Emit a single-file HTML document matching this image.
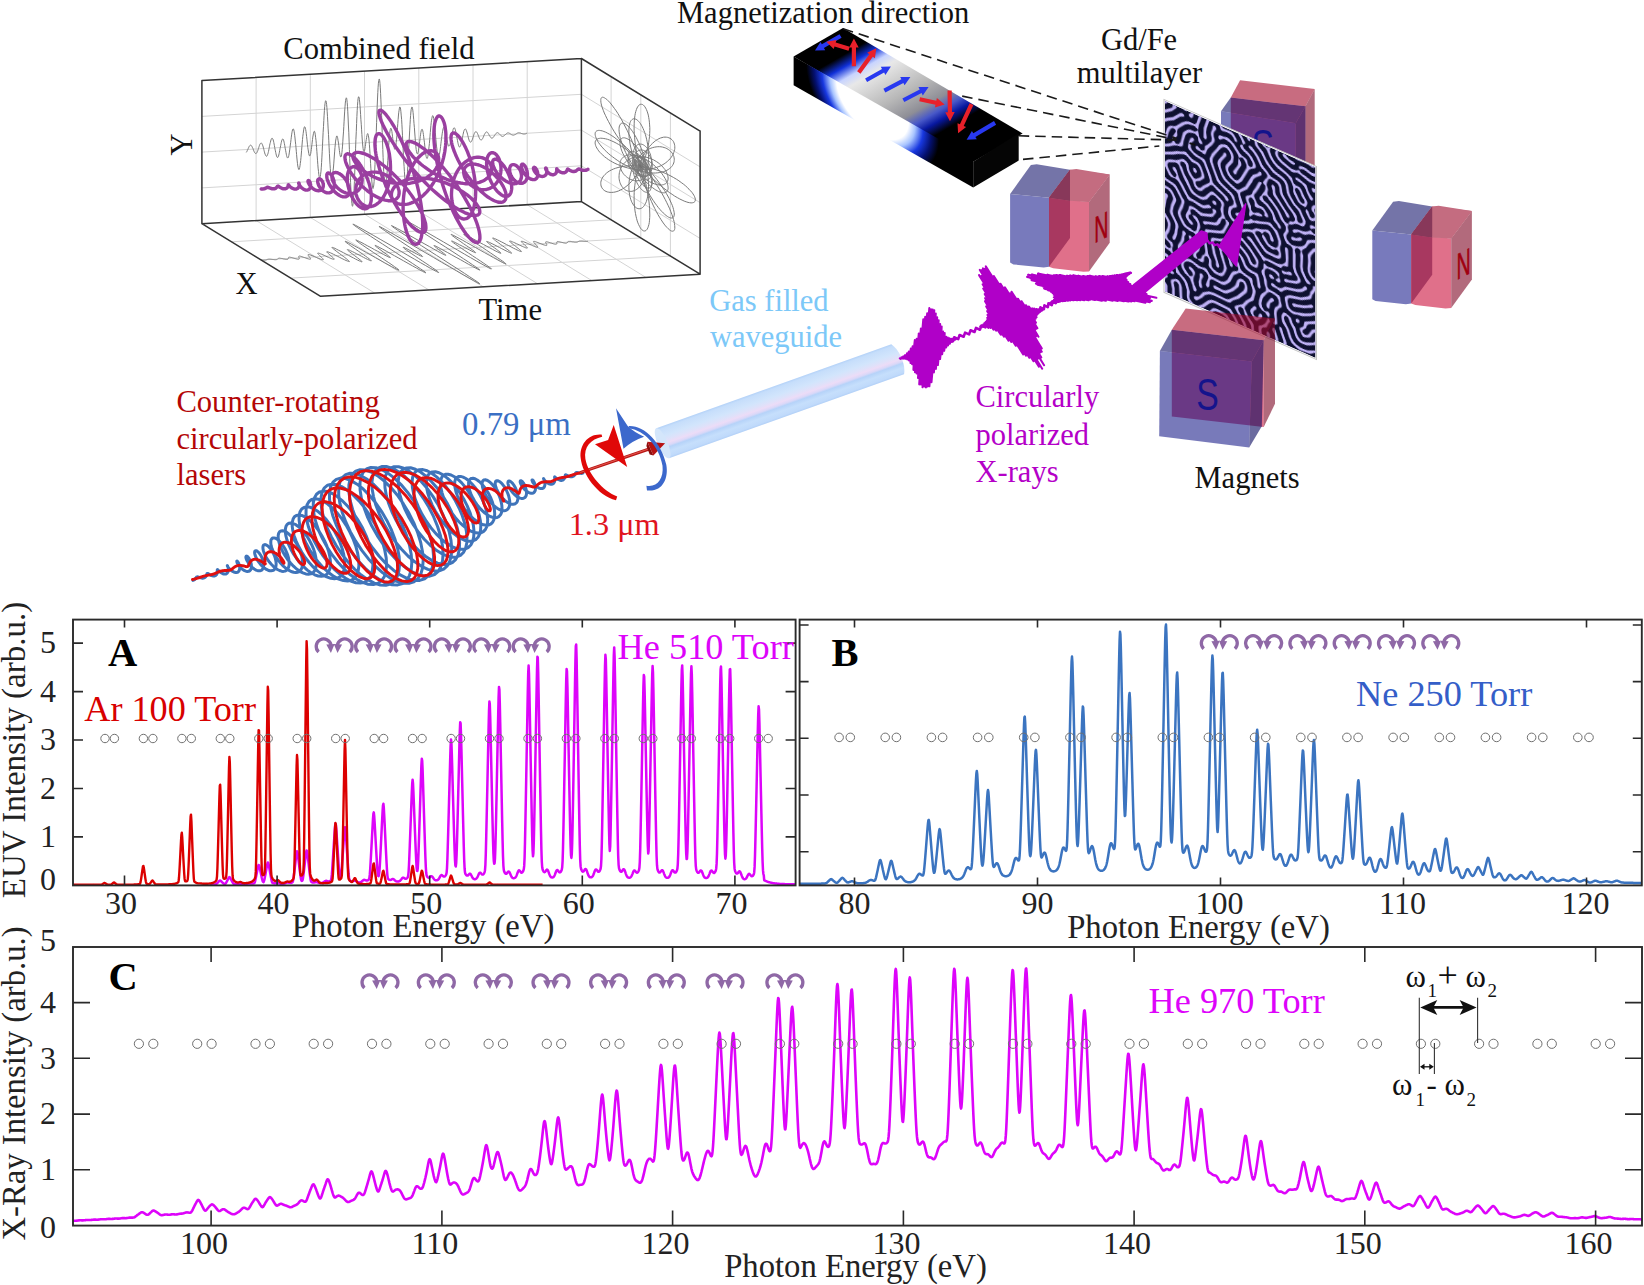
<!DOCTYPE html>
<html><head><meta charset="utf-8"><title>Figure</title>
<style>html,body{margin:0;padding:0;background:#fff;font-family:"Liberation Serif",serif}svg{display:block}</style>
</head><body>
<svg width="1644" height="1285" viewBox="0 0 1644 1285">
<defs><g id="ag"><path d="M-15.61 5.49A7.5 7.5 0 1 1 -3.11 -1.30M15.61 5.49A7.5 7.5 0 1 0 3.11 -1.30" fill="none" stroke="#8f68a6" stroke-width="3.3"/><path d="M-7.90 -2.0L0.40 -2.4L-3.30 6.6ZM7.90 -2.0L-0.40 -2.4L3.30 6.6Z" fill="#8f68a6"/></g>
<linearGradient id="slabTop" x1="0" y1="0" x2="1" y2="0">
 <stop offset="0" stop-color="#000"/><stop offset="0.13" stop-color="#000"/>
 <stop offset="0.19" stop-color="#1030d8"/><stop offset="0.25" stop-color="#c8d4ff"/>
 <stop offset="0.30" stop-color="#e8e8e8"/><stop offset="0.48" stop-color="#b8b8b8"/>
 <stop offset="0.60" stop-color="#8e8e96"/><stop offset="0.66" stop-color="#4858c8"/>
 <stop offset="0.71" stop-color="#0818a0"/><stop offset="0.77" stop-color="#000"/><stop offset="1" stop-color="#000"/>
</linearGradient>
<radialGradient id="slabFront" cx="0.44" cy="0" r="1" gradientTransform="translate(0.44 0) scale(0.37 2.1) translate(-0.44 0)">
 <stop offset="0" stop-color="#fff"/><stop offset="0.54" stop-color="#fff"/>
 <stop offset="0.64" stop-color="#a8c4ff"/><stop offset="0.76" stop-color="#1838e0"/>
 <stop offset="0.88" stop-color="#041070"/><stop offset="1" stop-color="#000"/>
</radialGradient>
<linearGradient id="wg" x1="0" y1="0" x2="0" y2="1">
 <stop offset="0" stop-color="#b4d2f8"/><stop offset="0.07" stop-color="#c6defb"/>
 <stop offset="0.30" stop-color="#d2e5fc"/><stop offset="0.42" stop-color="#dde2fa"/>
 <stop offset="0.53" stop-color="#ecdcf7"/><stop offset="0.61" stop-color="#dad8f8"/>
 <stop offset="0.67" stop-color="#b6d3f9"/><stop offset="0.80" stop-color="#c6dffc"/>
 <stop offset="0.94" stop-color="#c0dafb"/><stop offset="1" stop-color="#b2d0f7"/>
</linearGradient>
<filter id="soft" x="-5%" y="-5%" width="110%" height="110%"><feGaussianBlur stdDeviation="0.55"/></filter>
<filter id="soft2" x="-5%" y="-5%" width="110%" height="110%"><feGaussianBlur stdDeviation="0.8"/></filter>
</defs>
<rect width="1644" height="1285" fill="#fff"/>
<path d="M256.1 220.5L256.1 77.4M256.1 220.5L374.8 293.1M310.3 217.4L310.3 74.3M310.3 217.4L429.0 290.0M364.5 214.2L364.5 71.1M364.5 214.2L483.2 286.8M418.8 211.1L418.8 68.0M418.8 211.1L537.5 283.7M473.0 207.9L473.0 64.8M473.0 207.9L591.7 280.5M527.2 204.8L527.2 61.7M527.2 204.8L645.9 277.4M201.9 187.9L581.4 165.8M581.4 165.8L700.1 238.4M231.6 241.8L611.1 219.8M611.1 219.8L611.1 76.7M201.9 152.1L581.4 130.1M581.4 130.1L700.1 202.6M261.2 260.0L640.8 237.9M640.8 237.9L640.8 94.8M201.9 116.4L581.4 94.3M581.4 94.3L700.1 166.9M290.9 278.1L670.4 256.1M670.4 256.1L670.4 113.0" stroke="#d4d4d4" stroke-width="1" fill="none"/>
<path d="M246.3 152.4L246.6 152.0L246.9 151.4L247.2 150.7L247.6 150.1L247.9 149.3L248.2 148.6L248.5 147.9L248.8 147.2L249.1 146.6L249.4 146.1L249.7 145.7L250.1 145.4L250.4 145.2L250.7 145.2L251.0 145.3L251.3 145.5L251.6 145.9L251.9 146.4L252.2 147.0L252.5 147.7L252.9 148.4L253.2 149.2L253.5 150.0L253.8 150.8L254.1 151.5L254.4 152.1L254.7 152.7L255.0 153.1L255.4 153.4L255.7 153.6L256.0 153.6L256.3 153.4L256.6 153.1L256.9 152.6L257.2 151.9L257.5 151.2L257.9 150.3L258.2 149.4L258.5 148.4L258.8 147.4L259.1 146.5L259.4 145.6L259.7 144.8L260.0 144.1L260.4 143.5L260.7 143.2L261.0 143.0L261.3 143.0L261.6 143.2L261.9 143.6L262.2 144.2L262.5 145.0L262.9 145.9L263.2 147.0L263.5 148.2L263.8 149.4L264.1 150.6L264.4 151.8L264.7 152.9L265.0 154.0L265.4 154.8L265.7 155.5L266.0 156.0L266.3 156.3L266.6 156.3L266.9 156.1L267.2 155.6L267.5 154.8L267.9 153.9L268.2 152.7L268.5 151.4L268.8 149.9L269.1 148.4L269.4 146.8L269.7 145.2L270.0 143.7L270.4 142.3L270.7 141.0L271.0 139.9L271.3 139.1L271.6 138.5L271.9 138.2L272.2 138.2L272.5 138.5L272.9 139.1L273.2 140.0L273.5 141.1L273.8 142.5L274.1 144.0L274.4 145.6L274.7 147.3L275.0 149.1L275.4 150.8L275.7 152.4L276.0 153.8L276.3 155.1L276.6 156.1L276.9 156.9L277.2 157.3L277.5 157.5L277.9 157.3L278.2 156.8L278.5 156.0L278.8 155.0L279.1 153.7L279.4 152.2L279.7 150.6L280.0 148.8L280.4 147.1L280.7 145.4L281.0 143.8L281.3 142.4L281.6 141.1L281.9 140.1L282.2 139.4L282.5 139.1L282.9 139.0L283.2 139.3L283.5 140.0L283.8 140.9L284.1 142.2L284.4 143.7L284.7 145.3L285.0 147.1L285.3 148.9L285.7 150.8L286.0 152.6L286.3 154.2L286.6 155.6L286.9 156.7L287.2 157.5L287.5 157.9L287.8 158.0L288.2 157.6L288.5 156.8L288.8 155.6L289.1 154.0L289.4 152.1L289.7 149.9L290.0 147.5L290.3 145.0L290.7 142.3L291.0 139.7L291.3 137.2L291.6 134.9L291.9 132.9L292.2 131.2L292.5 130.0L292.8 129.2L293.2 128.9L293.5 129.1L293.8 129.9L294.1 131.2L294.4 133.1L294.7 135.3L295.0 138.0L295.3 141.1L295.7 144.4L296.0 147.8L296.3 151.3L296.6 154.7L296.9 158.0L297.2 161.0L297.5 163.7L297.8 166.0L298.2 167.8L298.5 169.0L298.8 169.5L299.1 169.5L299.4 168.9L299.7 167.6L300.0 165.8L300.3 163.4L300.7 160.6L301.0 157.4L301.3 154.0L301.6 150.3L301.9 146.7L302.2 143.0L302.5 139.5L302.8 136.3L303.2 133.5L303.5 131.0L303.8 129.1L304.1 127.7L304.4 126.9L304.7 126.7L305.0 127.1L305.3 128.1L305.7 129.6L306.0 131.5L306.3 133.8L306.6 136.4L306.9 139.1L307.2 142.0L307.5 144.8L307.8 147.5L308.2 149.9L308.5 152.0L308.8 153.7L309.1 155.0L309.4 155.8L309.7 156.0L310.0 155.6L310.3 154.8L310.7 153.5L311.0 151.7L311.3 149.6L311.6 147.2L311.9 144.7L312.2 142.1L312.5 139.5L312.8 137.1L313.2 135.0L313.5 133.3L313.8 132.1L314.1 131.4L314.4 131.2L314.7 131.8L315.0 133.0L315.3 134.8L315.6 137.3L316.0 140.3L316.3 143.7L316.6 147.6L316.9 151.7L317.2 155.9L317.5 160.2L317.8 164.3L318.1 168.1L318.5 171.4L318.8 174.2L319.1 176.3L319.4 177.7L319.7 178.2L320.0 177.8L320.3 176.5L320.6 174.3L321.0 171.1L321.3 167.2L321.6 162.5L321.9 157.2L322.2 151.4L322.5 145.2L322.8 138.9L323.1 132.6L323.5 126.4L323.8 120.6L324.1 115.2L324.4 110.6L324.7 106.7L325.0 103.7L325.3 101.7L325.6 100.8L326.0 100.9L326.3 102.2L326.6 104.4L326.9 107.6L327.2 111.8L327.5 116.7L327.8 122.2L328.1 128.1L328.5 134.4L328.8 140.8L329.1 147.2L329.4 153.3L329.7 159.0L330.0 164.2L330.3 168.7L330.6 172.4L331.0 175.3L331.3 177.2L331.6 178.2L331.9 178.3L332.2 177.5L332.5 175.8L332.8 173.5L333.1 170.5L333.5 167.0L333.8 163.1L334.1 159.1L334.4 155.0L334.7 151.1L335.0 147.3L335.3 144.0L335.6 141.1L336.0 138.8L336.3 137.2L336.6 136.2L336.9 135.9L337.2 136.3L337.5 137.3L337.8 138.8L338.1 140.8L338.5 143.1L338.8 145.6L339.1 148.1L339.4 150.6L339.7 152.8L340.0 154.7L340.3 156.1L340.6 156.9L341.0 157.0L341.3 156.3L341.6 154.9L341.9 152.7L342.2 149.7L342.5 146.1L342.8 141.8L343.1 137.0L343.5 131.9L343.8 126.6L344.1 121.2L344.4 116.0L344.7 111.1L345.0 106.8L345.3 103.1L345.6 100.3L346.0 98.5L346.3 97.8L346.6 98.2L346.9 99.8L347.2 102.6L347.5 106.7L347.8 111.8L348.1 118.0L348.4 125.0L348.8 132.8L349.1 141.1L349.4 149.7L349.7 158.4L350.0 167.0L350.3 175.2L350.6 182.8L350.9 189.6L351.3 195.5L351.6 200.2L351.9 203.6L352.2 205.7L352.5 206.3L352.8 205.5L353.1 203.2L353.4 199.6L353.8 194.7L354.1 188.7L354.4 181.7L354.7 174.0L355.0 165.7L355.3 157.0L355.6 148.2L355.9 139.6L356.3 131.3L356.6 123.5L356.9 116.5L357.2 110.4L357.5 105.3L357.8 101.4L358.1 98.6L358.4 97.0L358.8 96.7L359.1 97.4L359.4 99.3L359.7 102.1L360.0 105.7L360.3 109.9L360.6 114.6L360.9 119.7L361.3 124.8L361.6 129.8L361.9 134.6L362.2 139.0L362.5 142.9L362.8 146.1L363.1 148.6L363.4 150.4L363.8 151.4L364.1 151.6L364.4 151.2L364.7 150.1L365.0 148.5L365.3 146.5L365.6 144.2L365.9 141.8L366.3 139.5L366.6 137.4L366.9 135.6L367.2 134.4L367.5 133.7L367.8 133.6L368.1 134.3L368.4 135.8L368.8 138.1L369.1 141.1L369.4 144.7L369.7 148.9L370.0 153.6L370.3 158.6L370.6 163.7L370.9 168.8L371.3 173.6L371.6 178.0L371.9 181.9L372.2 185.0L372.5 187.2L372.8 188.4L373.1 188.5L373.4 187.3L373.8 185.0L374.1 181.5L374.4 176.8L374.7 171.0L375.0 164.3L375.3 156.8L375.6 148.7L375.9 140.2L376.3 131.4L376.6 122.7L376.9 114.2L377.2 106.2L377.5 99.0L377.8 92.6L378.1 87.3L378.4 83.2L378.8 80.4L379.1 79.1L379.4 79.2L379.7 80.7L380.0 83.6L380.3 87.9L380.6 93.3L380.9 99.8L381.2 107.2L381.6 115.2L381.9 123.7L382.2 132.3L382.5 141.0L382.8 149.4L383.1 157.4L383.4 164.8L383.7 171.3L384.1 176.8L384.4 181.2L384.7 184.5L385.0 186.6L385.3 187.4L385.6 187.1L385.9 185.7L386.2 183.2L386.6 179.8L386.9 175.7L387.2 171.0L387.5 165.9L387.8 160.6L388.1 155.2L388.4 150.0L388.7 145.1L389.1 140.6L389.4 136.7L389.7 133.5L390.0 131.0L390.3 129.3L390.6 128.4L390.9 128.2L391.2 128.7L391.6 129.9L391.9 131.6L392.2 133.8L392.5 136.2L392.8 138.7L393.1 141.2L393.4 143.6L393.7 145.7L394.1 147.4L394.4 148.6L394.7 149.2L395.0 149.2L395.3 148.5L395.6 147.0L395.9 145.0L396.2 142.3L396.6 139.1L396.9 135.5L397.2 131.6L397.5 127.6L397.8 123.5L398.1 119.6L398.4 116.0L398.7 112.8L399.1 110.2L399.4 108.2L399.7 107.1L400.0 106.9L400.3 107.5L400.6 109.1L400.9 111.7L401.2 115.1L401.6 119.3L401.9 124.2L402.2 129.8L402.5 135.8L402.8 142.1L403.1 148.5L403.4 154.8L403.7 160.9L404.1 166.6L404.4 171.7L404.7 176.2L405.0 179.7L405.3 182.3L405.6 184.0L405.9 184.5L406.2 183.9L406.6 182.3L406.9 179.7L407.2 176.2L407.5 171.8L407.8 166.7L408.1 161.0L408.4 154.9L408.7 148.6L409.1 142.3L409.4 136.0L409.7 130.1L410.0 124.6L410.3 119.6L410.6 115.4L410.9 112.0L411.2 109.4L411.6 107.8L411.9 107.0L412.2 107.2L412.5 108.3L412.8 110.1L413.1 112.7L413.4 115.9L413.7 119.5L414.0 123.5L414.4 127.7L414.7 132.0L415.0 136.1L415.3 140.1L415.6 143.7L415.9 146.9L416.2 149.6L416.5 151.6L416.9 153.1L417.2 153.8L417.5 154.0L417.8 153.5L418.1 152.4L418.4 150.9L418.7 148.9L419.0 146.6L419.4 144.1L419.7 141.5L420.0 138.9L420.3 136.4L420.6 134.2L420.9 132.3L421.2 130.8L421.5 129.8L421.9 129.3L422.2 129.3L422.5 129.9L422.8 130.9L423.1 132.5L423.4 134.5L423.7 136.8L424.0 139.4L424.4 142.2L424.7 145.0L425.0 147.9L425.3 150.5L425.6 152.9L425.9 155.0L426.2 156.6L426.5 157.8L426.9 158.4L427.2 158.4L427.5 157.8L427.8 156.7L428.1 154.9L428.4 152.7L428.7 150.0L429.0 146.9L429.4 143.5L429.7 139.9L430.0 136.2L430.3 132.5L430.6 129.0L430.9 125.7L431.2 122.8L431.5 120.2L431.9 118.2L432.2 116.7L432.5 115.8L432.8 115.6L433.1 116.0L433.4 116.9L433.7 118.5L434.0 120.6L434.4 123.1L434.7 126.1L435.0 129.3L435.3 132.7L435.6 136.1L435.9 139.6L436.2 143.0L436.5 146.1L436.9 148.9L437.2 151.4L437.5 153.4L437.8 154.9L438.1 155.9L438.4 156.3L438.7 156.2L439.0 155.6L439.4 154.5L439.7 153.0L440.0 151.0L440.3 148.8L440.6 146.4L440.9 143.8L441.2 141.2L441.5 138.6L441.9 136.1L442.2 133.8L442.5 131.8L442.8 130.1L443.1 128.8L443.4 127.8L443.7 127.3L444.0 127.2L444.4 127.5L444.7 128.2L445.0 129.2L445.3 130.5L445.6 132.0L445.9 133.8L446.2 135.6L446.5 137.4L446.8 139.3L447.2 141.0L447.5 142.5L447.8 143.8L448.1 144.9L448.4 145.7L448.7 146.1L449.0 146.2L449.3 145.9L449.7 145.4L450.0 144.5L450.3 143.3L450.6 142.0L450.9 140.4L451.2 138.7L451.5 137.0L451.8 135.3L452.2 133.6L452.5 132.1L452.8 130.7L453.1 129.5L453.4 128.6L453.7 128.0L454.0 127.8L454.3 127.8L454.7 128.1L455.0 128.8L455.3 129.7L455.6 130.9L455.9 132.3L456.2 133.8L456.5 135.5L456.8 137.2L457.2 139.0L457.5 140.6L457.8 142.2L458.1 143.6L458.4 144.8L458.7 145.8L459.0 146.5L459.3 146.9L459.7 147.0L460.0 146.8L460.3 146.3L460.6 145.6L460.9 144.6L461.2 143.4L461.5 142.1L461.8 140.6L462.2 139.0L462.5 137.4L462.8 135.8L463.1 134.3L463.4 133.0L463.7 131.7L464.0 130.7L464.3 129.9L464.7 129.3L465.0 129.0L465.3 128.9L465.6 129.1L465.9 129.5L466.2 130.1L466.5 130.9L466.8 131.9L467.2 133.0L467.5 134.2L467.8 135.4L468.1 136.6L468.4 137.8L468.7 138.9L469.0 139.9L469.3 140.7L469.7 141.4L470.0 141.9L470.3 142.2L470.6 142.2L470.9 142.1L471.2 141.8L471.5 141.3L471.8 140.7L472.2 139.9L472.5 139.1L472.8 138.1L473.1 137.2L473.4 136.2L473.7 135.2L474.0 134.3L474.3 133.5L474.7 132.9L475.0 132.3L475.3 131.9L475.6 131.7L475.9 131.6L476.2 131.7L476.5 131.9L476.8 132.3L477.2 132.9L477.5 133.5L477.8 134.2L478.1 134.9L478.4 135.7L478.7 136.5L479.0 137.3L479.3 138.0L479.6 138.6L480.0 139.2L480.3 139.6L480.6 139.9L480.9 140.0L481.2 140.0L481.5 139.9L481.8 139.7L482.1 139.3L482.5 138.8L482.8 138.2L483.1 137.6L483.4 136.9L483.7 136.1L484.0 135.4L484.3 134.7L484.6 134.0L485.0 133.5L485.3 132.9L485.6 132.5L485.9 132.2L486.2 132.0L486.5 131.9L486.8 132.0L487.1 132.1L487.5 132.4L487.8 132.7L488.1 133.2L488.4 133.7L488.7 134.2L489.0 134.8L489.3 135.3L489.6 135.9L490.0 136.4L490.3 136.9L490.6 137.3L490.9 137.7L491.2 137.9L491.5 138.1L491.8 138.2L492.1 138.2L492.5 138.0L492.8 137.8L493.1 137.5L493.4 137.2L493.7 136.8L494.0 136.3L494.3 135.8L494.6 135.3L495.0 134.9L495.3 134.4L495.6 134.0L495.9 133.6L496.2 133.3L496.5 133.0L496.8 132.8L497.1 132.7L497.5 132.7L497.8 132.7L498.1 132.9L498.4 133.0L498.7 133.3L499.0 133.6L499.3 133.9L499.6 134.2L500.0 134.6L500.3 134.9L500.6 135.3L500.9 135.6L501.2 135.8L501.5 136.1L501.8 136.2L502.1 136.4L502.5 136.4L502.8 136.4L503.1 136.3L503.4 136.2L503.7 136.0L504.0 135.8L504.3 135.6L504.6 135.3L505.0 135.0L505.3 134.7L505.6 134.3L505.9 134.0L506.2 133.8L506.5 133.5L506.8 133.3L507.1 133.1L507.5 133.0L507.8 132.9L508.1 132.9L508.4 132.9L508.7 133.0L509.0 133.1L509.3 133.2L509.6 133.4L510.0 133.6L510.3 133.8L510.6 134.0L510.9 134.2L511.2 134.4L511.5 134.6L511.8 134.8L512.1 134.9L512.4 135.0L512.8 135.1L513.1 135.2L513.4 135.2L513.7 135.1L514.0 135.1L514.3 134.9L514.6 134.8L514.9 134.6L515.3 134.5L515.6 134.3L515.9 134.1L516.2 133.9L516.5 133.7L516.8 133.5L517.1 133.3L517.4 133.1L517.8 133.0L518.1 132.9L518.4 132.8L518.7 132.8L519.0 132.8L519.3 132.8L519.6 132.9L519.9 132.9L520.3 133.0L520.6 133.1L520.9 133.2L521.2 133.4L521.5 133.5L521.8 133.6L522.1 133.7L522.4 133.8L522.8 133.9L523.1 134.0L523.4 134.0L523.7 134.1L524.0 134.1L524.3 134.1L524.6 134.0L524.9 133.9L525.3 133.9L525.6 133.8L525.9 133.7L526.2 133.5L526.5 133.4L526.8 133.3L527.1 133.2" stroke="#7a7a7a" stroke-width="1" fill="none"/>
<path d="M261.2 260.0L261.6 260.0L262.0 260.0L262.4 260.1L262.8 260.1L263.2 260.1L263.6 260.1L264.0 260.1L264.4 260.1L264.7 260.1L265.0 260.1L265.3 260.1L265.6 260.0L265.9 260.0L266.1 259.9L266.3 259.8L266.6 259.8L266.8 259.7L267.0 259.6L267.2 259.5L267.5 259.4L267.7 259.3L267.9 259.3L268.2 259.2L268.5 259.2L268.8 259.1L269.1 259.1L269.4 259.1L269.8 259.1L270.2 259.1L270.6 259.2L271.1 259.2L271.5 259.3L272.0 259.3L272.4 259.4L272.9 259.5L273.4 259.5L273.8 259.6L274.3 259.6L274.7 259.7L275.1 259.7L275.5 259.7L275.8 259.7L276.1 259.7L276.4 259.6L276.6 259.6L276.9 259.5L277.0 259.4L277.2 259.3L277.4 259.1L277.5 259.0L277.7 258.9L277.8 258.8L278.0 258.6L278.2 258.5L278.4 258.4L278.6 258.3L278.8 258.3L279.1 258.2L279.5 258.2L279.8 258.2L280.3 258.3L280.7 258.3L281.2 258.4L281.7 258.5L282.2 258.6L282.8 258.7L283.3 258.9L283.9 259.0L284.5 259.1L285.0 259.2L285.5 259.3L286.0 259.4L286.4 259.4L286.8 259.4L287.1 259.4L287.4 259.4L287.7 259.3L287.8 259.2L288.0 259.1L288.1 258.9L288.2 258.7L288.2 258.6L288.3 258.4L288.3 258.2L288.3 258.0L288.4 257.8L288.5 257.6L288.6 257.5L288.7 257.3L289.0 257.3L289.2 257.2L289.6 257.2L290.0 257.2L290.4 257.3L291.0 257.4L291.5 257.5L292.2 257.7L292.8 257.9L293.5 258.1L294.2 258.3L294.9 258.5L295.6 258.7L296.2 258.8L296.8 259.0L297.4 259.1L297.8 259.2L298.3 259.2L298.6 259.2L298.9 259.2L299.1 259.1L299.2 258.9L299.3 258.7L299.3 258.5L299.2 258.3L299.1 258.0L299.0 257.7L298.9 257.4L298.8 257.1L298.7 256.9L298.7 256.6L298.7 256.4L298.8 256.3L299.0 256.2L299.3 256.1L299.7 256.1L300.1 256.2L300.7 256.3L301.3 256.5L302.0 256.7L302.8 257.0L303.6 257.3L304.5 257.6L305.4 257.9L306.2 258.2L307.0 258.5L307.8 258.7L308.5 258.9L309.1 259.1L309.7 259.2L310.1 259.2L310.4 259.2L310.6 259.1L310.6 258.9L310.6 258.7L310.4 258.4L310.2 258.0L309.9 257.6L309.6 257.2L309.3 256.8L308.9 256.3L308.6 255.9L308.3 255.5L308.1 255.2L308.0 254.9L308.0 254.7L308.2 254.6L308.5 254.5L308.9 254.6L309.5 254.7L310.2 254.9L311.0 255.2L312.0 255.6L313.0 256.0L314.2 256.5L315.3 257.0L316.5 257.5L317.7 258.0L318.8 258.4L319.9 258.9L320.8 259.2L321.6 259.5L322.3 259.7L322.8 259.8L323.1 259.8L323.3 259.7L323.3 259.4L323.1 259.1L322.8 258.7L322.4 258.2L321.8 257.6L321.2 257.1L320.5 256.4L319.9 255.8L319.3 255.2L318.7 254.6L318.2 254.1L317.9 253.7L317.7 253.4L317.7 253.2L317.9 253.1L318.3 253.1L318.9 253.2L319.7 253.5L320.6 253.9L321.7 254.3L322.9 254.8L324.2 255.4L325.6 256.0L327.0 256.7L328.4 257.3L329.7 257.9L330.8 258.4L331.9 258.8L332.8 259.1L333.5 259.3L334.0 259.4L334.2 259.3L334.3 259.1L334.1 258.8L333.7 258.4L333.2 257.8L332.5 257.2L331.7 256.5L330.8 255.7L329.9 254.9L329.1 254.2L328.3 253.5L327.6 252.9L327.1 252.4L326.8 252.0L326.8 251.7L327.0 251.6L327.4 251.7L328.1 251.9L329.1 252.3L330.4 252.8L331.9 253.5L333.5 254.3L335.3 255.2L337.2 256.1L339.2 257.1L341.1 258.1L342.9 259.0L344.6 259.8L346.1 260.5L347.4 261.0L348.4 261.4L349.1 261.6L349.4 261.6L349.4 261.4L349.1 261.0L348.4 260.4L347.5 259.6L346.2 258.6L344.8 257.5L343.2 256.3L341.4 255.0L339.7 253.7L337.9 252.4L336.3 251.2L334.9 250.1L333.7 249.1L332.7 248.4L332.2 247.8L331.9 247.4L332.1 247.3L332.7 247.5L333.7 247.8L335.0 248.4L336.7 249.3L338.7 250.3L340.9 251.4L343.4 252.7L345.9 254.0L348.5 255.3L351.0 256.7L353.4 257.9L355.6 259.1L357.6 260.1L359.3 260.9L360.6 261.4L361.5 261.8L362.0 261.9L362.2 261.8L361.9 261.4L361.2 260.8L360.3 260.0L359.0 259.0L357.6 257.9L356.0 256.7L354.4 255.5L352.7 254.2L351.2 253.1L349.8 252.0L348.7 251.1L347.9 250.4L347.4 249.9L347.3 249.6L347.6 249.6L348.3 249.8L349.4 250.2L350.8 250.9L352.6 251.7L354.6 252.7L356.8 253.9L359.1 255.0L361.4 256.2L363.6 257.4L365.7 258.5L367.6 259.4L369.2 260.1L370.3 260.6L371.1 260.9L371.4 260.8L371.1 260.5L370.4 259.8L369.3 258.9L367.7 257.7L365.7 256.3L363.4 254.6L360.9 252.9L358.3 251.1L355.6 249.2L353.0 247.4L350.6 245.7L348.6 244.2L346.9 243.0L345.7 242.0L345.0 241.4L345.0 241.2L345.6 241.4L346.9 241.9L348.9 242.9L351.4 244.2L354.5 245.9L358.2 247.9L362.2 250.2L366.5 252.6L371.0 255.1L375.5 257.7L380.0 260.2L384.2 262.6L388.1 264.7L391.6 266.6L394.5 268.2L396.7 269.3L398.3 270.0L399.0 270.3L399.1 270.1L398.3 269.4L396.8 268.3L394.7 266.8L392.0 264.9L388.8 262.7L385.1 260.3L381.3 257.7L377.3 255.0L373.3 252.4L369.5 249.8L366.0 247.5L362.8 245.3L360.2 243.5L358.1 242.0L356.7 240.9L355.9 240.2L355.8 239.9L356.5 240.1L357.7 240.7L359.6 241.6L362.0 242.8L364.7 244.3L367.8 246.0L371.1 247.7L374.4 249.6L377.7 251.3L380.8 253.0L383.5 254.5L386.0 255.7L387.9 256.7L389.3 257.4L390.2 257.7L390.5 257.6L390.3 257.3L389.5 256.6L388.3 255.7L386.8 254.5L385.0 253.2L383.0 251.8L381.0 250.3L379.2 249.0L377.5 247.7L376.2 246.7L375.3 245.9L374.9 245.5L375.2 245.4L376.1 245.8L377.7 246.5L379.9 247.7L382.8 249.2L386.2 251.1L390.1 253.3L394.4 255.7L398.9 258.2L403.5 260.8L408.1 263.4L412.4 265.8L416.4 268.0L419.8 269.9L422.6 271.4L424.6 272.4L425.7 272.8L425.9 272.7L425.1 272.0L423.3 270.7L420.5 268.8L416.8 266.3L412.3 263.3L407.1 259.9L401.3 256.2L395.2 252.2L388.8 248.1L382.5 244.0L376.3 240.0L370.5 236.2L365.3 232.8L360.8 229.9L357.3 227.5L354.7 225.7L353.2 224.5L352.8 224.1L353.7 224.4L355.7 225.4L358.8 227.1L362.9 229.4L368.0 232.3L373.8 235.6L380.2 239.3L387.0 243.2L394.0 247.3L401.1 251.4L407.9 255.4L414.5 259.2L420.4 262.6L425.7 265.6L430.2 268.2L433.8 270.1L436.4 271.5L438.1 272.3L438.7 272.5L438.4 272.1L437.3 271.1L435.3 269.7L432.7 267.9L429.6 265.8L426.1 263.4L422.4 261.0L418.7 258.5L415.2 256.1L411.9 253.9L409.0 251.9L406.6 250.2L404.8 248.9L403.6 247.9L403.1 247.4L403.3 247.3L404.0 247.5L405.4 248.1L407.2 249.0L409.3 250.1L411.6 251.3L414.1 252.6L416.4 253.8L418.6 254.9L420.4 255.8L421.7 256.4L422.5 256.6L422.6 256.5L422.1 255.9L420.8 254.9L418.8 253.5L416.1 251.6L412.9 249.4L409.1 246.9L405.0 244.2L400.7 241.3L396.3 238.5L392.1 235.7L388.2 233.1L384.8 230.7L382.0 228.8L380.1 227.4L379.1 226.6L379.1 226.4L380.2 226.8L382.5 228.0L385.9 229.9L390.3 232.4L395.8 235.5L402.2 239.2L409.3 243.3L417.0 247.8L425.1 252.5L433.3 257.3L441.4 262.1L449.3 266.7L456.6 270.9L463.2 274.8L468.9 278.0L473.5 280.6L476.9 282.5L479.1 283.6L479.8 283.8L479.2 283.2L477.3 281.8L474.1 279.7L469.7 276.8L464.4 273.3L458.1 269.2L451.2 264.8L443.9 260.1L436.4 255.3L428.9 250.5L421.6 245.8L414.7 241.4L408.5 237.3L403.0 233.8L398.5 230.8L395.1 228.5L392.8 226.9L391.6 225.9L391.5 225.6L392.5 226.0L394.5 227.1L397.4 228.6L401.1 230.6L405.4 233.0L410.0 235.7L415.0 238.5L420.0 241.3L424.9 244.1L429.6 246.7L433.8 249.1L437.5 251.2L440.6 252.8L443.0 254.1L444.7 254.9L445.7 255.3L445.9 255.2L445.6 254.8L444.7 254.1L443.4 253.0L441.9 251.9L440.1 250.6L438.3 249.3L436.7 248.0L435.3 247.0L434.4 246.2L433.9 245.7L434.0 245.5L434.7 245.7L436.1 246.3L438.1 247.4L440.8 248.8L444.0 250.6L447.7 252.6L451.8 254.9L456.1 257.3L460.5 259.7L464.7 262.1L468.7 264.4L472.4 266.3L475.4 268.0L477.7 269.2L479.3 269.9L479.9 270.1L479.6 269.7L478.2 268.6L475.9 267.0L472.6 264.8L468.5 262.0L463.6 258.8L458.1 255.2L452.1 251.3L445.8 247.2L439.3 243.1L433.0 239.0L427.0 235.1L421.4 231.5L416.5 228.3L412.4 225.5L409.3 223.4L407.2 221.9L406.3 221.1L406.5 221.0L407.9 221.7L410.5 223.0L414.1 225.0L418.6 227.6L424.0 230.7L430.1 234.2L436.7 238.0L443.6 242.0L450.6 246.1L457.6 250.1L464.3 254.0L470.5 257.6L476.1 260.8L481.0 263.6L485.1 265.8L488.2 267.5L490.3 268.6L491.4 269.0L491.5 268.9L490.8 268.2L489.1 267.0L486.8 265.3L483.8 263.3L480.3 260.9L476.5 258.4L472.6 255.8L468.6 253.1L464.8 250.6L461.3 248.2L458.2 246.1L455.6 244.3L453.6 242.9L452.3 241.8L451.6 241.2L451.6 241.0L452.2 241.1L453.4 241.6L455.1 242.5L457.2 243.5L459.6 244.8L462.2 246.1L464.9 247.5L467.4 248.9L469.8 250.1L471.9 251.2L473.6 252.0L474.8 252.5L475.5 252.7L475.7 252.6L475.2 252.1L474.3 251.3L472.8 250.2L470.9 248.8L468.7 247.2L466.2 245.5L463.5 243.7L460.9 241.8L458.3 240.0L456.0 238.4L454.0 236.9L452.4 235.8L451.4 234.9L451.0 234.5L451.3 234.4L452.2 234.8L453.9 235.6L456.2 236.8L459.2 238.4L462.7 240.3L466.6 242.5L470.9 244.9L475.5 247.5L480.1 250.1L484.7 252.7L489.2 255.2L493.3 257.5L497.0 259.5L500.2 261.3L502.8 262.6L504.6 263.5L505.8 264.0L506.1 264.0L505.7 263.6L504.6 262.6L502.8 261.3L500.3 259.6L497.4 257.6L494.0 255.3L490.3 252.8L486.4 250.2L482.6 247.6L478.8 245.1L475.2 242.7L472.0 240.5L469.1 238.6L466.9 236.9L465.2 235.7L464.1 234.8L463.7 234.4L464.0 234.3L464.9 234.6L466.4 235.3L468.4 236.4L470.9 237.7L473.7 239.2L476.9 240.9L480.1 242.7L483.5 244.5L486.7 246.2L489.8 247.9L492.7 249.4L495.2 250.8L497.3 251.8L498.9 252.6L500.1 253.1L500.8 253.3L501.0 253.2L500.8 252.9L500.1 252.2L499.1 251.4L497.8 250.4L496.3 249.2L494.6 248.0L493.0 246.8L491.3 245.6L489.9 244.4L488.6 243.4L487.6 242.6L486.9 242.0L486.6 241.6L486.7 241.4L487.2 241.5L488.1 241.9L489.4 242.4L491.0 243.2L492.9 244.1L494.9 245.1L497.2 246.3L499.5 247.5L501.8 248.7L504.0 249.8L506.0 250.8L507.8 251.7L509.3 252.4L510.5 252.9L511.2 253.2L511.6 253.2L511.6 252.9L511.2 252.5L510.4 251.8L509.3 250.9L507.9 249.8L506.2 248.6L504.4 247.2L502.5 245.8L500.6 244.5L498.8 243.1L497.1 241.8L495.5 240.7L494.3 239.7L493.4 238.9L492.8 238.4L492.6 238.0L492.9 238.0L493.5 238.1L494.5 238.5L495.8 239.1L497.5 239.9L499.5 240.9L501.7 242.0L504.0 243.2L506.4 244.5L508.8 245.7L511.1 246.9L513.3 248.1L515.4 249.1L517.2 250.0L518.7 250.7L519.9 251.2L520.8 251.5L521.3 251.6L521.5 251.5L521.3 251.2L520.9 250.7L520.2 250.1L519.3 249.3L518.2 248.4L516.9 247.4L515.7 246.4L514.4 245.4L513.2 244.5L512.1 243.6L511.1 242.8L510.4 242.1L509.9 241.6L509.6 241.2L509.6 241.0L509.9 241.0L510.5 241.1L511.3 241.3L512.3 241.8L513.5 242.3L514.9 242.9L516.3 243.6L517.9 244.3L519.4 245.0L520.9 245.7L522.3 246.4L523.6 246.9L524.8 247.4L525.7 247.8L526.5 248.0L527.0 248.1L527.3 248.1L527.4 247.9L527.3 247.7L527.0 247.3L526.6 246.8L526.0 246.2L525.3 245.6L524.6 244.9L523.9 244.2L523.2 243.6L522.5 243.0L522.0 242.4L521.6 242.0L521.4 241.6L521.3 241.4L521.5 241.2L521.8 241.2L522.3 241.3L523.1 241.6L523.9 241.9L525.0 242.3L526.1 242.8L527.4 243.3L528.7 243.9L530.0 244.5L531.3 245.0L532.5 245.6L533.7 246.1L534.7 246.5L535.7 246.9L536.4 247.1L537.0 247.3L537.5 247.3L537.7 247.2L537.8 247.1L537.7 246.8L537.5 246.5L537.2 246.0L536.8 245.6L536.3 245.0L535.8 244.5L535.2 244.0L534.7 243.4L534.3 242.9L533.9 242.5L533.6 242.1L533.5 241.8L533.5 241.6L533.6 241.4L533.9 241.4L534.3 241.4L534.9 241.5L535.5 241.7L536.3 242.0L537.2 242.3L538.1 242.7L539.1 243.1L540.1 243.5L541.1 243.9L542.1 244.2L543.0 244.6L543.9 244.9L544.6 245.1L545.3 245.3L545.8 245.4L546.3 245.5L546.6 245.4L546.8 245.3L546.9 245.2L546.9 245.0L546.8 244.7L546.7 244.4L546.5 244.1L546.3 243.7L546.1 243.4L545.9 243.0L545.7 242.7L545.6 242.4L545.6 242.2L545.6 242.0L545.7 241.9L546.0 241.8L546.3 241.8L546.7 241.8L547.2 241.9L547.8 242.0L548.4 242.2L549.1 242.4L549.8 242.6L550.6 242.9L551.4 243.1L552.1 243.4L552.9 243.6L553.5 243.8L554.2 244.0L554.8 244.1L555.3 244.2L555.7 244.2L556.1 244.2L556.3 244.2L556.5 244.1L556.7 244.0L556.8 243.8L556.8 243.6L556.8 243.4L556.8 243.1L556.7 242.9L556.7 242.6L556.7 242.4L556.7 242.2L556.7 242.0L556.8 241.9L557.0 241.7L557.2 241.6L557.5 241.6L557.8 241.6L558.2 241.6L558.7 241.7L559.2 241.7L559.7 241.9L560.3 242.0L560.9 242.2L561.5 242.3L562.1 242.5L562.8 242.6L563.3 242.8L563.9 242.9L564.4 243.0L564.9 243.1L565.4 243.2L565.8 243.2L566.1 243.2L566.4 243.1L566.7 243.1L566.9 243.0L567.0 242.9L567.2 242.7L567.3 242.6L567.4 242.4L567.5 242.3L567.6 242.1L567.7 241.9L567.8 241.8L568.0 241.7L568.2 241.6L568.4 241.5L568.6 241.4L568.9 241.4L569.3 241.4L569.6 241.4L570.0 241.4L570.5 241.4L570.9 241.5L571.4 241.6L571.9 241.7L572.4 241.8L572.9 241.9L573.4 241.9L573.9 242.0L574.4 242.1L574.8 242.2L575.3 242.2L575.7 242.2L576.0 242.2L576.4 242.2L576.7 242.2L576.9 242.1L577.2 242.1L577.4 242.0L577.6 241.9L577.8 241.8L578.0 241.7L578.2 241.6L578.4 241.5L578.6 241.4L578.8 241.3L579.0 241.2L579.2 241.1L579.5 241.1L579.8 241.0L580.1 241.0L580.4 241.0L580.8 241.0L581.2 241.0L581.6 241.0L582.0 241.1L582.4 241.1L582.9 241.1L583.3 241.2L583.7 241.2L584.2 241.3L584.6 241.3L585.0 241.4L585.4 241.4L585.8 241.4L586.1 241.4L586.5 241.4L586.8 241.4L587.1 241.3L587.4 241.3L587.7 241.3L588.0 241.2" stroke="#7a7a7a" stroke-width="1" fill="none"/>
<path d="M640.7 166.8L640.7 166.9L640.8 166.9L640.8 166.9L640.8 166.9L640.9 166.9L640.9 167.0L640.9 167.0L641.0 167.0L641.0 167.0L641.0 167.0L641.1 166.9L641.1 166.9L641.1 166.9L641.1 166.9L641.2 166.9L641.2 166.9L641.2 166.8L641.2 166.8L641.2 166.8L641.2 166.7L641.2 166.7L641.3 166.6L641.3 166.6L641.2 166.5L641.2 166.5L641.2 166.4L641.2 166.4L641.2 166.3L641.2 166.3L641.2 166.2L641.2 166.2L641.1 166.1L641.1 166.1L641.1 166.0L641.0 166.0L641.0 165.9L641.0 165.9L640.9 165.8L640.9 165.8L640.8 165.7L640.8 165.7L640.8 165.7L640.7 165.6L640.7 165.6L640.6 165.6L640.6 165.6L640.5 165.6L640.5 165.6L640.5 165.6L640.4 165.6L640.4 165.6L640.3 165.6L640.3 165.6L640.3 165.6L640.2 165.6L640.2 165.7L640.2 165.7L640.2 165.7L640.1 165.8L640.1 165.8L640.1 165.9L640.1 165.9L640.1 166.0L640.1 166.0L640.1 166.1L640.1 166.2L640.1 166.2L640.1 166.3L640.2 166.4L640.2 166.4L640.2 166.5L640.2 166.6L640.3 166.6L640.3 166.7L640.3 166.8L640.4 166.8L640.4 166.9L640.5 167.0L640.5 167.0L640.6 167.1L640.6 167.1L640.7 167.2L640.7 167.2L640.8 167.3L640.8 167.3L640.9 167.3L641.0 167.4L641.0 167.4L641.1 167.4L641.1 167.4L641.2 167.4L641.2 167.4L641.3 167.4L641.3 167.3L641.4 167.3L641.4 167.3L641.4 167.3L641.5 167.2L641.5 167.2L641.5 167.1L641.5 167.1L641.6 167.0L641.6 166.9L641.6 166.8L641.6 166.8L641.6 166.7L641.6 166.6L641.6 166.5L641.5 166.4L641.5 166.3L641.5 166.3L641.5 166.2L641.4 166.1L641.4 166.0L641.3 165.9L641.3 165.8L641.2 165.7L641.2 165.6L641.1 165.6L641.0 165.5L641.0 165.4L640.9 165.3L640.8 165.3L640.8 165.2L640.7 165.2L640.6 165.1L640.6 165.1L640.5 165.1L640.4 165.0L640.3 165.0L640.3 165.0L640.2 165.0L640.1 165.0L640.1 165.0L640.0 165.0L640.0 165.1L639.9 165.1L639.9 165.2L639.8 165.2L639.8 165.3L639.8 165.3L639.7 165.4L639.7 165.5L639.7 165.6L639.7 165.7L639.7 165.8L639.7 165.9L639.7 166.0L639.7 166.1L639.7 166.2L639.8 166.3L639.8 166.4L639.8 166.5L639.9 166.7L639.9 166.8L640.0 166.9L640.1 167.0L640.1 167.1L640.2 167.2L640.3 167.3L640.4 167.4L640.5 167.5L640.5 167.6L640.6 167.7L640.7 167.8L640.8 167.8L640.9 167.9L641.0 167.9L641.1 168.0L641.2 168.0L641.3 168.0L641.4 168.0L641.4 168.0L641.5 168.0L641.6 168.0L641.7 168.0L641.8 168.0L641.8 167.9L641.9 167.9L641.9 167.8L642.0 167.7L642.0 167.6L642.1 167.6L642.1 167.5L642.1 167.3L642.1 167.2L642.1 167.1L642.1 167.0L642.1 166.9L642.1 166.7L642.1 166.6L642.0 166.4L642.0 166.3L641.9 166.2L641.9 166.0L641.8 165.9L641.7 165.7L641.7 165.6L641.6 165.4L641.5 165.3L641.4 165.2L641.3 165.1L641.2 164.9L641.1 164.8L641.0 164.7L640.8 164.6L640.7 164.6L640.6 164.5L640.5 164.4L640.4 164.4L640.2 164.3L640.1 164.3L640.0 164.3L639.9 164.3L639.8 164.3L639.7 164.3L639.6 164.3L639.5 164.4L639.4 164.4L639.3 164.5L639.3 164.6L639.2 164.7L639.2 164.8L639.1 164.9L639.1 165.0L639.0 165.1L639.0 165.3L639.0 165.4L639.0 165.6L639.0 165.8L639.0 165.9L639.1 166.1L639.1 166.3L639.2 166.4L639.2 166.6L639.3 166.8L639.4 167.0L639.5 167.2L639.6 167.3L639.7 167.5L639.8 167.7L639.9 167.8L640.0 168.0L640.2 168.1L640.3 168.2L640.4 168.4L640.6 168.5L640.7 168.6L640.9 168.7L641.0 168.7L641.1 168.8L641.3 168.9L641.4 168.9L641.6 168.9L641.7 168.9L641.8 168.9L642.0 168.9L642.1 168.8L642.2 168.8L642.3 168.7L642.4 168.6L642.5 168.5L642.6 168.4L642.7 168.2L642.7 168.1L642.8 167.9L642.8 167.8L642.8 167.6L642.8 167.4L642.8 167.2L642.8 167.0L642.8 166.8L642.8 166.6L642.7 166.4L642.7 166.1L642.6 165.9L642.5 165.7L642.4 165.5L642.3 165.2L642.2 165.0L642.1 164.8L641.9 164.6L641.8 164.4L641.6 164.2L641.5 164.0L641.3 163.9L641.2 163.7L641.0 163.6L640.8 163.5L640.6 163.4L640.5 163.3L640.3 163.2L640.1 163.1L639.9 163.1L639.8 163.1L639.6 163.1L639.4 163.1L639.3 163.1L639.2 163.2L639.0 163.2L638.9 163.3L638.8 163.5L638.7 163.6L638.6 163.7L638.5 163.9L638.4 164.1L638.4 164.3L638.3 164.5L638.3 164.7L638.3 165.0L638.3 165.2L638.3 165.5L638.3 165.7L638.4 166.0L638.5 166.3L638.5 166.6L638.6 166.9L638.7 167.2L638.8 167.4L639.0 167.7L639.1 168.0L639.3 168.3L639.4 168.5L639.6 168.8L639.8 169.0L640.0 169.3L640.2 169.5L640.4 169.7L640.6 169.9L640.8 170.0L641.0 170.2L641.3 170.3L641.5 170.4L641.7 170.5L641.9 170.5L642.1 170.6L642.3 170.6L642.5 170.6L642.7 170.6L642.8 170.5L643.0 170.4L643.2 170.3L643.3 170.2L643.4 170.0L643.5 169.8L643.6 169.6L643.7 169.4L643.8 169.2L643.8 168.9L643.8 168.7L643.8 168.4L643.8 168.1L643.8 167.8L643.7 167.4L643.7 167.1L643.6 166.8L643.5 166.4L643.4 166.1L643.2 165.7L643.1 165.4L642.9 165.0L642.7 164.7L642.5 164.3L642.3 164.0L642.1 163.7L641.8 163.4L641.6 163.1L641.3 162.8L641.1 162.6L640.8 162.3L640.5 162.1L640.3 161.9L640.0 161.7L639.7 161.6L639.5 161.5L639.2 161.4L638.9 161.3L638.7 161.3L638.4 161.3L638.2 161.3L638.0 161.3L637.8 161.4L637.6 161.5L637.4 161.7L637.2 161.8L637.1 162.0L637.0 162.2L636.9 162.5L636.8 162.7L636.7 163.0L636.7 163.3L636.7 163.7L636.7 164.0L636.7 164.4L636.8 164.7L636.8 165.1L636.9 165.5L637.1 165.9L637.2 166.3L637.4 166.7L637.6 167.1L637.8 167.5L638.0 167.9L638.2 168.3L638.5 168.7L638.8 169.1L639.1 169.4L639.4 169.7L639.7 170.1L640.0 170.4L640.3 170.6L640.7 170.9L641.0 171.1L641.4 171.3L641.7 171.5L642.0 171.6L642.4 171.7L642.7 171.8L643.0 171.8L643.4 171.8L643.7 171.8L643.9 171.8L644.2 171.7L644.5 171.5L644.7 171.4L644.9 171.2L645.1 171.0L645.3 170.7L645.4 170.5L645.6 170.1L645.7 169.8L645.7 169.5L645.8 169.1L645.8 168.7L645.8 168.3L645.8 167.9L645.7 167.4L645.6 167.0L645.5 166.5L645.3 166.1L645.2 165.6L645.0 165.2L644.7 164.7L644.5 164.3L644.2 163.8L643.9 163.4L643.6 163.0L643.3 162.6L643.0 162.3L642.6 161.9L642.2 161.6L641.9 161.3L641.5 161.0L641.1 160.8L640.7 160.6L640.3 160.5L639.9 160.3L639.5 160.2L639.1 160.2L638.7 160.2L638.4 160.2L638.0 160.3L637.7 160.4L637.4 160.5L637.1 160.7L636.8 160.9L636.5 161.2L636.3 161.5L636.0 161.8L635.9 162.2L635.7 162.6L635.6 163.0L635.5 163.5L635.4 163.9L635.4 164.4L635.4 165.0L635.4 165.5L635.4 166.0L635.5 166.6L635.6 167.1L635.8 167.7L636.0 168.3L636.2 168.8L636.4 169.4L636.7 169.9L636.9 170.4L637.2 170.9L637.6 171.4L637.9 171.9L638.3 172.3L638.7 172.7L639.1 173.1L639.5 173.4L639.9 173.7L640.3 174.0L640.7 174.2L641.1 174.4L641.6 174.5L642.0 174.6L642.4 174.6L642.8 174.6L643.2 174.6L643.6 174.4L643.9 174.3L644.3 174.1L644.6 173.8L644.9 173.5L645.1 173.1L645.4 172.7L645.6 172.3L645.8 171.8L645.9 171.3L646.0 170.7L646.1 170.1L646.2 169.5L646.2 168.9L646.1 168.2L646.1 167.5L646.0 166.8L645.9 166.1L645.7 165.3L645.5 164.6L645.3 163.9L645.0 163.1L644.7 162.4L644.4 161.7L644.0 161.0L643.7 160.3L643.3 159.7L642.8 159.0L642.4 158.5L642.0 157.9L641.5 157.4L641.0 156.9L640.5 156.5L640.1 156.1L639.6 155.8L639.1 155.5L638.6 155.3L638.1 155.1L637.7 155.0L637.2 155.0L636.8 155.0L636.4 155.0L636.0 155.2L635.6 155.4L635.3 155.6L635.0 156.0L634.7 156.3L634.5 156.8L634.3 157.2L634.2 157.8L634.0 158.4L634.0 159.0L633.9 159.7L633.9 160.4L634.0 161.2L634.1 162.0L634.2 162.8L634.4 163.6L634.6 164.5L634.9 165.3L635.2 166.2L635.5 167.1L635.9 168.0L636.3 168.9L636.8 169.8L637.3 170.7L637.8 171.5L638.3 172.3L638.9 173.1L639.5 173.9L640.1 174.6L640.7 175.3L641.4 176.0L642.0 176.6L642.6 177.1L643.3 177.6L643.9 178.0L644.6 178.4L645.2 178.7L645.8 178.9L646.4 179.1L646.9 179.2L647.5 179.3L648.0 179.2L648.5 179.1L648.9 179.0L649.3 178.8L649.7 178.5L650.0 178.1L650.3 177.7L650.5 177.2L650.7 176.7L650.8 176.1L650.9 175.4L650.9 174.7L650.8 174.0L650.8 173.2L650.6 172.4L650.4 171.6L650.1 170.7L649.8 169.8L649.5 168.9L649.0 168.0L648.6 167.1L648.1 166.1L647.5 165.2L646.9 164.3L646.3 163.5L645.6 162.6L644.9 161.8L644.1 160.9L643.4 160.2L642.6 159.5L641.8 158.8L641.0 158.1L640.1 157.6L639.3 157.0L638.5 156.6L637.6 156.2L636.8 155.8L636.0 155.6L635.2 155.3L634.4 155.2L633.7 155.1L633.0 155.2L632.3 155.2L631.7 155.4L631.1 155.6L630.5 155.9L630.0 156.2L629.5 156.6L629.1 157.1L628.8 157.6L628.5 158.2L628.3 158.8L628.1 159.5L628.0 160.2L628.0 161.0L628.0 161.8L628.1 162.6L628.2 163.5L628.5 164.3L628.7 165.2L629.1 166.1L629.5 166.9L629.9 167.8L630.5 168.7L631.0 169.5L631.6 170.3L632.3 171.1L633.0 171.8L633.8 172.6L634.5 173.2L635.3 173.8L636.2 174.4L637.0 174.9L637.9 175.4L638.8 175.7L639.7 176.0L640.6 176.3L641.5 176.5L642.4 176.5L643.2 176.6L644.1 176.5L644.9 176.4L645.8 176.1L646.5 175.9L647.3 175.5L648.0 175.0L648.7 174.5L649.3 173.9L649.8 173.3L650.4 172.6L650.8 171.8L651.2 171.0L651.6 170.1L651.9 169.2L652.1 168.2L652.2 167.2L652.3 166.2L652.3 165.2L652.3 164.1L652.2 163.1L652.0 162.0L651.8 160.9L651.5 159.9L651.2 158.9L650.8 157.9L650.3 156.9L649.8 156.0L649.2 155.1L648.6 154.3L648.0 153.5L647.3 152.8L646.6 152.1L645.9 151.6L645.1 151.1L644.4 150.7L643.6 150.4L642.8 150.1L642.0 150.0L641.2 150.0L640.4 150.0L639.7 150.2L638.9 150.4L638.2 150.8L637.5 151.3L636.8 151.8L636.2 152.5L635.6 153.2L635.1 154.1L634.6 155.0L634.1 156.0L633.7 157.1L633.4 158.3L633.1 159.5L632.9 160.8L632.8 162.2L632.7 163.6L632.6 165.0L632.7 166.5L632.8 168.0L633.0 169.6L633.2 171.1L633.5 172.7L633.8 174.2L634.2 175.8L634.7 177.3L635.2 178.8L635.8 180.2L636.4 181.6L637.0 182.9L637.7 184.2L638.4 185.4L639.2 186.6L639.9 187.6L640.7 188.6L641.5 189.4L642.3 190.2L643.1 190.8L643.9 191.4L644.7 191.8L645.4 192.1L646.2 192.3L646.9 192.3L647.6 192.3L648.2 192.1L648.8 191.8L649.4 191.3L649.9 190.7L650.3 190.0L650.7 189.2L651.0 188.3L651.3 187.2L651.5 186.1L651.6 184.8L651.6 183.4L651.6 182.0L651.5 180.4L651.3 178.8L651.0 177.1L650.6 175.4L650.2 173.6L649.7 171.7L649.1 169.9L648.5 168.0L647.7 166.0L646.9 164.1L646.1 162.2L645.2 160.3L644.2 158.4L643.2 156.5L642.1 154.7L641.0 153.0L639.9 151.3L638.8 149.6L637.6 148.1L636.4 146.6L635.2 145.2L634.0 144.0L632.8 142.8L631.6 141.7L630.5 140.8L629.3 140.0L628.2 139.3L627.2 138.7L626.2 138.3L625.2 138.0L624.4 137.8L623.5 137.8L622.8 137.9L622.1 138.1L621.5 138.5L621.0 139.0L620.6 139.6L620.3 140.3L620.1 141.2L620.0 142.2L620.0 143.3L620.1 144.4L620.3 145.7L620.6 147.1L621.0 148.5L621.5 150.1L622.1 151.6L622.8 153.3L623.7 154.9L624.6 156.6L625.6 158.4L626.7 160.1L627.9 161.9L629.2 163.6L630.5 165.3L631.9 167.0L633.4 168.7L634.9 170.4L636.4 171.9L638.1 173.5L639.7 174.9L641.4 176.3L643.0 177.6L644.7 178.8L646.4 179.9L648.1 180.9L649.7 181.8L651.4 182.6L653.0 183.3L654.5 183.9L656.0 184.3L657.5 184.7L658.9 184.9L660.2 185.0L661.4 185.0L662.5 184.8L663.6 184.6L664.5 184.2L665.4 183.8L666.1 183.2L666.7 182.5L667.3 181.8L667.7 181.0L667.9 180.0L668.1 179.1L668.1 178.0L668.0 176.9L667.8 175.8L667.5 174.6L667.0 173.4L666.4 172.1L665.8 170.9L665.0 169.6L664.0 168.4L663.0 167.2L661.9 166.0L660.7 164.8L659.4 163.7L658.1 162.7L656.6 161.7L655.1 160.8L653.6 159.9L652.0 159.2L650.3 158.5L648.6 157.9L646.9 157.4L645.2 157.0L643.5 156.8L641.7 156.6L640.0 156.6L638.3 156.6L636.7 156.8L635.0 157.1L633.4 157.5L631.9 158.0L630.4 158.7L629.0 159.4L627.7 160.2L626.4 161.1L625.2 162.2L624.2 163.3L623.2 164.4L622.3 165.7L621.5 167.0L620.8 168.3L620.2 169.7L619.8 171.2L619.4 172.6L619.2 174.1L619.1 175.6L619.0 177.1L619.1 178.5L619.3 179.9L619.6 181.3L620.0 182.7L620.5 183.9L621.1 185.1L621.8 186.3L622.5 187.3L623.4 188.2L624.3 189.1L625.2 189.8L626.3 190.4L627.3 190.8L628.4 191.2L629.6 191.3L630.8 191.4L631.9 191.3L633.1 191.0L634.3 190.6L635.5 190.0L636.7 189.3L637.9 188.4L639.0 187.3L640.1 186.1L641.2 184.8L642.2 183.3L643.1 181.7L644.0 179.9L644.8 178.0L645.6 176.0L646.2 173.9L646.8 171.7L647.3 169.4L647.7 167.0L648.1 164.6L648.3 162.1L648.5 159.6L648.6 157.0L648.5 154.4L648.4 151.8L648.2 149.2L647.9 146.6L647.6 144.1L647.1 141.6L646.6 139.2L646.0 136.9L645.4 134.6L644.7 132.5L643.9 130.5L643.1 128.6L642.3 126.8L641.4 125.2L640.5 123.7L639.6 122.5L638.6 121.4L637.7 120.4L636.8 119.7L635.9 119.2L635.0 118.9L634.2 118.8L633.3 118.8L632.6 119.2L631.9 119.7L631.2 120.4L630.6 121.3L630.1 122.5L629.7 123.8L629.3 125.4L629.1 127.1L628.9 129.1L628.9 131.2L628.9 133.5L629.0 135.9L629.3 138.5L629.6 141.2L630.1 144.1L630.7 147.1L631.4 150.1L632.1 153.3L633.0 156.5L634.0 159.8L635.1 163.1L636.3 166.5L637.5 169.8L638.9 173.2L640.3 176.5L641.7 179.8L643.3 183.1L644.9 186.3L646.5 189.3L648.2 192.3L649.9 195.2L651.6 198.0L653.3 200.6L655.0 203.1L656.7 205.4L658.4 207.6L660.0 209.5L661.6 211.3L663.2 212.9L664.7 214.3L666.1 215.5L667.4 216.4L668.6 217.2L669.8 217.7L670.8 218.0L671.7 218.0L672.5 217.9L673.1 217.5L673.6 217.0L674.0 216.2L674.2 215.2L674.3 214.0L674.2 212.7L673.9 211.1L673.5 209.4L673.0 207.5L672.3 205.4L671.4 203.3L670.3 201.0L669.2 198.5L667.8 196.0L666.3 193.4L664.7 190.7L662.9 188.0L661.0 185.2L659.0 182.4L656.9 179.6L654.7 176.8L652.4 173.9L650.0 171.2L647.5 168.4L644.9 165.7L642.3 163.1L639.7 160.6L637.0 158.1L634.4 155.8L631.7 153.6L629.0 151.5L626.4 149.5L623.7 147.7L621.2 146.0L618.7 144.5L616.2 143.1L613.9 141.9L611.6 140.9L609.5 140.0L607.5 139.3L605.6 138.8L603.8 138.5L602.2 138.3L600.7 138.2L599.4 138.4L598.2 138.6L597.3 139.1L596.5 139.6L595.9 140.3L595.4 141.1L595.2 142.1L595.1 143.1L595.3 144.2L595.6 145.4L596.1 146.7L596.8 148.0L597.7 149.4L598.7 150.9L599.9 152.3L601.3 153.8L602.9 155.2L604.5 156.7L606.4 158.1L608.3 159.5L610.4 160.8L612.6 162.1L614.9 163.3L617.3 164.4L619.8 165.4L622.4 166.4L625.0 167.2L627.6 167.9L630.3 168.5L633.0 169.0L635.7 169.4L638.4 169.6L641.0 169.7L643.7 169.7L646.3 169.6L648.8 169.3L651.3 168.8L653.7 168.3L656.0 167.6L658.2 166.8L660.3 166.0L662.2 165.0L664.1 163.9L665.8 162.7L667.4 161.4L668.8 160.1L670.1 158.7L671.3 157.2L672.2 155.8L673.1 154.3L673.7 152.7L674.2 151.2L674.6 149.7L674.8 148.3L674.8 146.8L674.7 145.4L674.4 144.1L674.0 142.9L673.5 141.7L672.8 140.7L672.0 139.8L671.1 139.0L670.0 138.3L668.9 137.8L667.7 137.4L666.4 137.2L665.0 137.1L663.5 137.2L662.0 137.6L660.5 138.0L658.9 138.7L657.3 139.6L655.7 140.6L654.1 141.9L652.5 143.3L650.9 144.9L649.3 146.7L647.8 148.7L646.3 150.8L644.9 153.1L643.6 155.5L642.3 158.1L641.1 160.8L639.9 163.7L638.9 166.6L638.0 169.7L637.1 172.8L636.4 176.0L635.7 179.2L635.2 182.5L634.8 185.8L634.4 189.1L634.2 192.4L634.1 195.7L634.1 198.9L634.2 202.0L634.4 205.1L634.7 208.1L635.0 210.9L635.5 213.6L636.0 216.2L636.6 218.6L637.2 220.9L637.9 222.9L638.7 224.7L639.5 226.4L640.3 227.8L641.1 228.9L642.0 229.8L642.8 230.5L643.6 230.9L644.4 231.0L645.2 230.9L646.0 230.5L646.7 229.8L647.3 228.9L647.9 227.7L648.4 226.2L648.9 224.5L649.3 222.5L649.5 220.2L649.7 217.7L649.8 215.0L649.7 212.0L649.6 208.9L649.4 205.5L649.0 202.0L648.5 198.3L647.9 194.4L647.2 190.4L646.4 186.3L645.5 182.1L644.4 177.8L643.3 173.4L642.0 169.0L640.7 164.6L639.2 160.2L637.7 155.8L636.1 151.4L634.5 147.1L632.7 142.8L631.0 138.7L629.1 134.6L627.3 130.7L625.4 127.0L623.5 123.4L621.7 119.9L619.8 116.7L618.0 113.7L616.2 110.9L614.4 108.4L612.7 106.1L611.1 104.0L609.6 102.2L608.1 100.7L606.8 99.4L605.5 98.5L604.4 97.8L603.5 97.4L602.6 97.2L601.9 97.4L601.4 97.8L601.0 98.5L600.8 99.5L600.8 100.7L600.9 102.2L601.2 103.9L601.7 105.9L602.4 108.0L603.3 110.4L604.3 113.0L605.6 115.7L607.0 118.7L608.6 121.7L610.3 124.9L612.2 128.2L614.3 131.7L616.5 135.2L618.9 138.7L621.3 142.3L624.0 145.9L626.7 149.6L629.5 153.2L632.4 156.8L635.4 160.4L638.4 163.9L641.5 167.3L644.7 170.6L647.8 173.8L651.0 176.9L654.1 179.9L657.3 182.7L660.3 185.4L663.4 187.9L666.4 190.2L669.2 192.4L672.1 194.3L674.7 196.1L677.3 197.6L679.8 199.0L682.1 200.1L684.2 201.1L686.2 201.8L688.0 202.4L689.6 202.7L691.1 202.9L692.3 202.8L693.3 202.6L694.2 202.2L694.8 201.6L695.2 200.9L695.3 200.0L695.3 199.0L695.0 197.9L694.6 196.7L693.9 195.3L693.0 193.9L691.9 192.3L690.5 190.8L689.0 189.2L687.3 187.5L685.5 185.8L683.4 184.1L681.2 182.5L678.9 180.8L676.4 179.2L673.7 177.6L671.0 176.1L668.2 174.7L665.2 173.3L662.2 172.0L659.2 170.8L656.1 169.8L652.9 168.8L649.8 168.0L646.6 167.3L643.5 166.7L640.4 166.2L637.3 165.9L634.3 165.7L631.3 165.7L628.4 165.8L625.6 166.0L623.0 166.4L620.4 166.9L618.0 167.5L615.7 168.2L613.5 169.0L611.5 169.9L609.6 170.9L607.9 172.0L606.4 173.2L605.1 174.4L603.9 175.7L602.9 177.0L602.1 178.3L601.5 179.6L601.1 181.0L600.8 182.3L600.8 183.6L600.9 184.8L601.1 186.0L601.6 187.2L602.2 188.2L602.9 189.2L603.8 190.0L604.8 190.8L606.0 191.4L607.3 191.9L608.7 192.2L610.1 192.4L611.7 192.4L613.4 192.3L615.1 192.0L616.9 191.5L618.7 190.9L620.5 190.0L622.4 189.0L624.3 187.8L626.1 186.5L628.0 184.9L629.8 183.2L631.6 181.3L633.4 179.3L635.1 177.1L636.7 174.7L638.3 172.3L639.8 169.7L641.2 167.0L642.5 164.1L643.7 161.2L644.8 158.3L645.8 155.2L646.7 152.1L647.5 149.0L648.2 145.9L648.7 142.7L649.1 139.6L649.5 136.6L649.7 133.5L649.8 130.6L649.8 127.7L649.6 124.9L649.4 122.2L649.1 119.7L648.7 117.3L648.3 115.1L647.7 113.0L647.1 111.2L646.4 109.5L645.7 108.1L644.9 106.8L644.1 105.8L643.3 105.0L642.5 104.5L641.6 104.3L640.8 104.2L640.0 104.5L639.2 105.0L638.4 105.7L637.7 106.8L637.0 108.0L636.4 109.6L635.8 111.4L635.3 113.4L634.9 115.7L634.6 118.1L634.3 120.9L634.2 123.8L634.1 126.9L634.1 130.2L634.3 133.6L634.6 137.2L634.9 141.0L635.4 144.9L636.0 148.8L636.6 152.9L637.4 157.0L638.3 161.2L639.3 165.4L640.4 169.6L641.5 173.8L642.8 178.0L644.1 182.2L645.4 186.3L646.9 190.2L648.4 194.1L649.9 197.9L651.5 201.6L653.1 205.1L654.7 208.4L656.3 211.5L657.9 214.5L659.5 217.2L661.1 219.7L662.6 222.0L664.1 224.1L665.5 225.9L666.9 227.4L668.2 228.7L669.3 229.7L670.4 230.5L671.4 231.0L672.3 231.2L673.1 231.2L673.7 230.9L674.2 230.3L674.6 229.4L674.8 228.4L674.8 227.0L674.7 225.5L674.5 223.7L674.1 221.7L673.5 219.5L672.8 217.1L671.9 214.5L670.8 211.7L669.7 208.8L668.3 205.8L666.8 202.7L665.2 199.5L663.4 196.1L661.5 192.7L659.5 189.3L657.3 185.8L655.1 182.4L652.8 178.9L650.3 175.4L647.9 172.0L645.3 168.6L642.7 165.3L640.0 162.1L637.4 159.0L634.7 156.0L632.0 153.1L629.3 150.3L626.6 147.7L624.0 145.3L621.4 143.0L618.9 140.9L616.4 139.0L614.1 137.2L611.8 135.7L609.6 134.3L607.6 133.2L605.7 132.2L603.9 131.5L602.3 130.9L600.8 130.6L599.4 130.4L598.3 130.4L597.3 130.7L596.5 131.0L595.9 131.6L595.4 132.3L595.2 133.2L595.1 134.2L595.3 135.4L595.6 136.6L596.1 138.0L596.8 139.5L597.6 141.1L598.6 142.7L599.9 144.4L601.2 146.1L602.8 147.9L604.4 149.7L606.3 151.5L608.2 153.3L610.3 155.1L612.5 156.8L614.8 158.5L617.2 160.2L619.6 161.8L622.1 163.3L624.7 164.7L627.4 166.1L630.0 167.3L632.7 168.4L635.4 169.4L638.0 170.3L640.7 171.1L643.3 171.7L645.9 172.3L648.4 172.6L650.9 172.9L653.2 173.0L655.5 173.0L657.7 172.8L659.8 172.5L661.8 172.1L663.6 171.6L665.3 171.0L666.9 170.3L668.3 169.5L669.6 168.5L670.8 167.6L671.7 166.5L672.6 165.4L673.2 164.2L673.7 163.0L674.1 161.7L674.2 160.5L674.3 159.2L674.1 157.9L673.9 156.7L673.4 155.5L672.9 154.3L672.2 153.2L671.4 152.1L670.4 151.1L669.3 150.2L668.2 149.4L666.9 148.6L665.6 148.0L664.1 147.5L662.6 147.1L661.0 146.8L659.4 146.7L657.8 146.7L656.1 146.9L654.4 147.2L652.7 147.6L650.9 148.2L649.2 148.9L647.5 149.8L645.9 150.8L644.3 151.9L642.7 153.2L641.2 154.6L639.7 156.2L638.3 157.8L637.0 159.6L635.8 161.4L634.7 163.4L633.6 165.4L632.7 167.5L631.8 169.7L631.1 171.9L630.5 174.2L629.9 176.5L629.5 178.8L629.2 181.1L629.0 183.3L628.9 185.6L628.9 187.8L629.0 190.0L629.2 192.1L629.5 194.1L629.8 196.0L630.3 197.9L630.8 199.6L631.4 201.2L632.1 202.7L632.9 204.0L633.6 205.2L634.5 206.2L635.3 207.1L636.2 207.8L637.1 208.3L638.1 208.6L639.0 208.8L639.9 208.7L640.8 208.5L641.7 208.1L642.6 207.5L643.4 206.7L644.2 205.7L644.9 204.5L645.6 203.2L646.3 201.7L646.8 200.0L647.3 198.2L647.7 196.2L648.0 194.0L648.3 191.8L648.5 189.4L648.5 186.9L648.5 184.3L648.4 181.6L648.2 178.8L648.0 176.0L647.6 173.1L647.1 170.2L646.6 167.3L646.0 164.4L645.3 161.4L644.5 158.5L643.7 155.7L642.8 152.8L641.8 150.1L640.8 147.4L639.7 144.8L638.6 142.3L637.4 139.9L636.3 137.7L635.1 135.5L633.9 133.6L632.7 131.7L631.5 130.1L630.3 128.5L629.1 127.2L628.0 126.1L626.9 125.1L625.9 124.3L624.9 123.7L623.9 123.4L623.0 123.1L622.2 123.1L621.5 123.3L620.9 123.7L620.3 124.2L619.9 125.0L619.5 125.9L619.2 127.0L619.1 128.2L619.0 129.6L619.1 131.2L619.3 132.9L619.6 134.7L619.9 136.6L620.4 138.7L621.1 140.8L621.8 143.0L622.6 145.3L623.5 147.7L624.6 150.1L625.7 152.5L626.9 155.0L628.2 157.4L629.5 159.9L631.0 162.3L632.5 164.8L634.0 167.1L635.6 169.5L637.3 171.7L639.0 173.9L640.7 176.0L642.4 178.0L644.1 180.0L645.9 181.8L647.6 183.5L649.3 185.0L650.9 186.4L652.6 187.7L654.2 188.9L655.7 189.9L657.2 190.7L658.6 191.5L659.9 192.0L661.2 192.4L662.4 192.7L663.4 192.8L664.4 192.8L665.3 192.6L666.0 192.3L666.7 191.8L667.2 191.2L667.6 190.5L667.9 189.7L668.1 188.8L668.1 187.8L668.0 186.7L667.8 185.4L667.5 184.2L667.1 182.8L666.5 181.4L665.9 180.0L665.1 178.5L664.2 177.0L663.2 175.5L662.1 173.9L660.9 172.4L659.7 170.9L658.3 169.4L656.9 167.9L655.5 166.5L653.9 165.2L652.4 163.9L650.8 162.6L649.1 161.4L647.5 160.4L645.8 159.3L644.1 158.4L642.4 157.6L640.7 156.9L639.1 156.3L637.4 155.8L635.9 155.4L634.3 155.1L632.8 154.9L631.4 154.8L630.0 154.8L628.7 155.0L627.4 155.2L626.3 155.5L625.2 156.0L624.2 156.5L623.3 157.1L622.6 157.8L621.9 158.6L621.3 159.4L620.8 160.3L620.4 161.3L620.2 162.3L620.0 163.4L620.0 164.4L620.0 165.5L620.2 166.7L620.4 167.8L620.8 168.9L621.2 170.0L621.7 171.1L622.4 172.2L623.1 173.3L623.8 174.3L624.7 175.2L625.6 176.1L626.6 176.9L627.6 177.7L628.7 178.4L629.8 179.0L630.9 179.5L632.1 180.0L633.2 180.3L634.4 180.6L635.6 180.7L636.8 180.8L638.0 180.7L639.2 180.5L640.3 180.3L641.5 179.9L642.5 179.5L643.6 178.9L644.6 178.3L645.5 177.5L646.4 176.7L647.2 175.8L648.0 174.8L648.7 173.7L649.3 172.6L649.9 171.4L650.4 170.2L650.8 168.9L651.1 167.6L651.3 166.2L651.5 164.8L651.6 163.4L651.6 162.0L651.6 160.6L651.4 159.2L651.2 157.9L650.9 156.5L650.6 155.2L650.2 153.9L649.7 152.7L649.2 151.5L648.6 150.4L648.0 149.4L647.3 148.4L646.6 147.6L645.9 146.8L645.2 146.1L644.4 145.5L643.6 145.0L642.8 144.6L642.0 144.3L641.2 144.1L640.4 144.1L639.6 144.1L638.9 144.3L638.1 144.5L637.4 144.9L636.8 145.4L636.1 146.0L635.6 146.7L635.0 147.5L634.5 148.4L634.1 149.4L633.7 150.4L633.4 151.6L633.1 152.8L632.9 154.1L632.7 155.5L632.7 156.9L632.6 158.3L632.7 159.8L632.8 161.3L633.0 162.9L633.2 164.5L633.5 166.0L633.9 167.6L634.3 169.2L634.8 170.7L635.3 172.3L635.8 173.8L636.4 175.2L637.1 176.6L637.8 178.0L638.5 179.3L639.2 180.5L640.0 181.6L640.7 182.7L641.5 183.7L642.3 184.6L643.1 185.4L643.9 186.1L644.7 186.7L645.4 187.2L646.2 187.6L646.9 187.9L647.6 188.0L648.2 188.1L648.9 188.1L649.5 187.9L650.0 187.7L650.5 187.3L650.9 186.9L651.3 186.4L651.6 185.7L651.9 185.0L652.1 184.2L652.2 183.3L652.3 182.3L652.3 181.3L652.3 180.2L652.2 179.1L652.0 177.9L651.8 176.6L651.5 175.3L651.1 174.0L650.7 172.7L650.2 171.4L649.6 170.0L649.1 168.7L648.4 167.3L647.7 166.0L647.0 164.7L646.2 163.5L645.5 162.2L644.6 161.0L643.8 159.9L642.9 158.8L642.0 157.8L641.1 156.8L640.2 155.9L639.4 155.1L638.5 154.3L637.6 153.6L636.7 153.0L635.9 152.5L635.0 152.1L634.2 151.7L633.5 151.5L632.7 151.3L632.1 151.3L631.4 151.3L630.8 151.4L630.3 151.5L629.8 151.8L629.3 152.1L629.0 152.5L628.6 153.0L628.4 153.6L628.2 154.2L628.1 154.9L628.0 155.6L628.0 156.4L628.0 157.2L628.2 158.0L628.4 158.9L628.6 159.9L628.9 160.8L629.3 161.8L629.7 162.7L630.2 163.7L630.7 164.7L631.3 165.6L631.9 166.6L632.5 167.5L633.2 168.4L634.0 169.2L634.7 170.1L635.5 170.9L636.3 171.6L637.1 172.3L637.9 173.0L638.8 173.5L639.6 174.1L640.4 174.6L641.3 175.0L642.1 175.3L642.9 175.6L643.7 175.8L644.4 175.9L645.1 176.0L645.8 176.0L646.5 176.0L647.1 175.8L647.7 175.6L648.3 175.4L648.8 175.1L649.2 174.7L649.6 174.3L649.9 173.8L650.2 173.3L650.5 172.7L650.7 172.1L650.8 171.5L650.9 170.8L650.9 170.1L650.9 169.4L650.8 168.7L650.6 167.9L650.4 167.2L650.2 166.4L649.9 165.6L649.6 164.9L649.2 164.2L648.8 163.4L648.3 162.7L647.8 162.1L647.3 161.4L646.7 160.8L646.2 160.3L645.6 159.7L645.0 159.2L644.3 158.8L643.7 158.4L643.0 158.1L642.4 157.8L641.8 157.6L641.1 157.4L640.5 157.3L639.9 157.3L639.3 157.3L638.7 157.4L638.1 157.5L637.6 157.7L637.1 157.9L636.6 158.2L636.2 158.5L635.8 158.9L635.4 159.4L635.1 159.9L634.8 160.4L634.5 160.9L634.3 161.5L634.2 162.2L634.0 162.8L634.0 163.5L633.9 164.2L633.9 164.9L634.0 165.7L634.1 166.4L634.2 167.1L634.4 167.9L634.6 168.6L634.8 169.3L635.1 170.0L635.4 170.7L635.8 171.3L636.2 172.0L636.5 172.5L637.0 173.1L637.4 173.6L637.8 174.1L638.3 174.6L638.8 174.9L639.3 175.3L639.7 175.6L640.2 175.8L640.7 176.0L641.2 176.2L641.7 176.3L642.1 176.3L642.6 176.3L643.0 176.2L643.4 176.0L643.8 175.9L644.2 175.6L644.5 175.3L644.8 175.0L645.1 174.6L645.3 174.2L645.6 173.7L645.8 173.2L645.9 172.7L646.0 172.1L646.1 171.5L646.2 170.9L646.2 170.2L646.1 169.5L646.1 168.8L646.0 168.2L645.9 167.4L645.7 166.7L645.5 166.0L645.3 165.3L645.0 164.7L644.8 164.0L644.5 163.3L644.1 162.7L643.8 162.1L643.4 161.5L643.0 160.9L642.7 160.4L642.2 159.9L641.8 159.4L641.4 159.0L641.0 158.7L640.6 158.3L640.1 158.0L639.7 157.8L639.3 157.6L638.9 157.5L638.5 157.4L638.1 157.4L637.8 157.4L637.4 157.4L637.1 157.5L636.8 157.7L636.6 157.9L636.3 158.1L636.1 158.4L635.9 158.7L635.7 159.1L635.6 159.5L635.5 159.9L635.4 160.3L635.4 160.8L635.3 161.3L635.4 161.9L635.4 162.4L635.5 163.0L635.6 163.6L635.8 164.2L635.9 164.7L636.1 165.3L636.4 165.9L636.6 166.5L636.9 167.1L637.2 167.7L637.5 168.2L637.8 168.8L638.2 169.3L638.5 169.8L638.9 170.2L639.3 170.7L639.7 171.1L640.0 171.5L640.4 171.8L640.8 172.1L641.2 172.4L641.6 172.6L642.0 172.8L642.4 173.0L642.7 173.1L643.1 173.2L643.4 173.2L643.7 173.2L644.0 173.2L644.3 173.1L644.6 173.0L644.8 172.8L645.0 172.6L645.2 172.4L645.4 172.1L645.5 171.8L645.6 171.5L645.7 171.2L645.8 170.8L645.8 170.4L645.8 170.0L645.8 169.6L645.7 169.2L645.6 168.7L645.5 168.3L645.4 167.8L645.2 167.4L645.1 166.9L644.8 166.4L644.6 166.0L644.4 165.5L644.1 165.1L643.8 164.7L643.5 164.3L643.2 163.9L642.9 163.5L642.6 163.2L642.3 162.9L641.9 162.6L641.6 162.3L641.2 162.1L640.9 161.8L640.6 161.7L640.2 161.5L639.9 161.4L639.6 161.3L639.3 161.3L639.0 161.2L638.7 161.2L638.4 161.3L638.1 161.3L637.9 161.4L637.7 161.6L637.5 161.7L637.3 161.9L637.1 162.1L637.0 162.4L636.9 162.6L636.8 162.9L636.7 163.2L636.7 163.5L636.7 163.8L636.7 164.2L636.7 164.5L636.7 164.9L636.8 165.2L636.9 165.6L637.0 166.0L637.1 166.3L637.3 166.7L637.5 167.1L637.6 167.4L637.8 167.8L638.1 168.1L638.3 168.4L638.5 168.7L638.8 169.0L639.0 169.3L639.3 169.5L639.6 169.7L639.8 169.9L640.1 170.1L640.4 170.3L640.6 170.4L640.9 170.5L641.2 170.6L641.4 170.6L641.7 170.7L641.9 170.7L642.2 170.6L642.4 170.6L642.6 170.5L642.8 170.4L643.0 170.3L643.1 170.1L643.3 170.0L643.4 169.8L643.5 169.6L643.6 169.3L643.7 169.1L643.8 168.8L643.8 168.6L643.8 168.3L643.8 168.0L643.8 167.7L643.8 167.4L643.7 167.1L643.7 166.8L643.6 166.4L643.5 166.1L643.4 165.8L643.2 165.5L643.1 165.2L642.9 164.9L642.8 164.7L642.6 164.4L642.4 164.1L642.2 163.9L642.0 163.7L641.8 163.5L641.6 163.3L641.4 163.1L641.2 163.0L641.0 162.8L640.7 162.7L640.5 162.6L640.3 162.6L640.1 162.5L639.9 162.5L639.7 162.5L639.6 162.5L639.4 162.6L639.2 162.7L639.1 162.7L638.9 162.9L638.8 163.0L638.7 163.1L638.6 163.3L638.5 163.5L638.4 163.7L638.4 163.9L638.3 164.1L638.3 164.3L638.3 164.6L638.3 164.8L638.3 165.1L638.3 165.3L638.4 165.6L638.4 165.9L638.5 166.1L638.6 166.4L638.7 166.7L638.8 166.9L638.9 167.2L639.1 167.4L639.2 167.7L639.4 167.9L639.5 168.1L639.7 168.3L639.8 168.5L640.0 168.7L640.2 168.9L640.4 169.0L640.5 169.1L640.7 169.2L640.9 169.3L641.0 169.4L641.2 169.5L641.4 169.5L641.5 169.6L641.7 169.6L641.8 169.5L642.0 169.5L642.1 169.5L642.2 169.4L642.3 169.3L642.4 169.2L642.5 169.1L642.6 169.0L642.7 168.8L642.7 168.7L642.8 168.5L642.8 168.3L642.8 168.2L642.8 168.0L642.8 167.8L642.8 167.6L642.8 167.3L642.7 167.1L642.7 166.9L642.6 166.7L642.6 166.5L642.5 166.3L642.4 166.1L642.3 165.8L642.2 165.6L642.0 165.4L641.9 165.3L641.8 165.1L641.7 164.9L641.5 164.7L641.4 164.6L641.2 164.5L641.1 164.3L640.9 164.2L640.8 164.1L640.7 164.0L640.5 164.0L640.4 163.9L640.2 163.9L640.1 163.9L640.0 163.8L639.9 163.8L639.7 163.9L639.6 163.9L639.5 163.9L639.4 164.0L639.3 164.1L639.3 164.2L639.2 164.3L639.1 164.4L639.1 164.5L639.1 164.6L639.0 164.7L639.0 164.9L639.0 165.0L639.0 165.2L639.0 165.4L639.0 165.5L639.1 165.7L639.1 165.9L639.2 166.0L639.2 166.2L639.3 166.4L639.4 166.5L639.5 166.7L639.5 166.9L639.6 167.0L639.7 167.2L639.8 167.3L639.9 167.4L640.1 167.6L640.2 167.7L640.3 167.8L640.4 167.9L640.5 168.0L640.6 168.1L640.8 168.1L640.9 168.2L641.0 168.2L641.1 168.3L641.2 168.3L641.3 168.3L641.4 168.3L641.5 168.3L641.6 168.2L641.7 168.2L641.8 168.2L641.8 168.1L641.9 168.0L642.0 168.0L642.0 167.9L642.0 167.8L642.1 167.7L642.1 167.6L642.1 167.5L642.1 167.4L642.1 167.2L642.1 167.1L642.1 167.0L642.1 166.8L642.1 166.7L642.0 166.6L642.0 166.4L641.9 166.3L641.9 166.2L641.8 166.0L641.7 165.9L641.7 165.8L641.6 165.7L641.5 165.6L641.4 165.5L641.3 165.4L641.2 165.3L641.1 165.2L641.1 165.1L641.0 165.0L640.9 165.0L640.8 164.9L640.7 164.9L640.6 164.9L640.5 164.8L640.4 164.8L640.3 164.8L640.3 164.8L640.2 164.8L640.1 164.8L640.0 164.9L640.0 164.9L639.9 165.0L639.9 165.0L639.8 165.1L639.8 165.1L639.8 165.2L639.7 165.3L639.7 165.4L639.7 165.5L639.7 165.6L639.7 165.7L639.7 165.8L639.7 165.9L639.7 166.0L639.7 166.1L639.8 166.2L639.8 166.3L639.8 166.4L639.9 166.5L639.9 166.6L640.0 166.7L640.0 166.8L640.1 166.9L640.2 167.0L640.2 167.1L640.3 167.1L640.4 167.2L640.4 167.3L640.5 167.3L640.6 167.4L640.7 167.4L640.7 167.5L640.8 167.5L640.9 167.5L640.9 167.6L641.0 167.6L641.1 167.6L641.1 167.6L641.2 167.6L641.2 167.6L641.3 167.5L641.3 167.5L641.4 167.5L641.4 167.4L641.5 167.4L641.5 167.3L641.5 167.3L641.5 167.2L641.6 167.1L641.6 167.1L641.6 167.0L641.6 166.9L641.6 166.8L641.6 166.7L641.5 166.7L641.5 166.6L641.5 166.5L641.5 166.4L641.5 166.3L641.4 166.2L641.4 166.2L641.3 166.1L641.3 166.0L641.2 165.9L641.2 165.9L641.1 165.8L641.1 165.7L641.0 165.7L641.0 165.6L640.9 165.6L640.9 165.5L640.8 165.5L640.8 165.5L640.7 165.4L640.7 165.4L640.6 165.4L640.5 165.4L640.5 165.4L640.4 165.4L640.4 165.4L640.4 165.4L640.3 165.4L640.3 165.4L640.2 165.5L640.2 165.5L640.2 165.5L640.2 165.6L640.1 165.6L640.1 165.7L640.1 165.7L640.1 165.8L640.1 165.8L640.1 165.9L640.1 166.0L640.1 166.0L640.1 166.1L640.1 166.2L640.2 166.2L640.2 166.3L640.2 166.3L640.2 166.4L640.3 166.5L640.3 166.5L640.3 166.6L640.4 166.7L640.4 166.7L640.4 166.8L640.5 166.8L640.5 166.9L640.6 166.9L640.6 166.9L640.6 167.0L640.7 167.0L640.7 167.0L640.8 167.0L640.8 167.1L640.9 167.1L640.9 167.1L640.9 167.1L641.0 167.1L641.0 167.1L641.1 167.1L641.1 167.1L641.1 167.1L641.1 167.0L641.2 167.0L641.2 167.0L641.2 166.9L641.2 166.9L641.2 166.9L641.2 166.8L641.2 166.8L641.3 166.7L641.3 166.7L641.2 166.7L641.2 166.6L641.2 166.6L641.2 166.5L641.2 166.5L641.2 166.4L641.2 166.4L641.2 166.3L641.1 166.3L641.1 166.2L641.1 166.2" stroke="#7a7a7a" stroke-width="1" fill="none"/>
<path d="M201.9 223.7L201.9 80.6M201.9 80.6L581.4 58.5M581.4 58.5L581.4 201.6M581.4 201.6L201.9 223.7M201.9 223.7L320.6 296.3M320.6 296.3L700.1 274.2M700.1 274.2L581.4 201.6M700.1 274.2L700.1 131.1M700.1 131.1L581.4 58.5" stroke="#333" stroke-width="1.5" fill="none" stroke-linecap="round"/>
<path d="M261.2 188.9L261.4 189.0L261.5 189.0L261.7 189.0L261.9 189.0L262.0 189.0L262.2 189.0L262.4 189.0L262.5 189.0L262.7 189.0L262.8 189.0L263.0 189.0L263.2 188.9L263.3 188.9L263.5 188.9L263.6 188.9L263.8 188.8L263.9 188.8L264.1 188.8L264.2 188.7L264.4 188.7L264.5 188.6L264.6 188.6L264.8 188.5L264.9 188.5L265.0 188.4L265.1 188.3L265.3 188.3L265.4 188.2L265.5 188.2L265.6 188.1L265.7 188.0L265.8 188.0L265.9 187.9L266.0 187.9L266.1 187.8L266.2 187.7L266.3 187.7L266.4 187.6L266.5 187.6L266.6 187.5L266.7 187.5L266.7 187.5L266.8 187.4L266.9 187.4L267.0 187.4L267.1 187.3L267.2 187.3L267.3 187.3L267.4 187.3L267.5 187.3L267.5 187.3L267.6 187.3L267.7 187.3L267.8 187.3L267.9 187.3L268.0 187.3L268.1 187.4L268.2 187.4L268.4 187.4L268.5 187.5L268.6 187.5L268.7 187.5L268.8 187.6L269.0 187.6L269.1 187.7L269.2 187.8L269.4 187.8L269.5 187.9L269.7 187.9L269.8 188.0L270.0 188.1L270.1 188.1L270.3 188.2L270.5 188.2L270.6 188.3L270.8 188.4L271.0 188.4L271.2 188.5L271.3 188.5L271.5 188.6L271.7 188.6L271.9 188.7L272.1 188.7L272.3 188.7L272.4 188.8L272.6 188.8L272.8 188.8L273.0 188.8L273.2 188.8L273.4 188.8L273.6 188.8L273.7 188.8L273.9 188.8L274.1 188.7L274.3 188.7L274.4 188.7L274.6 188.6L274.8 188.6L274.9 188.5L275.1 188.5L275.2 188.4L275.4 188.3L275.5 188.2L275.7 188.2L275.8 188.1L275.9 188.0L276.0 187.9L276.2 187.8L276.3 187.7L276.4 187.6L276.5 187.5L276.6 187.4L276.7 187.3L276.8 187.2L276.8 187.1L276.9 187.0L277.0 186.9L277.1 186.8L277.2 186.8L277.2 186.7L277.3 186.6L277.3 186.5L277.4 186.4L277.5 186.4L277.5 186.3L277.6 186.3L277.6 186.2L277.7 186.2L277.8 186.1L277.8 186.1L277.9 186.1L277.9 186.1L278.0 186.1L278.1 186.1L278.2 186.1L278.2 186.1L278.3 186.2L278.4 186.2L278.5 186.3L278.6 186.3L278.7 186.4L278.8 186.4L278.9 186.5L279.0 186.6L279.1 186.7L279.3 186.8L279.4 186.9L279.5 187.0L279.7 187.1L279.8 187.2L280.0 187.3L280.2 187.4L280.3 187.5L280.5 187.6L280.7 187.7L280.9 187.8L281.1 187.9L281.3 188.0L281.5 188.1L281.7 188.2L281.9 188.3L282.1 188.4L282.3 188.5L282.5 188.5L282.8 188.6L283.0 188.7L283.2 188.7L283.4 188.8L283.7 188.8L283.9 188.8L284.1 188.8L284.3 188.8L284.5 188.8L284.8 188.8L285.0 188.8L285.2 188.8L285.4 188.7L285.6 188.7L285.8 188.6L285.9 188.5L286.1 188.4L286.3 188.4L286.5 188.3L286.6 188.2L286.8 188.0L286.9 187.9L287.0 187.8L287.2 187.7L287.3 187.5L287.4 187.4L287.5 187.2L287.6 187.1L287.7 186.9L287.8 186.8L287.8 186.6L287.9 186.5L288.0 186.3L288.0 186.2L288.1 186.0L288.1 185.9L288.1 185.8L288.2 185.6L288.2 185.5L288.2 185.4L288.2 185.3L288.2 185.2L288.3 185.1L288.3 185.0L288.3 184.9L288.3 184.9L288.3 184.8L288.3 184.8L288.3 184.8L288.4 184.7L288.4 184.7L288.4 184.8L288.4 184.8L288.5 184.8L288.5 184.9L288.6 184.9L288.6 185.0L288.7 185.1L288.8 185.2L288.9 185.3L289.0 185.4L289.1 185.5L289.2 185.7L289.3 185.8L289.4 185.9L289.6 186.1L289.7 186.3L289.9 186.4L290.0 186.6L290.2 186.8L290.4 186.9L290.6 187.1L290.8 187.3L291.0 187.4L291.3 187.6L291.5 187.8L291.8 187.9L292.0 188.1L292.3 188.2L292.5 188.4L292.8 188.5L293.1 188.6L293.3 188.7L293.6 188.8L293.9 188.9L294.2 188.9L294.4 189.0L294.7 189.0L295.0 189.1L295.2 189.1L295.5 189.1L295.8 189.0L296.0 189.0L296.3 189.0L296.5 188.9L296.8 188.8L297.0 188.7L297.2 188.6L297.4 188.5L297.6 188.3L297.8 188.2L298.0 188.0L298.2 187.8L298.3 187.7L298.5 187.5L298.6 187.3L298.7 187.0L298.8 186.8L298.9 186.6L299.0 186.4L299.1 186.1L299.1 185.9L299.2 185.7L299.2 185.5L299.2 185.2L299.3 185.0L299.3 184.8L299.3 184.6L299.2 184.4L299.2 184.2L299.2 184.0L299.2 183.8L299.1 183.6L299.1 183.5L299.1 183.4L299.0 183.2L299.0 183.1L298.9 183.1L298.9 183.0L298.8 183.0L298.8 182.9L298.8 182.9L298.7 182.9L298.7 183.0L298.7 183.0L298.7 183.1L298.7 183.2L298.7 183.3L298.7 183.4L298.8 183.5L298.8 183.7L298.9 183.9L299.0 184.1L299.1 184.3L299.2 184.5L299.3 184.7L299.4 185.0L299.6 185.2L299.7 185.5L299.9 185.7L300.1 186.0L300.3 186.3L300.5 186.6L300.8 186.8L301.0 187.1L301.3 187.4L301.5 187.7L301.8 187.9L302.1 188.2L302.4 188.4L302.8 188.7L303.1 188.9L303.4 189.1L303.7 189.3L304.1 189.5L304.4 189.6L304.8 189.8L305.1 189.9L305.5 190.0L305.8 190.0L306.1 190.1L306.5 190.1L306.8 190.1L307.1 190.1L307.4 190.1L307.7 190.0L308.0 189.9L308.3 189.8L308.6 189.7L308.8 189.5L309.1 189.3L309.3 189.1L309.5 188.9L309.7 188.6L309.9 188.4L310.0 188.1L310.2 187.8L310.3 187.5L310.4 187.2L310.5 186.8L310.5 186.5L310.6 186.1L310.6 185.8L310.6 185.4L310.6 185.1L310.6 184.7L310.6 184.4L310.5 184.0L310.4 183.7L310.3 183.3L310.3 183.0L310.1 182.7L310.0 182.4L309.9 182.1L309.8 181.8L309.6 181.6L309.5 181.4L309.4 181.2L309.2 181.0L309.1 180.8L308.9 180.7L308.8 180.6L308.7 180.6L308.5 180.5L308.4 180.5L308.3 180.5L308.2 180.6L308.2 180.6L308.1 180.7L308.0 180.9L308.0 181.0L308.0 181.2L308.0 181.4L308.0 181.6L308.1 181.9L308.2 182.2L308.2 182.5L308.4 182.8L308.5 183.1L308.7 183.5L308.8 183.8L309.1 184.2L309.3 184.6L309.5 185.0L309.8 185.4L310.1 185.8L310.4 186.2L310.8 186.6L311.1 187.0L311.5 187.3L311.9 187.7L312.3 188.1L312.7 188.4L313.2 188.7L313.6 189.1L314.1 189.3L314.5 189.6L315.0 189.9L315.5 190.1L315.9 190.3L316.4 190.4L316.9 190.5L317.3 190.6L317.8 190.7L318.3 190.7L318.7 190.7L319.1 190.7L319.6 190.6L320.0 190.5L320.3 190.4L320.7 190.3L321.1 190.1L321.4 189.8L321.7 189.6L322.0 189.3L322.2 189.0L322.5 188.6L322.7 188.3L322.8 187.9L323.0 187.5L323.1 187.1L323.2 186.7L323.3 186.2L323.3 185.8L323.3 185.3L323.3 184.8L323.3 184.4L323.2 183.9L323.1 183.5L323.0 183.0L322.8 182.6L322.7 182.1L322.5 181.7L322.3 181.3L322.1 180.9L321.9 180.6L321.6 180.3L321.4 180.0L321.1 179.7L320.9 179.5L320.6 179.3L320.3 179.1L320.1 179.0L319.8 178.9L319.6 178.8L319.3 178.8L319.1 178.8L318.9 178.9L318.6 179.0L318.5 179.1L318.3 179.3L318.1 179.5L318.0 179.8L317.9 180.0L317.8 180.4L317.7 180.7L317.7 181.1L317.7 181.5L317.7 182.0L317.8 182.4L317.9 182.9L318.0 183.4L318.2 184.0L318.4 184.5L318.6 185.0L318.8 185.6L319.1 186.1L319.4 186.7L319.7 187.2L320.1 187.8L320.5 188.3L320.9 188.8L321.3 189.3L321.8 189.8L322.3 190.3L322.8 190.7L323.3 191.1L323.8 191.5L324.4 191.8L324.9 192.1L325.5 192.3L326.0 192.6L326.6 192.7L327.1 192.8L327.7 192.9L328.2 192.9L328.7 192.9L329.2 192.8L329.8 192.7L330.2 192.6L330.7 192.3L331.2 192.1L331.6 191.7L332.0 191.4L332.3 191.0L332.7 190.5L333.0 190.0L333.3 189.5L333.5 188.9L333.7 188.3L333.9 187.7L334.1 187.0L334.2 186.4L334.2 185.7L334.3 184.9L334.3 184.2L334.2 183.5L334.2 182.7L334.1 182.0L333.9 181.2L333.8 180.5L333.6 179.8L333.4 179.1L333.1 178.4L332.8 177.7L332.6 177.1L332.3 176.5L331.9 176.0L331.6 175.4L331.3 174.9L330.9 174.5L330.6 174.1L330.2 173.8L329.8 173.5L329.5 173.3L329.2 173.1L328.8 173.0L328.5 172.9L328.2 172.9L327.9 173.0L327.7 173.1L327.5 173.3L327.3 173.6L327.1 173.9L326.9 174.3L326.8 174.7L326.8 175.2L326.8 175.7L326.8 176.3L326.8 176.9L326.9 177.6L327.0 178.3L327.2 179.0L327.5 179.8L327.7 180.6L328.0 181.5L328.4 182.3L328.8 183.2L329.2 184.1L329.7 184.9L330.2 185.8L330.8 186.7L331.4 187.6L332.0 188.4L332.6 189.3L333.3 190.1L334.0 190.9L334.7 191.7L335.4 192.4L336.2 193.1L337.0 193.7L337.7 194.3L338.5 194.8L339.3 195.3L340.0 195.7L340.8 196.1L341.6 196.4L342.3 196.6L343.0 196.8L343.7 196.9L344.4 196.9L345.0 196.9L345.6 196.8L346.2 196.6L346.7 196.4L347.2 196.1L347.7 195.7L348.1 195.3L348.4 194.8L348.8 194.2L349.0 193.6L349.2 193.0L349.4 192.3L349.4 191.5L349.5 190.7L349.5 189.9L349.4 189.1L349.3 188.2L349.1 187.3L348.8 186.4L348.6 185.5L348.2 184.6L347.8 183.6L347.4 182.7L346.9 181.8L346.4 180.9L345.9 180.0L345.3 179.2L344.7 178.4L344.1 177.6L343.4 176.9L342.7 176.2L342.0 175.5L341.3 175.0L340.6 174.4L339.9 174.0L339.2 173.5L338.5 173.2L337.9 172.9L337.2 172.7L336.6 172.6L335.9 172.5L335.4 172.5L334.8 172.6L334.3 172.7L333.8 172.9L333.4 173.2L333.0 173.5L332.7 173.9L332.4 174.4L332.2 174.9L332.1 175.5L332.0 176.1L331.9 176.8L332.0 177.5L332.1 178.2L332.2 179.0L332.4 179.8L332.7 180.7L333.1 181.5L333.5 182.4L334.0 183.2L334.5 184.1L335.1 185.0L335.7 185.8L336.4 186.7L337.2 187.5L338.0 188.2L338.8 189.0L339.7 189.7L340.6 190.3L341.5 191.0L342.5 191.5L343.5 192.0L344.5 192.4L345.5 192.8L346.5 193.1L347.5 193.4L348.6 193.5L349.6 193.6L350.6 193.6L351.6 193.5L352.6 193.4L353.5 193.2L354.4 192.9L355.3 192.5L356.1 192.0L356.9 191.5L357.7 190.9L358.4 190.3L359.0 189.6L359.6 188.8L360.1 187.9L360.6 187.1L361.0 186.1L361.4 185.2L361.7 184.2L361.9 183.1L362.0 182.1L362.1 181.0L362.2 180.0L362.1 178.9L362.0 177.8L361.9 176.8L361.6 175.7L361.4 174.7L361.0 173.7L360.7 172.8L360.2 171.9L359.8 171.1L359.3 170.3L358.7 169.6L358.2 168.9L357.6 168.4L356.9 167.9L356.3 167.4L355.6 167.1L355.0 166.9L354.3 166.7L353.7 166.7L353.0 166.8L352.4 166.9L351.8 167.2L351.2 167.5L350.6 168.0L350.1 168.5L349.6 169.2L349.1 169.9L348.7 170.7L348.3 171.7L348.0 172.7L347.7 173.7L347.5 174.9L347.4 176.1L347.3 177.4L347.3 178.8L347.3 180.2L347.4 181.6L347.6 183.1L347.8 184.6L348.1 186.1L348.5 187.7L348.9 189.2L349.4 190.8L349.9 192.3L350.5 193.8L351.2 195.3L351.9 196.7L352.6 198.1L353.4 199.5L354.2 200.7L355.0 201.9L355.9 203.1L356.8 204.1L357.7 205.1L358.6 205.9L359.6 206.7L360.5 207.3L361.4 207.8L362.3 208.3L363.2 208.5L364.1 208.7L365.0 208.8L365.8 208.7L366.6 208.5L367.3 208.1L368.0 207.7L368.6 207.1L369.2 206.4L369.7 205.6L370.1 204.6L370.5 203.6L370.8 202.4L371.1 201.1L371.2 199.8L371.3 198.3L371.3 196.8L371.3 195.1L371.1 193.4L370.9 191.7L370.6 189.9L370.2 188.0L369.8 186.1L369.3 184.2L368.7 182.3L368.0 180.4L367.3 178.4L366.5 176.5L365.7 174.6L364.8 172.8L363.8 170.9L362.9 169.2L361.9 167.5L360.9 165.8L359.8 164.3L358.8 162.8L357.7 161.4L356.6 160.1L355.6 158.9L354.5 157.9L353.5 156.9L352.5 156.1L351.5 155.4L350.6 154.8L349.7 154.4L348.9 154.0L348.2 153.9L347.5 153.8L346.9 153.9L346.3 154.2L345.9 154.5L345.5 155.0L345.2 155.6L345.0 156.4L344.9 157.2L345.0 158.2L345.1 159.3L345.3 160.4L345.6 161.7L346.1 163.1L346.6 164.5L347.3 166.0L348.0 167.6L348.9 169.2L349.8 170.9L350.9 172.6L352.0 174.3L353.2 176.0L354.6 177.8L356.0 179.5L357.4 181.2L359.0 182.9L360.6 184.6L362.2 186.2L363.9 187.8L365.6 189.3L367.4 190.8L369.2 192.1L371.0 193.4L372.8 194.6L374.7 195.7L376.5 196.7L378.2 197.6L380.0 198.4L381.7 199.1L383.4 199.7L385.1 200.1L386.6 200.4L388.1 200.7L389.6 200.7L390.9 200.7L392.2 200.6L393.4 200.3L394.5 200.0L395.5 199.5L396.3 198.9L397.1 198.2L397.7 197.5L398.3 196.6L398.7 195.7L398.9 194.7L399.1 193.7L399.1 192.6L399.1 191.4L398.9 190.2L398.5 189.0L398.1 187.7L397.5 186.5L396.9 185.2L396.1 184.0L395.2 182.8L394.2 181.6L393.2 180.4L392.0 179.3L390.8 178.3L389.5 177.3L388.1 176.3L386.7 175.5L385.2 174.7L383.7 174.0L382.1 173.4L380.5 172.9L378.9 172.6L377.3 172.3L375.7 172.1L374.2 172.1L372.6 172.1L371.0 172.3L369.5 172.6L368.1 173.0L366.7 173.5L365.3 174.1L364.1 174.8L362.8 175.6L361.7 176.6L360.7 177.6L359.7 178.7L358.9 179.8L358.1 181.1L357.5 182.4L356.9 183.7L356.5 185.1L356.1 186.5L355.9 188.0L355.8 189.5L355.8 190.9L355.9 192.4L356.1 193.8L356.4 195.2L356.9 196.6L357.4 197.9L358.0 199.2L358.7 200.4L359.6 201.5L360.4 202.6L361.4 203.5L362.4 204.3L363.5 205.0L364.7 205.6L365.9 206.1L367.1 206.4L368.4 206.5L369.7 206.6L371.0 206.5L372.4 206.2L373.7 205.8L375.0 205.2L376.3 204.4L377.6 203.5L378.9 202.5L380.1 201.3L381.3 199.9L382.4 198.4L383.5 196.8L384.5 195.0L385.5 193.2L386.3 191.1L387.1 189.0L387.9 186.8L388.5 184.5L389.1 182.1L389.5 179.7L389.9 177.2L390.2 174.6L390.4 172.0L390.5 169.4L390.5 166.8L390.4 164.2L390.3 161.6L390.0 159.1L389.7 156.6L389.4 154.2L388.9 151.8L388.4 149.6L387.8 147.4L387.2 145.4L386.5 143.5L385.8 141.7L385.0 140.1L384.3 138.7L383.5 137.4L382.7 136.3L381.9 135.3L381.1 134.6L380.3 134.1L379.6 133.7L378.9 133.6L378.2 133.7L377.5 134.0L377.0 134.5L376.4 135.2L376.0 136.2L375.6 137.3L375.3 138.7L375.1 140.2L375.0 141.9L374.9 143.9L375.0 146.0L375.2 148.2L375.4 150.7L375.8 153.3L376.3 156.0L376.9 158.8L377.6 161.8L378.4 164.9L379.3 168.0L380.3 171.2L381.5 174.5L382.7 177.8L384.0 181.2L385.4 184.5L386.8 187.9L388.4 191.2L390.0 194.5L391.6 197.7L393.4 200.9L395.1 204.0L396.9 207.0L398.8 209.9L400.6 212.6L402.4 215.2L404.3 217.7L406.1 220.0L407.9 222.2L409.7 224.1L411.4 225.9L413.1 227.5L414.7 228.8L416.3 230.0L417.7 231.0L419.1 231.7L420.3 232.2L421.5 232.5L422.5 232.6L423.4 232.4L424.2 232.0L424.9 231.5L425.3 230.7L425.7 229.7L425.9 228.5L425.9 227.1L425.8 225.6L425.6 223.8L425.1 221.9L424.5 219.9L423.8 217.7L422.9 215.4L421.8 212.9L420.6 210.4L419.3 207.8L417.8 205.1L416.1 202.4L414.4 199.6L412.5 196.8L410.5 193.9L408.4 191.1L406.2 188.3L403.9 185.5L401.6 182.7L399.2 180.0L396.7 177.4L394.2 174.9L391.7 172.4L389.1 170.1L386.6 167.9L384.0 165.8L381.5 163.8L379.0 161.9L376.6 160.3L374.2 158.7L371.9 157.4L369.7 156.2L367.6 155.1L365.6 154.2L363.7 153.5L361.9 153.0L360.2 152.6L358.7 152.4L357.4 152.4L356.2 152.5L355.2 152.8L354.4 153.2L353.7 153.8L353.2 154.4L352.9 155.2L352.8 156.2L352.9 157.2L353.2 158.3L353.6 159.5L354.3 160.8L355.1 162.1L356.1 163.5L357.3 164.9L358.6 166.4L360.1 167.8L361.8 169.3L363.6 170.7L365.6 172.1L367.7 173.5L369.9 174.8L372.2 176.1L374.7 177.3L377.2 178.4L379.8 179.4L382.5 180.3L385.2 181.2L388.0 181.9L390.8 182.5L393.6 183.0L396.4 183.3L399.3 183.6L402.1 183.7L404.8 183.6L407.6 183.5L410.2 183.2L412.8 182.7L415.3 182.2L417.8 181.5L420.1 180.7L422.3 179.8L424.4 178.8L426.4 177.7L428.3 176.5L430.0 175.2L431.6 173.9L433.0 172.5L434.2 171.0L435.4 169.6L436.3 168.0L437.1 166.5L437.8 165.0L438.2 163.5L438.6 162.0L438.7 160.6L438.7 159.2L438.6 157.9L438.3 156.6L437.9 155.5L437.4 154.4L436.7 153.5L435.9 152.7L435.0 152.0L434.0 151.4L432.9 151.1L431.7 150.8L430.5 150.8L429.1 150.9L427.8 151.2L426.3 151.7L424.9 152.3L423.4 153.2L422.0 154.2L420.5 155.5L419.0 156.9L417.5 158.5L416.1 160.3L414.7 162.2L413.4 164.4L412.1 166.6L410.9 169.1L409.7 171.7L408.6 174.4L407.6 177.2L406.7 180.1L405.9 183.2L405.2 186.3L404.6 189.5L404.1 192.7L403.7 196.0L403.4 199.3L403.2 202.6L403.1 205.9L403.1 209.1L403.2 212.3L403.5 215.5L403.8 218.5L404.2 221.5L404.7 224.3L405.3 227.1L405.9 229.6L406.6 232.0L407.4 234.2L408.2 236.3L409.1 238.1L410.0 239.7L411.0 241.1L411.9 242.3L412.9 243.2L413.9 243.8L414.8 244.2L415.8 244.4L416.7 244.2L417.6 243.8L418.4 243.1L419.2 242.2L419.9 241.0L420.6 239.5L421.2 237.7L421.6 235.7L422.0 233.5L422.4 231.0L422.6 228.2L422.7 225.3L422.7 222.1L422.5 218.7L422.3 215.2L422.0 211.5L421.5 207.6L420.9 203.6L420.2 199.5L419.4 195.3L418.5 190.9L417.5 186.6L416.4 182.2L415.1 177.7L413.8 173.3L412.4 168.9L411.0 164.5L409.5 160.2L407.9 155.9L406.2 151.8L404.5 147.7L402.8 143.8L401.1 140.0L399.3 136.4L397.6 133.0L395.9 129.8L394.2 126.7L392.5 124.0L390.9 121.4L389.3 119.1L387.8 117.0L386.4 115.2L385.1 113.7L383.9 112.4L382.8 111.4L381.8 110.7L380.9 110.3L380.2 110.2L379.7 110.3L379.3 110.7L379.0 111.4L378.9 112.4L379.0 113.6L379.3 115.1L379.8 116.8L380.4 118.7L381.2 120.9L382.2 123.3L383.4 125.9L384.8 128.6L386.3 131.5L388.0 134.6L389.9 137.8L391.9 141.1L394.1 144.5L396.5 148.0L399.0 151.5L401.6 155.1L404.3 158.7L407.2 162.4L410.1 166.0L413.2 169.6L416.3 173.1L419.4 176.6L422.7 180.0L425.9 183.3L429.2 186.6L432.5 189.7L435.8 192.6L439.0 195.4L442.3 198.1L445.4 200.6L448.5 202.9L451.6 205.0L454.5 207.0L457.3 208.7L460.0 210.3L462.6 211.6L465.0 212.8L467.3 213.7L469.4 214.5L471.4 215.0L473.1 215.3L474.7 215.5L476.1 215.4L477.2 215.2L478.2 214.8L478.9 214.2L479.4 213.5L479.7 212.6L479.8 211.6L479.7 210.4L479.4 209.2L478.8 207.8L478.0 206.4L477.0 204.9L475.9 203.3L474.5 201.6L472.9 200.0L471.2 198.3L469.3 196.6L467.2 194.9L465.0 193.3L462.6 191.6L460.1 190.1L457.5 188.5L454.8 187.1L452.0 185.7L449.1 184.4L446.2 183.2L443.2 182.2L440.2 181.2L437.2 180.3L434.2 179.6L431.2 179.0L428.2 178.6L425.2 178.3L422.3 178.1L419.5 178.0L416.7 178.1L414.1 178.3L411.5 178.7L409.1 179.2L406.8 179.7L404.6 180.5L402.6 181.3L400.7 182.2L399.0 183.2L397.4 184.3L396.1 185.4L394.8 186.6L393.8 187.9L393.0 189.2L392.3 190.5L391.8 191.8L391.5 193.2L391.4 194.5L391.4 195.8L391.7 197.0L392.1 198.2L392.6 199.3L393.4 200.4L394.2 201.3L395.3 202.2L396.4 202.9L397.7 203.5L399.1 204.0L400.6 204.3L402.2 204.5L404.0 204.5L405.7 204.4L407.6 204.1L409.5 203.6L411.4 202.9L413.4 202.1L415.4 201.1L417.4 199.9L419.4 198.5L421.4 196.9L423.4 195.2L425.3 193.3L427.2 191.3L429.0 189.1L430.8 186.7L432.5 184.3L434.1 181.7L435.6 178.9L437.1 176.1L438.4 173.2L439.7 170.2L440.8 167.2L441.8 164.1L442.7 160.9L443.5 157.8L444.2 154.7L444.8 151.5L445.2 148.4L445.6 145.4L445.8 142.4L445.9 139.5L445.9 136.8L445.9 134.1L445.7 131.5L445.4 129.2L445.1 126.9L444.7 124.9L444.2 123.0L443.6 121.3L443.0 119.9L442.4 118.6L441.7 117.6L441.0 116.8L440.3 116.3L439.6 116.0L438.9 116.0L438.2 116.2L437.5 116.7L436.9 117.5L436.3 118.5L435.8 119.8L435.3 121.3L434.8 123.1L434.5 125.1L434.2 127.3L434.0 129.8L433.9 132.5L433.8 135.4L433.9 138.5L434.1 141.8L434.4 145.3L434.8 148.9L435.3 152.6L435.9 156.5L436.6 160.4L437.4 164.5L438.3 168.6L439.3 172.8L440.4 177.0L441.6 181.2L442.9 185.4L444.3 189.6L445.7 193.7L447.2 197.8L448.8 201.8L450.4 205.7L452.1 209.4L453.8 213.1L455.5 216.6L457.3 219.9L459.0 223.0L460.7 226.0L462.5 228.7L464.2 231.2L465.8 233.5L467.4 235.5L469.0 237.3L470.5 238.9L471.9 240.1L473.2 241.2L474.4 241.9L475.6 242.4L476.6 242.6L477.5 242.6L478.2 242.2L478.8 241.7L479.3 240.8L479.7 239.7L479.9 238.4L479.9 236.8L479.8 235.0L479.5 233.0L479.1 230.8L478.5 228.4L477.7 225.8L476.8 223.0L475.7 220.1L474.5 217.1L473.2 214.0L471.7 210.7L470.0 207.4L468.2 204.0L466.3 200.6L464.3 197.1L462.2 193.6L460.0 190.1L457.7 186.6L455.4 183.2L452.9 179.8L450.5 176.5L447.9 173.3L445.4 170.2L442.8 167.1L440.3 164.3L437.7 161.5L435.2 158.9L432.7 156.4L430.2 154.1L427.8 152.0L425.5 150.1L423.3 148.3L421.1 146.8L419.1 145.4L417.2 144.3L415.4 143.3L413.8 142.6L412.3 142.0L410.9 141.6L409.7 141.5L408.7 141.5L407.8 141.7L407.2 142.1L406.7 142.6L406.4 143.3L406.2 144.2L406.3 145.2L406.6 146.3L407.0 147.6L407.6 149.0L408.4 150.5L409.4 152.0L410.6 153.6L411.9 155.3L413.4 157.1L415.1 158.8L416.9 160.6L418.9 162.4L421.0 164.2L423.2 166.0L425.5 167.7L427.9 169.4L430.4 171.1L433.0 172.7L435.7 174.2L438.4 175.6L441.1 176.9L443.9 178.1L446.7 179.3L449.6 180.3L452.4 181.2L455.1 181.9L457.9 182.5L460.6 183.0L463.2 183.4L465.8 183.7L468.3 183.8L470.8 183.7L473.1 183.6L475.3 183.3L477.4 182.9L479.4 182.4L481.2 181.7L482.9 181.0L484.5 180.2L485.9 179.2L487.2 178.2L488.3 177.2L489.2 176.0L490.0 174.9L490.6 173.6L491.1 172.4L491.4 171.1L491.6 169.8L491.6 168.6L491.4 167.3L491.2 166.1L490.7 164.9L490.2 163.8L489.5 162.7L488.6 161.7L487.7 160.8L486.7 159.9L485.5 159.2L484.3 158.6L483.0 158.0L481.6 157.6L480.2 157.4L478.7 157.2L477.2 157.2L475.6 157.4L474.0 157.7L472.5 158.1L470.9 158.7L469.3 159.4L467.7 160.3L466.2 161.3L464.7 162.4L463.3 163.7L461.9 165.1L460.6 166.6L459.3 168.3L458.1 170.0L457.0 171.9L456.0 173.8L455.1 175.8L454.3 177.9L453.6 180.1L453.0 182.3L452.5 184.5L452.1 186.8L451.8 189.1L451.6 191.4L451.5 193.7L451.5 195.9L451.7 198.1L451.9 200.3L452.2 202.4L452.7 204.4L453.2 206.3L453.8 208.2L454.4 209.9L455.2 211.5L456.0 213.0L456.8 214.3L457.7 215.5L458.7 216.5L459.7 217.3L460.7 218.0L461.8 218.5L462.8 218.8L463.9 219.0L464.9 218.9L466.0 218.7L467.0 218.3L468.0 217.7L469.0 216.9L469.9 215.9L470.7 214.7L471.6 213.3L472.3 211.8L473.0 210.1L473.6 208.3L474.2 206.3L474.6 204.1L475.0 201.9L475.3 199.5L475.5 196.9L475.6 194.3L475.7 191.6L475.6 188.9L475.5 186.0L475.2 183.2L474.9 180.2L474.5 177.3L474.0 174.4L473.4 171.4L472.8 168.5L472.1 165.6L471.3 162.8L470.5 160.1L469.6 157.4L468.6 154.8L467.7 152.3L466.6 149.9L465.6 147.6L464.5 145.5L463.5 143.5L462.4 141.6L461.3 140.0L460.3 138.5L459.3 137.1L458.3 136.0L457.3 135.0L456.4 134.2L455.5 133.6L454.7 133.2L453.9 133.0L453.3 133.0L452.7 133.2L452.2 133.5L451.7 134.1L451.4 134.8L451.2 135.7L451.0 136.8L451.0 138.0L451.1 139.4L451.3 140.9L451.6 142.6L452.0 144.4L452.5 146.4L453.2 148.4L453.9 150.5L454.8 152.7L455.7 155.0L456.8 157.4L457.9 159.8L459.2 162.2L460.5 164.6L461.9 167.1L463.4 169.6L465.0 172.0L466.6 174.4L468.3 176.8L470.1 179.1L471.8 181.4L473.7 183.6L475.5 185.7L477.3 187.7L479.2 189.6L481.1 191.4L482.9 193.0L484.7 194.6L486.5 196.0L488.3 197.3L490.0 198.4L491.7 199.4L493.3 200.3L494.9 201.0L496.3 201.5L497.7 202.0L499.0 202.2L500.2 202.3L501.3 202.3L502.3 202.1L503.2 201.8L504.0 201.3L504.6 200.7L505.2 200.0L505.6 199.2L505.9 198.2L506.1 197.2L506.1 196.1L506.1 194.9L505.9 193.6L505.6 192.2L505.1 190.8L504.6 189.4L503.9 187.9L503.2 186.4L502.3 184.8L501.4 183.3L500.3 181.8L499.2 180.2L498.0 178.7L496.7 177.3L495.4 175.9L494.0 174.5L492.5 173.2L491.1 171.9L489.6 170.7L488.0 169.6L486.5 168.6L484.9 167.7L483.4 166.9L481.8 166.2L480.3 165.5L478.8 165.0L477.3 164.6L475.9 164.3L474.5 164.1L473.2 164.0L472.0 164.0L470.8 164.2L469.7 164.4L468.7 164.7L467.7 165.1L466.9 165.7L466.1 166.3L465.5 167.0L464.9 167.7L464.5 168.6L464.1 169.5L463.9 170.4L463.7 171.4L463.7 172.5L463.8 173.5L464.0 174.6L464.3 175.7L464.6 176.9L465.1 178.0L465.7 179.1L466.4 180.2L467.1 181.3L467.9 182.3L468.8 183.3L469.8 184.2L470.9 185.1L472.0 185.9L473.1 186.7L474.3 187.4L475.5 188.0L476.8 188.5L478.1 188.9L479.4 189.3L480.7 189.5L482.1 189.6L483.4 189.7L484.7 189.6L486.0 189.5L487.3 189.2L488.5 188.8L489.8 188.4L490.9 187.8L492.1 187.2L493.1 186.4L494.2 185.6L495.1 184.7L496.0 183.7L496.8 182.6L497.6 181.5L498.3 180.3L498.9 179.0L499.4 177.7L499.9 176.4L500.3 175.0L500.6 173.6L500.8 172.2L500.9 170.8L501.0 169.4L501.0 168.0L500.9 166.6L500.8 165.3L500.5 163.9L500.3 162.7L499.9 161.4L499.5 160.2L499.1 159.1L498.6 158.1L498.1 157.1L497.5 156.2L496.9 155.4L496.3 154.7L495.7 154.1L495.0 153.6L494.3 153.2L493.7 152.9L493.0 152.8L492.3 152.7L491.7 152.7L491.1 152.9L490.5 153.1L489.9 153.5L489.4 154.0L488.8 154.6L488.4 155.3L488.0 156.0L487.6 156.9L487.3 157.9L487.0 159.0L486.8 160.1L486.7 161.3L486.6 162.6L486.6 164.0L486.7 165.4L486.8 166.8L487.0 168.3L487.2 169.8L487.5 171.4L487.9 172.9L488.3 174.5L488.8 176.1L489.3 177.6L489.9 179.2L490.6 180.7L491.3 182.2L492.0 183.6L492.8 185.0L493.6 186.4L494.4 187.6L495.3 188.9L496.2 190.0L497.1 191.1L498.0 192.0L498.9 192.9L499.9 193.7L500.8 194.4L501.7 195.0L502.6 195.5L503.4 195.9L504.3 196.2L505.1 196.3L505.9 196.4L506.7 196.4L507.4 196.2L508.1 196.0L508.7 195.6L509.2 195.1L509.8 194.6L510.2 194.0L510.6 193.2L511.0 192.4L511.2 191.5L511.4 190.5L511.6 189.5L511.7 188.4L511.7 187.2L511.6 186.0L511.5 184.8L511.3 183.5L511.1 182.2L510.8 180.9L510.5 179.5L510.1 178.2L509.6 176.8L509.1 175.5L508.5 174.1L507.9 172.8L507.3 171.5L506.7 170.3L506.0 169.1L505.2 167.9L504.5 166.8L503.8 165.8L503.0 164.8L502.2 163.9L501.5 163.1L500.7 162.3L499.9 161.6L499.2 161.0L498.5 160.5L497.8 160.1L497.1 159.7L496.5 159.5L495.9 159.3L495.3 159.2L494.8 159.2L494.4 159.3L493.9 159.5L493.6 159.7L493.3 160.1L493.0 160.5L492.8 160.9L492.7 161.5L492.6 162.1L492.6 162.7L492.7 163.5L492.8 164.2L493.0 165.1L493.3 165.9L493.6 166.8L494.0 167.7L494.4 168.6L494.9 169.6L495.5 170.5L496.1 171.5L496.7 172.5L497.4 173.4L498.2 174.3L499.0 175.3L499.8 176.1L500.6 177.0L501.5 177.8L502.4 178.6L503.4 179.4L504.3 180.0L505.3 180.7L506.2 181.3L507.2 181.8L508.2 182.3L509.1 182.7L510.1 183.0L511.0 183.3L511.9 183.5L512.8 183.6L513.7 183.7L514.5 183.7L515.3 183.6L516.0 183.5L516.8 183.3L517.4 183.0L518.1 182.7L518.6 182.3L519.2 181.9L519.6 181.4L520.1 180.9L520.4 180.3L520.7 179.7L521.0 179.0L521.2 178.4L521.4 177.7L521.4 176.9L521.5 176.2L521.5 175.4L521.4 174.7L521.3 173.9L521.1 173.1L520.9 172.4L520.7 171.6L520.4 170.9L520.1 170.2L519.7 169.5L519.3 168.9L518.9 168.3L518.5 167.7L518.0 167.2L517.5 166.7L517.0 166.2L516.5 165.8L516.0 165.5L515.5 165.2L515.0 165.0L514.5 164.8L514.0 164.7L513.5 164.6L513.0 164.6L512.6 164.7L512.1 164.8L511.7 165.0L511.4 165.2L511.0 165.5L510.7 165.8L510.4 166.2L510.2 166.7L510.0 167.1L509.8 167.7L509.7 168.2L509.6 168.8L509.6 169.4L509.6 170.1L509.7 170.8L509.7 171.5L509.9 172.2L510.1 172.9L510.3 173.6L510.6 174.3L510.9 175.1L511.2 175.8L511.6 176.5L512.0 177.2L512.4 177.8L512.9 178.5L513.4 179.1L513.9 179.7L514.5 180.2L515.0 180.8L515.6 181.2L516.2 181.7L516.8 182.1L517.4 182.4L518.1 182.7L518.7 182.9L519.3 183.1L519.9 183.2L520.5 183.3L521.1 183.3L521.7 183.3L522.2 183.2L522.8 183.1L523.3 182.9L523.8 182.6L524.2 182.3L524.7 182.0L525.1 181.6L525.5 181.2L525.8 180.7L526.2 180.2L526.4 179.6L526.7 179.0L526.9 178.4L527.1 177.8L527.2 177.1L527.3 176.5L527.4 175.8L527.4 175.1L527.4 174.3L527.4 173.6L527.3 172.9L527.2 172.2L527.1 171.5L527.0 170.8L526.8 170.2L526.6 169.5L526.4 168.9L526.2 168.3L525.9 167.7L525.7 167.2L525.4 166.7L525.1 166.2L524.8 165.8L524.5 165.4L524.2 165.1L523.9 164.8L523.6 164.6L523.4 164.4L523.1 164.2L522.8 164.1L522.6 164.1L522.4 164.1L522.2 164.1L522.0 164.2L521.8 164.4L521.6 164.6L521.5 164.8L521.4 165.1L521.4 165.4L521.3 165.7L521.3 166.1L521.4 166.5L521.4 167.0L521.5 167.5L521.6 168.0L521.8 168.5L522.0 169.0L522.2 169.6L522.4 170.2L522.7 170.7L523.0 171.3L523.3 171.9L523.7 172.5L524.0 173.1L524.4 173.6L524.9 174.2L525.3 174.7L525.8 175.3L526.3 175.8L526.7 176.3L527.2 176.7L527.8 177.2L528.3 177.6L528.8 177.9L529.3 178.3L529.8 178.6L530.4 178.8L530.9 179.1L531.4 179.3L531.9 179.4L532.4 179.5L532.9 179.6L533.4 179.6L533.8 179.6L534.2 179.6L534.7 179.5L535.0 179.3L535.4 179.2L535.8 179.0L536.1 178.7L536.4 178.5L536.6 178.2L536.9 177.9L537.1 177.5L537.3 177.1L537.4 176.7L537.6 176.3L537.7 175.9L537.7 175.5L537.8 175.0L537.8 174.6L537.8 174.1L537.8 173.6L537.7 173.1L537.6 172.7L537.6 172.2L537.4 171.8L537.3 171.3L537.2 170.9L537.0 170.5L536.8 170.1L536.6 169.7L536.4 169.4L536.2 169.0L536.0 168.7L535.8 168.5L535.6 168.2L535.4 168.0L535.2 167.8L535.0 167.6L534.8 167.5L534.6 167.4L534.4 167.4L534.2 167.3L534.1 167.3L533.9 167.4L533.8 167.4L533.7 167.5L533.6 167.6L533.6 167.8L533.5 168.0L533.5 168.2L533.5 168.4L533.5 168.6L533.5 168.9L533.6 169.2L533.7 169.5L533.8 169.8L533.9 170.1L534.1 170.5L534.2 170.8L534.4 171.2L534.7 171.6L534.9 171.9L535.2 172.3L535.4 172.6L535.7 173.0L536.1 173.3L536.4 173.7L536.7 174.0L537.1 174.3L537.5 174.6L537.8 174.9L538.2 175.1L538.6 175.4L539.0 175.6L539.4 175.8L539.8 176.0L540.2 176.1L540.6 176.2L541.0 176.3L541.4 176.4L541.8 176.4L542.2 176.5L542.6 176.4L542.9 176.4L543.3 176.4L543.6 176.3L544.0 176.2L544.3 176.0L544.6 175.9L544.8 175.7L545.1 175.5L545.3 175.3L545.6 175.1L545.8 174.8L546.0 174.5L546.1 174.3L546.3 174.0L546.4 173.7L546.6 173.4L546.6 173.0L546.7 172.7L546.8 172.4L546.8 172.1L546.9 171.8L546.9 171.4L546.9 171.1L546.9 170.8L546.8 170.5L546.8 170.2L546.8 170.0L546.7 169.7L546.6 169.5L546.6 169.2L546.5 169.0L546.4 168.8L546.3 168.6L546.3 168.5L546.2 168.4L546.1 168.2L546.0 168.1L545.9 168.1L545.9 168.0L545.8 168.0L545.7 168.0L545.7 168.0L545.6 168.1L545.6 168.1L545.6 168.2L545.6 168.3L545.6 168.4L545.6 168.5L545.6 168.7L545.7 168.9L545.7 169.1L545.8 169.3L545.9 169.5L546.0 169.7L546.1 169.9L546.2 170.2L546.4 170.4L546.6 170.7L546.7 170.9L546.9 171.2L547.1 171.5L547.3 171.7L547.6 172.0L547.8 172.2L548.1 172.5L548.3 172.7L548.6 172.9L548.9 173.2L549.2 173.4L549.4 173.6L549.7 173.8L550.0 173.9L550.3 174.1L550.7 174.2L551.0 174.3L551.3 174.5L551.6 174.5L551.9 174.6L552.2 174.7L552.5 174.7L552.8 174.7L553.0 174.7L553.3 174.7L553.6 174.7L553.8 174.6L554.1 174.5L554.3 174.4L554.6 174.3L554.8 174.2L555.0 174.1L555.2 173.9L555.4 173.8L555.6 173.6L555.7 173.4L555.9 173.2L556.0 173.0L556.1 172.8L556.2 172.6L556.4 172.4L556.4 172.2L556.5 171.9L556.6 171.7L556.6 171.5L556.7 171.3L556.7 171.0L556.8 170.8L556.8 170.6L556.8 170.4L556.8 170.2L556.8 170.0L556.8 169.9L556.8 169.7L556.8 169.5L556.8 169.4L556.7 169.2L556.7 169.1L556.7 169.0L556.7 168.9L556.7 168.9L556.7 168.8L556.7 168.7L556.7 168.7L556.7 168.7L556.7 168.7L556.7 168.7L556.7 168.7L556.7 168.8L556.8 168.8L556.8 168.9L556.9 169.0L557.0 169.0L557.0 169.1L557.1 169.3L557.2 169.4L557.3 169.5L557.4 169.6L557.5 169.8L557.7 169.9L557.8 170.1L558.0 170.2L558.1 170.4L558.3 170.6L558.5 170.7L558.7 170.9L558.9 171.1L559.1 171.2L559.3 171.4L559.5 171.5L559.7 171.7L560.0 171.8L560.2 171.9L560.4 172.1L560.7 172.2L560.9 172.3L561.2 172.4L561.4 172.5L561.7 172.6L561.9 172.6L562.2 172.7L562.4 172.8L562.7 172.8L562.9 172.8L563.1 172.8L563.4 172.8L563.6 172.8L563.8 172.8L564.1 172.8L564.3 172.7L564.5 172.7L564.7 172.6L564.9 172.5L565.1 172.4L565.2 172.4L565.4 172.3L565.6 172.1L565.7 172.0L565.9 171.9L566.0 171.8L566.1 171.7L566.3 171.5L566.4 171.4L566.5 171.2L566.6 171.1L566.7 171.0L566.8 170.8L566.8 170.7L566.9 170.5L567.0 170.4L567.1 170.3L567.1 170.1L567.2 170.0L567.2 169.9L567.3 169.8L567.3 169.7L567.3 169.6L567.4 169.5L567.4 169.4L567.5 169.3L567.5 169.3L567.5 169.2L567.6 169.1L567.6 169.1L567.7 169.1L567.7 169.0L567.7 169.0L567.8 169.0L567.9 169.0L567.9 169.0L568.0 169.1L568.0 169.1L568.1 169.1L568.2 169.2L568.3 169.2L568.4 169.3L568.5 169.4L568.6 169.4L568.7 169.5L568.8 169.6L568.9 169.7L569.1 169.8L569.2 169.9L569.3 170.0L569.5 170.1L569.6 170.2L569.8 170.3L570.0 170.4L570.1 170.5L570.3 170.6L570.5 170.6L570.7 170.7L570.9 170.8L571.0 170.9L571.2 171.0L571.4 171.1L571.6 171.1L571.8 171.2L572.0 171.3L572.2 171.3L572.4 171.4L572.6 171.4L572.8 171.4L573.0 171.5L573.2 171.5L573.4 171.5L573.6 171.5L573.8 171.5L574.0 171.5L574.2 171.5L574.4 171.4L574.6 171.4L574.8 171.4L574.9 171.3L575.1 171.3L575.3 171.2L575.4 171.2L575.6 171.1L575.7 171.0L575.9 171.0L576.0 170.9L576.2 170.8L576.3 170.7L576.4 170.6L576.5 170.5L576.7 170.4L576.8 170.4L576.9 170.3L577.0 170.2L577.1 170.1L577.2 170.0L577.3 169.9L577.4 169.8L577.5 169.7L577.5 169.6L577.6 169.6L577.7 169.5L577.8 169.4L577.9 169.4L577.9 169.3L578.0 169.2L578.1 169.2L578.2 169.1L578.2 169.1L578.3 169.1L578.4 169.0L578.5 169.0L578.5 169.0L578.6 169.0L578.7 169.0L578.8 169.0L578.9 169.0L579.0 169.0L579.1 169.0L579.2 169.0L579.3 169.1L579.4 169.1L579.5 169.1L579.6 169.2L579.7 169.2L579.8 169.2L579.9 169.3L580.1 169.3L580.2 169.4L580.3 169.4L580.5 169.5L580.6 169.6L580.7 169.6L580.9 169.7L581.0 169.7L581.2 169.8L581.3 169.8L581.5 169.9L581.7 170.0L581.8 170.0L582.0 170.1L582.2 170.1L582.3 170.1L582.5 170.2L582.7 170.2L582.9 170.3L583.0 170.3L583.2 170.3L583.4 170.3L583.6 170.4L583.7 170.4L583.9 170.4L584.1 170.4L584.2 170.4L584.4 170.4L584.6 170.4L584.8 170.4L584.9 170.3L585.1 170.3L585.2 170.3L585.4 170.3L585.6 170.2L585.7 170.2L585.9 170.2L586.0 170.1L586.1 170.1L586.3 170.0L586.4 170.0L586.6 169.9L586.7 169.9L586.8 169.8L586.9 169.8L587.1 169.7L587.2 169.7L587.3 169.6L587.4 169.5L587.5 169.5L587.6 169.4L587.7 169.4L587.9 169.3L588.0 169.3" stroke="#9a3fa0" stroke-width="3.4" fill="none" stroke-linejoin="round" stroke-linecap="round"/>
<text x="283.3" y="59.2" font-size="30.6" fill="#111" text-anchor="start" font-family='"Liberation Serif", serif' >Combined field</text>
<text x="235.6" y="294.2" font-size="30.6" fill="#111" text-anchor="start" font-family='"Liberation Serif", serif' >X</text>
<text x="478.5" y="319.8" font-size="30.6" fill="#111" text-anchor="start" font-family='"Liberation Serif", serif' >Time</text>
<text transform="translate(191.5 144.5) rotate(-90)" font-size="30.6" fill="#111" text-anchor="middle" font-family='"Liberation Serif", serif'>Y</text>
<g transform="matrix(179.60 105.40 49.40 -28.40 793.60 56.40)"><rect width="1" height="1" fill="url(#slabTop)"/></g>
<g transform="matrix(179.60 102.20 0 28.8 793.60 56.40)"><rect width="1" height="1" fill="url(#slabFront)"/></g>
<polygon points="973.2,161.8 1018.7,133.3 1018.7,160.6 973.2,187.4" fill="#050505" />
<polygon points="839.5,34.2 821.8,44.3 820.5,42.0 815.0,50.6 825.2,50.3 823.9,48.0 841.6,37.8" fill="#2838f0" />
<polygon points="849.7,46.7 835.7,42.4 836.4,39.9 826.4,41.8 833.7,49.0 834.5,46.5 848.5,50.7" fill="#e8202a" />
<polygon points="856.0,66.2 856.0,47.4 858.7,47.4 853.9,38.4 849.2,47.4 851.8,47.4 851.8,66.2" fill="#e8202a" />
<polygon points="860.5,73.7 872.8,56.7 874.9,58.3 876.3,48.2 867.2,52.7 869.4,54.3 857.1,71.3" fill="#e8202a" />
<polygon points="867.1,82.1 884.1,72.6 885.4,75.0 890.9,66.4 880.8,66.7 882.0,69.0 865.1,78.5" fill="#2838f0" />
<polygon points="885.3,92.4 903.4,82.9 904.6,85.3 910.4,76.9 900.2,76.9 901.4,79.2 883.4,88.7" fill="#2838f0" />
<polygon points="904.3,102.1 921.6,93.1 922.8,95.5 928.6,87.1 918.5,87.0 919.7,89.4 902.4,98.4" fill="#2838f0" />
<polygon points="919.2,101.3 935.5,104.8 934.9,107.4 944.7,104.6 936.9,98.1 936.3,100.7 920.1,97.2" fill="#e8202a" />
<polygon points="947.5,90.5 947.8,112.2 945.2,112.2 950.0,121.2 954.7,112.1 952.0,112.1 951.7,90.5" fill="#e8202a" />
<polygon points="969.6,103.3 959.9,124.3 957.5,123.2 958.1,133.3 966.1,127.1 963.7,126.0 973.4,105.0" fill="#e8202a" />
<polygon points="994.0,121.1 973.3,133.3 971.9,131.0 966.6,139.7 976.8,139.2 975.4,136.9 996.1,124.7" fill="#2838f0" />
<text x="677.0" y="22.6" font-size="30.5" fill="#111" text-anchor="start" font-family='"Liberation Serif", serif' >Magnetization direction</text>
<polygon points="1230.8,97.6 1240.1,80.2 1314.7,88.9 1305.5,106.3" fill="rgba(163,10,44,0.6)" />
<polygon points="1230.8,97.6 1305.5,106.3 1305.5,186.3 1230.8,177.6" fill="rgba(203,17,60,0.6)" />
<polygon points="1305.5,106.3 1314.7,88.9 1314.7,168.9 1305.5,186.3" fill="rgba(125,6,36,0.6)" />
<polygon points="1221.0,111.2 1230.8,97.6 1305.5,106.3 1295.7,123.2" fill="rgba(10,10,100,0.58)" />
<polygon points="1221.0,111.2 1295.7,123.2 1295.7,203.2 1221.0,191.2" fill="rgba(10,12,130,0.55)" />
<polygon points="1295.7,123.2 1305.5,106.3 1305.5,186.3 1295.7,203.2" fill="rgba(8,8,95,0.6)" />
<text transform="translate(1251.5 161) scale(0.75 1)" font-size="45" fill="#14148c" font-family='"Liberation Sans", sans-serif'>S</text>
<clipPath id="plc"><rect x="0" y="0" width="150.5" height="190.6"/></clipPath>
<g transform="matrix(1 0.4405 0 1 1165 101)">
<rect x="-1" y="-1.2" width="152.5" height="193" fill="#fff" stroke="#c4c4c4" stroke-width="1"/>
<g clip-path="url(#plc)"><rect x="0" y="0" width="150.5" height="190.6" fill="#0e1030"/>
<path d="M-4.0 -3.5L-4.0 -4.0L-3.4 -4.0ZM-4.0 5.2L-4.0 2.0L2.0 -2.0L2.7 -4.0L5.9 -4.0L6.6 -2.0L6.0 -1.5L3.0 -0.3L1.0 2.1ZM21.0 1.0L19.0 0.6L15.0 -1.0L14.0 -1.9L12.7 -4.0L15.9 -4.0L18.0 -2.7L20.5 -2.0L21.6 -1.0L22.0 0.0ZM27.0 5.1L26.0 5.5L25.0 5.3L24.0 4.3L23.7 3.0L24.3 2.0L26.9 0.0L27.3 -1.0L27.4 -2.0L26.5 -4.0L30.0 -4.0L28.0 3.6ZM-4.0 47.2L-4.0 44.1L1.0 42.2L5.0 40.0L6.4 39.0L7.6 37.0L7.8 32.0L10.8 26.0L10.9 25.0L10.1 24.0L9.0 23.4L8.0 23.4L7.0 24.0L5.3 26.0L3.6 30.0L2.4 35.0L1.9 36.0L0.0 37.5L-4.0 39.3L-4.0 36.5L-2.0 35.6L-0.5 34.0L0.5 32.0L2.0 26.4L3.4 24.0L6.0 22.0L9.0 21.2L11.0 20.0L16.8 14.0L21.0 10.9L24.0 9.9L26.0 9.9L29.0 10.3L30.0 9.9L31.6 8.0L35.0 -4.0L38.1 -4.0L33.8 9.0L33.0 14.7L32.7 14.0L31.0 12.7L29.0 11.9L23.0 13.1L20.0 14.8L13.8 21.0L12.5 23.0L12.0 25.0L12.3 29.0L9.7 34.0L9.2 36.0L9.9 37.0L11.0 37.7L13.0 37.5L14.0 36.6L15.6 34.0L18.0 23.8L19.3 22.0L22.3 19.0L25.0 17.5L30.0 17.6L33.0 15.1L34.2 21.0L37.2 25.0L37.4 26.0L37.0 26.7L36.0 27.2L35.0 27.3L34.0 26.6L33.3 25.0L33.0 22.0L32.4 21.0L30.0 19.6L28.0 19.7L24.0 21.1L22.0 22.8L20.6 25.0L18.6 32.0L18.1 36.0L17.0 37.9L15.0 38.8L12.0 39.3L9.0 40.5L3.5 44.0ZM41.0 20.2L40.0 20.5L39.0 19.9L38.6 19.0L38.7 10.0L42.0 -1.0L43.0 -2.5L44.7 -4.0L52.2 -4.0L54.0 -3.2L55.0 -2.2L56.2 0.0L57.0 0.9L59.0 1.8L65.0 1.4L67.0 1.8L69.0 3.2L71.8 7.0L72.2 9.0L71.0 9.7L70.0 9.4L68.0 6.0L66.0 4.6L62.0 4.1L57.0 4.8L55.7 4.0L54.6 1.0L53.0 -0.4L50.0 -2.2L48.0 -2.4L47.0 -2.1L45.4 -1.0L44.1 1.0L41.7 9.0L41.1 13.0L41.8 18.0L41.7 19.0ZM68.0 -3.7L61.0 -3.2L59.2 -4.0L68.8 -4.0ZM78.0 9.2L76.3 5.0L72.0 -1.0L69.3 -4.0L73.8 -4.0L74.5 -2.0L80.0 6.0L80.3 7.0L80.0 7.6ZM84.0 3.1L82.5 2.0L79.3 -4.0L82.4 -4.0L85.3 1.0L85.0 2.7ZM123.0 127.3L121.0 127.9L120.0 127.8L119.1 127.0L119.1 126.0L120.0 125.0L121.0 124.6L124.0 124.4L131.0 122.2L132.3 121.0L132.6 120.0L132.3 118.0L129.6 115.0L127.9 110.0L127.8 92.0L127.4 91.0L126.0 89.4L122.0 88.9L121.0 88.0L120.0 86.4L118.9 84.0L118.3 82.0L118.7 80.0L120.0 78.0L120.7 76.0L120.9 74.0L120.5 72.0L119.0 70.2L116.0 67.7L112.4 61.0L109.8 58.0L107.0 55.2L104.0 53.0L102.0 50.5L100.0 50.4L98.7 51.0L97.6 52.0L97.6 54.0L99.0 56.0L103.0 57.8L108.2 63.0L111.4 70.0L115.6 74.0L116.0 76.0L115.0 77.3L114.0 77.3L111.8 74.0L109.0 72.0L108.3 71.0L107.4 67.0L106.4 65.0L104.0 62.2L101.0 59.8L94.9 57.0L94.5 56.0L94.9 54.0L96.5 52.0L97.9 49.0L99.2 47.0L100.3 44.0L100.4 41.0L99.8 40.0L98.0 39.0L98.0 38.0L100.0 34.3L101.8 32.0L102.4 30.0L102.2 29.0L101.0 27.4L96.0 23.9L91.4 16.0L88.0 12.2L84.3 10.0L83.6 9.0L83.7 8.0L85.0 7.2L87.0 7.7L92.0 12.4L94.0 15.0L97.3 21.0L99.0 22.7L102.0 25.0L105.0 28.3L107.0 29.2L112.0 30.0L114.0 30.8L115.5 32.0L116.4 34.0L117.5 40.0L118.3 42.0L123.7 49.0L131.1 56.0L131.9 58.0L132.1 61.0L133.0 62.2L134.0 62.8L136.0 62.6L137.7 61.0L137.9 59.0L134.2 52.0L133.0 50.6L128.0 47.0L123.0 40.6L121.8 38.0L120.5 31.0L119.5 29.0L118.0 27.6L116.0 26.5L108.0 23.9L101.1 18.0L96.2 10.0L94.0 7.7L90.6 5.0L90.0 3.7L89.2 -1.0L87.9 -4.0L91.0 -4.0L92.8 3.0L94.0 4.5L98.0 7.7L101.6 14.0L105.0 18.0L109.0 21.2L112.0 22.5L117.0 24.0L119.1 25.0L121.5 27.0L123.0 29.9L124.3 37.0L125.8 40.0L130.0 45.5L135.5 49.0L137.5 53.0L140.6 58.0L140.5 61.0L139.0 64.0L137.0 65.0L133.0 64.8L130.0 65.4L127.0 67.7L124.0 68.8L123.4 68.0L125.0 65.3L126.0 64.8L128.0 64.4L129.6 63.0L130.1 61.0L129.3 59.0L127.3 56.0L123.0 51.9L116.0 43.6L114.9 41.0L114.3 36.0L113.0 33.6L111.0 32.4L107.0 31.4L105.0 31.6L103.3 33.0L101.9 37.0L101.6 39.0L103.1 43.0L102.3 47.0L102.9 49.0L106.2 51.0L112.4 57.0L115.0 60.3L119.0 67.0L121.0 68.5L123.0 68.5L123.8 69.0L123.2 70.0L122.7 72.0L123.7 76.0L121.3 81.0L121.3 83.0L122.3 85.0L125.0 87.3L127.0 87.9L131.0 87.5L134.0 86.5L137.0 85.1L139.2 83.0L140.5 81.0L142.0 77.0L143.0 76.0L149.0 73.2L150.0 73.1L151.4 74.0L151.5 75.0L150.7 76.0L147.0 76.9L145.0 78.2L143.6 80.0L141.0 84.8L137.8 88.0L136.8 90.0L138.2 94.0L137.7 105.0L138.3 109.0L141.5 115.0L145.3 118.0L145.5 119.0L144.0 119.9L142.0 119.8L141.0 118.9L136.0 110.7L135.1 106.0L135.5 99.0L135.2 94.0L135.8 91.0L135.6 90.0L135.0 89.5L133.0 88.6L132.0 88.7L130.5 90.0L129.7 92.0L130.6 96.0L130.5 109.0L131.7 113.0L135.5 119.0L135.7 121.0L134.2 123.0L131.4 125.0ZM140.0 44.5L135.0 43.5L132.9 42.0L128.9 36.0L128.2 34.0L128.3 30.0L126.7 26.0L125.4 24.0L123.0 21.7L121.0 20.6L112.0 17.3L108.0 14.3L105.0 10.6L101.7 4.0L100.0 2.6L98.0 1.7L97.0 0.5L96.0 -4.0L98.7 -4.0L99.8 0.0L101.0 1.3L102.0 1.5L103.3 1.0L104.1 0.0L103.9 -4.0L106.8 -4.0L106.8 -2.0L104.9 2.0L104.9 4.0L106.6 8.0L109.0 11.5L111.0 13.3L113.0 14.6L121.6 18.0L127.0 21.0L128.3 25.0L130.0 26.4L131.0 26.8L134.0 26.8L136.0 27.9L139.3 34.0L142.0 37.7L142.4 39.0L142.0 41.3L141.0 43.5ZM153.0 17.2L151.0 17.6L144.0 17.4L135.0 14.0L133.0 13.5L132.0 13.6L129.0 14.8L127.0 15.0L116.4 11.0L113.0 8.7L111.0 6.3L110.3 5.0L110.0 3.0L111.5 -1.0L111.7 -4.0L114.6 -4.0L114.7 -2.0L113.1 1.0L112.8 3.0L113.3 5.0L114.0 5.9L117.0 8.2L125.0 11.5L127.0 11.9L131.0 11.8L134.0 10.0L136.0 12.0L137.0 12.5L140.0 12.9L144.0 14.4L147.0 14.9L149.0 15.0L151.0 14.7L153.0 13.8L155.0 12.1L155.0 15.5ZM149.0 1.2L147.0 1.7L143.0 0.6L140.0 0.2L132.0 0.8L126.0 -1.3L120.7 -4.0L126.7 -4.0L130.0 -2.5L133.0 -2.0L141.0 -2.4L146.0 -1.5L148.0 -1.8L151.3 -4.0L155.1 -4.0L155.0 -2.9L152.0 -1.4ZM-4.0 14.6L-4.0 11.2L6.5 4.0L7.3 3.0L8.1 0.0L9.0 -0.3L11.0 0.3L11.6 1.0L11.5 2.0L7.0 7.0ZM129.0 7.1L128.0 7.3L126.3 7.0L119.0 4.0L118.0 3.0L117.6 2.0L117.7 1.0L119.0 0.3L120.0 0.6L124.0 3.4L129.0 4.4L129.9 5.0L130.1 6.0ZM39.0 36.1L36.0 35.1L32.0 34.6L31.0 34.0L30.6 33.0L30.7 32.0L32.0 30.8L33.0 30.9L36.0 33.3L37.0 33.3L39.2 32.0L39.8 31.0L39.9 28.0L40.4 27.0L42.5 25.0L46.3 20.0L46.8 17.0L45.9 13.0L46.0 11.0L47.4 7.0L47.8 4.0L49.0 3.0L50.0 3.1L50.9 4.0L51.3 5.0L51.2 6.0L49.3 9.0L48.6 11.0L48.7 14.0L49.8 17.0L49.5 19.0L47.0 23.4L44.2 27.0L42.3 30.0L40.6 35.0L40.0 35.8ZM149.0 10.0L147.0 10.0L139.0 7.5L137.0 7.8L135.0 8.8L134.0 8.5L133.8 7.0L135.0 5.6L138.0 5.0L141.0 5.2L146.0 6.9L148.0 7.1L150.0 6.5L155.0 2.6L155.0 6.0L151.0 9.2ZM-4.0 30.0L-4.0 20.9L1.8 16.0L8.0 12.4L15.0 5.4L17.0 4.6L18.0 4.8L19.0 5.4L19.4 6.0L19.0 7.2L15.1 9.0L9.0 15.2L3.0 18.4L-0.3 21.0L-2.2 24.0ZM57.0 150.3L55.0 150.8L50.0 150.5L48.7 150.0L44.8 147.0L43.9 146.0L43.5 145.0L44.0 141.0L43.8 139.0L43.0 137.5L42.0 137.0L41.0 137.0L39.7 138.0L39.1 140.0L38.9 143.0L38.0 144.6L36.0 145.1L32.7 144.0L33.4 143.0L35.0 142.5L36.0 141.5L37.4 138.0L39.4 136.0L40.2 134.0L40.3 132.0L39.4 126.0L38.0 119.0L40.3 111.0L41.0 110.1L42.0 109.7L44.0 109.3L55.0 105.5L57.0 104.0L58.3 102.0L61.0 96.0L61.0 94.0L60.2 92.0L61.0 91.6L63.0 92.4L64.0 93.6L64.2 95.0L59.2 106.0L58.0 107.1L53.0 109.1L44.0 111.9L42.0 114.0L41.1 117.0L41.0 121.0L42.2 127.0L43.0 133.0L43.7 135.0L46.3 139.0L46.4 143.0L46.8 145.0L48.0 146.5L52.0 148.1L54.0 148.3L56.4 147.0L57.3 146.0L58.3 144.0L58.9 141.0L58.5 138.0L55.2 129.0L54.7 126.0L53.7 123.0L53.8 122.0L55.0 121.0L59.0 120.5L62.0 118.6L64.3 116.0L65.6 113.0L65.4 111.0L64.1 108.0L64.2 107.0L66.0 102.6L67.5 100.0L67.9 97.0L69.0 95.6L70.0 95.3L73.0 95.5L76.0 94.8L82.0 91.7L87.0 90.5L91.2 87.0L95.0 86.3L98.0 85.3L101.0 83.9L103.0 83.6L104.3 84.0L105.5 85.0L108.3 90.0L108.8 92.0L108.0 93.3L107.0 93.4L106.1 93.0L105.3 92.0L104.8 89.0L104.0 87.6L103.0 86.8L101.0 86.4L100.0 86.5L99.0 87.2L97.0 89.9L95.0 89.0L94.0 88.9L92.0 89.5L90.3 91.0L90.2 93.0L93.0 95.5L95.5 99.0L98.0 101.6L100.0 103.5L102.0 104.7L104.0 105.3L111.0 105.6L113.0 104.7L113.9 103.0L113.7 101.0L112.0 99.6L111.0 99.4L108.0 100.9L107.0 101.0L103.0 99.7L100.9 98.0L98.0 94.6L97.1 93.0L97.2 91.0L98.0 90.2L100.0 92.0L103.0 96.6L104.0 97.3L106.0 97.9L110.0 98.2L111.0 97.9L112.7 96.0L113.3 94.0L113.3 90.0L111.3 85.0L110.0 82.7L108.0 80.6L106.0 79.3L104.0 78.5L102.0 78.6L92.1 82.0L89.0 82.5L83.7 86.0L80.0 87.5L75.0 90.1L71.0 90.7L69.0 90.7L67.1 90.0L66.0 89.1L64.0 86.7L63.3 85.0L63.1 83.0L63.5 80.0L63.9 78.0L64.5 77.0L67.1 75.0L68.5 73.0L68.6 70.0L66.2 66.0L65.0 64.7L54.4 59.0L52.0 57.0L45.0 41.0L44.5 38.0L46.8 32.0L51.5 25.0L54.0 20.6L56.0 18.6L60.0 17.1L62.0 17.0L63.7 18.0L67.0 21.5L68.0 23.1L68.7 26.0L68.0 31.2L63.7 38.0L63.2 40.0L63.4 42.0L65.4 45.0L69.0 47.7L71.0 47.9L73.1 47.0L75.2 44.0L81.5 31.0L81.5 28.0L80.5 26.0L79.0 23.8L78.0 22.9L77.0 22.5L74.1 24.0L74.1 25.0L76.0 28.0L76.3 29.0L76.2 31.0L72.5 38.0L71.1 42.0L70.0 42.6L69.0 42.4L68.1 41.0L68.2 40.0L72.4 33.0L73.2 31.0L73.3 27.0L74.0 24.0L72.6 21.0L67.0 14.4L65.0 12.9L61.0 11.9L59.0 11.8L58.0 12.2L55.0 14.4L54.0 14.3L53.2 13.0L53.8 11.0L55.0 9.9L59.0 9.7L62.0 8.9L64.0 9.5L69.0 12.5L75.0 19.5L77.0 20.7L81.1 22.0L82.0 23.0L83.0 27.0L84.0 28.0L85.0 28.4L86.0 28.3L87.0 27.5L87.7 26.0L87.7 24.0L87.4 23.0L84.0 18.5L82.0 17.2L78.0 15.3L76.0 13.7L75.1 12.0L75.2 11.0L77.0 9.5L77.6 10.0L78.5 12.0L79.4 13.0L83.6 15.0L87.1 18.0L90.1 23.0L90.8 25.0L90.8 26.0L90.4 27.0L89.5 28.0L86.0 30.1L84.0 32.0L77.0 46.3L73.7 50.0L72.0 51.0L71.0 51.0L65.0 48.3L62.8 46.0L60.8 42.0L60.4 39.0L61.1 37.0L65.6 30.0L66.2 27.0L65.4 24.0L64.0 21.8L62.0 20.3L60.0 19.9L58.0 20.5L55.6 23.0L50.5 31.0L48.3 35.0L47.6 37.0L47.6 40.0L49.8 46.0L53.5 54.0L55.0 55.9L57.0 57.5L67.0 62.7L69.1 65.0L70.5 70.0L71.9 73.0L71.8 74.0L71.0 75.2L68.0 77.0L66.1 80.0L65.7 82.0L65.9 84.0L66.7 86.0L67.6 87.0L69.0 87.8L71.0 88.2L74.0 87.6L83.0 83.1L84.2 82.0L85.0 80.7L86.0 80.1L88.0 80.6L89.0 80.5L92.1 79.0L95.0 78.4L103.0 75.8L105.0 75.5L106.0 75.8L109.0 78.6L112.0 80.2L113.0 81.8L116.0 89.1L116.2 92.0L115.2 95.0L115.0 97.0L116.1 102.0L116.1 105.0L115.0 107.0L113.0 108.0L109.0 108.2L101.0 107.4L99.0 106.2L95.7 103.0L91.0 97.8L89.0 94.5L88.0 93.6L87.0 93.3L85.0 93.5L82.0 94.4L77.0 97.6L72.0 97.8L69.9 99.0L69.2 100.0L69.1 103.0L66.9 107.0L67.0 109.0L67.6 110.0L69.0 110.9L70.0 110.8L72.0 109.8L73.0 109.8L75.4 111.0L79.8 114.0L83.0 117.1L84.5 119.0L85.9 122.0L87.0 123.6L88.0 124.2L89.0 124.4L90.0 123.9L90.9 123.0L91.3 122.0L91.2 121.0L90.3 119.0L86.5 114.0L84.0 111.5L78.0 106.5L76.0 105.8L73.0 105.3L72.4 104.0L73.2 103.0L75.0 102.4L77.4 103.0L85.0 108.8L92.4 117.0L93.1 118.0L93.6 120.0L93.0 124.2L92.2 126.0L91.0 126.7L89.0 126.8L86.0 126.3L84.5 125.0L82.6 121.0L81.2 119.0L78.0 116.0L76.0 114.4L70.0 111.7L69.0 112.1L67.6 114.0L66.2 118.0L64.5 120.0L62.0 122.0L59.0 122.6L58.0 123.1L56.9 125.0L56.9 126.0L58.2 129.0L59.6 134.0L61.9 140.0L61.2 143.0L59.0 148.0ZM146.0 35.1L144.7 34.0L141.7 29.0L140.5 26.0L139.0 24.0L137.0 22.6L130.9 21.0L130.2 20.0L130.7 19.0L132.0 18.5L134.0 18.8L138.0 20.5L140.0 21.0L141.6 22.0L143.3 27.0L145.4 30.0L147.7 32.0L148.2 33.0L147.0 34.9ZM149.0 26.1L148.0 25.9L146.8 24.0L147.0 22.6L148.0 21.8L149.9 22.0L150.6 23.0L150.4 25.0ZM40.0 106.1L39.0 105.9L38.1 105.0L38.1 104.0L38.7 103.0L50.0 99.4L51.7 98.0L53.6 94.0L55.9 91.0L56.3 90.0L56.5 88.0L55.3 84.0L56.5 79.0L55.9 77.0L55.0 76.0L50.0 73.1L48.0 72.8L45.7 74.0L42.0 79.7L38.0 82.2L35.0 82.5L28.0 81.1L26.3 80.0L25.4 79.0L19.0 69.0L15.0 61.0L13.8 58.0L13.0 57.2L11.0 56.7L10.0 57.0L4.0 59.6L2.8 61.0L2.4 63.0L3.0 65.0L5.3 69.0L7.0 70.8L9.0 71.9L10.0 71.9L10.9 71.0L11.5 69.0L11.2 68.0L8.1 65.0L7.6 64.0L8.0 62.5L9.0 61.9L10.0 62.0L11.0 62.9L11.6 64.0L13.7 70.0L14.8 72.0L18.0 75.9L23.1 84.0L25.0 85.5L37.0 87.6L39.0 87.3L43.0 84.7L44.0 84.5L45.0 84.8L46.2 86.0L45.6 87.0L39.5 90.0L38.0 90.4L35.0 90.3L28.0 88.5L24.0 88.8L22.6 88.0L21.5 86.0L19.0 82.7L15.3 77.0L13.0 74.3L11.0 73.2L10.0 73.0L6.0 73.3L4.0 72.1L-0.0 65.0L-0.7 63.0L-0.2 61.0L1.0 59.0L3.2 57.0L6.0 55.7L11.0 54.3L14.0 52.6L16.0 51.0L18.0 50.1L19.0 50.1L21.5 51.0L23.0 52.5L23.6 54.0L23.9 57.0L24.5 59.0L27.4 63.0L29.0 64.3L30.0 64.5L31.0 64.2L35.1 61.0L36.4 59.0L36.3 56.0L35.1 53.0L33.8 51.0L32.0 49.6L31.0 49.3L28.0 49.3L26.7 49.0L22.0 45.5L20.0 45.0L18.0 45.2L13.0 47.3L8.2 50.0L1.0 52.9L-1.9 55.0L-4.0 57.9L-4.0 53.2L-2.0 51.5L7.0 47.6L12.0 44.7L16.0 43.5L19.1 42.0L21.0 41.8L25.0 44.7L28.0 46.3L33.0 47.1L34.8 48.0L36.3 50.0L39.0 56.3L39.5 59.0L39.0 60.3L35.0 64.6L32.0 65.9L30.8 67.0L30.5 69.0L31.8 71.0L33.0 71.7L35.0 71.5L36.0 70.6L38.0 67.9L44.0 62.5L44.8 61.0L44.7 59.0L42.5 53.0L38.8 45.0L37.9 44.0L36.0 42.8L31.0 42.1L29.0 41.3L24.0 38.1L23.1 37.0L22.9 35.0L24.0 29.8L25.5 26.0L27.0 24.7L28.0 24.6L28.7 25.0L29.2 26.0L28.9 27.0L26.5 30.0L25.8 32.0L25.8 35.0L26.9 37.0L29.0 38.4L32.0 39.5L35.0 40.2L38.0 40.5L39.3 41.0L40.3 42.0L43.0 48.0L46.1 55.0L47.2 59.0L48.0 60.7L49.0 61.6L52.0 63.0L62.0 68.6L63.4 70.0L63.6 71.0L63.0 72.5L62.0 72.8L61.0 72.4L59.2 70.0L58.0 69.1L51.7 66.0L48.0 63.6L47.0 63.5L46.0 63.7L45.0 64.5L43.0 66.9L40.6 69.0L36.5 74.0L34.0 74.8L32.0 74.3L30.1 73.0L29.4 72.0L27.6 67.0L24.0 63.0L23.0 61.3L21.9 59.0L21.3 56.0L20.5 54.0L19.0 53.0L18.0 52.9L17.0 53.0L15.5 54.0L15.1 55.0L15.3 57.0L17.2 59.0L19.2 64.0L23.0 69.6L26.4 76.0L29.0 78.3L32.0 79.4L34.0 79.7L36.0 79.7L38.0 79.2L40.0 77.7L45.2 71.0L46.4 70.0L48.0 69.6L53.4 72.0L58.1 75.0L58.9 76.0L59.1 78.0L58.4 81.0L58.4 85.0L58.6 87.0L60.4 91.0L60.0 91.8L58.0 92.0L56.7 93.0L55.0 97.9L52.8 101.0L51.0 102.0L43.0 104.3ZM154.0 32.3L152.0 32.6L150.8 32.0L150.9 31.0L154.6 27.0L155.0 24.5L155.0 31.5ZM73.0 83.2L72.0 83.5L70.8 83.0L70.4 82.0L70.7 81.0L72.0 79.9L74.7 79.0L75.9 78.0L76.6 77.0L76.9 75.0L76.4 72.0L73.9 65.0L72.9 61.0L72.4 60.0L71.0 58.9L66.0 57.0L59.0 53.0L57.3 51.0L56.0 48.8L52.9 41.0L52.5 39.0L53.0 36.3L54.8 33.0L57.6 29.0L58.8 26.0L60.0 25.2L61.0 25.5L61.4 26.0L61.4 28.0L56.7 35.0L55.5 38.0L55.6 41.0L56.6 44.0L58.5 48.0L61.0 51.1L65.0 53.6L72.0 56.7L74.0 56.3L80.3 50.0L86.0 38.3L88.0 35.1L92.0 32.3L94.5 29.0L95.0 28.8L96.0 29.0L96.6 30.0L96.7 31.0L96.0 32.3L91.0 36.2L88.6 39.0L87.0 42.9L82.3 52.0L75.6 58.0L75.2 59.0L75.3 61.0L79.1 71.0L79.5 78.0L79.2 79.0L78.2 80.0L75.0 81.7ZM138.0 42.0L139.4 41.0L139.7 40.0L139.3 38.0L136.6 35.0L135.5 32.0L134.2 30.0L132.0 28.8L131.0 29.2L129.7 31.0L130.4 33.0L134.5 40.0L136.0 41.5ZM124.0 62.2L123.0 62.7L121.6 62.0L119.2 58.0L112.0 50.1L108.7 47.0L107.8 45.0L107.7 42.0L106.7 39.0L106.5 38.0L107.0 36.7L108.0 36.3L109.4 37.0L110.0 38.5L110.2 43.0L111.1 45.0L121.0 56.4L123.6 59.0L124.2 60.0L124.4 61.0ZM148.0 55.1L146.0 55.4L145.0 55.1L144.0 54.2L140.7 49.0L140.6 48.0L141.0 46.1L142.0 46.2L143.1 47.0L145.0 51.5L146.0 52.2L147.0 52.4L148.2 52.0L149.5 51.0L149.9 49.0L149.2 47.0L146.9 45.0L146.5 43.0L147.0 41.0L148.0 39.4L149.0 38.6L155.0 36.8L155.0 39.6L151.0 40.6L149.6 42.0L149.3 43.0L149.6 45.0L150.0 45.7L151.0 46.3L153.0 46.0L155.0 44.7L155.0 47.6L152.2 50.0L150.0 53.8ZM85.0 78.3L84.2 77.0L84.1 76.0L84.6 72.0L81.0 63.0L80.6 61.0L80.8 60.0L82.0 58.6L85.0 56.8L86.7 55.0L88.1 51.0L90.4 47.0L93.6 40.0L95.0 39.0L97.6 39.0L97.0 39.0L94.0 45.9L91.0 51.5L89.3 54.0L89.0 56.0L92.2 62.0L94.0 63.1L97.0 63.1L99.0 63.8L102.6 68.0L103.3 70.0L102.8 71.0L102.0 71.4L99.4 71.0L99.5 68.0L98.9 67.0L97.0 65.8L95.0 65.4L92.0 66.3L90.2 66.0L89.7 65.0L89.6 62.0L88.7 60.0L87.0 58.7L86.0 58.6L85.0 59.0L83.7 61.0L83.7 63.0L85.9 67.0L86.2 71.0L87.0 71.9L88.0 72.6L89.0 72.7L92.2 71.0L94.0 70.6L96.7 71.0L97.6 72.0L96.5 73.0L95.0 73.6L92.0 74.2L89.0 74.2L88.0 74.7ZM31.0 58.4L30.0 58.6L29.0 57.9L28.4 57.0L28.0 55.0L29.0 53.9L30.0 54.0L31.0 54.7L31.8 56.0L31.9 57.0ZM147.0 63.1L146.0 63.9L145.0 62.8L144.9 61.0L145.7 60.0L147.0 59.6L150.0 59.7L151.0 59.4L153.0 57.9L155.0 54.6L155.0 60.3L154.5 61.0L153.0 61.8L150.0 61.5ZM131.0 74.0L129.0 75.0L128.0 74.6L127.6 74.0L127.7 73.0L129.0 71.6L132.8 70.0L138.0 69.6L141.0 68.6L143.0 67.3L145.0 65.4L146.0 65.3L147.0 66.3L149.0 67.3L153.0 66.0L154.0 65.9L155.0 66.4L155.0 70.7L154.0 69.6L153.0 69.2L148.0 68.7L144.0 69.7L140.0 72.2L138.0 72.5L134.0 72.3L133.0 72.6ZM32.0 143.8L30.0 143.8L29.0 143.4L28.0 142.0L28.4 140.0L31.8 133.0L32.3 131.0L32.3 128.0L30.8 121.0L30.0 119.8L29.0 119.1L25.0 119.0L19.0 117.0L17.2 115.0L13.5 109.0L12.7 106.0L13.0 104.0L16.3 95.0L16.5 93.0L15.8 91.0L10.5 83.0L8.0 81.1L0.0 78.9L-2.0 79.2L-4.0 80.7L-4.0 78.1L-3.1 77.0L-2.8 76.0L-4.0 72.8L-4.0 67.5L-1.9 71.0L-0.6 75.0L0.2 76.0L2.0 77.0L9.0 78.4L11.0 79.4L15.0 84.9L17.0 88.4L19.4 91.0L19.5 93.0L18.0 98.7L15.8 104.0L15.6 106.0L16.6 109.0L20.0 113.9L22.0 115.4L25.0 116.0L28.0 117.3L29.0 117.4L30.0 117.0L31.1 116.0L31.6 115.0L32.5 110.0L32.5 108.0L31.2 106.0L28.7 104.0L27.3 102.0L29.0 101.5L31.0 101.8L32.5 103.0L34.0 105.6L35.0 108.3L35.2 111.0L33.2 117.0L32.9 119.0L34.2 124.0L35.1 131.0L34.1 135.0L31.3 139.0L31.3 141.0L32.0 142.4L32.9 143.0ZM128.0 83.1L127.0 82.7L126.3 82.0L126.2 81.0L127.0 79.8L128.0 79.5L131.0 79.5L135.0 76.8L136.0 76.7L136.7 77.0L137.1 78.0L136.7 79.0L135.7 80.0L134.0 81.0ZM50.0 82.1L48.0 81.5L47.2 80.0L47.5 79.0L49.0 78.0L50.0 78.1L51.0 78.7L51.6 80.0L51.0 81.6ZM152.0 114.1L149.0 114.1L147.0 113.3L144.6 111.0L143.0 108.3L142.5 105.0L143.1 97.0L142.7 91.0L143.6 89.0L148.0 82.4L150.2 81.0L155.0 78.6L155.0 81.4L151.0 83.7L148.8 86.0L146.3 90.0L145.5 93.0L146.0 98.0L145.1 104.0L145.4 107.0L147.0 109.9L149.0 111.2L151.0 111.5L155.0 111.2L155.0 113.2ZM9.0 135.0L8.0 134.9L7.4 133.0L9.4 128.0L10.4 122.0L10.4 119.0L9.2 116.0L5.2 110.0L4.8 108.0L6.0 101.0L8.1 95.0L8.0 93.0L6.5 90.0L5.0 88.4L3.0 87.2L1.0 86.9L-1.0 87.4L-4.0 89.3L-4.0 86.1L-2.0 84.9L0.0 84.3L4.0 84.8L6.5 86.0L8.2 88.0L11.1 93.0L11.2 95.0L8.6 102.0L7.7 107.0L8.4 110.0L13.0 117.4L13.4 120.0L12.7 123.0L12.1 128.0L11.0 131.8L10.1 134.0ZM26.0 112.1L24.3 111.0L22.0 108.6L21.0 107.2L20.7 106.0L20.9 104.0L23.4 98.0L23.9 95.0L24.6 94.0L26.0 93.4L29.0 93.6L31.0 93.9L35.0 95.6L38.0 95.6L44.0 93.4L46.8 92.0L47.8 91.0L48.0 90.0L47.4 87.0L49.0 86.4L50.0 86.4L51.0 86.9L51.4 88.0L51.0 89.5L48.0 94.5L46.0 95.8L36.0 98.9L34.0 98.3L31.0 96.7L29.0 96.0L27.0 96.2L26.0 97.0L25.3 98.0L25.3 99.0L26.0 101.2L25.7 102.0L24.0 103.2L23.4 105.0L24.1 107.0L27.0 108.8L28.0 110.0L28.0 111.0L27.0 112.0ZM152.0 106.8L151.0 106.8L150.0 106.0L149.7 105.0L150.8 100.0L150.8 93.0L152.0 89.7L155.0 86.8L155.0 90.4L154.0 92.0L153.6 94.0L153.8 98.0L153.1 102.0L153.2 105.0L152.9 106.0ZM73.0 199.0L71.2 199.0L71.9 198.0L72.2 196.0L71.3 192.0L69.5 188.0L65.0 182.5L64.0 181.8L62.0 181.2L51.0 180.4L49.0 180.5L47.0 181.1L44.4 183.0L39.2 189.0L34.0 192.5L31.0 195.7L29.0 192.6L24.7 191.0L22.7 189.0L21.8 186.0L21.8 179.0L19.7 173.0L18.0 170.9L15.0 168.5L11.7 167.0L11.0 166.3L10.8 163.0L10.3 162.0L9.0 160.8L7.3 160.0L7.5 159.0L8.8 157.0L9.0 156.0L8.7 154.0L7.2 150.0L6.4 149.0L4.0 147.5L1.0 147.0L-1.0 146.2L-4.0 143.4L-4.0 139.7L1.0 144.1L3.0 145.3L4.0 145.3L5.0 144.8L5.8 144.0L6.1 143.0L5.0 140.6L4.0 139.6L0.0 137.2L-1.0 135.5L-1.0 133.6L2.3 126.0L2.9 123.0L2.8 121.0L1.7 118.0L-1.0 114.3L-2.0 113.5L-4.0 113.0L-4.0 110.7L-2.6 109.0L-2.4 108.0L-2.0 102.8L-1.0 97.0L-1.1 94.0L-0.8 93.0L0.0 92.1L1.0 91.8L2.0 92.1L2.8 93.0L3.0 94.0L1.5 98.0L0.3 106.0L-0.5 109.0L-0.4 111.0L4.3 117.0L5.2 119.0L5.6 121.0L5.0 126.0L4.0 129.4L2.1 133.0L2.1 135.0L3.0 136.6L4.0 137.3L7.0 137.9L7.7 139.0L8.1 141.0L7.3 144.0L7.4 146.0L8.1 148.0L11.0 151.0L11.4 152.0L11.2 158.0L12.6 162.0L15.0 165.4L20.0 169.0L22.3 172.0L24.8 180.0L24.2 185.0L24.8 187.0L26.0 188.3L29.0 190.5L30.0 190.8L32.0 190.7L34.0 189.6L37.0 187.2L43.0 180.6L46.0 178.5L48.0 177.9L51.0 177.7L65.0 178.7L66.0 179.4L71.0 185.6L73.0 188.8L74.0 191.2L74.6 194.0L74.5 196.0L73.8 199.0ZM115.0 116.1L102.0 114.7L100.0 115.6L99.0 116.8L98.0 116.3L96.0 113.4L86.8 104.0L85.7 103.0L82.2 101.0L81.9 100.0L82.6 99.0L84.0 98.6L86.0 99.3L97.0 110.8L99.0 112.3L101.0 112.8L104.0 112.5L112.0 113.0L114.0 112.8L117.0 111.8L119.0 110.0L120.5 108.0L120.8 106.0L120.6 101.0L119.9 95.0L120.0 94.0L120.7 93.0L122.0 92.9L122.8 94.0L123.1 95.0L123.4 103.0L123.0 111.0L122.0 112.0L119.0 112.5L118.0 113.0L116.0 116.0ZM53.0 143.4L52.0 143.3L51.0 142.0L50.9 138.0L48.0 131.7L46.0 121.9L45.8 118.0L47.0 116.1L48.0 115.5L55.0 113.6L59.0 111.2L60.0 111.3L60.6 112.0L60.6 113.0L60.2 114.0L59.0 115.0L50.0 117.6L48.7 119.0L48.4 120.0L50.5 130.0L54.3 141.0L54.0 142.6ZM121.0 120.1L119.0 120.7L118.0 120.5L117.2 120.0L116.8 119.0L117.0 117.7L121.0 117.7L124.0 116.0L125.0 115.8L126.1 116.0L127.0 117.0L126.9 118.0L126.0 119.1L122.0 119.7ZM94.0 146.1L92.8 145.0L91.7 137.0L90.7 135.0L89.0 134.1L86.0 134.0L83.0 133.3L80.3 132.0L79.0 130.3L75.0 122.4L74.0 121.7L73.0 121.5L71.0 122.0L70.1 121.0L70.4 119.0L71.0 118.3L72.0 117.8L73.0 118.0L77.6 122.0L79.0 124.0L80.7 128.0L83.0 130.3L87.0 131.5L92.0 131.7L93.0 132.6L94.0 135.5L95.7 144.0L95.0 145.8ZM-4.0 129.0L-4.0 118.6L-2.6 120.0L-1.9 123.0L-2.5 126.0ZM110.0 175.2L109.0 175.3L108.5 175.0L108.3 174.0L109.3 172.0L109.7 170.0L109.0 164.4L109.1 161.0L110.0 158.1L112.9 155.0L113.4 154.0L113.9 152.0L113.6 149.0L112.0 146.7L110.0 145.7L106.0 145.0L104.0 145.3L102.2 147.0L98.3 153.0L97.4 155.0L96.4 160.0L97.1 163.0L99.0 165.5L100.0 165.9L103.0 165.3L104.0 165.7L104.7 167.0L104.7 168.0L104.0 170.2L103.0 170.8L102.6 170.0L100.0 167.3L98.0 167.0L96.3 166.0L94.4 164.0L93.7 162.0L94.0 158.0L95.6 152.0L97.0 149.7L100.5 146.0L100.9 145.0L100.9 143.0L99.4 139.0L98.5 133.0L96.9 130.0L96.4 128.0L97.0 126.2L98.4 124.0L98.5 120.0L99.0 118.5L102.0 120.2L103.0 120.4L107.0 119.8L111.0 120.5L113.0 121.3L113.9 122.0L114.4 123.0L114.2 126.0L115.5 129.0L115.0 130.8L114.0 131.5L112.0 131.2L110.4 130.0L113.4 127.0L113.8 126.0L111.7 124.0L110.0 123.0L108.0 122.6L103.0 122.3L102.0 122.6L100.3 124.0L99.6 126.0L99.6 129.0L101.8 135.0L102.0 139.0L102.4 141.0L104.0 142.5L109.0 142.9L114.0 144.3L114.9 145.0L115.3 146.0L115.6 149.0L116.8 153.0L116.5 155.0L114.0 157.2L112.3 160.0L111.7 162.0L111.6 164.0L112.3 173.0L111.9 174.0ZM130.0 156.2L128.0 156.4L126.0 156.0L123.8 155.0L122.0 153.7L121.2 152.0L119.9 146.0L119.7 144.0L120.0 143.0L121.8 141.0L125.0 139.0L136.0 136.4L142.0 133.0L143.3 132.0L144.8 130.0L145.3 127.0L147.8 123.0L148.1 120.0L150.0 119.2L155.0 118.3L155.0 121.7L153.0 120.6L152.0 120.9L150.8 122.0L149.2 126.0L147.4 129.0L146.3 133.0L145.0 134.6L136.7 139.0L125.0 142.0L124.0 142.6L123.0 143.8L122.5 146.0L123.3 150.0L124.4 152.0L126.0 153.3L128.0 153.7L131.0 153.4L140.0 150.7L147.0 147.4L150.0 145.1L151.0 145.1L152.0 145.7L152.8 147.0L152.9 148.0L152.0 148.4L149.0 148.7L145.8 151.0L138.0 154.4L136.0 155.0L132.0 155.5ZM15.0 147.7L14.0 147.8L13.0 147.0L12.7 146.0L12.8 139.0L13.5 137.0L15.7 133.0L16.2 131.0L17.3 126.0L17.3 123.0L18.0 121.7L19.0 121.5L20.0 122.0L20.8 123.0L20.9 124.0L19.4 127.0L19.4 130.0L19.0 131.7L15.3 140.0L15.2 142.0L16.1 146.0L15.7 147.0ZM90.0 199.1L87.5 199.0L87.1 198.0L86.7 196.0L86.3 188.0L85.7 186.0L79.7 178.0L78.5 174.0L77.6 173.0L76.0 172.5L75.0 172.7L73.6 174.0L73.2 175.0L73.4 177.0L80.0 186.1L81.1 188.0L81.6 190.0L82.1 199.0L79.1 199.0L79.2 193.0L78.4 189.0L75.4 184.0L69.6 176.0L69.6 175.0L71.0 173.3L77.5 169.0L80.9 164.0L84.9 160.0L86.2 158.0L87.5 153.0L87.5 150.0L85.0 143.0L84.0 141.5L83.0 140.8L80.0 140.1L77.0 138.9L76.0 138.7L74.0 139.2L68.7 144.0L65.3 152.0L63.0 154.8L60.0 157.4L59.0 158.1L57.0 158.5L48.0 157.4L46.0 158.1L44.6 160.0L44.4 165.0L44.0 166.2L43.0 167.4L42.0 167.4L40.9 166.0L41.0 164.9L43.3 158.0L43.4 157.0L42.9 155.0L41.0 153.0L38.0 151.8L33.0 152.6L28.0 150.3L26.0 149.9L23.0 150.2L21.0 151.3L19.4 153.0L19.0 154.0L18.7 155.0L18.8 157.0L19.9 159.0L24.0 163.6L25.0 163.9L27.0 163.3L27.9 162.0L27.9 161.0L27.0 159.0L24.1 157.0L23.7 156.0L24.1 155.0L25.0 154.6L27.0 155.0L29.0 156.4L30.0 158.0L30.0 160.0L28.6 164.0L28.4 167.0L29.5 171.0L31.4 174.0L31.7 175.0L31.0 176.7L30.0 177.3L29.0 177.1L28.3 176.0L27.4 172.0L25.0 166.6L24.0 165.5L20.0 163.4L17.0 159.7L16.1 157.0L16.0 155.0L17.0 151.6L18.6 150.0L22.0 147.8L24.0 147.2L26.0 147.3L34.0 149.7L36.0 149.9L40.0 149.2L41.0 149.4L42.0 150.1L44.9 154.0L47.0 155.0L56.0 155.8L59.0 154.8L61.0 153.1L62.6 151.0L66.0 143.3L67.5 141.0L69.0 139.7L72.0 138.6L73.2 137.0L73.3 135.0L71.6 132.0L70.0 127.6L69.0 126.8L67.0 126.5L65.8 128.0L65.5 130.0L65.8 131.0L67.3 133.0L67.8 135.0L67.0 136.6L66.0 136.7L65.0 136.0L64.6 135.0L64.0 132.0L62.5 128.0L62.7 127.0L63.6 126.0L66.0 125.4L67.0 124.7L70.0 121.7L70.8 122.0L70.2 123.0L70.7 125.0L74.0 130.0L75.6 135.0L78.0 136.7L83.0 138.3L86.0 138.8L87.0 139.6L87.5 141.0L87.7 144.0L90.6 150.0L90.5 152.0L88.6 160.0L88.0 161.1L85.0 163.4L83.6 165.0L80.1 170.0L79.6 172.0L79.9 173.0L83.4 179.0L88.0 183.7L88.6 185.0L89.5 195.0L90.6 199.0ZM22.0 144.0L21.0 143.9L20.1 143.0L19.9 142.0L24.5 130.0L24.7 128.0L23.7 125.0L23.7 124.0L25.0 123.4L26.0 123.6L27.1 125.0L27.4 127.0L27.2 131.0L23.6 139.0L23.0 142.9ZM117.0 139.2L116.0 139.7L115.0 139.8L112.0 138.5L108.0 138.3L107.0 137.9L106.2 137.0L106.0 136.0L106.8 135.0L108.0 134.8L112.0 136.5L115.0 136.5L117.0 135.5L120.0 132.7L131.0 130.2L135.0 128.6L137.2 127.0L139.0 124.4L140.0 123.6L141.0 123.5L142.0 124.5L142.0 126.0L137.9 130.0L136.4 131.0L133.0 132.4L122.0 135.1L119.0 136.9ZM155.0 142.4L151.3 138.0L150.8 136.0L150.9 134.0L152.0 131.0L155.0 125.4L155.0 130.8L153.6 135.0L154.0 137.0L155.0 138.6ZM108.0 130.4L106.0 130.7L104.7 130.0L104.2 129.0L104.2 128.0L105.0 127.0L106.0 126.8L107.0 127.1L109.2 129.0L108.9 130.0ZM132.0 148.0L129.0 148.9L127.4 148.0L127.2 147.0L127.8 146.0L129.0 145.5L132.0 145.3L138.0 143.5L142.0 141.7L146.0 139.2L147.0 139.0L148.2 140.0L148.1 141.0L147.0 142.2L144.0 143.4L139.0 146.0ZM32.0 185.2L31.0 185.6L30.0 185.4L29.0 184.2L29.0 183.0L30.0 182.0L33.0 181.1L34.0 180.3L38.0 174.6L44.0 171.0L49.0 170.3L61.0 171.0L63.0 170.5L64.0 169.9L72.1 163.0L78.5 155.0L79.6 152.0L79.8 150.0L79.1 148.0L78.0 147.1L77.0 146.9L76.0 147.2L75.0 148.0L74.5 149.0L74.0 152.4L73.0 154.3L68.3 160.0L62.0 165.2L59.0 166.2L54.0 165.7L50.0 165.9L48.5 165.0L48.3 164.0L48.9 163.0L50.0 162.5L57.0 163.5L59.0 163.3L61.0 162.6L65.0 159.4L69.1 155.0L70.4 153.0L72.1 148.0L73.0 146.5L74.4 145.0L76.0 144.2L78.0 144.2L79.8 145.0L80.8 146.0L82.0 148.4L82.5 151.0L82.2 154.0L81.4 156.0L74.1 165.0L68.0 169.6L65.1 173.0L63.0 173.6L49.0 173.0L45.0 173.6L43.0 174.5L40.0 176.6L37.0 180.6ZM103.0 162.1L102.0 161.3L101.4 160.0L101.3 159.0L101.9 157.0L105.4 151.0L107.0 149.8L108.0 149.9L109.0 151.0L109.0 152.0L105.2 156.0L104.4 161.0L104.0 161.7ZM142.0 174.1L139.0 175.0L138.0 174.7L137.0 174.1L134.7 169.0L135.0 167.4L137.9 165.0L138.6 164.0L139.3 160.0L139.8 159.0L152.0 153.0L152.9 152.0L154.0 149.7L155.0 149.7L155.0 153.4L150.2 157.0L144.0 159.8L142.6 161.0L141.5 163.0L141.0 165.0L138.2 168.0L137.7 169.0L137.5 170.0L137.9 171.0L140.0 172.1L142.0 171.6L143.5 170.0L147.0 164.0L149.0 162.7L152.0 161.6L155.0 159.1L155.0 162.9L153.0 163.6L149.2 166.0L147.6 168.0L145.5 172.0L144.0 173.2ZM2.0 156.0L-2.0 153.3L-4.0 153.2L-4.0 150.1L-1.0 151.5L2.0 152.1L3.3 153.0L3.8 154.0L3.7 155.0L3.0 155.9ZM36.0 171.3L35.0 171.1L34.1 170.0L33.6 166.0L34.7 161.0L34.6 158.0L35.0 157.0L36.0 156.4L37.0 156.5L37.7 157.0L38.2 158.0L38.2 159.0L36.4 163.0L36.3 166.0L37.1 169.0L37.0 170.2ZM-3.0 162.1L-4.0 162.6L-4.0 158.6L-3.0 158.6L-2.3 159.0L-1.8 160.0L-2.0 161.0ZM146.0 197.1L141.0 196.8L133.0 197.2L127.0 195.1L125.7 194.0L125.3 193.0L125.4 192.0L126.0 191.4L127.0 191.3L130.0 193.4L133.0 194.4L136.0 194.5L145.0 194.1L151.0 191.4L152.5 190.0L153.0 188.0L152.0 186.5L150.0 186.0L149.0 186.3L146.8 188.0L144.7 189.0L135.0 189.7L132.4 189.0L128.0 187.0L126.5 186.0L124.0 181.7L121.6 175.0L120.3 173.0L118.0 170.5L117.0 168.5L116.5 165.0L116.6 163.0L117.9 160.0L119.0 158.9L121.0 158.9L125.0 160.7L126.0 161.6L127.6 166.0L130.1 169.0L130.6 170.0L131.6 174.0L132.5 176.0L134.0 178.1L136.0 179.4L138.0 179.7L141.0 179.3L148.0 176.4L149.0 175.7L150.4 174.0L151.0 172.0L152.0 170.2L155.0 168.0L155.0 171.2L153.1 173.0L152.7 175.0L154.0 177.2L155.0 177.5L155.0 179.3L153.0 178.0L151.0 177.9L149.0 178.5L144.2 181.0L141.2 182.0L137.0 182.3L135.0 181.9L133.0 181.0L131.1 179.0L130.0 176.9L128.4 172.0L125.0 166.8L124.0 164.0L123.0 162.2L122.0 161.6L121.0 161.6L120.0 162.1L118.8 164.0L119.5 167.0L124.0 174.0L126.6 181.0L128.8 184.0L131.0 185.5L135.0 186.8L139.0 187.0L143.0 186.5L148.7 184.0L151.0 183.3L153.0 183.4L154.0 184.0L154.8 186.0L155.0 191.1L154.6 192.0L153.7 193.0ZM7.0 170.0L5.0 169.2L1.7 165.0L1.4 164.0L1.8 162.0L3.0 160.3L4.0 159.5L5.0 159.4L6.6 160.0L6.0 160.3L4.5 163.0L4.6 165.0L6.0 166.4L8.2 167.0L9.3 168.0L8.8 169.0ZM133.0 163.5L132.0 163.5L131.2 163.0L130.6 162.0L131.0 160.3L132.0 159.6L133.0 159.5L134.0 159.8L134.6 161.0L134.0 162.7ZM92.0 179.3L91.0 179.5L89.6 179.0L86.0 174.6L85.3 173.0L85.2 172.0L86.0 170.0L88.9 166.0L90.0 165.5L91.0 165.8L91.5 167.0L91.0 168.5L89.0 170.5L88.3 172.0L88.3 174.0L89.0 175.3L91.0 176.1L92.0 176.0L93.0 175.4L94.0 172.0L95.0 170.8L96.0 170.5L97.0 171.2L97.3 172.0L97.0 174.1ZM5.0 199.0L2.6 199.0L2.1 198.0L0.1 196.0L-0.3 195.0L-0.2 188.0L-0.6 182.0L-1.2 181.0L-4.0 179.8L-4.0 179.0L-4.0 177.5L-2.0 176.9L-1.0 176.0L-0.7 174.0L-1.2 172.0L-2.0 171.3L-4.0 170.9L-4.0 167.6L-3.0 167.5L-1.9 168.0L0.0 171.0L2.0 172.7L2.6 174.0L2.5 175.0L0.6 177.0L0.1 178.0L-0.0 180.0L0.3 181.0L2.0 182.8L2.4 184.0L2.4 193.0L3.6 197.0ZM98.0 199.1L95.8 199.0L95.0 196.2L94.2 192.0L93.6 186.0L93.7 184.0L94.4 183.0L97.0 181.5L99.5 179.0L100.8 177.0L103.0 171.7L104.0 172.1L104.5 173.0L105.0 174.0L104.8 175.0L103.4 177.0L101.8 181.0L101.0 181.9L98.0 183.2L97.0 184.5L96.4 186.0L96.5 188.0L97.4 194.0L98.6 199.0ZM30.0 199.0L25.4 199.0L22.0 198.0L19.0 196.0L16.9 194.0L15.4 192.0L14.7 190.0L13.9 178.0L13.0 176.4L11.0 175.5L9.6 176.0L8.6 178.0L9.7 183.0L9.8 191.0L10.9 194.0L15.0 199.0L11.7 199.0L10.0 197.4L8.0 194.4L7.0 191.0L7.2 185.0L5.8 178.0L6.0 176.5L7.0 175.3L11.0 172.9L13.0 173.0L14.5 174.0L16.0 176.3L16.9 179.0L17.2 188.0L17.6 190.0L18.7 192.0L20.0 193.4L26.0 197.5L28.0 197.4L30.0 196.2L30.3 198.0ZM124.0 199.0L119.6 199.0L119.0 198.0L118.3 194.0L118.5 188.0L114.6 178.0L114.2 176.0L115.0 175.0L116.0 175.2L117.0 176.2L118.5 181.0L121.5 188.0L121.6 190.0L120.7 194.0L121.2 196.0L122.0 197.3L124.3 199.0ZM114.0 199.0L111.6 199.0L110.7 195.0L110.4 189.0L109.8 186.0L107.3 182.0L107.5 180.0L108.0 179.2L109.0 178.8L110.2 180.0L113.2 188.0L113.4 195.0L114.3 199.0ZM68.0 199.0L58.4 199.0L57.3 197.0L56.0 195.8L55.0 195.4L52.0 195.5L51.0 195.2L50.5 194.0L51.1 193.0L52.0 192.6L54.0 192.4L56.9 193.0L58.0 193.6L59.0 194.7L60.2 197.0L62.0 198.4L63.0 198.6L64.0 198.2L65.0 197.0L65.3 196.0L63.1 192.0L61.0 189.5L58.0 188.2L53.0 187.7L51.0 187.8L48.7 189.0L45.2 194.0L41.0 196.7L38.7 199.0L35.4 199.0L36.0 197.8L37.6 196.0L43.1 192.0L48.0 186.1L50.0 185.2L52.0 185.1L60.0 185.8L62.5 187.0L66.5 192.0L67.0 194.0L66.6 196.0ZM106.0 199.1L103.7 199.0L101.6 188.0L102.0 186.0L103.0 185.2L104.0 185.5L104.9 187.0L105.6 194.0L106.6 199.0ZM-3.0 199.0L-4.1 199.0L-4.0 197.1L-2.7 198.0ZM155.0 199.1L152.6 199.0L155.0 197.3ZM49.0 199.0L46.7 199.0L48.0 198.7L49.9 199.0Z" fill="#c0b2f6" fill-rule="evenodd" filter="url(#soft)"/>
</g></g>
<path d="M843.0 28.7L1176.8 138.4M962.2 96.1L1176.8 139.7M1018.7 135.8L1176.8 140.1M1023.0 159.4L1159.3 146.0" stroke="#1a1a1a" stroke-width="1.6" stroke-dasharray="10.5 6" fill="none"/>
<path d="M1189.5 143.2l5.5 1.6" stroke="#111" stroke-width="1.8"/>
<polygon points="1010.1,193.9 1049.0,197.8 1049.0,266.7 1043.7,267.5 1013.4,264.4 1010.1,262.6" fill="#787abc" />
<polygon points="1010.1,193.9 1030.9,165.1 1036.7,164.3 1070.0,169.8 1049.0,197.8" fill="#7474a8" />
<polygon points="1049.0,197.8 1089.0,201.9 1089.0,271.4 1083.4,271.7 1053.1,268.2 1049.0,266.7" fill="#e0708a" />
<polygon points="1049.0,197.8 1070.0,169.8 1076.4,169.0 1109.7,174.4 1089.0,201.9" fill="#c46c80" />
<polygon points="1089.0,201.9 1109.7,174.4 1109.7,242.8 1089.0,271.4" fill="#b26a7c" />
<polygon points="1049.0,197.8 1070.0,169.8 1070.0,200.7" fill="#88385a" />
<polygon points="1049.0,197.8 1070.0,200.7 1070.0,238.1 1049.0,266.7" fill="#a83860" />
<polygon points="1070.0,169.8 1070.0,200.7 1089.0,201.9 1109.7,174.4" fill="#c46c80" />
<polygon points="1049.0,197.8 1070.0,169.8 1070.0,200.7" fill="#88385a" />
<text transform="matrix(0.53 -0.27 0 1 1094.2 243.6)" font-size="37" fill="#a00010" stroke="#a00010" stroke-width="0.5" font-family='"Liberation Sans", sans-serif'>N</text>
<polygon points="1372.3,230.6 1411.2,234.5 1411.2,303.4 1405.9,304.2 1375.6,301.1 1372.3,299.3" fill="#787abc" />
<polygon points="1372.3,230.6 1393.1,201.8 1398.9,201.0 1432.2,206.5 1411.2,234.5" fill="#7474a8" />
<polygon points="1411.2,234.5 1451.2,238.6 1451.2,308.1 1445.6,308.4 1415.3,304.9 1411.2,303.4" fill="#e0708a" />
<polygon points="1411.2,234.5 1432.2,206.5 1438.6,205.7 1471.9,211.1 1451.2,238.6" fill="#c46c80" />
<polygon points="1451.2,238.6 1471.9,211.1 1471.9,279.5 1451.2,308.1" fill="#b26a7c" />
<polygon points="1411.2,234.5 1432.2,206.5 1432.2,237.4" fill="#88385a" />
<polygon points="1411.2,234.5 1432.2,237.4 1432.2,274.8 1411.2,303.4" fill="#a83860" />
<polygon points="1432.2,206.5 1432.2,237.4 1451.2,238.6 1471.9,211.1" fill="#c46c80" />
<polygon points="1411.2,234.5 1432.2,206.5 1432.2,237.4" fill="#88385a" />
<text transform="matrix(0.53 -0.27 0 1 1456.4 280.3)" font-size="37" fill="#a00010" stroke="#a00010" stroke-width="0.5" font-family='"Liberation Sans", sans-serif'>N</text>
<polygon points="1171.8,329.7 1185.7,308.5 1275.0,318.5 1263.7,340.3" fill="rgba(163,10,44,0.6)" />
<polygon points="1171.8,329.7 1263.7,340.3 1263.7,427.0 1171.8,416.4" fill="rgba(203,17,60,0.6)" />
<polygon points="1263.7,340.3 1275.0,318.5 1275.0,403.8 1263.7,427.0" fill="rgba(125,6,36,0.6)" />
<polygon points="1159.9,350.9 1171.8,329.7 1263.7,340.3 1251.8,361.5" fill="rgba(10,10,100,0.58)" />
<polygon points="1159.9,350.9 1251.8,361.5 1249.2,447.5 1159.2,436.2" fill="rgba(10,12,130,0.55)" />
<polygon points="1251.8,361.5 1263.7,340.3 1261.8,426.3 1249.2,447.5" fill="rgba(8,8,95,0.6)" />
<text transform="translate(1196.3 409.5) scale(0.75 1)" font-size="45" fill="#14148c" font-family='"Liberation Sans", sans-serif'>S</text>
<g transform="matrix(235.00 -84.00 12.70 29.90 656.30 428.30)"><path d="M0 0H1C1.022 0.25 1.022 0.75 1 1H0C-0.024 0.75 -0.024 0.25 0 0Z" fill="url(#wg)"/><ellipse cx="0" cy="0.5" rx="0.02" ry="0.5" fill="#d4e6fb"/></g>
<text x="709.2" y="310.9" font-size="30.5" fill="#7cc8f8" text-anchor="start" font-family='"Liberation Serif", serif' >Gas filled</text>
<text x="709.9" y="347.4" font-size="30.5" fill="#7cc8f8" text-anchor="start" font-family='"Liberation Serif", serif' >waveguide</text>
<path d="M899.7 358.3L900.5 358.9L901.5 357.2L902.2 358.6L903.3 356.3L903.9 358.8L905.1 355.1L905.7 358.8L907.0 353.2L907.3 359.5L908.8 351.5L909.0 360.6L910.8 348.6L910.5 362.9L912.6 346.3L912.1 364.2L914.8 340.0L913.4 369.9L916.7 338.7L915.0 372.3L918.8 333.4L916.6 373.6L920.9 328.4L918.0 378.1L923.3 319.2L919.2 384.4L925.2 316.8L920.9 384.6L927.2 313.2L922.5 387.3L929.3 308.1L924.2 386.4L931.0 309.3L925.9 387.4L932.7 309.5L927.7 386.5L934.3 310.2L929.4 386.3L935.8 313.5L931.5 382.2L937.2 317.3L933.9 372.4L938.7 320.2L935.9 368.9L940.2 323.9L937.9 365.1L941.7 326.5L940.1 359.1L943.1 331.6L942.2 354.2L944.7 332.9L944.2 350.8L946.1 336.7L946.2 347.4L947.8 337.6L948.0 345.6L949.4 338.3L949.9 343.8L951.1 338.7L951.7 341.9L952.8 338.9L953.6 340.7L954.6 338.7L955.4 339.6L956.3 338.4" stroke="#b000c8" stroke-width="2.0" fill="none" stroke-linejoin="round" stroke-linecap="round"/>
<path d="M948.7 339.6L952.7 341.4L954.2 337.3L958.2 339.1L959.6 335.0L963.6 336.7L965.1 332.6L969.1 334.4L970.5 330.3L974.5 332.0L976.0 327.9L979.9 329.7L981.4 325.6L985.4 327.3L986.9 323.2" stroke="#b000c8" stroke-width="2.6" fill="none" stroke-linejoin="round" stroke-linecap="round"/>
<path d="M980.3 326.3L981.8 327.2L981.8 325.5L983.6 326.8L983.2 324.5L985.7 326.9L984.4 323.1L988.3 327.9L985.7 322.0L990.4 327.9L986.8 320.5L993.5 329.7L987.2 317.8L996.1 330.6L987.5 315.0L1000.8 334.8L987.1 311.1L1004.0 336.7L986.2 306.4L1008.5 340.7L985.0 301.2L1011.3 341.9L985.1 298.2L1015.7 345.8L984.7 294.1L1023.2 354.5L983.2 288.5L1026.0 355.7L982.6 284.3L1029.3 357.8L979.0 275.1L1033.5 361.2L981.5 275.9L1038.9 366.7L979.8 269.9L1042.2 368.7L981.9 270.0L1037.9 358.6L982.9 268.4L1044.1 365.2L985.1 268.6L1041.3 357.4L985.8 266.4L1040.2 352.4L993.8 276.1L1041.8 351.7L1000.5 283.7L1041.8 348.4L1004.9 287.4L1036.2 336.2L1010.5 293.2L1038.5 336.7L1011.6 291.7L1035.8 329.1L1018.0 298.7L1037.4 328.3L1021.6 301.2L1036.0 322.7L1026.1 305.2L1035.6 318.8L1029.0 306.5L1036.6 317.1L1032.1 308.3L1037.1 314.7L1034.2 308.4L1038.4 313.5L1036.6 309.1L1039.6 312.2L1038.8 309.2L1041.0 311.2L1040.7 309.0L1042.5 310.4L1042.7 308.9" stroke="#b000c8" stroke-width="2.0" fill="none" stroke-linejoin="round" stroke-linecap="round"/>
<path d="M1036.5 309.4L1039.9 311.3L1040.4 307.4L1043.9 309.2L1044.4 305.4L1047.8 307.2L1048.4 303.4L1051.8 305.2L1052.3 301.4L1055.7 303.2L1056.3 299.3L1059.7 301.2L1060.2 297.3L1063.7 299.2L1064.2 295.3" stroke="#b000c8" stroke-width="2.6" fill="none" stroke-linejoin="round" stroke-linecap="round"/>
<path d="M1049.1 303.5L1051.6 303.6L1050.1 302.9L1053.2 303.2L1051.1 302.3L1054.7 302.7L1052.4 301.8L1056.7 302.3L1053.1 301.1L1058.5 301.9L1054.0 300.5L1060.2 301.4L1053.9 299.7L1062.9 301.2L1055.2 299.1L1065.3 300.9L1054.9 298.3L1067.9 300.7L1053.8 297.2L1070.4 300.4L1055.8 296.8L1073.4 300.2L1055.0 295.9L1077.1 300.2L1053.7 294.8L1080.4 300.1L1053.6 293.9L1084.3 300.1L1052.5 292.9L1088.5 300.2L1050.9 291.7L1090.0 299.8L1048.0 290.3L1094.9 300.0L1044.1 288.6L1101.8 300.7L1044.1 287.8L1105.8 300.7L1043.3 286.8L1103.8 299.5L1037.5 284.8L1112.7 300.6L1035.9 283.6L1117.8 300.9L1037.4 283.1L1123.7 301.3L1038.9 282.7L1128.3 301.5L1031.6 280.3L1131.4 301.4L1037.4 280.7L1134.5 301.2L1030.2 278.3L1145.3 302.8L1027.1 276.9L1144.6 301.8L1035.3 277.8L1149.9 302.1L1031.2 276.1L1146.5 300.6L1028.1 274.7L1151.8 300.9L1031.7 274.6L1144.5 298.5L1038.9 275.4L1142.3 297.2L1038.0 274.4L1149.9 298.1L1038.0 273.5L1149.9 297.3L1047.2 274.7L1156.4 297.8L1053.7 275.3L1141.4 293.8L1056.2 275.0L1146.6 294.1L1059.7 275.0L1141.4 292.2L1066.7 275.7L1145.2 292.2L1069.8 275.5L1135.7 289.3L1073.1 275.4L1134.6 288.3L1078.0 275.7L1137.5 288.1L1083.1 276.0L1132.6 286.2L1087.3 276.1L1130.7 285.0L1089.6 275.7L1130.3 284.1L1095.4 276.2L1127.1 282.6L1099.0 276.1L1128.2 282.0L1102.4 276.1L1126.4 280.8L1107.2 276.3L1126.7 280.1L1109.9 276.1L1124.9 278.9L1111.9 275.7L1125.7 278.2L1114.3 275.4L1125.5 277.4L1116.9 275.1L1125.9 276.7L1119.6 274.9L1126.6 276.0L1121.3 274.5L1127.4 275.4L1123.2 274.1L1128.2 274.7L1124.9 273.6L1129.1 274.1L1126.6 273.2L1130.0 273.5L1128.5 272.8L1131.1 272.9L1130.1 272.3" stroke="#b000c8" stroke-width="2.1" fill="none" stroke-linejoin="round" stroke-linecap="round"/>
<polygon points="1126.0,293.3 1134.3,284.5 1201.3,231.3 1206.6,233.2 1207.3,240.6 1140.1,296.0 1129.2,296.0" fill="#b000c8" stroke="#b000c8" stroke-width="2" stroke-linejoin="round"/>
<path d="M1202.8 238.7L1204.6 241.5L1207.7 240.6L1209.5 243.3L1212.6 242.4L1214.4 245.2L1217.6 244.3L1219.3 247.0L1222.5 246.1" stroke="#b000c8" stroke-width="2.4" fill="none" stroke-linejoin="round" stroke-linecap="round"/>
<polygon points="1245.7,203.8 1236.4,266.0 1219.3,245.9" fill="#b000c8" stroke="#b000c8" stroke-width="1.5" stroke-linejoin="round"/>
<text x="975.5" y="406.8" font-size="30.5" fill="#b400c8" text-anchor="start" font-family='"Liberation Serif", serif' >Circularly</text>
<text x="975.5" y="444.5" font-size="30.5" fill="#b400c8" text-anchor="start" font-family='"Liberation Serif", serif' >polarized</text>
<text x="975.5" y="481.5" font-size="30.5" fill="#b400c8" text-anchor="start" font-family='"Liberation Serif", serif' >X-rays</text>
<path d="M192.9 580.4L193.3 580.3L193.6 580.2L194.0 580.0L194.3 579.8L194.6 579.6L194.8 579.4L195.1 579.1L195.3 578.9L195.5 578.6L195.7 578.3L195.9 578.1L196.1 577.8L196.2 577.6L196.4 577.4L196.5 577.2L196.7 577.1L196.9 577.0L197.1 576.9L197.2 576.8L197.5 576.8L197.7 576.9L198.0 576.9L198.3 577.0L198.6 577.1L198.9 577.2L199.3 577.4L199.7 577.5L200.1 577.7L200.5 577.8L201.0 577.9L201.5 578.0L201.9 578.1L202.4 578.2L202.8 578.2L203.3 578.1L203.7 578.0L204.1 577.9L204.5 577.7L204.9 577.5L205.2 577.3L205.5 577.0L205.8 576.7L206.0 576.3L206.2 576.0L206.3 575.6L206.5 575.3L206.6 574.9L206.7 574.6L206.8 574.3L206.9 574.0L207.0 573.8L207.0 573.6L207.1 573.5L207.3 573.4L207.4 573.4L207.6 573.4L207.8 573.5L208.1 573.6L208.4 573.8L208.7 574.0L209.1 574.2L209.5 574.5L209.9 574.7L210.4 575.0L210.9 575.3L211.4 575.5L212.0 575.7L212.5 575.8L213.1 575.9L213.6 576.0L214.2 575.9L214.7 575.9L215.1 575.7L215.6 575.5L215.9 575.2L216.3 574.9L216.6 574.5L216.8 574.0L217.0 573.6L217.2 573.1L217.3 572.6L217.3 572.1L217.4 571.6L217.4 571.1L217.3 570.7L217.3 570.4L217.3 570.1L217.3 569.8L217.3 569.7L217.4 569.6L217.4 569.6L217.6 569.7L217.7 569.9L218.0 570.1L218.3 570.4L218.6 570.8L219.0 571.2L219.5 571.6L220.0 572.0L220.6 572.4L221.2 572.8L221.9 573.2L222.5 573.5L223.2 573.8L223.9 574.0L224.5 574.0L225.2 574.1L225.8 574.0L226.3 573.8L226.8 573.5L227.2 573.1L227.6 572.6L227.9 572.1L228.1 571.5L228.2 570.8L228.3 570.2L228.3 569.5L228.3 568.8L228.2 568.1L228.1 567.5L227.9 566.9L227.7 566.5L227.6 566.1L227.4 565.8L227.3 565.6L227.3 565.5L227.3 565.6L227.3 565.8L227.4 566.1L227.7 566.4L228.0 566.9L228.3 567.5L228.8 568.1L229.4 568.7L230.0 569.3L230.7 570.0L231.5 570.6L232.3 571.2L233.1 571.6L233.9 572.0L234.7 572.3L235.6 572.5L236.3 572.5L237.0 572.4L237.7 572.2L238.3 571.8L238.8 571.3L239.1 570.6L239.4 569.9L239.6 569.1L239.7 568.2L239.7 567.2L239.5 566.3L239.4 565.4L239.1 564.5L238.8 563.6L238.5 562.9L238.1 562.2L237.8 561.7L237.4 561.3L237.2 561.1L237.0 561.1L236.8 561.2L236.8 561.5L236.9 561.9L237.0 562.5L237.4 563.2L237.8 564.0L238.3 564.9L239.0 565.8L239.8 566.8L240.6 567.7L241.6 568.6L242.6 569.4L243.6 570.1L244.7 570.7L245.7 571.1L246.7 571.4L247.7 571.4L248.6 571.3L249.4 571.0L250.1 570.5L250.6 569.8L251.0 568.9L251.3 567.9L251.4 566.8L251.4 565.6L251.3 564.3L251.0 563.0L250.6 561.8L250.1 560.5L249.6 559.4L249.0 558.4L248.4 557.6L247.8 556.9L247.3 556.4L246.8 556.2L246.4 556.1L246.1 556.4L245.9 556.8L245.9 557.4L246.1 558.3L246.4 559.3L246.9 560.4L247.6 561.6L248.4 563.0L249.3 564.3L250.4 565.6L251.6 566.8L252.9 568.0L254.2 569.0L255.5 569.8L256.8 570.4L258.1 570.7L259.3 570.8L260.4 570.7L261.4 570.3L262.2 569.6L262.8 568.7L263.3 567.5L263.5 566.2L263.6 564.7L263.4 563.0L263.1 561.3L262.6 559.6L262.0 557.9L261.3 556.3L260.4 554.8L259.5 553.5L258.6 552.4L257.7 551.6L256.9 551.0L256.1 550.7L255.5 550.7L255.0 551.0L254.7 551.6L254.6 552.5L254.7 553.7L255.1 555.1L255.7 556.6L256.4 558.3L257.4 560.1L258.6 561.9L260.0 563.7L261.5 565.4L263.1 566.9L264.8 568.3L266.4 569.4L268.1 570.2L269.7 570.7L271.2 570.8L272.5 570.6L273.7 570.1L274.7 569.2L275.4 568.0L275.9 566.4L276.1 564.7L276.1 562.7L275.8 560.6L275.3 558.4L274.6 556.1L273.6 553.9L272.5 551.8L271.3 549.9L270.0 548.2L268.8 546.8L267.5 545.7L266.3 544.9L265.2 544.6L264.3 544.7L263.6 545.1L263.1 546.0L262.9 547.2L263.0 548.8L263.4 550.6L264.0 552.7L265.0 555.0L266.2 557.3L267.7 559.7L269.4 562.1L271.3 564.3L273.3 566.3L275.3 568.0L277.4 569.5L279.5 570.5L281.5 571.2L283.4 571.4L285.0 571.1L286.4 570.4L287.6 569.3L288.4 567.7L289.0 565.7L289.2 563.5L289.0 560.9L288.6 558.2L287.8 555.3L286.7 552.5L285.4 549.6L283.9 547.0L282.3 544.5L280.5 542.3L278.8 540.6L277.1 539.2L275.5 538.3L274.0 537.9L272.7 538.0L271.8 538.7L271.1 539.8L270.8 541.5L270.8 543.5L271.2 545.9L272.0 548.6L273.2 551.5L274.7 554.6L276.5 557.6L278.6 560.6L280.9 563.5L283.4 566.1L286.0 568.3L288.6 570.1L291.1 571.5L293.6 572.3L295.8 572.6L297.8 572.2L299.5 571.3L300.9 569.8L301.9 567.8L302.5 565.4L302.6 562.5L302.3 559.3L301.6 555.8L300.6 552.3L299.1 548.6L297.4 545.1L295.4 541.8L293.3 538.7L291.0 536.1L288.7 533.9L286.5 532.2L284.4 531.1L282.5 530.7L280.9 530.9L279.6 531.8L278.7 533.2L278.2 535.3L278.2 537.9L278.7 541.0L279.6 544.4L281.0 548.1L282.9 551.9L285.1 555.7L287.6 559.5L290.5 563.0L293.5 566.2L296.6 569.0L299.8 571.3L302.9 572.9L305.8 573.9L308.5 574.2L310.9 573.8L313.0 572.7L314.6 570.8L315.7 568.4L316.3 565.3L316.4 561.7L315.9 557.8L315.0 553.5L313.6 549.1L311.7 544.7L309.5 540.4L307.0 536.3L304.3 532.6L301.4 529.4L298.6 526.7L295.8 524.7L293.1 523.5L290.8 523.0L288.7 523.3L287.1 524.4L286.0 526.3L285.4 528.9L285.3 532.1L285.9 535.9L287.0 540.1L288.7 544.6L290.8 549.2L293.5 553.9L296.6 558.5L299.9 562.8L303.6 566.7L307.3 570.1L311.1 572.8L314.7 574.8L318.2 576.0L321.4 576.3L324.3 575.8L326.7 574.4L328.5 572.1L329.8 569.1L330.4 565.4L330.4 561.1L329.8 556.3L328.6 551.2L326.8 545.9L324.5 540.6L321.7 535.5L318.6 530.6L315.3 526.2L311.8 522.3L308.3 519.2L304.9 516.9L301.7 515.4L298.9 514.9L296.4 515.4L294.4 516.8L293.1 519.1L292.3 522.2L292.2 526.1L292.8 530.6L294.1 535.7L296.1 541.1L298.7 546.6L301.8 552.2L305.4 557.7L309.4 562.8L313.6 567.4L318.0 571.4L322.4 574.6L326.7 576.9L330.8 578.3L334.5 578.7L337.8 578.0L340.5 576.3L342.6 573.6L344.0 570.0L344.7 565.6L344.6 560.5L343.8 554.9L342.3 548.9L340.1 542.7L337.3 536.5L334.0 530.4L330.3 524.8L326.3 519.6L322.2 515.2L318.1 511.6L314.0 508.9L310.3 507.3L306.9 506.8L304.0 507.4L301.7 509.0L300.0 511.8L299.1 515.5L299.1 520.1L299.8 525.4L301.3 531.3L303.5 537.6L306.5 544.1L310.1 550.6L314.3 556.9L318.9 562.8L323.7 568.2L328.8 572.7L333.8 576.4L338.7 579.1L343.4 580.6L347.6 581.0L351.3 580.2L354.4 578.2L356.7 575.0L358.2 570.9L358.9 565.8L358.7 559.9L357.7 553.4L355.9 546.5L353.3 539.4L350.0 532.3L346.2 525.4L341.9 518.9L337.3 513.1L332.5 508.1L327.7 504.0L323.1 501.1L318.8 499.3L314.9 498.7L311.6 499.5L309.0 501.5L307.1 504.7L306.1 509.0L306.0 514.2L306.8 520.3L308.5 527.1L311.1 534.2L314.5 541.6L318.6 549.0L323.3 556.1L328.4 562.8L333.9 568.8L339.6 573.9L345.2 578.0L350.7 581.0L355.9 582.7L360.6 583.0L364.7 582.1L368.1 579.8L370.6 576.2L372.2 571.5L372.9 565.7L372.7 559.1L371.4 551.8L369.3 544.0L366.3 536.1L362.6 528.1L358.2 520.4L353.4 513.3L348.2 506.8L342.8 501.2L337.5 496.8L332.3 493.5L327.4 491.6L323.1 491.1L319.4 492.0L316.5 494.3L314.4 497.9L313.3 502.8L313.2 508.7L314.2 515.5L316.1 523.0L318.9 531.0L322.7 539.1L327.2 547.3L332.4 555.2L338.1 562.5L344.1 569.1L350.4 574.8L356.6 579.2L362.6 582.4L368.2 584.2L373.4 584.6L377.8 583.4L381.4 580.8L384.2 576.9L385.9 571.6L386.6 565.2L386.2 557.9L384.7 549.9L382.3 541.4L379.0 532.7L374.9 524.1L370.0 515.7L364.7 507.9L359.0 500.9L353.1 494.9L347.2 490.1L341.6 486.6L336.3 484.6L331.6 484.2L327.6 485.2L324.4 487.8L322.2 491.8L321.1 497.1L321.0 503.6L322.0 511.0L324.1 519.2L327.2 527.8L331.3 536.7L336.2 545.5L341.8 554.0L348.0 561.9L354.5 569.0L361.2 575.0L367.8 579.7L374.3 583.1L380.3 585.0L385.8 585.3L390.5 584.0L394.3 581.1L397.1 576.8L398.9 571.1L399.6 564.2L399.1 556.4L397.5 547.8L394.8 538.7L391.2 529.4L386.7 520.2L381.5 511.3L375.8 503.0L369.7 495.6L363.4 489.2L357.1 484.2L351.1 480.6L345.5 478.6L340.5 478.1L336.3 479.4L333.0 482.2L330.7 486.5L329.5 492.2L329.5 499.1L330.6 507.0L332.8 515.7L336.2 524.8L340.5 534.2L345.7 543.5L351.6 552.4L358.1 560.7L365.0 568.1L372.0 574.4L379.0 579.3L385.7 582.8L392.0 584.7L397.7 584.9L402.6 583.5L406.5 580.4L409.4 575.8L411.2 569.8L411.8 562.6L411.2 554.3L409.5 545.3L406.7 535.8L402.8 526.1L398.1 516.5L392.6 507.2L386.6 498.7L380.2 491.0L373.7 484.5L367.2 479.3L360.9 475.7L355.2 473.6L350.0 473.3L345.7 474.6L342.3 477.6L339.9 482.2L338.7 488.1L338.7 495.3L339.9 503.5L342.3 512.5L345.8 522.0L350.3 531.7L355.7 541.2L361.8 550.4L368.5 558.9L375.6 566.5L382.8 572.8L389.9 577.9L396.8 581.3L403.2 583.2L409.0 583.3L413.9 581.8L417.9 578.6L420.9 573.8L422.6 567.6L423.2 560.2L422.5 551.7L420.7 542.5L417.7 532.8L413.8 522.9L408.9 513.1L403.3 503.7L397.2 495.0L390.7 487.3L384.0 480.8L377.4 475.6L371.1 472.0L365.3 470.0L360.1 469.7L355.7 471.2L352.3 474.3L350.0 478.9L348.9 485.0L348.9 492.3L350.2 500.7L352.7 509.7L356.2 519.3L360.8 529.0L366.3 538.7L372.5 547.8L379.2 556.3L386.3 563.9L393.5 570.2L400.7 575.2L407.5 578.6L414.0 580.4L419.7 580.4L424.6 578.8L428.5 575.5L431.4 570.7L433.1 564.4L433.6 556.9L432.9 548.5L431.0 539.2L428.0 529.6L424.0 519.7L419.2 510.0L413.6 500.7L407.5 492.2L401.0 484.5L394.4 478.1L387.9 473.1L381.6 469.5L375.9 467.7L370.8 467.5L366.5 469.0L363.3 472.1L361.0 476.8L360.0 482.9L360.1 490.1L361.4 498.4L363.9 507.3L367.4 516.8L372.0 526.3L377.4 535.8L383.5 544.8L390.1 553.0L397.1 560.4L404.2 566.5L411.2 571.3L417.9 574.6L424.2 576.2L429.7 576.2L434.5 574.5L438.3 571.3L441.0 566.5L442.6 560.3L443.1 553.0L442.3 544.7L440.5 535.7L437.5 526.3L433.6 516.7L428.9 507.3L423.4 498.3L417.5 490.0L411.2 482.7L404.8 476.5L398.6 471.7L392.6 468.4L387.0 466.6L382.2 466.5L378.1 468.1L375.0 471.2L372.9 475.7L372.0 481.6L372.1 488.7L373.5 496.6L375.9 505.3L379.4 514.3L383.8 523.5L389.0 532.5L394.9 541.1L401.3 549.0L408.0 556.0L414.8 561.8L421.5 566.3L427.9 569.4L433.9 570.9L439.2 570.8L443.7 569.1L447.3 565.9L449.8 561.2L451.3 555.3L451.7 548.3L451.0 540.4L449.2 531.8L446.3 522.8L442.6 513.8L438.1 504.8L432.9 496.4L427.3 488.6L421.4 481.7L415.3 475.9L409.4 471.4L403.8 468.3L398.6 466.8L394.1 466.7L390.3 468.2L387.5 471.2L385.6 475.6L384.7 481.2L385.0 487.8L386.3 495.4L388.7 503.5L392.0 512.0L396.2 520.6L401.1 529.0L406.7 537.0L412.7 544.4L419.0 550.8L425.4 556.2L431.6 560.3L437.6 563.1L443.2 564.4L448.1 564.3L452.3 562.6L455.6 559.6L457.9 555.2L459.3 549.6L459.6 543.0L458.9 535.6L457.2 527.7L454.5 519.3L451.1 510.9L446.9 502.7L442.1 494.9L436.9 487.7L431.4 481.4L425.9 476.1L420.5 472.0L415.4 469.2L410.6 467.8L406.5 467.9L403.1 469.3L400.5 472.1L398.9 476.2L398.2 481.4L398.5 487.5L399.8 494.4L402.0 501.9L405.1 509.7L409.0 517.5L413.6 525.2L418.7 532.5L424.3 539.2L430.0 545.0L435.9 549.9L441.6 553.6L447.1 556.0L452.1 557.2L456.6 556.9L460.4 555.4L463.4 552.5L465.5 548.5L466.7 543.4L467.0 537.4L466.3 530.6L464.7 523.4L462.3 515.8L459.2 508.2L455.4 500.8L451.1 493.7L446.4 487.3L441.5 481.6L436.6 476.9L431.7 473.3L427.1 470.8L422.9 469.6L419.3 469.7L416.3 471.1L414.1 473.6L412.6 477.3L412.1 482.0L412.4 487.5L413.6 493.7L415.7 500.4L418.6 507.4L422.1 514.4L426.3 521.2L430.9 527.7L435.9 533.6L441.1 538.8L446.3 543.0L451.4 546.3L456.3 548.4L460.8 549.3L464.8 549.1L468.1 547.6L470.8 545.0L472.7 541.4L473.7 536.8L474.0 531.4L473.4 525.4L472.0 519.0L469.9 512.3L467.1 505.6L463.7 499.0L460.0 492.8L455.9 487.2L451.6 482.2L447.3 478.1L443.0 474.9L439.1 472.8L435.4 471.8L432.3 471.9L429.7 473.2L427.8 475.5L426.7 478.7L426.3 482.9L426.6 487.7L427.8 493.2L429.7 499.0L432.2 505.1L435.4 511.2L439.1 517.1L443.2 522.7L447.5 527.8L452.1 532.3L456.7 535.9L461.1 538.7L465.4 540.5L469.3 541.2L472.8 540.9L475.7 539.6L478.0 537.3L479.7 534.1L480.6 530.1L480.8 525.4L480.3 520.2L479.1 514.6L477.3 508.8L474.9 503.0L472.0 497.4L468.8 492.1L465.3 487.2L461.7 482.9L458.0 479.4L454.4 476.8L451.1 475.0L448.0 474.2L445.4 474.3L443.3 475.4L441.7 477.4L440.8 480.2L440.5 483.7L440.9 487.9L442.0 492.6L443.6 497.6L445.9 502.7L448.6 507.9L451.8 513.0L455.4 517.7L459.2 522.0L463.1 525.7L467.0 528.8L470.8 531.1L474.5 532.5L477.8 533.1L480.8 532.8L483.3 531.6L485.3 529.6L486.7 526.9L487.5 523.5L487.7 519.5L487.2 515.0L486.3 510.3L484.7 505.4L482.8 500.5L480.4 495.8L477.7 491.3L474.8 487.2L471.8 483.7L468.8 480.7L465.8 478.5L463.1 477.1L460.6 476.4L458.5 476.5L456.7 477.5L455.5 479.1L454.8 481.5L454.7 484.5L455.1 488.0L456.0 491.9L457.5 496.0L459.4 500.3L461.8 504.6L464.5 508.8L467.5 512.7L470.7 516.2L474.0 519.3L477.3 521.8L480.6 523.6L483.6 524.8L486.4 525.2L488.9 524.9L491.0 523.9L492.6 522.2L493.8 519.9L494.5 517.0L494.7 513.7L494.4 510.0L493.6 506.1L492.4 502.1L490.8 498.0L488.9 494.1L486.7 490.4L484.4 487.1L482.0 484.2L479.6 481.8L477.2 480.0L475.0 478.8L473.0 478.3L471.4 478.4L470.0 479.2L469.1 480.6L468.6 482.5L468.6 485.0L469.0 487.8L469.8 491.0L471.1 494.4L472.8 497.8L474.7 501.3L477.0 504.7L479.5 507.8L482.2 510.6L484.9 513.1L487.6 515.1L490.3 516.5L492.8 517.4L495.1 517.7L497.2 517.4L498.9 516.6L500.3 515.1L501.3 513.2L501.9 510.9L502.0 508.2L501.8 505.2L501.2 502.0L500.3 498.8L499.1 495.5L497.6 492.4L495.9 489.4L494.1 486.8L492.2 484.4L490.3 482.5L488.5 481.1L486.8 480.2L485.3 479.8L484.1 479.9L483.1 480.5L482.4 481.6L482.1 483.2L482.2 485.1L482.6 487.4L483.3 489.9L484.4 492.5L485.8 495.3L487.4 498.0L489.3 500.6L491.3 503.1L493.5 505.3L495.7 507.2L498.0 508.7L500.1 509.9L502.2 510.5L504.0 510.7L505.7 510.5L507.1 509.7L508.2 508.6L509.1 507.1L509.6 505.2L509.8 503.0L509.7 500.7L509.2 498.2L508.6 495.6L507.6 493.0L506.5 490.5L505.3 488.2L503.9 486.1L502.5 484.3L501.1 482.8L499.8 481.7L498.5 481.0L497.4 480.7L496.5 480.7L495.8 481.2L495.4 482.1L495.2 483.3L495.3 484.8L495.7 486.5L496.4 488.5L497.3 490.5L498.4 492.6L499.8 494.7L501.3 496.8L503.0 498.6L504.7 500.3L506.5 501.8L508.3 502.9L510.0 503.7L511.7 504.2L513.2 504.3L514.5 504.1L515.6 503.5L516.6 502.6L517.3 501.4L517.7 499.9L517.9 498.2L517.9 496.4L517.6 494.4L517.2 492.4L516.5 490.5L515.7 488.5L514.8 486.8L513.9 485.1L512.9 483.8L511.9 482.6L510.9 481.8L510.0 481.2L509.3 481.0L508.7 481.0L508.2 481.4L508.0 482.0L507.9 482.9L508.1 484.1L508.5 485.4L509.0 486.8L509.8 488.4L510.8 490.0L511.9 491.5L513.1 493.0L514.4 494.4L515.8 495.7L517.2 496.7L518.6 497.5L520.0 498.1L521.3 498.4L522.5 498.5L523.6 498.3L524.5 497.8L525.3 497.1L525.9 496.2L526.3 495.0L526.5 493.7L526.5 492.3L526.4 490.9L526.1 489.4L525.7 487.9L525.2 486.4L524.6 485.1L523.9 483.8L523.3 482.8L522.6 481.9L522.0 481.3L521.4 480.9L520.9 480.7L520.5 480.7L520.3 481.0L520.2 481.4L520.2 482.1L520.4 482.9L520.8 483.9L521.3 484.9L522.0 486.1L522.7 487.2L523.6 488.3L524.6 489.4L525.7 490.4L526.8 491.3L527.9 492.1L529.0 492.6L530.1 493.0L531.1 493.2L532.1 493.3L533.0 493.1L533.7 492.7L534.3 492.1L534.8 491.4L535.2 490.6L535.4 489.6L535.5 488.5L535.5 487.4L535.4 486.3L535.2 485.2L534.9 484.1L534.5 483.1L534.1 482.2L533.7 481.5L533.3 480.8L532.9 480.3L532.6 480.0L532.3 479.9L532.1 479.9L532.0 480.0L532.0 480.4L532.2 480.8L532.4 481.4L532.7 482.1L533.2 482.8L533.8 483.6L534.4 484.4L535.1 485.2L535.9 486.0L536.8 486.7L537.7 487.3L538.6 487.8L539.4 488.2L540.3 488.4L541.1 488.5L541.9 488.5L542.6 488.4L543.2 488.1L543.7 487.6L544.2 487.1L544.5 486.5L544.7 485.7L544.9 485.0L545.0 484.1L545.0 483.3L544.9 482.5L544.7 481.7L544.6 481.0L544.4 480.3L544.2 479.8L544.0 479.3L543.8 478.9L543.6 478.7L543.5 478.6L543.5 478.5L543.5 478.6L543.6 478.9L543.8 479.2L544.0 479.6L544.4 480.0L544.8 480.5L545.3 481.0L545.8 481.6L546.4 482.1L547.1 482.6L547.8 483.1L548.5 483.5L549.2 483.8L549.9 484.1L550.6 484.2L551.2 484.3L551.8 484.2L552.4 484.1L552.9 483.8L553.4 483.5L553.8 483.1L554.1 482.6L554.4 482.1L554.6 481.5L554.7 481.0L554.8 480.4L554.8 479.8L554.8 479.2L554.8 478.7L554.7 478.2L554.7 477.8L554.6 477.4L554.6 477.1L554.6 477.0L554.6 476.8L554.6 476.8L554.8 476.9L554.9 477.0L555.1 477.2L555.4 477.4L555.7 477.7L556.1 478.0L556.5 478.4L557.0 478.7L557.5 479.1L558.0 479.4L558.6 479.7L559.2 479.9L559.8 480.1L560.3 480.3L560.9 480.4L561.4 480.4L562.0 480.3L562.4 480.2L562.9 480.0L563.3 479.7L563.6 479.4L564.0 479.1L564.2 478.7L564.4 478.3L564.6 477.8L564.8 477.4L564.9 477.0L565.0 476.6L565.1 476.2L565.1 475.8L565.2 475.5L565.2 475.3L565.3 475.1L565.4 474.9L565.5 474.8L565.6 474.8L565.8 474.8L566.0 474.9L566.3 475.0L566.5 475.1L566.9 475.3L567.2 475.5L567.6 475.7L568.0 475.9L568.4 476.1L568.9 476.3L569.4 476.4L569.9 476.6L570.3 476.7L570.8 476.7L571.3 476.8L571.8 476.7L572.2 476.7L572.6 476.5L573.0 476.4L573.4 476.2L573.7 476.0L574.0 475.7L574.3 475.4L574.5 475.1L574.7 474.8L574.9 474.5L575.1 474.2L575.3 473.9L575.4 473.6L575.6 473.3L575.7 473.1L575.8 472.9L576.0 472.8L576.1 472.6L576.3 472.5L576.5 472.5L576.7 472.5L577.0 472.5L577.2 472.5L577.5 472.6L577.8 472.7L578.1 472.8L578.5 472.9L578.9 473.0L579.3 473.1L579.7 473.2L580.1 473.3L580.5 473.3L580.9 473.4L581.3 473.4L581.7 473.4L582.1 473.3L582.5 473.2L582.9 473.1" stroke="#3f74ba" stroke-width="3.0" fill="none" stroke-linejoin="round" stroke-linecap="round"/>
<path d="M192.5 579.5L192.9 579.4L193.4 579.3L193.9 579.2L194.4 579.1L194.8 579.0L195.3 578.8L195.7 578.7L196.2 578.6L196.7 578.4L197.1 578.3L197.6 578.2L198.0 578.0L198.5 577.9L198.9 577.7L199.4 577.6L199.9 577.4L200.3 577.3L200.8 577.1L201.2 576.9L201.7 576.8L202.2 576.6L202.7 576.5L203.1 576.3L203.6 576.2L204.1 576.1L204.6 575.9L205.1 575.8L205.6 575.7L206.1 575.6L206.6 575.5L207.1 575.4L207.6 575.3L208.1 575.2L208.6 575.1L209.1 575.0L209.6 574.9L210.0 574.9L210.5 574.8L211.0 574.7L211.5 574.6L211.9 574.5L212.4 574.4L212.8 574.2L213.2 574.1L213.7 574.0L214.1 573.8L214.5 573.7L215.0 573.5L215.4 573.3L215.8 573.1L216.2 572.9L216.7 572.7L217.1 572.5L217.6 572.3L218.0 572.1L218.5 571.9L219.0 571.7L219.4 571.5L219.9 571.4L220.4 571.2L221.0 571.1L221.5 570.9L222.0 570.8L222.5 570.7L223.1 570.6L223.6 570.6L224.2 570.5L224.7 570.5L225.3 570.5L225.8 570.5L226.3 570.5L226.8 570.5L227.3 570.4L227.8 570.4L228.3 570.4L228.7 570.3L229.2 570.3L229.6 570.2L230.0 570.1L230.4 570.0L230.8 569.8L231.1 569.6L231.5 569.4L231.8 569.1L232.2 568.9L232.5 568.6L232.9 568.3L233.3 568.0L233.7 567.7L234.1 567.4L234.5 567.0L235.0 566.7L235.5 566.5L236.0 566.2L236.5 566.0L237.0 565.8L237.6 565.6L238.2 565.5L238.9 565.4L239.5 565.4L240.1 565.4L240.8 565.4L241.4 565.5L242.1 565.6L242.7 565.7L243.3 565.9L243.9 566.0L244.5 566.2L245.0 566.3L245.5 566.5L246.0 566.6L246.4 566.6L246.8 566.7L247.1 566.6L247.4 566.5L247.7 566.4L247.9 566.2L248.1 565.9L248.4 565.6L248.6 565.2L248.8 564.7L249.0 564.3L249.2 563.7L249.5 563.2L249.8 562.6L250.1 562.1L250.5 561.5L250.9 561.0L251.4 560.6L252.0 560.2L252.6 559.8L253.3 559.5L254.0 559.4L254.8 559.3L255.6 559.3L256.4 559.3L257.3 559.5L258.1 559.8L259.0 560.1L259.8 560.5L260.6 560.9L261.4 561.4L262.1 561.9L262.8 562.4L263.4 562.8L263.9 563.3L264.3 563.6L264.7 563.9L264.9 564.1L265.1 564.1L265.2 564.1L265.3 563.9L265.3 563.6L265.2 563.1L265.1 562.5L265.0 561.8L265.0 561.1L264.9 560.2L264.9 559.2L264.9 558.2L265.0 557.2L265.2 556.2L265.6 555.3L266.0 554.4L266.5 553.6L267.2 552.9L267.9 552.4L268.8 552.0L269.8 551.7L270.9 551.7L272.1 551.8L273.3 552.2L274.5 552.7L275.8 553.3L277.0 554.1L278.2 555.1L279.4 556.1L280.4 557.1L281.4 558.2L282.2 559.3L282.9 560.3L283.4 561.2L283.8 562.0L284.0 562.6L284.0 563.0L283.9 563.3L283.7 563.2L283.3 563.0L282.9 562.4L282.3 561.7L281.7 560.7L281.1 559.5L280.6 558.1L280.0 556.5L279.6 554.8L279.3 553.1L279.1 551.3L279.1 549.6L279.3 547.9L279.7 546.4L280.3 545.0L281.2 543.9L282.2 543.0L283.5 542.4L284.9 542.2L286.5 542.3L288.3 542.7L290.1 543.4L292.0 544.5L293.9 545.8L295.7 547.4L297.5 549.2L299.2 551.1L300.7 553.1L302.0 555.1L303.0 557.1L303.9 559.0L304.4 560.7L304.7 562.2L304.6 563.3L304.3 564.1L303.7 564.6L302.9 564.6L301.9 564.1L300.7 563.3L299.4 562.0L298.1 560.3L296.7 558.2L295.4 555.9L294.2 553.3L293.1 550.5L292.3 547.6L291.7 544.6L291.4 541.8L291.5 539.1L291.9 536.6L292.7 534.5L293.8 532.7L295.3 531.5L297.1 530.7L299.2 530.4L301.6 530.7L304.2 531.5L306.9 532.9L309.7 534.8L312.5 537.1L315.3 539.8L317.8 542.8L320.2 546.1L322.3 549.5L324.1 552.8L325.5 556.1L326.5 559.2L327.0 562.0L327.0 564.3L326.7 566.2L325.8 567.5L324.6 568.1L323.0 568.1L321.1 567.4L318.9 566.0L316.6 564.0L314.2 561.3L311.7 558.1L309.4 554.5L307.3 550.4L305.5 546.1L303.9 541.7L302.8 537.3L302.2 533.0L302.1 528.9L302.6 525.3L303.6 522.2L305.1 519.6L307.2 517.8L309.8 516.8L312.8 516.6L316.2 517.2L319.9 518.6L323.8 520.8L327.7 523.8L331.7 527.4L335.5 531.6L339.1 536.2L342.3 541.1L345.1 546.2L347.5 551.2L349.2 556.0L350.3 560.5L350.8 564.6L350.6 568.0L349.7 570.6L348.2 572.4L346.1 573.3L343.5 573.2L340.5 572.2L337.2 570.1L333.6 567.2L330.0 563.3L326.4 558.7L322.9 553.5L319.8 547.8L317.0 541.7L314.8 535.5L313.1 529.4L312.1 523.4L311.9 517.9L312.5 513.0L313.8 508.8L315.8 505.5L318.6 503.2L322.1 501.9L326.2 501.8L330.7 502.8L335.6 505.0L340.7 508.2L345.9 512.4L351.1 517.5L356.1 523.3L360.7 529.6L364.8 536.3L368.3 543.1L371.2 549.8L373.2 556.3L374.5 562.3L374.8 567.5L374.3 572.0L372.9 575.4L370.6 577.6L367.7 578.7L364.0 578.5L359.9 576.9L355.4 574.1L350.6 570.2L345.7 565.1L340.9 559.1L336.4 552.3L332.3 544.9L328.7 537.1L325.8 529.2L323.6 521.5L322.4 514.0L322.1 507.1L322.8 501.0L324.5 495.9L327.1 492.0L330.6 489.3L334.9 487.9L339.9 488.0L345.5 489.5L351.5 492.4L357.8 496.6L364.1 501.9L370.3 508.3L376.3 515.6L381.8 523.4L386.6 531.6L390.7 539.9L393.9 548.1L396.2 555.9L397.4 563.1L397.6 569.3L396.7 574.5L394.8 578.5L391.9 581.0L388.2 582.1L383.7 581.7L378.7 579.7L373.1 576.2L367.4 571.4L361.6 565.3L355.9 558.1L350.6 550.0L345.8 541.4L341.6 532.3L338.3 523.2L335.9 514.2L334.5 505.7L334.2 497.9L335.1 491.1L337.1 485.4L340.1 481.1L344.2 478.2L349.2 476.9L354.9 477.2L361.2 479.2L368.0 482.6L375.0 487.5L382.0 493.7L388.9 501.0L395.4 509.2L401.4 518.0L406.6 527.2L411.0 536.4L414.3 545.4L416.6 553.9L417.8 561.7L417.8 568.4L416.6 573.9L414.4 578.0L411.1 580.6L406.9 581.6L401.9 580.9L396.3 578.5L390.3 574.6L384.1 569.3L377.9 562.6L371.9 554.8L366.2 546.2L361.1 536.9L356.8 527.3L353.4 517.7L351.0 508.3L349.7 499.5L349.5 491.5L350.6 484.5L352.8 478.8L356.1 474.5L360.4 471.7L365.6 470.6L371.6 471.1L378.1 473.3L385.1 477.1L392.2 482.3L399.4 488.7L406.3 496.3L412.8 504.7L418.8 513.6L424.0 522.9L428.2 532.2L431.5 541.2L433.6 549.6L434.6 557.2L434.5 563.7L433.2 569.0L430.8 572.9L427.4 575.2L423.2 576.0L418.2 575.1L412.7 572.6L406.9 568.6L400.8 563.2L394.8 556.5L389.0 548.9L383.6 540.4L378.8 531.4L374.8 522.2L371.7 513.0L369.5 504.1L368.4 495.8L368.5 488.2L369.6 481.8L371.9 476.5L375.1 472.6L379.3 470.2L384.4 469.4L390.1 470.1L396.3 472.3L402.8 476.0L409.5 480.9L416.1 487.1L422.5 494.1L428.5 501.9L433.9 510.2L438.6 518.7L442.4 527.1L445.3 535.2L447.1 542.8L448.0 549.6L447.7 555.3L446.5 559.9L444.3 563.2L441.2 565.1L437.4 565.6L432.9 564.6L428.0 562.1L422.8 558.4L417.5 553.4L412.3 547.5L407.3 540.6L402.7 533.1L398.7 525.2L395.3 517.1L392.7 509.1L391.1 501.4L390.3 494.2L390.5 487.8L391.7 482.4L393.8 478.0L396.8 474.8L400.5 472.9L405.0 472.3L410.0 473.1L415.3 475.1L421.0 478.4L426.7 482.7L432.3 487.9L437.7 493.9L442.7 500.5L447.2 507.4L451.1 514.4L454.3 521.4L456.6 528.0L458.1 534.1L458.8 539.6L458.6 544.2L457.5 547.8L455.7 550.3L453.2 551.7L450.1 551.8L446.5 550.9L442.6 548.7L438.5 545.6L434.4 541.4L430.3 536.5L426.4 530.9L422.9 524.9L419.8 518.5L417.4 512.1L415.5 505.8L414.4 499.7L414.0 494.1L414.4 489.2L415.5 485.0L417.3 481.6L419.8 479.3L422.9 477.9L426.5 477.6L430.5 478.2L434.8 479.9L439.3 482.5L443.7 485.8L448.1 489.9L452.3 494.5L456.2 499.5L459.7 504.7L462.7 510.0L465.1 515.2L466.9 520.1L468.0 524.6L468.6 528.6L468.4 531.9L467.7 534.4L466.4 536.1L464.6 537.0L462.4 537.0L459.9 536.1L457.1 534.4L454.2 532.0L451.3 528.8L448.5 525.1L445.8 521.0L443.5 516.6L441.4 511.9L439.8 507.3L438.7 502.7L438.1 498.4L438.0 494.4L438.5 490.9L439.5 487.9L441.0 485.6L443.0 484.0L445.4 483.1L448.1 482.9L451.0 483.4L454.2 484.6L457.4 486.5L460.7 488.8L463.9 491.7L466.9 494.8L469.7 498.3L472.2 501.8L474.3 505.4L476.1 508.9L477.4 512.2L478.3 515.2L478.7 517.8L478.7 519.9L478.4 521.5L477.6 522.6L476.5 523.0L475.1 522.9L473.6 522.2L471.9 521.0L470.1 519.2L468.4 517.0L466.7 514.5L465.1 511.7L463.7 508.7L462.6 505.6L461.7 502.5L461.2 499.5L461.0 496.7L461.2 494.1L461.7 491.8L462.6 489.9L463.7 488.5L465.2 487.4L466.9 486.9L468.9 486.8L470.9 487.1L473.1 487.9L475.4 489.0L477.6 490.5L479.8 492.3L481.8 494.3L483.7 496.4L485.4 498.6L486.9 500.8L488.1 502.9L489.1 504.8L489.8 506.6L490.2 508.1L490.4 509.3L490.3 510.2L490.0 510.8L489.5 510.9L488.8 510.8L488.0 510.3L487.2 509.4L486.3 508.3L485.4 506.9L484.6 505.3L483.9 503.5L483.3 501.7L482.8 499.8L482.5 497.9L482.4 496.1L482.5 494.4L482.8 492.8L483.4 491.4L484.1 490.3L485.0 489.4L486.1 488.8L487.3 488.5L488.6 488.4L490.0 488.6L491.5 489.0L493.0 489.6L494.5 490.4L495.9 491.4L497.3 492.5L498.5 493.7L499.7 494.8L500.7 496.0L501.6 497.1L502.3 498.2L502.9 499.1L503.3 499.9L503.6 500.5L503.7 500.9L503.8 501.1L503.7 501.1L503.5 500.9L503.3 500.6L503.0 500.0L502.8 499.3L502.5 498.5L502.3 497.6L502.1 496.5L502.0 495.5L502.0 494.4L502.0 493.3L502.2 492.3L502.5 491.3L502.9 490.4L503.4 489.6L504.1 489.0L504.8 488.5L505.6 488.1L506.4 487.9L507.4 487.8L508.3 487.9L509.3 488.0L510.3 488.3L511.3 488.7L512.3 489.1L513.2 489.7L514.1 490.2L514.9 490.7L515.7 491.3L516.4 491.8L516.9 492.2L517.5 492.6L517.9 493.0L518.3 493.2L518.6 493.3L518.8 493.4L519.0 493.3L519.1 493.1L519.3 492.9L519.4 492.5L519.5 492.1L519.6 491.6L519.7 491.1L519.9 490.5L520.0 489.9L520.3 489.3L520.6 488.7L520.9 488.1L521.3 487.6L521.7 487.1L522.2 486.7L522.8 486.3L523.4 486.0L524.0 485.8L524.7 485.6L525.4 485.5L526.1 485.5L526.8 485.5L527.5 485.6L528.2 485.7L529.0 485.8L529.6 486.0L530.3 486.2L530.9 486.4L531.5 486.5L532.1 486.7L532.6 486.9L533.1 487.0L533.5 487.0L534.0 487.1L534.3 487.1L534.7 487.0L535.0 486.9L535.4 486.7L535.7 486.5L536.0 486.3L536.3 486.0L536.6 485.7L536.9 485.4L537.2 485.1L537.6 484.8L538.0 484.4L538.4 484.1L538.8 483.8L539.2 483.5L539.7 483.2L540.2 482.9L540.7 482.7L541.2 482.5L541.7 482.3L542.3 482.2L542.9 482.0L543.4 482.0L544.0 481.9L544.6 481.9L545.2 481.8L545.8 481.8L546.3 481.8L546.9 481.8L547.4 481.8L547.9 481.8L548.4 481.8L548.9 481.8L549.4 481.8L549.9 481.7L550.3 481.7L550.7 481.6L551.2 481.5L551.6 481.4L552.0 481.2L552.4 481.1L552.8 480.9L553.2 480.7L553.6 480.5L554.0 480.3L554.4 480.1L554.9 479.9L555.3 479.7L555.7 479.4L556.2 479.2L556.6 479.0L557.1 478.8L557.6 478.7L558.1 478.5L558.6 478.3L559.1 478.2L559.6 478.1L560.1 477.9L560.6 477.8L561.1 477.7L561.6 477.6L562.1 477.5L562.6 477.5L563.2 477.4L563.7 477.3L564.2 477.2L564.6 477.1L565.1 477.1L565.6 477.0L566.1 476.9L566.5 476.8L567.0 476.7L567.5 476.6L567.9 476.4L568.4 476.3L568.8 476.2L569.3 476.0L569.7 475.9L570.2 475.7L570.6 475.6L571.0 475.4L571.5 475.3L572.0 475.1L572.4 474.9L572.9 474.8L573.3 474.6L573.8 474.5L574.3 474.3L574.7 474.2L575.2 474.0L575.7 473.9L576.2 473.8L576.7 473.6L577.2 473.5L577.6 473.4L578.1 473.3L578.6 473.1L579.1 473.0L579.6 472.9L580.1 472.8L580.6 472.7L581.0 472.6L581.5 472.5L582.0 472.4L582.5 472.2" stroke="#e01010" stroke-width="2.9" fill="none" stroke-linejoin="round" stroke-linecap="round"/>
<text x="176.4" y="411.8" font-size="30.6" fill="#b40606" text-anchor="start" font-family='"Liberation Serif", serif' >Counter-rotating</text>
<text x="176.4" y="449.0" font-size="30.6" fill="#b40606" text-anchor="start" font-family='"Liberation Serif", serif' >circularly-polarized</text>
<text x="176.4" y="485.3" font-size="30.6" fill="#b40606" text-anchor="start" font-family='"Liberation Serif", serif' >lasers</text>
<path d="M 580.1 472.7 L 649.2 449.0" stroke="#b81414" stroke-width="3.0" stroke-linecap="butt"/>
<path d="M 580.2 472.4 L 649.1 448.7" stroke="#e2564c" stroke-width="1.1"/>
<path d="M 647.3 441.8 L 653.4 455.4 L 665.1 443.2 Z" fill="#b81212"/>
<path d="M 647.3 441.8 L 653.4 455.4 L 649.7 454.4 L 646.4 446.0 Z" fill="#8e0c0c"/>
<path d="M 601.6 434.6 C 588.0 433.4 579.1 445.1 580.7 458.2 C 582.4 474.1 597.4 495.5 616.0 500.2 L 617.2 496.5 C 603.0 491.3 588.0 474.1 585.4 459.1 C 583.5 447.0 590.8 439.0 602.2 436.7 Z" fill="#e00808"/>
<path d="M 595.0 444.2 L 608.1 440.0 L 613.7 425.0 L 627.2 467.1 Z" fill="#e00808"/>
<path d="M 628.6 426.0 C 644.1 425.0 661.3 442.3 666.3 464.7 C 668.8 478.7 662.3 492.3 647.0 490.4 L 646.4 485.7 C 657.1 487.6 663.9 478.7 662.5 465.7 C 659.0 446.0 644.1 430.3 629.6 428.5 Z" fill="#3c68cc"/>
<path d="M 616.0 408.2 L 623.5 448.8 Q 631.9 440.9 644.1 436.7 Q 633.8 432.0 627.7 426.0 Z" fill="#3c68cc"/>
<text x="462.1" y="435.4" font-size="32.8" fill="#3a6fc4" text-anchor="start" font-family='"Liberation Serif", serif' >0.79 μm</text>
<text x="568.7" y="535.3" font-size="32.3" fill="#e0141e" text-anchor="start" font-family='"Liberation Serif", serif' >1.3 μm</text>
<text x="1139.0" y="50.0" font-size="30.5" fill="#111" text-anchor="middle" font-family='"Liberation Serif", serif' >Gd/Fe</text>
<text x="1139.5" y="82.5" font-size="30.5" fill="#111" text-anchor="middle" font-family='"Liberation Serif", serif' >multilayer</text>
<text x="1194.5" y="487.5" font-size="30.5" fill="#111" text-anchor="start" font-family='"Liberation Serif", serif' >Magnets</text>
<path d="M210.2 884.4L210.6 884.4L211.0 884.4L211.4 884.4L211.8 884.4L212.2 884.4L212.6 884.4L213.0 884.4L213.4 884.4L213.8 884.4L214.2 884.4L214.6 884.4L215.0 884.4L215.4 884.3L215.8 884.2L216.2 884.0L216.6 883.7L217.0 883.3L217.4 882.9L217.8 882.5L218.2 882.1L218.6 881.6L219.0 881.2L219.4 880.8L219.8 880.6L220.2 880.5L220.6 880.8L221.0 881.1L221.4 881.5L221.8 881.9L222.2 882.3L222.6 882.7L223.0 883.1L223.4 883.4L223.8 883.7L224.2 883.9L224.6 884.0L225.0 883.9L225.4 883.7L225.8 883.3L226.2 882.6L226.6 881.9L227.0 881.2L227.4 880.4L227.8 879.7L228.2 878.9L228.6 878.1L229.0 877.5L229.4 877.1L229.8 877.3L230.2 877.8L230.6 878.6L231.0 879.3L231.4 880.1L231.8 880.9L232.2 881.6L232.6 882.3L233.0 883.0L233.4 883.6L233.8 883.9L234.2 884.1L234.6 884.1L235.0 884.1L235.4 884.2L235.8 884.2L236.2 884.2L236.6 884.2L237.0 884.2L237.4 884.1L237.8 884.1L238.2 884.1L238.6 884.1L239.0 884.0L239.4 884.0L239.8 884.1L240.2 884.1L240.6 884.1L241.0 884.1L241.4 884.2L241.8 884.2L242.2 884.2L242.6 884.2L243.0 884.2L243.4 884.2L243.8 884.2L244.2 884.2L244.6 884.2L245.0 884.2L245.4 884.2L245.8 884.1L246.2 884.1L246.6 884.0L247.0 883.9L247.4 883.8L247.8 883.7L248.2 883.6L248.6 883.5L249.0 883.4L249.4 883.4L249.8 883.4L250.2 883.5L250.6 883.5L251.0 883.6L251.4 883.6L251.8 883.6L252.2 883.6L252.6 883.6L253.0 883.5L253.4 883.5L253.8 883.4L254.2 883.2L254.6 882.7L255.0 881.6L255.4 879.9L255.8 878.1L256.2 876.1L256.6 874.1L257.0 872.1L257.4 870.1L257.8 868.1L258.2 866.2L258.6 865.0L259.0 865.1L259.4 866.2L259.8 868.0L260.2 870.0L260.6 871.9L261.0 873.9L261.4 875.8L261.8 877.7L262.2 879.4L262.6 880.9L263.0 881.8L263.4 882.1L263.8 881.6L264.2 880.4L264.6 878.7L265.0 876.6L265.4 874.5L265.8 872.3L266.2 870.1L266.6 867.9L267.0 865.7L267.4 863.7L267.8 862.5L268.2 862.8L268.6 864.3L269.0 866.4L269.4 868.6L269.8 870.9L270.2 873.2L270.6 875.4L271.0 877.6L271.4 879.6L271.8 881.4L272.2 882.5L272.6 882.9L273.0 883.1L273.4 883.2L273.8 883.3L274.2 883.3L274.6 883.4L275.0 883.4L275.4 883.3L275.8 883.3L276.2 883.2L276.6 883.1L277.0 883.1L277.4 883.1L277.8 883.1L278.2 883.1L278.6 883.2L279.0 883.3L279.4 883.4L279.8 883.5L280.2 883.6L280.6 883.7L281.0 883.7L281.4 883.7L281.8 883.8L282.2 883.8L282.6 883.8L283.0 883.7L283.4 883.7L283.8 883.7L284.2 883.6L284.6 883.5L285.0 883.3L285.4 883.2L285.8 883.0L286.2 882.8L286.6 882.7L287.0 882.6L287.4 882.5L287.8 882.5L288.2 882.6L288.6 882.6L289.0 882.7L289.4 882.8L289.8 882.8L290.2 882.9L290.6 882.8L291.0 882.8L291.4 882.7L291.8 882.6L292.2 882.4L292.6 882.0L293.0 881.0L293.4 878.9L293.8 876.0L294.2 872.8L294.6 869.5L295.0 866.1L295.4 862.7L295.8 859.2L296.2 855.9L296.6 852.9L297.0 851.3L297.4 852.0L297.8 854.3L298.2 857.5L298.6 860.8L299.0 864.1L299.4 867.4L299.8 870.6L300.2 873.8L300.6 876.7L301.0 879.1L301.4 880.4L301.8 880.9L302.2 880.8L302.6 879.9L303.0 877.9L303.4 875.0L303.8 871.9L304.2 868.6L304.6 865.2L305.0 861.8L305.4 858.3L305.8 854.9L306.2 852.0L306.6 850.4L307.0 851.0L307.4 853.4L307.8 856.7L308.2 860.2L308.6 863.7L309.0 867.2L309.4 870.6L309.8 874.0L310.2 877.1L310.6 879.7L311.0 881.3L311.4 882.0L311.8 882.2L312.2 882.4L312.6 882.4L313.0 882.5L313.4 882.5L313.8 882.5L314.2 882.5L314.6 882.4L315.0 882.3L315.4 882.2L315.8 882.1L316.2 882.1L316.6 882.1L317.0 882.2L317.4 882.3L317.8 882.5L318.2 882.6L318.6 882.8L319.0 882.9L319.4 883.0L319.8 883.1L320.2 883.1L320.6 883.1L321.0 883.1L321.4 883.1L321.8 883.0L322.2 882.9L322.6 882.8L323.0 882.6L323.4 882.4L323.8 882.1L324.2 881.8L324.6 881.5L325.0 881.2L325.4 881.0L325.8 880.9L326.2 880.8L326.6 880.9L327.0 881.0L327.4 881.2L327.8 881.3L328.2 881.4L328.6 881.5L329.0 881.4L329.4 881.3L329.8 881.2L330.2 881.0L330.6 880.7L331.0 880.0L331.4 878.3L331.8 874.7L332.2 869.5L332.6 863.7L333.0 857.6L333.4 851.4L333.8 845.1L334.2 838.8L334.6 832.6L335.0 827.0L335.4 823.7L335.8 824.2L336.2 828.2L336.6 833.9L337.0 840.0L337.4 846.2L337.8 852.3L338.2 858.2L338.6 864.1L339.0 869.6L339.4 874.1L339.8 876.9L340.2 877.9L340.6 877.7L341.0 875.9L341.4 872.2L341.8 867.3L342.2 861.9L342.6 856.5L343.0 850.9L343.4 845.2L343.8 839.5L344.2 833.9L344.6 829.2L345.0 827.2L345.4 829.3L345.8 834.0L346.2 839.7L346.6 845.5L347.0 851.4L347.4 857.1L347.8 862.8L348.2 868.3L348.6 873.5L349.0 877.4L349.4 879.6L349.8 880.4L350.2 880.8L350.6 881.0L351.0 881.1L351.4 881.2L351.8 881.3L352.2 881.2L352.6 881.2L353.0 881.0L353.4 880.9L353.8 880.7L354.2 880.6L354.6 880.6L355.0 880.6L355.4 880.8L355.8 881.0L356.2 881.3L356.6 881.6L357.0 881.8L357.4 882.0L357.8 882.2L358.2 882.3L358.6 882.4L359.0 882.4L359.4 882.4L359.8 882.4L360.2 882.3L360.6 882.2L361.0 882.0L361.4 881.7L361.8 881.4L362.2 881.1L362.6 880.7L363.0 880.4L363.4 880.1L363.8 879.9L364.2 879.8L364.6 879.9L365.0 880.0L365.4 880.2L365.8 880.4L366.2 880.5L366.6 880.6L367.0 880.6L367.4 880.5L367.8 880.3L368.2 880.1L368.6 879.8L369.0 879.2L369.4 877.8L369.8 874.4L370.2 869.0L370.6 862.3L371.0 855.3L371.4 848.1L371.8 840.7L372.2 833.3L372.6 825.9L373.0 818.9L373.4 813.7L373.8 812.4L374.2 815.8L374.6 822.0L375.0 829.1L375.4 836.3L375.8 843.5L376.2 850.5L376.6 857.4L377.0 864.1L377.4 870.0L377.8 874.1L378.2 875.9L378.6 876.1L379.0 874.9L379.4 871.6L379.8 865.8L380.2 858.6L380.6 850.9L381.0 843.0L381.4 835.0L381.8 826.8L382.2 818.7L382.6 811.0L383.0 805.2L383.4 803.7L383.8 807.5L384.2 814.7L384.6 822.8L385.0 831.2L385.4 839.4L385.8 847.6L386.2 855.6L386.6 863.4L387.0 870.4L387.4 875.6L387.8 878.1L388.2 878.9L388.6 879.3L389.0 879.6L389.4 879.8L389.8 879.9L390.2 880.0L390.6 879.9L391.0 879.8L391.4 879.6L391.8 879.3L392.2 879.1L392.6 879.0L393.0 879.0L393.4 879.1L393.8 879.3L394.2 879.7L394.6 880.1L395.0 880.5L395.4 880.8L395.8 881.1L396.2 881.3L396.6 881.5L397.0 881.5L397.4 881.6L397.8 881.6L398.2 881.6L398.6 881.5L399.0 881.4L399.4 881.2L399.8 881.0L400.2 880.6L400.6 880.2L401.0 879.7L401.4 879.2L401.8 878.6L402.2 878.2L402.6 877.8L403.0 877.7L403.4 877.7L403.8 877.9L404.2 878.1L404.6 878.4L405.0 878.6L405.4 878.8L405.8 878.8L406.2 878.7L406.6 878.5L407.0 878.2L407.4 877.7L407.8 877.1L408.2 875.7L408.6 871.8L409.0 864.7L409.4 855.3L409.8 845.2L410.2 834.8L410.6 824.3L411.0 813.6L411.4 802.9L411.8 792.5L412.2 783.7L412.6 779.7L413.0 783.1L413.4 791.5L413.8 801.5L414.2 811.8L414.6 822.2L415.0 832.3L415.4 842.2L415.8 851.9L416.2 860.8L416.6 867.5L417.0 870.8L417.4 871.0L417.8 867.9L418.2 860.6L418.6 850.3L419.0 838.6L419.4 826.4L419.8 814.0L420.2 801.3L420.6 788.6L421.0 776.1L421.4 765.0L421.8 758.8L422.2 760.8L422.6 769.8L423.0 781.8L423.4 794.7L423.8 807.7L424.2 820.6L424.6 833.2L425.0 845.6L425.4 857.2L425.8 866.9L426.2 872.8L426.6 875.4L427.0 876.4L427.4 876.9L427.8 877.3L428.2 877.5L428.6 877.7L429.0 877.7L429.4 877.5L429.8 877.3L430.2 876.9L430.6 876.6L431.0 876.3L431.4 876.2L431.8 876.3L432.2 876.5L432.6 877.0L433.0 877.6L433.4 878.2L433.8 878.8L434.2 879.3L434.6 879.7L435.0 880.0L435.4 880.2L435.8 880.3L436.2 880.3L436.6 880.3L437.0 880.2L437.4 880.1L437.8 879.9L438.2 879.6L438.6 879.2L439.0 878.6L439.4 877.9L439.8 877.2L440.2 876.4L440.6 875.8L441.0 875.3L441.4 875.1L441.8 875.1L442.2 875.3L442.6 875.7L443.0 876.0L443.4 876.4L443.8 876.6L444.2 876.6L444.6 876.5L445.0 876.2L445.4 875.8L445.8 875.3L446.2 874.5L446.6 872.8L447.0 868.1L447.4 858.6L447.8 845.8L448.2 831.9L448.6 817.5L449.0 802.9L449.4 788.1L449.8 773.2L450.2 758.6L450.6 746.0L451.0 739.5L451.4 742.8L451.8 753.6L452.2 767.3L452.6 781.7L453.0 796.1L453.4 810.3L453.8 824.2L454.2 837.7L454.6 850.3L455.0 860.2L455.4 865.6L455.8 866.5L456.2 863.2L456.6 854.6L457.0 841.7L457.4 826.7L457.8 811.1L458.2 795.0L458.6 778.7L459.0 762.2L459.4 745.9L459.8 731.3L460.2 722.2L460.6 723.2L461.0 733.7L461.4 749.0L461.8 765.7L462.2 782.5L462.6 799.2L463.0 815.7L463.4 831.7L463.8 847.0L464.2 860.0L464.6 868.5L465.0 872.4L465.4 873.8L465.8 874.5L466.2 875.0L466.6 875.4L467.0 875.6L467.4 875.6L467.8 875.5L468.2 875.2L468.6 874.7L469.0 874.3L469.4 873.9L469.8 873.7L470.2 873.8L470.6 874.1L471.0 874.7L471.4 875.5L471.8 876.3L472.2 877.1L472.6 877.7L473.0 878.3L473.4 878.7L473.8 878.9L474.2 879.1L474.6 879.2L475.0 879.2L475.4 879.1L475.8 878.9L476.2 878.7L476.6 878.3L477.0 877.8L477.4 877.1L477.8 876.3L478.2 875.4L478.6 874.5L479.0 873.6L479.4 873.0L479.8 872.7L480.2 872.7L480.6 872.9L481.0 873.3L481.4 873.8L481.8 874.2L482.2 874.5L482.6 874.6L483.0 874.5L483.4 874.2L483.8 873.7L484.2 873.1L484.6 872.1L485.0 870.2L485.4 864.8L485.8 853.6L486.2 837.9L486.6 820.4L487.0 802.2L487.4 783.7L487.8 764.9L488.2 746.0L488.6 727.4L489.0 711.0L489.4 701.5L489.8 704.0L490.2 716.5L490.6 733.6L491.0 751.9L491.4 770.2L491.8 788.4L492.2 806.2L492.6 823.6L493.0 839.9L493.4 853.1L493.8 861.0L494.2 863.8L494.6 863.2L495.0 858.3L495.4 847.2L495.8 831.0L496.2 812.7L496.6 793.6L497.0 774.0L497.4 754.1L497.8 734.1L498.2 714.4L498.6 697.0L499.0 686.9L499.4 689.5L499.8 703.1L500.2 722.0L500.6 742.3L501.0 762.8L501.4 783.0L501.8 802.9L502.2 822.4L502.6 840.8L503.0 856.1L503.4 865.8L503.8 870.0L504.2 871.6L504.6 872.5L505.0 873.1L505.4 873.5L505.8 873.8L506.2 873.8L506.6 873.6L507.0 873.2L507.4 872.6L507.8 872.1L508.2 871.7L508.6 871.5L509.0 871.6L509.4 872.1L509.8 872.8L510.2 873.7L510.6 874.7L511.0 875.7L511.4 876.5L511.8 877.1L512.2 877.6L512.6 877.9L513.0 878.1L513.4 878.2L513.8 878.2L514.2 878.1L514.6 878.0L515.0 877.8L515.4 877.5L515.8 877.0L516.2 876.3L516.6 875.4L517.0 874.4L517.4 873.2L517.8 872.2L518.2 871.2L518.6 870.6L519.0 870.3L519.4 870.4L519.8 870.8L520.2 871.3L520.6 871.9L521.0 872.4L521.4 872.7L521.8 872.7L522.2 872.5L522.6 872.0L523.0 871.4L523.4 870.5L523.8 869.1L524.2 865.9L524.6 857.4L525.0 842.1L525.4 822.4L525.8 801.3L526.2 779.6L526.6 757.5L527.0 735.2L527.4 712.8L527.8 691.2L528.2 673.1L528.6 665.6L529.0 673.5L529.4 691.4L529.8 712.6L530.2 734.3L530.6 755.9L531.0 777.2L531.4 798.1L531.8 818.3L532.2 836.9L532.6 850.6L533.0 856.3L533.4 853.3L533.8 841.9L534.2 824.2L534.6 803.4L535.0 781.6L535.4 759.2L535.8 736.4L536.2 713.3L536.6 690.6L537.0 670.0L537.4 656.8L537.8 657.6L538.2 672.0L538.6 693.4L539.0 716.7L539.4 740.4L539.8 763.9L540.2 787.0L540.6 809.5L541.0 831.1L541.4 849.5L541.8 861.7L542.2 867.3L542.6 869.4L543.0 870.5L543.4 871.2L543.8 871.8L544.2 872.1L544.6 872.2L545.0 872.0L545.4 871.5L545.8 871.0L546.2 870.4L546.6 869.9L547.0 869.6L547.4 869.7L547.8 870.2L548.2 871.0L548.6 872.1L549.0 873.2L549.4 874.3L549.8 875.3L550.2 876.1L550.6 876.7L551.0 877.1L551.4 877.3L551.8 877.5L552.2 877.5L552.6 877.5L553.0 877.3L553.4 877.1L553.8 876.7L554.2 876.1L554.6 875.3L555.0 874.4L555.4 873.3L555.8 872.2L556.2 871.2L556.6 870.5L557.0 870.1L557.4 870.1L557.8 870.4L558.2 870.9L558.6 871.4L559.0 872.0L559.4 872.3L559.8 872.4L560.2 872.3L560.6 872.0L561.0 871.4L561.4 870.7L561.8 869.6L562.2 867.3L562.6 861.1L563.0 848.3L563.4 830.0L563.8 809.4L564.2 788.1L564.6 766.3L565.0 744.2L565.4 721.9L565.8 700.1L566.2 680.6L566.6 669.0L567.0 671.3L567.4 685.6L567.8 705.5L568.2 727.0L568.6 748.6L569.0 769.9L569.4 790.8L569.8 811.1L570.2 830.3L570.6 846.0L571.0 855.3L571.4 857.9L571.8 854.1L572.2 843.0L572.6 824.9L573.0 803.1L573.4 780.0L573.8 756.4L574.2 732.3L574.6 708.0L575.0 683.9L575.4 661.6L575.8 646.1L576.2 644.5L576.6 658.0L577.0 680.0L577.4 704.5L577.8 729.5L578.2 754.2L578.6 778.6L579.0 802.5L579.4 825.4L579.8 845.6L580.2 859.6L580.6 866.2L581.0 868.6L581.4 869.8L581.8 870.6L582.2 871.2L582.6 871.6L583.0 871.7L583.4 871.5L583.8 871.1L584.2 870.5L584.6 869.9L585.0 869.3L585.4 869.0L585.8 869.1L586.2 869.5L586.6 870.3L587.0 871.4L587.4 872.6L587.8 873.8L588.2 874.9L588.6 875.7L589.0 876.4L589.4 876.8L589.8 877.1L590.2 877.3L590.6 877.3L591.0 877.3L591.4 877.3L591.8 877.1L592.2 876.8L592.6 876.3L593.0 875.7L593.4 874.8L593.8 873.8L594.2 872.6L594.6 871.5L595.0 870.5L595.4 869.7L595.8 869.4L596.2 869.4L596.6 869.7L597.0 870.2L597.4 870.8L597.8 871.4L598.2 871.7L598.6 871.8L599.0 871.7L599.4 871.3L599.8 870.7L600.2 869.8L600.6 868.7L601.0 866.1L601.4 859.0L601.8 844.6L602.2 824.7L602.6 802.6L603.0 779.9L603.4 756.7L603.8 733.2L604.2 709.5L604.6 686.3L605.0 666.0L605.4 654.8L605.8 658.8L606.2 675.0L606.6 696.5L607.0 719.3L607.4 742.2L607.8 764.7L608.2 786.8L608.6 808.3L609.0 828.3L609.4 844.0L609.8 851.0L610.2 846.5L610.6 831.8L611.0 811.6L611.4 789.7L611.8 767.2L612.2 744.1L612.6 720.6L613.0 697.1L613.4 674.3L613.8 655.2L614.2 647.4L614.6 656.3L615.0 676.3L615.4 699.9L615.8 724.2L616.2 748.4L616.6 772.2L617.0 795.7L617.4 818.5L617.8 839.8L618.2 856.1L618.6 864.8L619.0 868.1L619.4 869.5L619.8 870.4L620.2 871.1L620.6 871.5L621.0 871.8L621.4 871.7L621.8 871.4L622.2 870.9L622.6 870.2L623.0 869.6L623.4 869.2L623.8 869.2L624.2 869.5L624.6 870.2L625.0 871.2L625.4 872.4L625.8 873.6L626.2 874.7L626.6 875.6L627.0 876.4L627.4 876.9L627.8 877.3L628.2 877.5L628.6 877.6L629.0 877.7L629.4 877.7L629.8 877.6L630.2 877.5L630.6 877.2L631.0 876.8L631.4 876.3L631.8 875.5L632.2 874.6L632.6 873.6L633.0 872.5L633.4 871.6L633.8 870.8L634.2 870.4L634.6 870.4L635.0 870.7L635.4 871.2L635.8 871.7L636.2 872.2L636.6 872.6L637.0 872.7L637.4 872.6L637.8 872.3L638.2 871.7L638.6 871.0L639.0 870.0L639.4 867.8L639.8 862.0L640.2 849.7L640.6 832.1L641.0 812.2L641.4 791.4L641.8 770.3L642.2 748.7L642.6 727.1L643.0 705.8L643.4 686.6L643.8 675.0L644.2 676.6L644.6 690.1L645.0 709.3L645.4 730.1L645.8 751.1L646.2 771.8L646.6 792.1L647.0 811.8L647.4 830.4L647.8 845.6L648.2 853.5L648.6 851.0L649.0 838.3L649.4 819.9L649.8 799.8L650.2 779.0L650.6 757.7L651.0 736.1L651.4 714.4L651.8 693.1L652.2 674.9L652.6 666.1L653.0 672.3L653.4 689.5L653.8 710.9L654.2 733.2L654.6 755.6L655.0 777.7L655.4 799.4L655.8 820.6L656.2 840.4L656.6 856.2L657.0 865.2L657.4 868.9L657.8 870.3L658.2 871.2L658.6 871.9L659.0 872.4L659.4 872.6L659.8 872.6L660.2 872.3L660.6 871.8L661.0 871.3L661.4 870.7L661.8 870.3L662.2 870.2L662.6 870.4L663.0 871.0L663.4 871.9L663.8 872.9L664.2 874.1L664.6 875.1L665.0 876.0L665.4 876.7L665.8 877.2L666.2 877.5L666.6 877.7L667.0 877.8L667.4 877.8L667.8 877.8L668.2 877.7L668.6 877.5L669.0 877.1L669.4 876.6L669.8 875.9L670.2 875.0L670.6 873.9L671.0 872.8L671.4 871.8L671.8 870.9L672.2 870.4L672.6 870.2L673.0 870.4L673.4 870.8L673.8 871.4L674.2 872.0L674.6 872.4L675.0 872.6L675.4 872.6L675.8 872.4L676.2 871.9L676.6 871.2L677.0 870.3L677.4 868.6L677.8 864.3L678.2 854.3L678.6 837.8L679.0 817.5L679.4 796.1L679.8 774.1L680.2 751.8L680.6 729.2L681.0 706.7L681.4 685.6L681.8 669.6L682.2 665.4L682.6 675.6L683.0 694.5L683.4 716.1L683.8 738.2L684.2 760.0L684.6 781.6L685.0 802.6L685.4 822.8L685.8 841.0L686.2 853.7L686.6 859.1L687.0 858.6L687.4 851.8L687.8 837.7L688.2 819.0L688.6 798.7L689.0 777.8L689.4 756.5L689.8 734.8L690.2 713.0L690.6 691.9L691.0 674.0L691.4 666.2L691.8 673.9L692.2 692.1L692.6 713.7L693.0 736.0L693.4 758.3L693.8 780.3L694.2 801.9L694.6 823.0L695.0 842.7L695.4 857.9L695.8 866.2L696.2 869.4L696.6 870.7L697.0 871.6L697.4 872.2L697.8 872.6L698.2 872.8L698.6 872.8L699.0 872.5L699.4 872.0L699.8 871.4L700.2 870.9L700.6 870.5L701.0 870.4L701.4 870.7L701.8 871.3L702.2 872.2L702.6 873.3L703.0 874.4L703.4 875.4L703.8 876.3L704.2 876.9L704.6 877.4L705.0 877.7L705.4 877.9L705.8 878.0L706.2 878.1L706.6 878.0L707.0 877.9L707.4 877.7L707.8 877.3L708.2 876.8L708.6 876.1L709.0 875.1L709.4 874.1L709.8 873.0L710.2 872.0L710.6 871.1L711.0 870.6L711.4 870.5L711.8 870.7L712.2 871.1L712.6 871.7L713.0 872.3L713.4 872.7L713.8 872.9L714.2 872.9L714.6 872.6L715.0 872.1L715.4 871.4L715.8 870.5L716.2 868.7L716.6 863.9L717.0 853.1L717.4 836.1L717.8 815.8L718.2 794.3L718.6 772.3L719.0 749.9L719.4 727.3L719.8 704.9L720.2 684.1L720.6 669.1L721.0 666.5L721.4 677.7L721.8 697.0L722.2 718.6L722.6 740.6L723.0 762.5L723.4 783.9L723.8 804.8L724.2 824.9L724.6 842.5L725.0 854.4L725.4 858.7L725.8 855.7L726.2 845.3L726.6 828.9L727.0 809.3L727.4 788.7L727.8 767.5L728.2 745.9L728.6 724.1L729.0 702.5L729.4 682.7L729.8 669.5L730.2 669.1L730.6 682.0L731.0 702.1L731.4 724.3L731.8 746.7L732.2 769.0L732.6 791.0L733.0 812.5L733.4 833.0L733.8 850.9L734.2 863.0L734.6 868.7L735.0 870.8L735.4 871.8L735.8 872.6L736.2 873.2L736.6 873.5L737.0 873.6L737.4 873.4L737.8 873.1L738.2 872.6L738.6 872.0L739.0 871.6L739.4 871.3L739.8 871.4L740.2 871.9L740.6 872.7L741.0 873.7L741.4 874.8L741.8 875.9L742.2 876.9L742.6 877.7L743.0 878.3L743.4 878.7L743.8 879.0L744.2 879.1L744.6 879.2L745.0 879.2L745.4 879.0L745.8 878.7L746.2 878.3L746.6 877.7L747.0 876.9L747.4 876.1L747.8 875.3L748.2 874.6L748.6 874.0L749.0 873.8L749.4 873.9L749.8 874.2L750.2 874.7L750.6 875.2L751.0 875.7L751.4 876.1L751.8 876.2L752.2 876.2L752.6 876.0L753.0 875.6L753.4 875.0L753.8 874.2L754.2 872.4L754.6 866.9L755.0 855.7L755.4 840.1L755.8 822.8L756.2 804.9L756.6 786.6L757.0 768.0L757.4 749.4L757.8 731.2L758.2 715.1L758.6 706.3L759.0 709.4L759.4 722.4L759.8 739.9L760.2 758.4L760.6 777.1L761.0 795.6L761.4 813.8L761.8 831.5L762.2 848.3L762.6 862.0L763.0 870.4L763.4 874.0L763.8 875.4L764.2 880.2L764.6 880.5L765.0 880.7L765.4 880.9L765.8 881.0L766.2 881.2L766.6 881.4L767.0 881.5L767.4 881.7L767.8 881.8L768.2 882.0L768.6 882.1L769.0 882.2L769.4 882.3L769.8 882.4L770.2 882.5L770.6 882.6L771.0 882.7L771.4 882.8L771.8 882.9L772.2 883.0L772.6 883.0L773.0 883.1L773.4 883.2L773.8 883.2L774.2 883.3L774.6 883.4L775.0 883.4L775.4 883.5L775.8 883.5L776.2 883.6L776.6 883.6L777.0 883.6L777.4 883.7L777.8 883.7L778.2 883.8L778.6 883.8L779.0 883.8L779.4 883.9L779.8 883.9L780.2 883.9L780.6 883.9L781.0 884.0L781.4 884.0L781.8 884.0L782.2 884.0L782.6 884.1L783.0 884.1L783.4 884.1L783.8 884.1L784.2 884.1L784.6 884.1L785.0 884.2L785.4 884.2L785.8 884.2L786.2 884.2L786.6 884.2L787.0 884.2L787.4 884.2L787.8 884.2L788.2 884.3L788.6 884.3L789.0 884.3L789.4 884.3L789.8 884.3L790.2 884.3L790.6 884.3L791.0 884.3L791.4 884.3L791.8 884.3L792.2 884.3L792.6 884.3L793.0 884.3L793.4 884.3L793.8 884.3L794.2 884.3L794.6 884.4L795.0 884.4L795.4 884.4" fill="none" stroke="#dd04fa" stroke-width="2.5" stroke-linejoin="round"/>
<path d="M73.0 884.8L73.4 884.8L73.8 884.8L74.2 884.8L74.6 884.8L75.0 884.8L75.4 884.8L75.8 884.8L76.2 884.8L76.6 884.8L77.0 884.8L77.4 884.8L77.8 884.8L78.2 884.8L78.6 884.8L79.0 884.8L79.4 884.8L79.8 884.8L80.2 884.8L80.6 884.8L81.0 884.8L81.4 884.8L81.8 884.8L82.2 884.8L82.6 884.8L83.0 884.8L83.4 884.8L83.8 884.8L84.2 884.8L84.6 884.8L85.0 884.8L85.4 884.8L85.8 884.8L86.2 884.8L86.6 884.8L87.0 884.8L87.4 884.8L87.8 884.8L88.2 884.8L88.6 884.8L89.0 884.8L89.4 884.8L89.8 884.8L90.2 884.8L90.6 884.8L91.0 884.8L91.4 884.8L91.8 884.8L92.2 884.8L92.6 884.8L93.0 884.8L93.4 884.8L93.8 884.8L94.2 884.7L94.6 884.7L95.0 884.7L95.4 884.7L95.8 884.7L96.2 884.7L96.6 884.7L97.0 884.7L97.4 884.7L97.8 884.7L98.2 884.7L98.6 884.7L99.0 884.7L99.4 884.7L99.8 884.7L100.2 884.7L100.6 884.7L101.0 884.7L101.4 884.6L101.8 884.5L102.2 884.3L102.6 884.0L103.0 883.8L103.4 883.5L103.8 883.3L104.2 883.0L104.6 883.0L105.0 883.1L105.4 883.4L105.8 883.6L106.2 883.9L106.6 884.1L107.0 884.4L107.4 884.5L107.8 884.6L108.2 884.6L108.6 884.6L109.0 884.6L109.4 884.6L109.8 884.6L110.2 884.6L110.6 884.6L111.0 884.5L111.4 884.3L111.8 884.0L112.2 883.7L112.6 883.4L113.0 883.0L113.4 882.7L113.8 882.5L114.2 882.5L114.6 882.8L115.0 883.1L115.4 883.4L115.8 883.8L116.2 884.1L116.6 884.4L117.0 884.5L117.4 884.6L117.8 884.6L118.2 884.6L118.6 884.7L119.0 884.7L119.4 884.7L119.8 884.7L120.2 884.7L120.6 884.7L121.0 884.7L121.4 884.7L121.8 884.7L122.2 884.7L122.6 884.7L123.0 884.7L123.4 884.7L123.8 884.7L124.2 884.7L124.6 884.7L125.0 884.7L125.4 884.7L125.8 884.7L126.2 884.7L126.6 884.7L127.0 884.7L127.4 884.7L127.8 884.7L128.2 884.7L128.6 884.7L129.0 884.7L129.4 884.6L129.8 884.6L130.2 884.6L130.6 884.6L131.0 884.6L131.4 884.6L131.8 884.6L132.2 884.6L132.6 884.6L133.0 884.6L133.4 884.6L133.8 884.6L134.2 884.5L134.6 884.5L135.0 884.5L135.4 884.5L135.8 884.5L136.2 884.5L136.6 884.4L137.0 884.4L137.4 884.4L137.8 884.3L138.2 884.3L138.6 884.2L139.0 884.1L139.4 884.0L139.8 883.9L140.2 883.4L140.6 881.9L141.0 879.6L141.4 877.0L141.8 874.2L142.2 871.4L142.6 868.6L143.0 866.3L143.4 865.9L143.8 867.6L144.2 870.3L144.6 873.2L145.0 876.0L145.4 878.7L145.8 881.2L146.2 883.0L146.6 883.7L147.0 883.9L147.4 884.0L147.8 884.1L148.2 884.1L148.6 884.1L149.0 884.1L149.4 884.0L149.8 883.7L150.2 883.3L150.6 882.7L151.0 882.2L151.4 881.6L151.8 881.0L152.2 880.6L152.6 880.5L153.0 881.0L153.4 881.5L153.8 882.2L154.2 882.7L154.6 883.3L155.0 883.8L155.4 884.2L155.8 884.4L156.2 884.4L156.6 884.4L157.0 884.4L157.4 884.4L157.8 884.5L158.2 884.5L158.6 884.5L159.0 884.5L159.4 884.5L159.8 884.5L160.2 884.5L160.6 884.5L161.0 884.5L161.4 884.5L161.8 884.5L162.2 884.5L162.6 884.5L163.0 884.5L163.4 884.5L163.8 884.5L164.2 884.5L164.6 884.4L165.0 884.4L165.4 884.4L165.8 884.4L166.2 884.4L166.6 884.4L167.0 884.4L167.4 884.4L167.8 884.4L168.2 884.4L168.6 884.3L169.0 884.3L169.4 884.3L169.8 884.3L170.2 884.3L170.6 884.2L171.0 884.2L171.4 884.2L171.8 884.1L172.2 884.1L172.6 884.1L173.0 884.0L173.4 884.0L173.8 883.9L174.2 883.9L174.6 883.8L175.0 883.7L175.4 883.6L175.8 883.5L176.2 883.4L176.6 883.3L177.0 883.1L177.4 882.9L177.8 882.6L178.2 882.3L178.6 881.0L179.0 877.5L179.4 871.5L179.8 864.3L180.2 856.9L180.6 849.1L181.0 841.4L181.4 834.9L181.8 832.7L182.2 836.8L182.6 844.1L183.0 851.7L183.4 859.3L183.8 866.5L184.2 873.4L184.6 878.7L185.0 880.9L185.4 881.3L185.8 881.4L186.2 881.4L186.6 881.3L187.0 881.1L187.4 880.7L187.8 879.0L188.2 873.8L188.6 865.4L189.0 855.7L189.4 845.6L189.8 835.1L190.2 824.8L190.6 816.5L191.0 814.6L191.4 820.9L191.8 831.0L192.2 841.6L192.6 851.9L193.0 861.9L193.4 871.3L193.8 878.3L194.2 881.1L194.6 881.8L195.0 882.1L195.4 882.4L195.8 882.6L196.2 882.8L196.6 883.0L197.0 883.1L197.4 883.2L197.8 883.3L198.2 883.4L198.6 883.4L199.0 883.4L199.4 883.4L199.8 883.4L200.2 883.4L200.6 883.4L201.0 883.5L201.4 883.5L201.8 883.6L202.2 883.6L202.6 883.7L203.0 883.7L203.4 883.8L203.8 883.8L204.2 883.8L204.6 883.8L205.0 883.8L205.4 883.8L205.8 883.8L206.2 883.8L206.6 883.8L207.0 883.8L207.4 883.7L207.8 883.7L208.2 883.7L208.6 883.6L209.0 883.6L209.4 883.6L209.8 883.5L210.2 883.5L210.6 883.4L211.0 883.3L211.4 883.2L211.8 883.2L212.2 883.1L212.6 882.9L213.0 882.8L213.4 882.7L213.8 882.5L214.2 882.3L214.6 882.0L215.0 881.8L215.4 881.4L215.8 881.0L216.2 880.5L216.6 879.7L217.0 876.5L217.4 868.2L217.8 855.6L218.2 841.4L218.6 826.7L219.0 811.6L219.4 796.8L219.8 785.7L220.2 784.7L220.6 794.6L221.0 809.1L221.4 824.1L221.8 838.7L222.2 852.8L222.6 865.6L223.0 874.6L223.4 877.9L223.8 878.6L224.2 878.8L224.6 878.8L225.0 878.7L225.4 878.5L225.8 878.0L226.2 876.9L226.6 871.6L227.0 858.6L227.4 841.5L227.8 823.4L228.2 804.7L228.6 785.6L229.0 767.6L229.4 756.9L229.8 761.8L230.2 777.6L230.6 796.6L231.0 815.6L231.4 834.1L231.8 851.7L232.2 866.8L232.6 875.7L233.0 878.8L233.4 879.7L233.8 880.3L234.2 880.7L234.6 881.1L235.0 881.4L235.4 881.7L235.8 881.9L236.2 882.1L236.6 882.3L237.0 882.4L237.4 882.5L237.8 882.5L238.2 882.5L238.6 882.4L239.0 882.3L239.4 882.2L239.8 882.1L240.2 882.0L240.6 882.0L241.0 882.1L241.4 882.3L241.8 882.5L242.2 882.7L242.6 882.9L243.0 883.0L243.4 883.1L243.8 883.2L244.2 883.2L244.6 883.2L245.0 883.2L245.4 883.1L245.8 883.1L246.2 883.1L246.6 883.0L247.0 883.0L247.4 882.9L247.8 882.9L248.2 882.8L248.6 882.7L249.0 882.7L249.4 882.6L249.8 882.4L250.2 882.3L250.6 882.2L251.0 882.0L251.4 881.9L251.8 881.7L252.2 881.4L252.6 881.2L253.0 880.8L253.4 880.5L253.8 880.0L254.2 879.5L254.6 878.9L255.0 878.1L255.4 876.7L255.8 871.4L256.2 857.4L256.6 837.4L257.0 815.4L257.4 792.5L257.8 769.0L258.2 746.2L258.6 730.1L259.0 730.6L259.4 747.1L259.8 769.7L260.2 792.9L260.6 815.5L261.0 837.2L261.4 856.5L261.8 869.5L262.2 874.1L262.6 875.0L263.0 875.2L263.4 875.1L263.8 874.8L264.2 874.3L264.6 872.8L265.0 865.6L265.4 846.8L265.8 820.9L266.2 792.8L266.6 763.8L267.0 734.0L267.4 705.5L267.8 686.8L268.2 690.7L268.6 713.6L269.0 742.9L269.4 772.7L269.8 801.7L270.2 829.6L270.6 854.0L271.0 869.6L271.4 875.3L271.8 876.9L272.2 877.8L272.6 878.6L273.0 879.2L273.4 879.7L273.8 880.1L274.2 880.5L274.6 880.8L275.0 881.0L275.4 881.0L275.8 880.8L276.2 880.7L276.6 880.5L277.0 880.3L277.4 880.1L277.8 880.0L278.2 880.2L278.6 880.6L279.0 881.0L279.4 881.4L279.8 881.8L280.2 882.2L280.6 882.5L281.0 882.7L281.4 882.8L281.8 882.8L282.2 882.8L282.6 882.9L283.0 882.9L283.4 882.9L283.8 882.8L284.2 882.8L284.6 882.6L285.0 882.5L285.4 882.3L285.8 882.1L286.2 881.9L286.6 881.7L287.0 881.5L287.4 881.5L287.8 881.6L288.2 881.7L288.6 881.8L289.0 881.8L289.4 881.8L289.8 881.8L290.2 881.7L290.6 881.5L291.0 881.3L291.4 881.0L291.8 880.7L292.2 880.3L292.6 879.9L293.0 879.3L293.4 878.6L293.8 877.2L294.2 871.8L294.6 858.5L295.0 841.1L295.4 822.7L295.8 803.7L296.2 784.3L296.6 766.0L297.0 755.0L297.4 759.6L297.8 775.3L298.2 794.2L298.6 813.1L299.0 831.5L299.4 849.0L299.8 863.8L300.2 872.4L300.6 875.2L301.0 875.6L301.4 875.6L301.8 875.4L302.2 875.0L302.6 874.4L303.0 873.4L303.4 871.3L303.8 861.7L304.2 836.9L304.6 804.2L305.0 769.5L305.4 733.6L305.8 697.1L306.2 662.3L306.6 641.1L307.0 649.1L307.4 678.8L307.8 715.0L308.2 751.5L308.6 787.0L309.0 820.9L309.4 850.0L309.8 867.7L310.2 873.9L310.6 875.7L311.0 876.9L311.4 877.7L311.8 878.5L312.2 879.1L312.6 879.6L313.0 880.1L313.4 880.4L313.8 880.6L314.2 880.7L314.6 880.6L315.0 880.4L315.4 880.2L315.8 879.9L316.2 879.7L316.6 879.5L317.0 879.7L317.4 880.1L317.8 880.6L318.2 881.1L318.6 881.6L319.0 882.1L319.4 882.5L319.8 882.8L320.2 882.9L320.6 883.0L321.0 883.1L321.4 883.1L321.8 883.1L322.2 883.2L322.6 883.2L323.0 883.2L323.4 883.2L323.8 883.2L324.2 883.1L324.6 883.1L325.0 883.1L325.4 883.0L325.8 883.0L326.2 883.0L326.6 883.0L327.0 883.0L327.4 883.0L327.8 882.9L328.2 882.9L328.6 882.9L329.0 882.8L329.4 882.7L329.8 882.6L330.2 882.5L330.6 882.3L331.0 882.1L331.4 881.8L331.8 881.5L332.2 880.9L332.6 878.6L333.0 872.8L333.4 864.7L333.8 856.0L334.2 847.0L334.6 837.7L335.0 828.9L335.4 823.0L335.8 824.1L336.2 830.9L336.6 839.8L337.0 848.8L337.4 857.6L337.8 866.0L338.2 873.3L338.6 877.9L339.0 879.4L339.4 879.6L339.8 879.6L340.2 879.4L340.6 879.1L341.0 878.6L341.4 877.9L341.8 875.6L342.2 867.8L342.6 852.2L343.0 832.7L343.4 812.2L343.8 791.1L344.2 769.6L344.6 749.7L345.0 739.9L345.4 749.3L345.8 769.1L346.2 790.5L346.6 811.8L347.0 832.4L347.4 852.0L347.8 867.9L348.2 876.1L348.6 878.7L349.0 879.6L349.4 880.2L349.8 880.7L350.2 881.1L350.6 881.4L351.0 881.7L351.4 881.9L351.8 882.0L352.2 881.9L352.6 881.4L353.0 880.8L353.4 880.2L353.8 879.5L354.2 878.8L354.6 878.2L355.0 878.1L355.4 878.6L355.8 879.4L356.2 880.3L356.6 881.1L357.0 881.9L357.4 882.7L357.8 883.3L358.2 883.6L358.6 883.7L359.0 883.7L359.4 883.8L359.8 883.8L360.2 883.9L360.6 883.9L361.0 883.9L361.4 884.0L361.8 884.0L362.2 884.0L362.6 884.0L363.0 884.0L363.4 884.1L363.8 884.1L364.2 884.1L364.6 884.1L365.0 884.1L365.4 884.1L365.8 884.1L366.2 884.1L366.6 884.0L367.0 884.0L367.4 884.0L367.8 884.0L368.2 883.9L368.6 883.9L369.0 883.8L369.4 883.8L369.8 883.7L370.2 883.5L370.6 883.0L371.0 881.5L371.4 879.0L371.8 876.0L372.2 873.0L372.6 869.8L373.0 866.7L373.4 864.1L373.8 863.4L374.2 865.3L374.6 868.3L375.0 871.4L375.4 874.5L375.8 877.6L376.2 880.4L376.6 882.5L377.0 883.4L377.4 883.6L377.8 883.6L378.2 883.7L378.6 883.7L379.0 883.7L379.4 883.7L379.8 883.7L380.2 883.4L380.6 882.4L381.0 880.8L381.4 879.0L381.8 877.0L382.2 875.0L382.6 872.9L383.0 871.3L383.4 870.8L383.8 871.9L384.2 873.9L384.6 876.0L385.0 878.0L385.4 880.0L385.8 881.9L386.2 883.3L386.6 883.9L387.0 884.0L387.4 884.1L387.8 884.2L388.2 884.2L388.6 884.3L389.0 884.3L389.4 884.3L389.8 884.4L390.2 884.4L390.6 884.4L391.0 884.4L391.4 884.4L391.8 884.4L392.2 884.5L392.6 884.5L393.0 884.5L393.4 884.5L393.8 884.5L394.2 884.5L394.6 884.5L395.0 884.5L395.4 884.5L395.8 884.5L396.2 884.5L396.6 884.5L397.0 884.5L397.4 884.5L397.8 884.5L398.2 884.5L398.6 884.5L399.0 884.5L399.4 884.5L399.8 884.5L400.2 884.5L400.6 884.5L401.0 884.5L401.4 884.5L401.8 884.5L402.2 884.5L402.6 884.5L403.0 884.5L403.4 884.5L403.8 884.5L404.2 884.5L404.6 884.4L405.0 884.4L405.4 884.4L405.8 884.4L406.2 884.3L406.6 884.3L407.0 884.3L407.4 884.2L407.8 884.2L408.2 884.1L408.6 884.0L409.0 883.9L409.4 883.6L409.8 882.6L410.2 880.6L410.6 878.0L411.0 875.4L411.4 872.6L411.8 869.9L412.2 867.3L412.6 866.0L413.0 867.2L413.4 869.7L413.8 872.5L414.2 875.2L414.6 877.8L415.0 880.4L415.4 882.4L415.8 883.4L416.2 883.7L416.6 883.8L417.0 883.9L417.4 883.9L417.8 883.9L418.2 883.9L418.6 883.8L419.0 883.2L419.4 881.9L419.8 880.0L420.2 878.1L420.6 876.0L421.0 874.0L421.4 872.0L421.8 870.7L422.2 871.2L422.6 872.8L423.0 874.9L423.4 877.0L423.8 879.0L424.2 881.0L424.6 882.6L425.0 883.7L425.4 884.1L425.8 884.2L426.2 884.2L426.6 884.3L427.0 884.3L427.4 884.4L427.8 884.4L428.2 884.4L428.6 884.5L429.0 884.5L429.4 884.5L429.8 884.5L430.2 884.5L430.6 884.6L431.0 884.6L431.4 884.6L431.8 884.6L432.2 884.6L432.6 884.6L433.0 884.6L433.4 884.6L433.8 884.6L434.2 884.6L434.6 884.6L435.0 884.6L435.4 884.6L435.8 884.6L436.2 884.6L436.6 884.6L437.0 884.6L437.4 884.6L437.8 884.7L438.2 884.7L438.6 884.7L439.0 884.7L439.4 884.7L439.8 884.6L440.2 884.6L440.6 884.6L441.0 884.6L441.4 884.6L441.8 884.6L442.2 884.6L442.6 884.6L443.0 884.6L443.4 884.6L443.8 884.6L444.2 884.6L444.6 884.6L445.0 884.6L445.4 884.5L445.8 884.5L446.2 884.5L446.6 884.5L447.0 884.4L447.4 884.4L447.8 884.3L448.2 883.9L448.6 882.9L449.0 881.7L449.4 880.4L449.8 879.0L450.2 877.7L450.6 876.4L451.0 875.6L451.4 876.1L451.8 877.2L452.2 878.6L452.6 879.9L453.0 881.2L453.4 882.5L453.8 883.6L454.2 884.1L454.6 884.3L455.0 884.4L455.4 884.4L455.8 884.5L456.2 884.5L456.6 884.5L457.0 884.5L457.4 884.5L457.8 884.3L458.2 884.1L458.6 883.9L459.0 883.6L459.4 883.4L459.8 883.1L460.2 883.0L460.6 883.0L461.0 883.2L461.4 883.4L461.8 883.7L462.2 884.0L462.6 884.2L463.0 884.4L463.4 884.6L463.8 884.6L464.2 884.7L464.6 884.7L465.0 884.7L465.4 884.7L465.8 884.7L466.2 884.7L466.6 884.7L467.0 884.7L467.4 884.7L467.8 884.7L468.2 884.7L468.6 884.7L469.0 884.7L469.4 884.7L469.8 884.7L470.2 884.7L470.6 884.7L471.0 884.7L471.4 884.7L471.8 884.7L472.2 884.7L472.6 884.7L473.0 884.7L473.4 884.7L473.8 884.7L474.2 884.7L474.6 884.7L475.0 884.7L475.4 884.7L475.8 884.7L476.2 884.7L476.6 884.7L477.0 884.7L477.4 884.7L477.8 884.7L478.2 884.7L478.6 884.7L479.0 884.7L479.4 884.7L479.8 884.7L480.2 884.7L480.6 884.7L481.0 884.7L481.4 884.7L481.8 884.7L482.2 884.7L482.6 884.7L483.0 884.7L483.4 884.7L483.8 884.7L484.2 884.7L484.6 884.7L485.0 884.7L485.4 884.7L485.8 884.7L486.2 884.7L486.6 884.6L487.0 884.3L487.4 884.0L487.8 883.7L488.2 883.4L488.6 883.0L489.0 882.7L489.4 882.5L489.8 882.5L490.2 882.8L490.6 883.2L491.0 883.5L491.4 883.8L491.8 884.2L492.2 884.4L492.6 884.6L493.0 884.7L493.4 884.7L493.8 884.7L494.2 884.7L494.6 884.7L495.0 884.7L495.4 884.7L495.8 884.7L496.2 884.7L496.6 884.7L497.0 884.8L497.4 884.8L497.8 884.8L498.2 884.8L498.6 884.8L499.0 884.8L499.4 884.8L499.8 884.8L500.2 884.8L500.6 884.8L501.0 884.8L501.4 884.8L501.8 884.8L502.2 884.8L502.6 884.8L503.0 884.8L503.4 884.8L503.8 884.8L504.2 884.8L504.6 884.8L505.0 884.8L505.4 884.8L505.8 884.8L506.2 884.8L506.6 884.8L507.0 884.8L507.4 884.8L507.8 884.8L508.2 884.8L508.6 884.8L509.0 884.8L509.4 884.8L509.8 884.8L510.2 884.8L510.6 884.8L511.0 884.8L511.4 884.8L511.8 884.8L512.2 884.8L512.6 884.8L513.0 884.8L513.4 884.8L513.8 884.8L514.2 884.8L514.6 884.8L515.0 884.8L515.4 884.8L515.8 884.8L516.2 884.8L516.6 884.8L517.0 884.8L517.4 884.8L517.8 884.8L518.2 884.8L518.6 884.8L519.0 884.8L519.4 884.8L519.8 884.8L520.2 884.8L520.6 884.8L521.0 884.8L521.4 884.8L521.8 884.8L522.2 884.8L522.6 884.8L523.0 884.8L523.4 884.8L523.8 884.8L524.2 884.8L524.6 884.8L525.0 884.8L525.4 884.8L525.8 884.8L526.2 884.8L526.6 884.8L527.0 884.8L527.4 884.8L527.8 884.8L528.2 884.8L528.6 884.8L529.0 884.8L529.4 884.8L529.8 884.8L530.2 884.8L530.6 884.8L531.0 884.8L531.4 884.8L531.8 884.8L532.2 884.8L532.6 884.8L533.0 884.8L533.4 884.8L533.8 884.8L534.2 884.8L534.6 884.8L535.0 884.8L535.4 884.8L535.8 884.8L536.2 884.8L536.6 884.8L537.0 884.8L537.4 884.8L537.8 884.8L538.2 884.8L538.6 884.8L539.0 884.8L539.4 884.8L539.8 884.8L540.2 884.8L540.6 884.8L541.0 884.8L541.4 884.8L541.8 884.8L542.2 884.8L542.6 884.8" fill="none" stroke="#dc0000" stroke-width="2.4" stroke-linejoin="round"/>
<rect x="73.0" y="619.6" width="722.6" height="265.79999999999995" fill="none" stroke="#2a2a2a" stroke-width="1.9"/>
<path d="M124.5 885.4v-10M124.5 619.6v8M277.1 885.4v-10M277.1 619.6v8M429.7 885.4v-10M429.7 619.6v8M582.3 885.4v-10M582.3 619.6v8M734.9 885.4v-10M734.9 619.6v8M73.0 836.9h10M795.6 836.9h-10M73.0 788.5h10M795.6 788.5h-10M73.0 740.0h10M795.6 740.0h-10M73.0 691.6h10M795.6 691.6h-10M73.0 643.1h10M795.6 643.1h-10" stroke="#2a2a2a" stroke-width="1.6" fill="none"/>
<text x="121.0" y="914.0" font-size="32" fill="#222" text-anchor="middle" font-family='"Liberation Serif", serif' >30</text>
<text x="273.6" y="914.0" font-size="32" fill="#222" text-anchor="middle" font-family='"Liberation Serif", serif' >40</text>
<text x="426.2" y="914.0" font-size="32" fill="#222" text-anchor="middle" font-family='"Liberation Serif", serif' >50</text>
<text x="578.8" y="914.0" font-size="32" fill="#222" text-anchor="middle" font-family='"Liberation Serif", serif' >60</text>
<text x="731.4" y="914.0" font-size="32" fill="#222" text-anchor="middle" font-family='"Liberation Serif", serif' >70</text>
<text x="56.0" y="889.7" font-size="32" fill="#222" text-anchor="end" font-family='"Liberation Serif", serif' >0</text>
<text x="56.0" y="847.2" font-size="32" fill="#222" text-anchor="end" font-family='"Liberation Serif", serif' >1</text>
<text x="56.0" y="798.8" font-size="32" fill="#222" text-anchor="end" font-family='"Liberation Serif", serif' >2</text>
<text x="56.0" y="750.3" font-size="32" fill="#222" text-anchor="end" font-family='"Liberation Serif", serif' >3</text>
<text x="56.0" y="701.9" font-size="32" fill="#222" text-anchor="end" font-family='"Liberation Serif", serif' >4</text>
<text x="56.0" y="653.4" font-size="32" fill="#222" text-anchor="end" font-family='"Liberation Serif", serif' >5</text>
<text x="423.0" y="937.0" font-size="32.7" fill="#222" text-anchor="middle" font-family='"Liberation Serif", serif' >Photon Energy (eV)</text>
<text transform="translate(24.9 750) rotate(-90)" font-size="33" fill="#222" text-anchor="middle" font-family='"Liberation Serif", serif'>EUV Intensity (arb.u.)</text>
<g fill="none" stroke="#707070" stroke-width="1"><circle cx="105.0" cy="738.5" r="4.2"/><circle cx="114.4" cy="738.5" r="4.2"/><circle cx="143.4" cy="738.5" r="4.2"/><circle cx="152.9" cy="738.5" r="4.2"/><circle cx="181.9" cy="738.5" r="4.2"/><circle cx="191.3" cy="738.5" r="4.2"/><circle cx="220.3" cy="738.5" r="4.2"/><circle cx="229.8" cy="738.5" r="4.2"/><circle cx="258.8" cy="738.5" r="4.2"/><circle cx="268.2" cy="738.5" r="4.2"/><circle cx="297.2" cy="738.5" r="4.2"/><circle cx="306.7" cy="738.5" r="4.2"/><circle cx="335.7" cy="738.5" r="4.2"/><circle cx="345.2" cy="738.5" r="4.2"/><circle cx="374.2" cy="738.5" r="4.2"/><circle cx="383.6" cy="738.5" r="4.2"/><circle cx="412.6" cy="738.5" r="4.2"/><circle cx="422.1" cy="738.5" r="4.2"/><circle cx="451.1" cy="738.5" r="4.2"/><circle cx="460.5" cy="738.5" r="4.2"/><circle cx="489.5" cy="738.5" r="4.2"/><circle cx="499.0" cy="738.5" r="4.2"/><circle cx="528.0" cy="738.5" r="4.2"/><circle cx="537.4" cy="738.5" r="4.2"/><circle cx="566.4" cy="738.5" r="4.2"/><circle cx="575.9" cy="738.5" r="4.2"/><circle cx="604.9" cy="738.5" r="4.2"/><circle cx="614.3" cy="738.5" r="4.2"/><circle cx="643.3" cy="738.5" r="4.2"/><circle cx="652.8" cy="738.5" r="4.2"/><circle cx="681.8" cy="738.5" r="4.2"/><circle cx="691.3" cy="738.5" r="4.2"/><circle cx="720.3" cy="738.5" r="4.2"/><circle cx="729.7" cy="738.5" r="4.2"/><circle cx="758.7" cy="738.5" r="4.2"/><circle cx="768.2" cy="738.5" r="4.2"/></g>
<use href="#ag" x="334.2" y="646.5"/>
<use href="#ag" x="373.6" y="646.5"/>
<use href="#ag" x="413.0" y="646.5"/>
<use href="#ag" x="452.4" y="646.5"/>
<use href="#ag" x="491.8" y="646.5"/>
<use href="#ag" x="531.2" y="646.5"/>
<text x="108.0" y="665.5" font-size="40.5" fill="#000" text-anchor="start" font-family='"Liberation Serif", serif' font-weight="bold">A</text>
<text x="84.3" y="720.7" font-size="36.2" fill="#d80000" text-anchor="start" font-family='"Liberation Serif", serif' >Ar 100 Torr</text>
<text x="617.6" y="658.7" font-size="36.3" fill="#dd04fa" text-anchor="start" font-family='"Liberation Serif", serif' >He 510 Torr</text>
<path d="M799.6 883.8L800.0 883.8L800.4 883.8L800.8 883.8L801.2 883.8L801.6 883.8L802.0 883.8L802.4 883.8L802.8 883.8L803.2 883.8L803.6 883.8L804.0 883.8L804.4 883.8L804.8 883.8L805.2 883.8L805.6 883.8L806.0 883.8L806.4 883.8L806.8 883.8L807.2 883.8L807.6 883.8L808.0 883.8L808.4 883.8L808.8 883.8L809.2 883.8L809.6 883.8L810.0 883.8L810.4 883.8L810.8 883.8L811.2 883.8L811.6 883.8L812.0 883.8L812.4 883.8L812.8 883.8L813.2 883.8L813.6 883.8L814.0 883.8L814.4 883.8L814.8 883.8L815.2 883.8L815.6 883.8L816.0 883.8L816.4 883.8L816.8 883.8L817.2 883.8L817.6 883.8L818.0 883.8L818.4 883.7L818.8 883.7L819.2 883.7L819.6 883.7L820.0 883.7L820.4 883.7L820.8 883.7L821.2 883.6L821.6 883.6L822.0 883.6L822.4 883.6L822.8 883.6L823.2 883.5L823.6 883.5L824.0 883.5L824.4 883.5L824.8 883.4L825.2 883.4L825.6 883.3L826.0 883.2L826.4 883.0L826.8 882.7L827.2 882.4L827.6 882.0L828.0 881.6L828.4 881.3L828.8 880.9L829.2 880.5L829.6 880.1L830.0 879.7L830.4 879.4L830.8 879.2L831.2 879.1L831.6 879.2L832.0 879.5L832.4 879.9L832.8 880.2L833.2 880.6L833.6 880.9L834.0 881.2L834.4 881.6L834.8 881.9L835.2 882.2L835.6 882.5L836.0 882.7L836.4 882.8L836.8 882.8L837.2 882.7L837.6 882.5L838.0 882.1L838.4 881.7L838.8 881.3L839.2 880.9L839.6 880.4L840.0 880.0L840.4 879.5L840.8 879.0L841.2 878.6L841.6 878.2L842.0 877.9L842.4 877.8L842.8 878.0L843.2 878.3L843.6 878.7L844.0 879.2L844.4 879.6L844.8 880.1L845.2 880.5L845.6 880.9L846.0 881.3L846.4 881.7L846.8 882.1L847.2 882.3L847.6 882.4L848.0 882.4L848.4 882.4L848.8 882.2L849.2 882.1L849.6 882.0L850.0 881.8L850.4 881.6L850.8 881.5L851.2 881.4L851.6 881.3L852.0 881.3L852.4 881.3L852.8 881.4L853.2 881.5L853.6 881.7L854.0 881.9L854.4 882.1L854.8 882.3L855.2 882.5L855.6 882.6L856.0 882.8L856.4 882.9L856.8 883.0L857.2 883.1L857.6 883.2L858.0 883.2L858.4 883.2L858.8 883.3L859.2 883.3L859.6 883.3L860.0 883.3L860.4 883.3L860.8 883.3L861.2 883.3L861.6 883.3L862.0 883.3L862.4 883.3L862.8 883.2L863.2 883.2L863.6 883.1L864.0 883.1L864.4 883.0L864.8 883.0L865.2 882.9L865.6 882.7L866.0 882.6L866.4 882.4L866.8 882.2L867.2 882.0L867.6 881.7L868.0 881.4L868.4 881.1L868.8 880.8L869.2 880.5L869.6 880.3L870.0 880.1L870.4 880.0L870.8 879.9L871.2 879.9L871.6 880.0L872.0 880.1L872.4 880.3L872.8 880.4L873.2 880.6L873.6 880.7L874.0 880.7L874.4 880.7L874.8 880.6L875.2 880.0L875.6 879.0L876.0 877.6L876.4 875.9L876.8 874.1L877.2 872.3L877.6 870.4L878.0 868.5L878.4 866.6L878.8 864.7L879.2 862.8L879.6 861.2L880.0 860.1L880.4 860.0L880.8 860.8L881.2 862.3L881.6 864.0L882.0 865.8L882.4 867.6L882.8 869.5L883.2 871.2L883.6 873.0L884.0 874.7L884.4 876.3L884.8 877.8L885.2 878.8L885.6 879.3L886.0 879.2L886.4 878.5L886.8 877.4L887.2 876.0L887.6 874.4L888.0 872.8L888.4 871.1L888.8 869.4L889.2 867.7L889.6 866.0L890.0 864.2L890.4 862.6L890.8 861.3L891.2 860.8L891.6 861.2L892.0 862.4L892.4 864.0L892.8 865.7L893.2 867.5L893.6 869.2L894.0 870.9L894.4 872.6L894.8 874.2L895.2 875.8L895.6 877.2L896.0 878.3L896.4 878.9L896.8 879.1L897.2 879.0L897.6 878.8L898.0 878.5L898.4 878.1L898.8 877.7L899.2 877.3L899.6 877.0L900.0 876.8L900.4 876.6L900.8 876.6L901.2 876.8L901.6 877.1L902.0 877.5L902.4 878.0L902.8 878.5L903.2 879.0L903.6 879.6L904.0 880.1L904.4 880.5L904.8 880.9L905.2 881.2L905.6 881.4L906.0 881.6L906.4 881.8L906.8 881.9L907.2 882.0L907.6 882.1L908.0 882.2L908.4 882.2L908.8 882.2L909.2 882.2L909.6 882.2L910.0 882.2L910.4 882.2L910.8 882.1L911.2 882.1L911.6 882.0L912.0 881.9L912.4 881.7L912.8 881.6L913.2 881.4L913.6 881.2L914.0 880.9L914.4 880.6L914.8 880.2L915.2 879.8L915.6 879.2L916.0 878.6L916.4 877.9L916.8 877.1L917.2 876.4L917.6 875.7L918.0 875.0L918.4 874.5L918.8 874.1L919.2 873.8L919.6 873.8L920.0 873.9L920.4 874.1L920.8 874.4L921.2 874.7L921.6 875.1L922.0 875.3L922.4 875.5L922.8 875.5L923.2 875.1L923.6 873.7L924.0 871.0L924.4 867.1L924.8 862.6L925.2 857.8L925.6 852.9L926.0 847.8L926.4 842.7L926.8 837.5L927.2 832.4L927.6 827.4L928.0 823.1L928.4 820.2L928.8 819.9L929.2 822.2L929.6 826.2L930.0 831.0L930.4 835.9L930.8 840.9L931.2 845.9L931.6 850.8L932.0 855.6L932.4 860.2L932.8 864.7L933.2 868.6L933.6 871.5L934.0 872.8L934.4 872.6L934.8 871.1L935.2 868.5L935.6 865.1L936.0 861.4L936.4 857.5L936.8 853.5L937.2 849.5L937.6 845.4L938.0 841.3L938.4 837.2L938.8 833.4L939.2 830.4L939.6 829.1L940.0 830.2L940.4 833.2L940.8 837.0L941.2 841.1L941.6 845.3L942.0 849.4L942.4 853.6L942.8 857.6L943.2 861.5L943.6 865.3L944.0 868.7L944.4 871.5L944.8 873.1L945.2 873.7L945.6 873.7L946.0 873.4L946.4 872.9L946.8 872.4L947.2 871.8L947.6 871.3L948.0 870.9L948.4 870.6L948.8 870.5L949.2 870.6L949.6 870.9L950.0 871.5L950.4 872.2L950.8 873.0L951.2 873.8L951.6 874.7L952.0 875.5L952.4 876.3L952.8 876.9L953.2 877.5L953.6 877.9L954.0 878.3L954.4 878.6L954.8 878.8L955.2 879.0L955.6 879.1L956.0 879.2L956.4 879.3L956.8 879.4L957.2 879.4L957.6 879.4L958.0 879.4L958.4 879.3L958.8 879.3L959.2 879.2L959.6 879.1L960.0 879.0L960.4 878.8L960.8 878.6L961.2 878.4L961.6 878.2L962.0 877.8L962.4 877.4L962.8 876.9L963.2 876.3L963.6 875.6L964.0 874.8L964.4 873.9L964.8 872.8L965.2 871.8L965.6 870.7L966.0 869.6L966.4 868.7L966.8 868.0L967.2 867.5L967.6 867.3L968.0 867.2L968.4 867.4L968.8 867.7L969.2 868.1L969.6 868.5L970.0 868.9L970.4 869.2L970.8 869.2L971.2 868.7L971.6 866.9L972.0 862.9L972.4 856.7L972.8 849.0L973.2 840.7L973.6 832.2L974.0 823.4L974.4 814.5L974.8 805.5L975.2 796.4L975.6 787.6L976.0 779.4L976.4 773.1L976.8 770.9L977.2 773.7L977.6 780.2L978.0 788.4L978.4 797.1L978.8 805.9L979.2 814.7L979.6 823.3L980.0 831.8L980.4 840.1L980.8 848.1L981.2 855.4L981.6 861.1L982.0 864.5L982.4 865.6L982.8 864.8L983.2 862.1L983.6 857.5L984.0 851.6L984.4 845.2L984.8 838.6L985.2 831.8L985.6 824.8L986.0 817.8L986.4 810.7L986.8 803.7L987.2 797.2L987.6 792.0L988.0 789.9L988.4 791.9L988.8 797.0L989.2 803.7L989.6 810.8L990.0 818.0L990.4 825.1L990.8 832.2L991.2 839.2L991.6 845.9L992.0 852.4L992.4 858.4L992.8 863.0L993.2 865.8L993.6 866.9L994.0 866.9L994.4 866.4L994.8 865.8L995.2 865.1L995.6 864.4L996.0 863.8L996.4 863.3L996.8 863.2L997.2 863.3L997.6 863.7L998.0 864.4L998.4 865.4L998.8 866.5L999.2 867.7L999.6 869.0L1000.0 870.2L1000.4 871.3L1000.8 872.3L1001.2 873.1L1001.6 873.8L1002.0 874.4L1002.4 874.9L1002.8 875.2L1003.2 875.5L1003.6 875.7L1004.0 875.9L1004.4 876.0L1004.8 876.1L1005.2 876.2L1005.6 876.2L1006.0 876.2L1006.4 876.2L1006.8 876.1L1007.2 876.1L1007.6 875.9L1008.0 875.8L1008.4 875.5L1008.8 875.3L1009.2 875.0L1009.6 874.6L1010.0 874.1L1010.4 873.6L1010.8 872.9L1011.2 872.0L1011.6 871.0L1012.0 869.8L1012.4 868.5L1012.8 867.0L1013.2 865.4L1013.6 863.7L1014.0 862.1L1014.4 860.7L1014.8 859.5L1015.2 858.6L1015.6 858.1L1016.0 857.9L1016.4 858.1L1016.8 858.4L1017.2 859.0L1017.6 859.6L1018.0 860.1L1018.4 860.5L1018.8 860.5L1019.2 859.5L1019.6 855.9L1020.0 848.9L1020.4 838.9L1020.8 827.2L1021.2 814.8L1021.6 802.0L1022.0 788.9L1022.4 775.7L1022.8 762.3L1023.2 749.0L1023.6 736.1L1024.0 724.8L1024.4 717.4L1024.8 716.6L1025.2 722.7L1025.6 733.3L1026.0 745.7L1026.4 758.6L1026.8 771.7L1027.2 784.6L1027.6 797.4L1028.0 809.9L1028.4 822.1L1028.8 833.7L1029.2 844.1L1029.6 851.6L1030.0 855.4L1030.4 856.1L1030.8 854.0L1031.2 849.2L1031.6 842.0L1032.0 833.4L1032.4 824.2L1032.8 814.8L1033.2 805.1L1033.6 795.2L1034.0 785.2L1034.4 775.3L1034.8 765.6L1035.2 756.9L1035.6 750.9L1036.0 749.8L1036.4 754.2L1036.8 762.3L1037.2 771.9L1037.6 782.0L1038.0 792.2L1038.4 802.3L1038.8 812.3L1039.2 822.0L1039.6 831.4L1040.0 840.4L1040.4 848.3L1040.8 854.0L1041.2 856.9L1041.6 857.5L1042.0 857.1L1042.4 856.2L1042.8 855.2L1043.2 854.3L1043.6 853.4L1044.0 852.8L1044.4 852.6L1044.8 852.7L1045.2 853.3L1045.6 854.4L1046.0 855.7L1046.4 857.4L1046.8 859.1L1047.2 860.9L1047.6 862.7L1048.0 864.3L1048.4 865.7L1048.8 866.9L1049.2 868.0L1049.6 868.8L1050.0 869.4L1050.4 869.9L1050.8 870.4L1051.2 870.7L1051.6 870.9L1052.0 871.1L1052.4 871.2L1052.8 871.3L1053.2 871.4L1053.6 871.4L1054.0 871.3L1054.4 871.3L1054.8 871.2L1055.2 871.0L1055.6 870.8L1056.0 870.6L1056.4 870.3L1056.8 869.9L1057.2 869.4L1057.6 868.9L1058.0 868.1L1058.4 867.2L1058.8 866.1L1059.2 864.8L1059.6 863.3L1060.0 861.5L1060.4 859.5L1060.8 857.3L1061.2 855.2L1061.6 853.0L1062.0 851.1L1062.4 849.6L1062.8 848.4L1063.2 847.7L1063.6 847.5L1064.0 847.7L1064.4 848.2L1064.8 848.9L1065.2 849.7L1065.6 850.5L1066.0 850.9L1066.4 850.2L1066.8 847.1L1067.2 839.6L1067.6 827.6L1068.0 812.6L1068.4 796.2L1068.8 779.2L1069.2 761.8L1069.6 744.1L1070.0 726.2L1070.4 708.2L1070.8 690.5L1071.2 674.0L1071.6 661.3L1072.0 656.5L1072.4 662.0L1072.8 675.0L1073.2 691.4L1073.6 708.8L1074.0 726.4L1074.4 744.0L1074.8 761.4L1075.2 778.4L1075.6 795.1L1076.0 811.2L1076.4 825.9L1076.8 837.5L1077.2 844.3L1077.6 846.1L1078.0 843.1L1078.4 835.8L1078.8 825.5L1079.2 813.7L1079.6 801.4L1080.0 788.8L1080.4 775.8L1080.8 762.7L1081.2 749.4L1081.6 736.2L1082.0 723.5L1082.4 712.8L1082.8 706.6L1083.2 707.5L1083.6 715.2L1084.0 726.8L1084.4 740.0L1084.8 753.6L1085.2 767.3L1085.6 780.9L1086.0 794.2L1086.4 807.2L1086.8 819.9L1087.2 831.8L1087.6 842.0L1088.0 849.0L1088.4 852.3L1088.8 853.1L1089.2 852.7L1089.6 851.8L1090.0 850.7L1090.4 849.5L1090.8 848.2L1091.2 847.2L1091.6 846.4L1092.0 846.1L1092.4 846.4L1092.8 847.2L1093.2 848.5L1093.6 850.2L1094.0 852.3L1094.4 854.6L1094.8 856.9L1095.2 859.2L1095.6 861.2L1096.0 863.1L1096.4 864.7L1096.8 866.0L1097.2 867.1L1097.6 868.0L1098.0 868.7L1098.4 869.2L1098.8 869.7L1099.2 870.0L1099.6 870.3L1100.0 870.5L1100.4 870.7L1100.8 870.8L1101.2 870.8L1101.6 870.8L1102.0 870.8L1102.4 870.7L1102.8 870.5L1103.2 870.3L1103.6 870.0L1104.0 869.6L1104.4 869.2L1104.8 868.6L1105.2 868.0L1105.6 867.1L1106.0 866.1L1106.4 864.8L1106.8 863.2L1107.2 861.4L1107.6 859.3L1108.0 857.0L1108.4 854.5L1108.8 852.0L1109.2 849.5L1109.6 847.3L1110.0 845.5L1110.4 844.2L1110.8 843.4L1111.2 843.2L1111.6 843.6L1112.0 844.3L1112.4 845.3L1112.8 846.5L1113.2 847.5L1113.6 848.4L1114.0 848.9L1114.4 848.6L1114.8 846.2L1115.2 839.4L1115.6 827.2L1116.0 811.0L1116.4 792.8L1116.8 773.9L1117.2 754.6L1117.6 734.9L1118.0 714.9L1118.4 694.8L1118.8 674.9L1119.2 655.9L1119.6 640.2L1120.0 631.8L1120.4 634.2L1120.8 646.1L1121.2 663.1L1121.6 682.1L1122.0 701.6L1122.4 721.1L1122.8 740.3L1123.2 759.2L1123.6 777.4L1124.0 794.4L1124.4 808.2L1124.8 815.9L1125.2 815.6L1125.6 808.5L1126.0 797.4L1126.4 784.8L1126.8 771.5L1127.2 757.9L1127.6 744.1L1128.0 730.2L1128.4 716.5L1128.8 704.1L1129.2 695.2L1129.6 693.0L1130.0 698.7L1130.4 710.0L1130.8 723.8L1131.2 738.4L1131.6 753.0L1132.0 767.6L1132.4 781.9L1132.8 796.0L1133.2 809.6L1133.6 822.7L1134.0 834.4L1134.4 843.2L1134.8 848.0L1135.2 849.5L1135.6 849.3L1136.0 848.4L1136.4 847.3L1136.8 846.1L1137.2 845.0L1137.6 844.2L1138.0 843.7L1138.4 843.8L1138.8 844.4L1139.2 845.6L1139.6 847.3L1140.0 849.4L1140.4 851.7L1140.8 854.1L1141.2 856.5L1141.6 858.8L1142.0 860.8L1142.4 862.6L1142.8 864.1L1143.2 865.4L1143.6 866.4L1144.0 867.2L1144.4 867.8L1144.8 868.3L1145.2 868.7L1145.6 869.1L1146.0 869.3L1146.4 869.5L1146.8 869.6L1147.2 869.7L1147.6 869.7L1148.0 869.7L1148.4 869.6L1148.8 869.5L1149.2 869.3L1149.6 869.0L1150.0 868.7L1150.4 868.3L1150.8 867.8L1151.2 867.1L1151.6 866.4L1152.0 865.4L1152.4 864.3L1152.8 862.9L1153.2 861.2L1153.6 859.3L1154.0 857.1L1154.4 854.7L1154.8 852.3L1155.2 849.8L1155.6 847.6L1156.0 845.6L1156.4 844.1L1156.8 843.1L1157.2 842.6L1157.6 842.7L1158.0 843.1L1158.4 843.9L1158.8 844.9L1159.2 845.8L1159.6 846.6L1160.0 846.8L1160.4 845.6L1160.8 840.8L1161.2 830.8L1161.6 815.9L1162.0 798.2L1162.4 779.1L1162.8 759.5L1163.2 739.4L1163.6 719.0L1164.0 698.3L1164.4 677.7L1164.8 657.7L1165.2 639.7L1165.6 627.3L1166.0 624.6L1166.4 633.0L1166.8 649.0L1167.2 668.1L1167.6 688.2L1168.0 708.5L1168.4 728.7L1168.8 748.6L1169.2 768.1L1169.6 787.2L1170.0 805.5L1170.4 822.0L1170.8 834.3L1171.2 841.0L1171.6 842.5L1172.0 839.8L1172.4 832.8L1172.8 821.7L1173.2 808.2L1173.6 793.6L1174.0 778.5L1174.4 763.1L1174.8 747.4L1175.2 731.5L1175.6 715.5L1176.0 699.9L1176.4 685.7L1176.8 675.4L1177.2 672.5L1177.6 678.7L1178.0 691.3L1178.4 706.7L1178.8 723.0L1179.2 739.4L1179.6 755.8L1180.0 772.0L1180.4 787.9L1180.8 803.5L1181.2 818.6L1181.6 832.2L1182.0 842.8L1182.4 849.1L1182.8 851.8L1183.2 852.6L1183.6 852.7L1184.0 852.3L1184.4 851.5L1184.8 850.6L1185.2 849.4L1185.6 848.2L1186.0 847.1L1186.4 846.2L1186.8 845.7L1187.2 845.6L1187.6 846.1L1188.0 847.1L1188.4 848.6L1188.8 850.5L1189.2 852.7L1189.6 854.9L1190.0 857.2L1190.4 859.3L1190.8 861.2L1191.2 862.9L1191.6 864.2L1192.0 865.3L1192.4 866.2L1192.8 866.8L1193.2 867.3L1193.6 867.6L1194.0 867.8L1194.4 867.9L1194.8 867.9L1195.2 867.8L1195.6 867.6L1196.0 867.4L1196.4 867.0L1196.8 866.5L1197.2 865.8L1197.6 865.0L1198.0 863.9L1198.4 862.5L1198.8 860.9L1199.2 859.1L1199.6 857.1L1200.0 854.9L1200.4 852.8L1200.8 850.7L1201.2 849.0L1201.6 847.5L1202.0 846.6L1202.4 846.1L1202.8 846.1L1203.2 846.6L1203.6 847.3L1204.0 848.3L1204.4 849.3L1204.8 850.3L1205.2 851.1L1205.6 851.6L1206.0 851.8L1206.4 851.6L1206.8 850.6L1207.2 847.3L1207.6 840.1L1208.0 828.3L1208.4 813.4L1208.8 797.0L1209.2 780.0L1209.6 762.7L1210.0 745.1L1210.4 727.3L1210.8 709.5L1211.2 691.8L1211.6 675.2L1212.0 661.8L1212.4 655.6L1212.8 659.4L1213.2 671.1L1213.6 686.8L1214.0 703.7L1214.4 721.0L1214.8 738.3L1215.2 755.3L1215.6 772.0L1216.0 788.3L1216.4 804.0L1216.8 818.3L1217.2 828.7L1217.6 832.1L1218.0 827.3L1218.4 816.6L1218.8 803.0L1219.2 788.5L1219.6 773.4L1220.0 758.0L1220.4 742.3L1220.8 726.4L1221.2 710.6L1221.6 695.3L1222.0 681.9L1222.4 673.3L1222.8 672.8L1223.2 680.7L1223.6 694.1L1224.0 709.8L1224.4 726.2L1224.8 742.6L1225.2 759.0L1225.6 775.1L1226.0 791.0L1226.4 806.6L1226.8 821.5L1227.2 834.8L1227.6 844.8L1228.0 850.4L1228.4 852.9L1228.8 854.0L1229.2 854.8L1229.6 855.3L1230.0 855.6L1230.4 855.7L1230.8 855.6L1231.2 855.3L1231.6 854.7L1232.0 854.0L1232.4 853.1L1232.8 852.2L1233.2 851.4L1233.6 850.7L1234.0 850.2L1234.4 850.1L1234.8 850.4L1235.2 851.0L1235.6 852.1L1236.0 853.3L1236.4 854.8L1236.8 856.4L1237.2 857.9L1237.6 859.4L1238.0 860.6L1238.4 861.7L1238.8 862.5L1239.2 863.0L1239.6 863.4L1240.0 863.4L1240.4 863.3L1240.8 862.9L1241.2 862.3L1241.6 861.5L1242.0 860.4L1242.4 859.2L1242.8 857.9L1243.2 856.5L1243.6 855.1L1244.0 853.9L1244.4 852.9L1244.8 852.2L1245.2 851.8L1245.6 851.8L1246.0 852.1L1246.4 852.7L1246.8 853.5L1247.2 854.4L1247.6 855.3L1248.0 856.1L1248.4 856.8L1248.8 857.4L1249.2 857.7L1249.6 857.8L1250.0 857.8L1250.4 857.6L1250.8 857.2L1251.2 856.6L1251.6 855.3L1252.0 852.5L1252.4 847.1L1252.8 838.9L1253.2 829.0L1253.6 818.3L1254.0 807.4L1254.4 796.2L1254.8 784.9L1255.2 773.4L1255.6 761.9L1256.0 750.7L1256.4 740.3L1256.8 732.5L1257.2 729.8L1257.6 733.4L1258.0 741.8L1258.4 752.3L1258.8 763.4L1259.2 774.6L1259.6 785.8L1260.0 796.8L1260.4 807.6L1260.8 818.2L1261.2 828.4L1261.6 837.7L1262.0 844.9L1262.4 849.0L1262.8 849.8L1263.2 847.2L1263.6 841.5L1264.0 833.5L1264.4 824.6L1264.8 815.2L1265.2 805.6L1265.6 795.8L1266.0 785.8L1266.4 775.8L1266.8 765.8L1267.2 756.3L1267.6 748.3L1268.0 743.8L1268.4 744.8L1268.8 750.7L1269.2 759.6L1269.6 769.6L1270.0 780.0L1270.4 790.3L1270.8 800.7L1271.2 810.8L1271.6 820.8L1272.0 830.5L1272.4 839.8L1272.8 847.7L1273.2 853.4L1273.6 856.6L1274.0 858.0L1274.4 858.6L1274.8 859.1L1275.2 859.4L1275.6 859.5L1276.0 859.5L1276.4 859.3L1276.8 859.0L1277.2 858.4L1277.6 857.7L1278.0 856.9L1278.4 856.1L1278.8 855.3L1279.2 854.6L1279.6 854.2L1280.0 854.0L1280.4 854.2L1280.8 854.8L1281.2 855.6L1281.6 856.7L1282.0 858.0L1282.4 859.4L1282.8 860.7L1283.2 862.0L1283.6 863.2L1284.0 864.1L1284.4 864.9L1284.8 865.4L1285.2 865.7L1285.6 865.8L1286.0 865.7L1286.4 865.4L1286.8 864.8L1287.2 864.0L1287.6 863.1L1288.0 861.9L1288.4 860.6L1288.8 859.3L1289.2 858.0L1289.6 856.8L1290.0 855.8L1290.4 855.1L1290.8 854.7L1291.2 854.7L1291.6 854.9L1292.0 855.5L1292.4 856.2L1292.8 857.1L1293.2 857.9L1293.6 858.7L1294.0 859.4L1294.4 860.0L1294.8 860.3L1295.2 860.5L1295.6 860.5L1296.0 860.3L1296.4 860.1L1296.8 859.6L1297.2 858.9L1297.6 857.4L1298.0 853.8L1298.4 847.6L1298.8 839.4L1299.2 830.4L1299.6 821.0L1300.0 811.4L1300.4 801.7L1300.8 791.8L1301.2 781.9L1301.6 772.1L1302.0 762.7L1302.4 754.8L1302.8 750.4L1303.2 751.2L1303.6 756.8L1304.0 765.1L1304.4 774.4L1304.8 784.0L1305.2 793.6L1305.6 803.2L1306.0 812.5L1306.4 821.7L1306.8 830.6L1307.2 838.9L1307.6 845.9L1308.0 850.6L1308.4 852.2L1308.8 850.7L1309.2 845.9L1309.6 838.5L1310.0 829.5L1310.4 819.8L1310.8 809.8L1311.2 799.5L1311.6 789.1L1312.0 778.6L1312.4 768.0L1312.8 757.7L1313.2 748.4L1313.6 741.6L1314.0 739.9L1314.4 744.0L1314.8 752.4L1315.2 762.6L1315.6 773.3L1316.0 784.2L1316.4 795.0L1316.8 805.7L1317.2 816.2L1317.6 826.5L1318.0 836.5L1318.4 845.6L1318.8 852.7L1319.2 857.0L1319.6 859.0L1320.0 859.9L1320.4 860.3L1320.8 860.5L1321.2 860.6L1321.6 860.4L1322.0 860.1L1322.4 859.5L1322.8 858.9L1323.2 858.1L1323.6 857.2L1324.0 856.5L1324.4 855.9L1324.8 855.5L1325.2 855.4L1325.6 855.7L1326.0 856.3L1326.4 857.3L1326.8 858.5L1327.2 859.8L1327.6 861.2L1328.0 862.6L1328.4 863.9L1328.8 865.1L1329.2 866.0L1329.6 866.8L1330.0 867.3L1330.4 867.6L1330.8 867.6L1331.2 867.5L1331.6 867.1L1332.0 866.5L1332.4 865.6L1332.8 864.6L1333.2 863.4L1333.6 862.0L1334.0 860.7L1334.4 859.4L1334.8 858.2L1335.2 857.2L1335.6 856.6L1336.0 856.3L1336.4 856.4L1336.8 856.8L1337.2 857.5L1337.6 858.3L1338.0 859.3L1338.4 860.2L1338.8 861.1L1339.2 861.9L1339.6 862.5L1340.0 862.9L1340.4 863.1L1340.8 863.2L1341.2 863.1L1341.6 862.8L1342.0 862.0L1342.4 860.0L1342.8 856.4L1343.2 851.4L1343.6 845.8L1344.0 839.9L1344.4 833.9L1344.8 827.8L1345.2 821.5L1345.6 815.3L1346.0 809.1L1346.4 803.1L1346.8 797.9L1347.2 794.7L1347.6 794.6L1348.0 797.7L1348.4 802.7L1348.8 808.5L1349.2 814.6L1349.6 820.7L1350.0 826.7L1350.4 832.7L1350.8 838.5L1351.2 844.1L1351.6 849.5L1352.0 854.2L1352.4 857.4L1352.8 858.7L1353.2 857.9L1353.6 854.9L1354.0 850.0L1354.4 843.9L1354.8 837.2L1355.2 830.2L1355.6 823.2L1356.0 815.9L1356.4 808.6L1356.8 801.3L1357.2 794.1L1357.6 787.3L1358.0 782.1L1358.4 780.2L1358.8 782.5L1359.2 788.1L1359.6 795.1L1360.0 802.6L1360.4 810.2L1360.8 817.8L1361.2 825.2L1361.6 832.6L1362.0 839.9L1362.4 846.9L1362.8 853.4L1363.2 858.6L1363.6 861.9L1364.0 863.6L1364.4 864.3L1364.8 864.6L1365.2 864.7L1365.6 864.6L1366.0 864.3L1366.4 863.8L1366.8 863.1L1367.2 862.2L1367.6 861.2L1368.0 860.2L1368.4 859.2L1368.8 858.4L1369.2 857.9L1369.6 857.7L1370.0 857.9L1370.4 858.5L1370.8 859.5L1371.2 860.8L1371.6 862.4L1372.0 864.0L1372.4 865.7L1372.8 867.2L1373.2 868.6L1373.6 869.7L1374.0 870.6L1374.4 871.3L1374.8 871.7L1375.2 871.8L1375.6 871.7L1376.0 871.3L1376.4 870.7L1376.8 869.8L1377.2 868.6L1377.6 867.3L1378.0 865.8L1378.4 864.2L1378.8 862.7L1379.2 861.4L1379.6 860.2L1380.0 859.5L1380.4 859.1L1380.8 859.1L1381.2 859.5L1381.6 860.3L1382.0 861.3L1382.4 862.4L1382.8 863.6L1383.2 864.7L1383.6 865.6L1384.0 866.4L1384.4 867.0L1384.8 867.5L1385.2 867.7L1385.6 867.8L1386.0 867.7L1386.4 867.3L1386.8 866.3L1387.2 864.3L1387.6 861.5L1388.0 858.3L1388.4 854.8L1388.8 851.2L1389.2 847.6L1389.6 843.9L1390.0 840.2L1390.4 836.6L1390.8 833.0L1391.2 829.8L1391.6 827.6L1392.0 827.2L1392.4 828.7L1392.8 831.6L1393.2 835.0L1393.6 838.5L1394.0 842.1L1394.4 845.6L1394.8 849.1L1395.2 852.5L1395.6 855.8L1396.0 859.0L1396.4 861.8L1396.8 863.5L1397.2 863.6L1397.6 861.8L1398.0 858.6L1398.4 854.5L1398.8 850.1L1399.2 845.5L1399.6 840.9L1400.0 836.1L1400.4 831.3L1400.8 826.5L1401.2 821.9L1401.6 817.6L1402.0 814.4L1402.4 813.6L1402.8 815.4L1403.2 819.3L1403.6 823.9L1404.0 828.9L1404.4 833.9L1404.8 838.8L1405.2 843.8L1405.6 848.6L1406.0 853.4L1406.4 858.0L1406.8 862.2L1407.2 865.5L1407.6 867.5L1408.0 868.3L1408.4 868.6L1408.8 868.7L1409.2 868.5L1409.6 868.2L1410.0 867.6L1410.4 866.9L1410.8 866.0L1411.2 865.1L1411.6 864.1L1412.0 863.2L1412.4 862.4L1412.8 861.9L1413.2 861.8L1413.6 862.0L1414.0 862.6L1414.4 863.6L1414.8 864.8L1415.2 866.2L1415.6 867.7L1416.0 869.2L1416.4 870.6L1416.8 871.9L1417.2 872.9L1417.6 873.7L1418.0 874.3L1418.4 874.6L1418.8 874.7L1419.2 874.5L1419.6 874.2L1420.0 873.5L1420.4 872.7L1420.8 871.7L1421.2 870.4L1421.6 869.1L1422.0 867.7L1422.4 866.3L1422.8 865.1L1423.2 864.2L1423.6 863.5L1424.0 863.2L1424.4 863.3L1424.8 863.8L1425.2 864.5L1425.6 865.4L1426.0 866.5L1426.4 867.5L1426.8 868.5L1427.2 869.4L1427.6 870.1L1428.0 870.7L1428.4 871.1L1428.8 871.3L1429.2 871.4L1429.6 871.3L1430.0 870.7L1430.4 869.6L1430.8 868.0L1431.2 866.1L1431.6 864.2L1432.0 862.2L1432.4 860.2L1432.8 858.1L1433.2 856.0L1433.6 854.0L1434.0 852.0L1434.4 850.2L1434.8 849.1L1435.2 849.0L1435.6 850.0L1436.0 851.6L1436.4 853.6L1436.8 855.6L1437.2 857.7L1437.6 859.7L1438.0 861.7L1438.4 863.7L1438.8 865.6L1439.2 867.4L1439.6 869.0L1440.0 870.1L1440.4 870.7L1440.8 870.6L1441.2 869.9L1441.6 868.4L1442.0 866.2L1442.4 863.6L1442.8 860.8L1443.2 857.9L1443.6 855.0L1444.0 852.0L1444.4 849.0L1444.8 846.0L1445.2 843.1L1445.6 840.5L1446.0 838.8L1446.4 838.5L1446.8 839.9L1447.2 842.4L1447.6 845.3L1448.0 848.5L1448.4 851.6L1448.8 854.8L1449.2 857.9L1449.6 861.0L1450.0 864.0L1450.4 866.9L1450.8 869.5L1451.2 871.4L1451.6 872.5L1452.0 872.9L1452.4 873.0L1452.8 872.8L1453.2 872.5L1453.6 872.1L1454.0 871.5L1454.4 870.8L1454.8 870.0L1455.2 869.2L1455.6 868.4L1456.0 867.8L1456.4 867.5L1456.8 867.4L1457.2 867.6L1457.6 868.2L1458.0 869.0L1458.4 870.0L1458.8 871.2L1459.2 872.4L1459.6 873.7L1460.0 874.8L1460.4 875.8L1460.8 876.6L1461.2 877.2L1461.6 877.7L1462.0 877.9L1462.4 878.0L1462.8 877.9L1463.2 877.6L1463.6 877.1L1464.0 876.4L1464.4 875.6L1464.8 874.6L1465.2 873.5L1465.6 872.4L1466.0 871.4L1466.4 870.4L1466.8 869.7L1467.2 869.2L1467.6 869.1L1468.0 869.2L1468.4 869.6L1468.8 870.2L1469.2 871.0L1469.6 871.9L1470.0 872.7L1470.4 873.5L1470.8 874.3L1471.2 874.9L1471.6 875.3L1472.0 875.7L1472.4 875.9L1472.8 875.9L1473.2 875.8L1473.6 875.3L1474.0 874.7L1474.4 874.0L1474.8 873.2L1475.2 872.4L1475.6 871.5L1476.0 870.7L1476.4 869.9L1476.8 869.0L1477.2 868.2L1477.6 867.5L1478.0 867.1L1478.4 867.1L1478.8 867.5L1479.2 868.2L1479.6 869.0L1480.0 869.8L1480.4 870.6L1480.8 871.4L1481.2 872.2L1481.6 873.0L1482.0 873.7L1482.4 874.4L1482.8 874.8L1483.2 874.7L1483.6 873.9L1484.0 872.6L1484.4 871.2L1484.8 869.6L1485.2 868.0L1485.6 866.4L1486.0 864.7L1486.4 863.1L1486.8 861.4L1487.2 859.9L1487.6 858.6L1488.0 857.9L1488.4 858.1L1488.8 859.1L1489.2 860.6L1489.6 862.3L1490.0 864.1L1490.4 865.9L1490.8 867.6L1491.2 869.3L1491.6 871.0L1492.0 872.7L1492.4 874.3L1492.8 875.6L1493.2 876.5L1493.6 877.1L1494.0 877.3L1494.4 877.3L1494.8 877.3L1495.2 877.2L1495.6 877.0L1496.0 876.7L1496.4 876.3L1496.8 875.8L1497.2 875.2L1497.6 874.7L1498.0 874.1L1498.4 873.7L1498.8 873.4L1499.2 873.3L1499.6 873.4L1500.0 873.7L1500.4 874.1L1500.8 874.8L1501.2 875.6L1501.6 876.4L1502.0 877.2L1502.4 878.0L1502.8 878.7L1503.2 879.3L1503.6 879.7L1504.0 880.1L1504.4 880.3L1504.8 880.4L1505.2 880.3L1505.6 880.2L1506.0 879.9L1506.4 879.5L1506.8 879.0L1507.2 878.4L1507.6 877.8L1508.0 877.1L1508.4 876.4L1508.8 875.8L1509.2 875.3L1509.6 875.0L1510.0 874.8L1510.4 874.9L1510.8 875.1L1511.2 875.4L1511.6 875.9L1512.0 876.4L1512.4 876.9L1512.8 877.5L1513.2 877.9L1513.6 878.3L1514.0 878.6L1514.4 878.9L1514.8 879.0L1515.2 879.1L1515.6 879.2L1516.0 879.2L1516.4 879.1L1516.8 878.9L1517.2 878.6L1517.6 878.2L1518.0 877.9L1518.4 877.5L1518.8 877.1L1519.2 876.8L1519.6 876.4L1520.0 876.0L1520.4 875.7L1520.8 875.4L1521.2 875.2L1521.6 875.2L1522.0 875.4L1522.4 875.7L1522.8 876.1L1523.2 876.5L1523.6 876.8L1524.0 877.2L1524.4 877.6L1524.8 877.9L1525.2 878.2L1525.6 878.5L1526.0 878.7L1526.4 878.7L1526.8 878.3L1527.2 877.8L1527.6 877.2L1528.0 876.5L1528.4 875.9L1528.8 875.2L1529.2 874.5L1529.6 873.9L1530.0 873.2L1530.4 872.5L1530.8 872.0L1531.2 871.8L1531.6 871.9L1532.0 872.4L1532.4 873.0L1532.8 873.7L1533.2 874.5L1533.6 875.2L1534.0 876.0L1534.4 876.7L1534.8 877.4L1535.2 878.1L1535.6 878.7L1536.0 879.3L1536.4 879.6L1536.8 879.8L1537.2 879.8L1537.6 879.7L1538.0 879.6L1538.4 879.4L1538.8 879.2L1539.2 878.9L1539.6 878.6L1540.0 878.2L1540.4 877.9L1540.8 877.6L1541.2 877.3L1541.6 877.2L1542.0 877.2L1542.4 877.4L1542.8 877.7L1543.2 878.0L1543.6 878.5L1544.0 879.0L1544.4 879.5L1544.8 880.0L1545.2 880.5L1545.6 880.9L1546.0 881.2L1546.4 881.4L1546.8 881.6L1547.2 881.6L1547.6 881.6L1548.0 881.5L1548.4 881.4L1548.8 881.1L1549.2 880.8L1549.6 880.5L1550.0 880.0L1550.4 879.6L1550.8 879.2L1551.2 878.8L1551.6 878.4L1552.0 878.2L1552.4 878.0L1552.8 878.0L1553.2 878.1L1553.6 878.3L1554.0 878.6L1554.4 879.0L1554.8 879.3L1555.2 879.7L1555.6 880.0L1556.0 880.3L1556.4 880.5L1556.8 880.6L1557.2 880.8L1557.6 880.8L1558.0 880.9L1558.4 880.9L1558.8 880.8L1559.2 880.7L1559.6 880.6L1560.0 880.5L1560.4 880.4L1560.8 880.2L1561.2 880.1L1561.6 880.0L1562.0 879.9L1562.4 879.8L1562.8 879.7L1563.2 879.6L1563.6 879.7L1564.0 879.8L1564.4 879.9L1564.8 880.0L1565.2 880.2L1565.6 880.3L1566.0 880.4L1566.4 880.6L1566.8 880.7L1567.2 880.8L1567.6 880.9L1568.0 881.0L1568.4 881.0L1568.8 880.9L1569.2 880.8L1569.6 880.6L1570.0 880.3L1570.4 880.1L1570.8 879.8L1571.2 879.6L1571.6 879.3L1572.0 879.1L1572.4 878.8L1572.8 878.6L1573.2 878.4L1573.6 878.3L1574.0 878.4L1574.4 878.6L1574.8 878.8L1575.2 879.1L1575.6 879.4L1576.0 879.7L1576.4 880.0L1576.8 880.3L1577.2 880.6L1577.6 880.8L1578.0 881.1L1578.4 881.3L1578.8 881.4L1579.2 881.5L1579.6 881.5L1580.0 881.5L1580.4 881.5L1580.8 881.4L1581.2 881.3L1581.6 881.2L1582.0 881.0L1582.4 880.8L1582.8 880.6L1583.2 880.4L1583.6 880.2L1584.0 880.1L1584.4 880.1L1584.8 880.1L1585.2 880.2L1585.6 880.3L1586.0 880.6L1586.4 880.8L1586.8 881.1L1587.2 881.4L1587.6 881.7L1588.0 881.9L1588.4 882.1L1588.8 882.3L1589.2 882.4L1589.6 882.5L1590.0 882.5L1590.4 882.5L1590.8 882.5L1591.2 882.4L1591.6 882.3L1592.0 882.1L1592.4 881.9L1592.8 881.7L1593.2 881.5L1593.6 881.3L1594.0 881.1L1594.4 880.9L1594.8 880.8L1595.2 880.8L1595.6 880.8L1596.0 880.8L1596.4 880.9L1596.8 881.1L1597.2 881.2L1597.6 881.4L1598.0 881.6L1598.4 881.8L1598.8 881.9L1599.2 882.0L1599.6 882.1L1600.0 882.2L1600.4 882.2L1600.8 882.2L1601.2 882.2L1601.6 882.2L1602.0 882.1L1602.4 882.0L1602.8 882.0L1603.2 881.9L1603.6 881.8L1604.0 881.7L1604.4 881.6L1604.8 881.5L1605.2 881.4L1605.6 881.3L1606.0 881.2L1606.4 881.2L1606.8 881.2L1607.2 881.3L1607.6 881.4L1608.0 881.5L1608.4 881.6L1608.8 881.7L1609.2 881.8L1609.6 881.9L1610.0 882.0L1610.4 882.1L1610.8 882.2L1611.2 882.3L1611.6 882.3L1612.0 882.3L1612.4 882.2L1612.8 882.0L1613.2 881.9L1613.6 881.7L1614.0 881.6L1614.4 881.4L1614.8 881.3L1615.2 881.1L1615.6 881.0L1616.0 880.8L1616.4 880.7L1616.8 880.7L1617.2 880.7L1617.6 880.9L1618.0 881.0L1618.4 881.2L1618.8 881.4L1619.2 881.5L1619.6 881.7L1620.0 881.9L1620.4 882.0L1620.8 882.2L1621.2 882.3L1621.6 882.5L1622.0 882.5L1622.4 882.6L1622.8 882.6L1623.2 882.6L1623.6 882.6L1624.0 882.7L1624.4 882.7L1624.8 882.7L1625.2 882.7L1625.6 882.7L1626.0 882.7L1626.4 882.7L1626.8 882.7L1627.2 882.7L1627.6 882.7L1628.0 882.8L1628.4 882.8L1628.8 882.8L1629.2 882.8L1629.6 882.8L1630.0 882.8L1630.4 882.8L1630.8 882.8L1631.2 882.8L1631.6 882.8L1632.0 882.8L1632.4 882.8L1632.8 882.8L1633.2 882.9L1633.6 882.9L1634.0 882.9L1634.4 882.9L1634.8 882.9L1635.2 882.9L1635.6 882.9L1636.0 882.9L1636.4 882.9L1636.8 882.9L1637.2 882.9L1637.6 882.9L1638.0 882.9L1638.4 883.0L1638.8 883.0L1639.2 883.0L1639.6 883.0L1640.0 883.0L1640.4 883.0L1640.8 883.0L1641.2 883.0L1641.6 883.0" fill="none" stroke="#3b74c0" stroke-width="2.5" stroke-linejoin="round"/>
<rect x="799.6" y="619.6" width="842.2" height="265.8" fill="none" stroke="#2a2a2a" stroke-width="1.9"/>
<path d="M854.5 885.4v-8M854.5 619.6v8M1037.5 885.4v-8M1037.5 619.6v8M1220.5 885.4v-8M1220.5 619.6v8M1403.5 885.4v-8M1403.5 619.6v8M1586.5 885.4v-8M1586.5 619.6v8M799.6 625.0h9M1641.8 625.0h-9M799.6 681.6h9M1641.8 681.6h-9M799.6 738.3h9M1641.8 738.3h-9M799.6 795.0h9M1641.8 795.0h-9M799.6 851.8h9M1641.8 851.8h-9" stroke="#2a2a2a" stroke-width="1.6" fill="none"/>
<text x="854.5" y="914.0" font-size="32" fill="#222" text-anchor="middle" font-family='"Liberation Serif", serif' >80</text>
<text x="1037.5" y="914.0" font-size="32" fill="#222" text-anchor="middle" font-family='"Liberation Serif", serif' >90</text>
<text x="1219.5" y="914.0" font-size="32" fill="#222" text-anchor="middle" font-family='"Liberation Serif", serif' >100</text>
<text x="1402.5" y="914.0" font-size="32" fill="#222" text-anchor="middle" font-family='"Liberation Serif", serif' >110</text>
<text x="1585.5" y="914.0" font-size="32" fill="#222" text-anchor="middle" font-family='"Liberation Serif", serif' >120</text>
<text x="1198.5" y="938.0" font-size="32.7" fill="#222" text-anchor="middle" font-family='"Liberation Serif", serif' >Photon Energy (eV)</text>
<g fill="none" stroke="#707070" stroke-width="1"><circle cx="839.1" cy="737.4" r="4.3"/><circle cx="850.3" cy="737.4" r="4.3"/><circle cx="885.2" cy="737.4" r="4.3"/><circle cx="896.4" cy="737.4" r="4.3"/><circle cx="931.4" cy="737.4" r="4.3"/><circle cx="942.6" cy="737.4" r="4.3"/><circle cx="977.6" cy="737.4" r="4.3"/><circle cx="988.8" cy="737.4" r="4.3"/><circle cx="1023.7" cy="737.4" r="4.3"/><circle cx="1034.9" cy="737.4" r="4.3"/><circle cx="1069.9" cy="737.4" r="4.3"/><circle cx="1081.1" cy="737.4" r="4.3"/><circle cx="1116.1" cy="737.4" r="4.3"/><circle cx="1127.3" cy="737.4" r="4.3"/><circle cx="1162.3" cy="737.4" r="4.3"/><circle cx="1173.5" cy="737.4" r="4.3"/><circle cx="1208.4" cy="737.4" r="4.3"/><circle cx="1219.6" cy="737.4" r="4.3"/><circle cx="1254.6" cy="737.4" r="4.3"/><circle cx="1265.8" cy="737.4" r="4.3"/><circle cx="1300.8" cy="737.4" r="4.3"/><circle cx="1312.0" cy="737.4" r="4.3"/><circle cx="1346.9" cy="737.4" r="4.3"/><circle cx="1358.1" cy="737.4" r="4.3"/><circle cx="1393.1" cy="737.4" r="4.3"/><circle cx="1404.3" cy="737.4" r="4.3"/><circle cx="1439.3" cy="737.4" r="4.3"/><circle cx="1450.5" cy="737.4" r="4.3"/><circle cx="1485.4" cy="737.4" r="4.3"/><circle cx="1496.6" cy="737.4" r="4.3"/><circle cx="1531.6" cy="737.4" r="4.3"/><circle cx="1542.8" cy="737.4" r="4.3"/><circle cx="1577.8" cy="737.4" r="4.3"/><circle cx="1589.0" cy="737.4" r="4.3"/></g>
<use href="#ag" x="1219.3" y="643.2"/>
<use href="#ag" x="1263.6" y="643.2"/>
<use href="#ag" x="1307.9" y="643.2"/>
<use href="#ag" x="1352.2" y="643.2"/>
<use href="#ag" x="1396.5" y="643.2"/>
<use href="#ag" x="1440.8" y="643.2"/>
<text x="831.4" y="665.5" font-size="40.5" fill="#000" text-anchor="start" font-family='"Liberation Serif", serif' font-weight="bold">B</text>
<text x="1356.0" y="706.0" font-size="36.3" fill="#345ec8" text-anchor="start" font-family='"Liberation Serif", serif' >Ne 250 Torr</text>
<path d="M73.0 1220.7L73.4 1220.7L73.8 1220.7L74.2 1220.7L74.6 1220.7L75.0 1220.7L75.4 1220.7L75.8 1220.7L76.2 1220.7L76.6 1220.7L77.0 1220.6L77.4 1220.6L77.8 1220.5L78.2 1220.5L78.6 1220.4L79.0 1220.4L79.4 1220.3L79.8 1220.3L80.2 1220.3L80.6 1220.3L81.0 1220.3L81.4 1220.3L81.8 1220.4L82.2 1220.4L82.6 1220.4L83.0 1220.4L83.4 1220.3L83.8 1220.3L84.2 1220.3L84.6 1220.2L85.0 1220.2L85.4 1220.1L85.8 1220.1L86.2 1220.0L86.6 1220.0L87.0 1220.0L87.4 1220.0L87.8 1220.0L88.2 1220.0L88.6 1220.0L89.0 1220.0L89.4 1220.0L89.8 1220.0L90.2 1220.0L90.6 1220.0L91.0 1220.0L91.4 1219.9L91.8 1219.9L92.2 1219.8L92.6 1219.8L93.0 1219.7L93.4 1219.7L93.8 1219.6L94.2 1219.6L94.6 1219.6L95.0 1219.6L95.4 1219.6L95.8 1219.6L96.2 1219.7L96.6 1219.7L97.0 1219.7L97.4 1219.7L97.8 1219.7L98.2 1219.6L98.6 1219.6L99.0 1219.5L99.4 1219.5L99.8 1219.4L100.2 1219.3L100.6 1219.3L101.0 1219.3L101.4 1219.2L101.8 1219.2L102.2 1219.3L102.6 1219.3L103.0 1219.3L103.4 1219.3L103.8 1219.3L104.2 1219.3L104.6 1219.3L105.0 1219.3L105.4 1219.3L105.8 1219.2L106.2 1219.2L106.6 1219.1L107.0 1219.0L107.4 1219.0L107.8 1218.9L108.2 1218.9L108.6 1218.9L109.0 1218.9L109.4 1218.9L109.8 1218.9L110.2 1218.9L110.6 1219.0L111.0 1219.0L111.4 1219.0L111.8 1219.0L112.2 1218.9L112.6 1218.9L113.0 1218.9L113.4 1218.8L113.8 1218.7L114.2 1218.7L114.6 1218.6L115.0 1218.6L115.4 1218.5L115.8 1218.5L116.2 1218.5L116.6 1218.5L117.0 1218.6L117.4 1218.6L117.8 1218.6L118.2 1218.6L118.6 1218.6L119.0 1218.6L119.4 1218.6L119.8 1218.5L120.2 1218.5L120.6 1218.4L121.0 1218.3L121.4 1218.2L121.8 1218.2L122.2 1218.1L122.6 1218.1L123.0 1218.1L123.4 1218.1L123.8 1218.1L124.2 1218.1L124.6 1218.1L125.0 1218.2L125.4 1218.2L125.8 1218.2L126.2 1218.1L126.6 1218.1L127.0 1218.0L127.4 1218.0L127.8 1217.9L128.2 1217.8L128.6 1217.7L129.0 1217.7L129.4 1217.6L129.8 1217.6L130.2 1217.6L130.6 1217.6L131.0 1217.6L131.4 1217.6L131.8 1217.6L132.2 1217.6L132.6 1217.6L133.0 1217.6L133.4 1217.5L133.8 1217.5L134.2 1217.3L134.6 1217.2L135.0 1216.9L135.4 1216.6L135.8 1216.3L136.2 1216.0L136.6 1215.7L137.0 1215.4L137.4 1215.0L137.8 1214.8L138.2 1214.5L138.6 1214.2L139.0 1213.9L139.4 1213.6L139.8 1213.3L140.2 1213.0L140.6 1212.7L141.0 1212.5L141.4 1212.3L141.8 1212.2L142.2 1212.2L142.6 1212.3L143.0 1212.4L143.4 1212.6L143.8 1212.9L144.2 1213.1L144.6 1213.4L145.0 1213.7L145.4 1214.0L145.8 1214.3L146.2 1214.5L146.6 1214.7L147.0 1214.8L147.4 1214.8L147.8 1214.8L148.2 1214.6L148.6 1214.4L149.0 1214.1L149.4 1213.8L149.8 1213.4L150.2 1213.0L150.6 1212.5L151.0 1212.2L151.4 1211.8L151.8 1211.4L152.2 1211.1L152.6 1210.8L153.0 1210.6L153.4 1210.5L153.8 1210.6L154.2 1210.7L154.6 1210.9L155.0 1211.1L155.4 1211.4L155.8 1211.7L156.2 1211.9L156.6 1212.2L157.0 1212.4L157.4 1212.7L157.8 1213.0L158.2 1213.2L158.6 1213.5L159.0 1213.8L159.4 1214.2L159.8 1214.5L160.2 1214.7L160.6 1215.0L161.0 1215.1L161.4 1215.2L161.8 1215.2L162.2 1215.2L162.6 1215.1L163.0 1215.0L163.4 1214.9L163.8 1214.8L164.2 1214.7L164.6 1214.6L165.0 1214.6L165.4 1214.5L165.8 1214.5L166.2 1214.5L166.6 1214.5L167.0 1214.6L167.4 1214.6L167.8 1214.7L168.2 1214.7L168.6 1214.8L169.0 1214.8L169.4 1214.8L169.8 1214.7L170.2 1214.7L170.6 1214.6L171.0 1214.5L171.4 1214.4L171.8 1214.4L172.2 1214.3L172.6 1214.3L173.0 1214.3L173.4 1214.3L173.8 1214.3L174.2 1214.4L174.6 1214.4L175.0 1214.5L175.4 1214.5L175.8 1214.5L176.2 1214.5L176.6 1214.4L177.0 1214.4L177.4 1214.3L177.8 1214.2L178.2 1214.1L178.6 1214.0L179.0 1213.9L179.4 1213.8L179.8 1213.8L180.2 1213.7L180.6 1213.7L181.0 1213.6L181.4 1213.6L181.8 1213.6L182.2 1213.6L182.6 1213.5L183.0 1213.4L183.4 1213.3L183.8 1213.2L184.2 1213.1L184.6 1212.9L185.0 1212.8L185.4 1212.7L185.8 1212.5L186.2 1212.5L186.6 1212.4L187.0 1212.4L187.4 1212.4L187.8 1212.5L188.2 1212.5L188.6 1212.6L189.0 1212.7L189.4 1212.8L189.8 1212.8L190.2 1212.7L190.6 1212.6L191.0 1212.3L191.4 1211.9L191.8 1211.3L192.2 1210.6L192.6 1209.8L193.0 1209.0L193.4 1208.2L193.8 1207.3L194.2 1206.5L194.6 1205.7L195.0 1204.9L195.4 1204.1L195.8 1203.4L196.2 1202.6L196.6 1201.9L197.0 1201.2L197.4 1200.6L197.8 1200.1L198.2 1199.9L198.6 1200.0L199.0 1200.4L199.4 1200.9L199.8 1201.5L200.2 1202.2L200.6 1202.9L201.0 1203.6L201.4 1204.4L201.8 1205.2L202.2 1206.0L202.6 1206.8L203.0 1207.7L203.4 1208.4L203.8 1209.2L204.2 1209.8L204.6 1210.3L205.0 1210.6L205.4 1210.7L205.8 1210.5L206.2 1210.2L206.6 1209.7L207.0 1209.2L207.4 1208.7L207.8 1208.2L208.2 1207.7L208.6 1207.2L209.0 1206.8L209.4 1206.3L209.8 1205.9L210.2 1205.5L210.6 1205.2L211.0 1204.8L211.4 1204.6L211.8 1204.4L212.2 1204.4L212.6 1204.5L213.0 1204.8L213.4 1205.1L213.8 1205.4L214.2 1205.8L214.6 1206.2L215.0 1206.7L215.4 1207.1L215.8 1207.6L216.2 1208.1L216.6 1208.6L217.0 1209.1L217.4 1209.6L217.8 1210.1L218.2 1210.5L218.6 1210.8L219.0 1211.0L219.4 1211.0L219.8 1211.0L220.2 1210.8L220.6 1210.6L221.0 1210.3L221.4 1210.0L221.8 1209.8L222.2 1209.5L222.6 1209.3L223.0 1209.2L223.4 1209.2L223.8 1209.2L224.2 1209.3L224.6 1209.5L225.0 1209.8L225.4 1210.0L225.8 1210.3L226.2 1210.6L226.6 1211.0L227.0 1211.2L227.4 1211.5L227.8 1211.8L228.2 1212.0L228.6 1212.3L229.0 1212.5L229.4 1212.7L229.8 1212.9L230.2 1213.2L230.6 1213.4L231.0 1213.6L231.4 1213.8L231.8 1214.0L232.2 1214.1L232.6 1214.2L233.0 1214.3L233.4 1214.3L233.8 1214.3L234.2 1214.3L234.6 1214.1L235.0 1214.0L235.4 1213.8L235.8 1213.6L236.2 1213.3L236.6 1213.1L237.0 1212.9L237.4 1212.6L237.8 1212.4L238.2 1212.2L238.6 1211.9L239.0 1211.6L239.4 1211.3L239.8 1211.0L240.2 1210.6L240.6 1210.3L241.0 1209.8L241.4 1209.4L241.8 1209.0L242.2 1208.6L242.6 1208.3L243.0 1208.0L243.4 1207.8L243.8 1207.7L244.2 1207.7L244.6 1207.8L245.0 1207.9L245.4 1208.1L245.8 1208.4L246.2 1208.6L246.6 1208.8L247.0 1209.0L247.4 1209.1L247.8 1209.1L248.2 1209.0L248.6 1208.7L249.0 1208.2L249.4 1207.7L249.8 1207.0L250.2 1206.3L250.6 1205.6L251.0 1204.9L251.4 1204.2L251.8 1203.5L252.2 1202.9L252.6 1202.3L253.0 1201.7L253.4 1201.1L253.8 1200.5L254.2 1199.9L254.6 1199.4L255.0 1199.0L255.4 1198.8L255.8 1198.8L256.2 1199.0L256.6 1199.4L257.0 1199.8L257.4 1200.3L257.8 1200.8L258.2 1201.4L258.6 1202.0L259.0 1202.6L259.4 1203.3L259.8 1204.0L260.2 1204.7L260.6 1205.3L261.0 1205.9L261.4 1206.5L261.8 1206.9L262.2 1207.1L262.6 1207.1L263.0 1206.9L263.4 1206.4L263.8 1205.8L264.2 1205.1L264.6 1204.4L265.0 1203.6L265.4 1202.9L265.8 1202.3L266.2 1201.6L266.6 1201.0L267.0 1200.4L267.4 1199.8L267.8 1199.2L268.2 1198.6L268.6 1198.1L269.0 1197.6L269.4 1197.3L269.8 1197.1L270.2 1197.2L270.6 1197.4L271.0 1197.8L271.4 1198.2L271.8 1198.7L272.2 1199.3L272.6 1199.8L273.0 1200.5L273.4 1201.1L273.8 1201.8L274.2 1202.5L274.6 1203.2L275.0 1203.8L275.4 1204.4L275.8 1205.0L276.2 1205.4L276.6 1205.6L277.0 1205.7L277.4 1205.6L277.8 1205.4L278.2 1205.2L278.6 1204.9L279.0 1204.6L279.4 1204.3L279.8 1204.1L280.2 1203.9L280.6 1203.8L281.0 1203.8L281.4 1203.8L281.8 1203.9L282.2 1204.1L282.6 1204.3L283.0 1204.5L283.4 1204.7L283.8 1204.8L284.2 1205.0L284.6 1205.2L285.0 1205.3L285.4 1205.4L285.8 1205.5L286.2 1205.7L286.6 1205.8L287.0 1206.0L287.4 1206.1L287.8 1206.3L288.2 1206.5L288.6 1206.7L289.0 1206.9L289.4 1207.1L289.8 1207.2L290.2 1207.3L290.6 1207.3L291.0 1207.2L291.4 1207.1L291.8 1207.0L292.2 1206.8L292.6 1206.6L293.0 1206.4L293.4 1206.2L293.8 1205.9L294.2 1205.8L294.6 1205.6L295.0 1205.4L295.4 1205.3L295.8 1205.1L296.2 1204.9L296.6 1204.7L297.0 1204.4L297.4 1204.1L297.8 1203.8L298.2 1203.3L298.6 1202.9L299.0 1202.4L299.4 1201.9L299.8 1201.4L300.2 1201.0L300.6 1200.7L301.0 1200.5L301.4 1200.4L301.8 1200.4L302.2 1200.5L302.6 1200.7L303.0 1200.9L303.4 1201.2L303.8 1201.4L304.2 1201.6L304.6 1201.8L305.0 1201.8L305.4 1201.7L305.8 1201.4L306.2 1200.9L306.6 1200.1L307.0 1199.2L307.4 1198.1L307.8 1197.0L308.2 1195.9L308.6 1194.8L309.0 1193.7L309.4 1192.6L309.8 1191.6L310.2 1190.6L310.6 1189.6L311.0 1188.5L311.4 1187.5L311.8 1186.5L312.2 1185.6L312.6 1184.8L313.0 1184.4L313.4 1184.3L313.8 1184.5L314.2 1185.1L314.6 1185.8L315.0 1186.7L315.4 1187.7L315.8 1188.7L316.2 1189.7L316.6 1190.9L317.0 1192.0L317.4 1193.1L317.8 1194.3L318.2 1195.3L318.6 1196.3L319.0 1197.2L319.4 1197.9L319.8 1198.4L320.2 1198.5L320.6 1198.2L321.0 1197.5L321.4 1196.5L321.8 1195.4L322.2 1194.1L322.6 1192.9L323.0 1191.6L323.4 1190.4L323.8 1189.3L324.2 1188.1L324.6 1186.9L325.0 1185.8L325.4 1184.6L325.8 1183.4L326.2 1182.1L326.6 1181.0L327.0 1180.1L327.4 1179.4L327.8 1179.2L328.2 1179.5L328.6 1180.1L329.0 1181.0L329.4 1182.1L329.8 1183.3L330.2 1184.6L330.6 1185.9L331.0 1187.3L331.4 1188.7L331.8 1190.2L332.2 1191.5L332.6 1192.9L333.0 1194.1L333.4 1195.2L333.8 1196.2L334.2 1196.9L334.6 1197.4L335.0 1197.5L335.4 1197.4L335.8 1197.2L336.2 1196.9L336.6 1196.5L337.0 1196.2L337.4 1196.0L337.8 1195.8L338.2 1195.7L338.6 1195.6L339.0 1195.7L339.4 1195.8L339.8 1195.9L340.2 1196.1L340.6 1196.3L341.0 1196.6L341.4 1196.8L341.8 1197.0L342.2 1197.3L342.6 1197.5L343.0 1197.8L343.4 1198.2L343.8 1198.5L344.2 1198.9L344.6 1199.3L345.0 1199.8L345.4 1200.2L345.8 1200.6L346.2 1201.0L346.6 1201.4L347.0 1201.7L347.4 1201.9L347.8 1202.0L348.2 1202.0L348.6 1202.0L349.0 1201.9L349.4 1201.7L349.8 1201.5L350.2 1201.3L350.6 1201.1L351.0 1200.9L351.4 1200.7L351.8 1200.6L352.2 1200.4L352.6 1200.3L353.0 1200.1L353.4 1199.9L353.8 1199.7L354.2 1199.4L354.6 1199.0L355.0 1198.5L355.4 1197.9L355.8 1197.2L356.2 1196.4L356.6 1195.7L357.0 1194.9L357.4 1194.2L357.8 1193.6L358.2 1193.1L358.6 1192.8L359.0 1192.7L359.4 1192.7L359.8 1192.9L360.2 1193.2L360.6 1193.5L361.0 1193.9L361.4 1194.3L361.8 1194.6L362.2 1194.8L362.6 1195.0L363.0 1195.0L363.4 1194.8L363.8 1194.5L364.2 1193.9L364.6 1193.0L365.0 1191.9L365.4 1190.6L365.8 1189.3L366.2 1188.0L366.6 1186.6L367.0 1185.3L367.4 1184.0L367.8 1182.6L368.2 1181.2L368.6 1179.8L369.0 1178.3L369.4 1176.8L369.8 1175.2L370.2 1173.8L370.6 1172.6L371.0 1171.7L371.4 1171.4L371.8 1171.6L372.2 1172.4L372.6 1173.5L373.0 1174.8L373.4 1176.3L373.8 1177.8L374.2 1179.5L374.6 1181.1L375.0 1182.7L375.4 1184.3L375.8 1185.8L376.2 1187.2L376.6 1188.5L377.0 1189.7L377.4 1190.6L377.8 1191.3L378.2 1191.5L378.6 1191.3L379.0 1190.6L379.4 1189.6L379.8 1188.4L380.2 1187.2L380.6 1185.9L381.0 1184.7L381.4 1183.5L381.8 1182.2L382.2 1181.0L382.6 1179.7L383.0 1178.4L383.4 1177.0L383.8 1175.5L384.2 1174.1L384.6 1172.8L385.0 1171.7L385.4 1171.0L385.8 1170.9L386.2 1171.3L386.6 1172.1L387.0 1173.3L387.4 1174.7L387.8 1176.2L388.2 1177.8L388.6 1179.5L389.0 1181.1L389.4 1182.8L389.8 1184.3L390.2 1185.9L390.6 1187.3L391.0 1188.5L391.4 1189.7L391.8 1190.6L392.2 1191.2L392.6 1191.5L393.0 1191.6L393.4 1191.4L393.8 1191.2L394.2 1190.8L394.6 1190.5L395.0 1190.2L395.4 1189.9L395.8 1189.7L396.2 1189.6L396.6 1189.5L397.0 1189.4L397.4 1189.4L397.8 1189.4L398.2 1189.5L398.6 1189.6L399.0 1189.8L399.4 1190.1L399.8 1190.5L400.2 1190.9L400.6 1191.5L401.0 1192.1L401.4 1192.9L401.8 1193.7L402.2 1194.5L402.6 1195.3L403.0 1196.2L403.4 1196.9L403.8 1197.6L404.2 1198.2L404.6 1198.7L405.0 1199.0L405.4 1199.2L405.8 1199.4L406.2 1199.4L406.6 1199.3L407.0 1199.2L407.4 1199.0L407.8 1198.9L408.2 1198.7L408.6 1198.6L409.0 1198.4L409.4 1198.3L409.8 1198.2L410.2 1198.0L410.6 1197.8L411.0 1197.6L411.4 1197.2L411.8 1196.7L412.2 1196.0L412.6 1195.3L413.0 1194.4L413.4 1193.3L413.8 1192.2L414.2 1191.1L414.6 1189.9L415.0 1188.9L415.4 1187.9L415.8 1187.2L416.2 1186.6L416.6 1186.3L417.0 1186.2L417.4 1186.2L417.8 1186.5L418.2 1186.8L418.6 1187.2L419.0 1187.6L419.4 1188.0L419.8 1188.3L420.2 1188.6L420.6 1188.7L421.0 1188.7L421.4 1188.7L421.8 1188.5L422.2 1188.1L422.6 1187.5L423.0 1186.6L423.4 1185.4L423.8 1184.0L424.2 1182.6L424.6 1181.0L425.0 1179.4L425.4 1177.8L425.8 1176.0L426.2 1174.2L426.6 1172.2L427.0 1170.2L427.4 1168.1L427.8 1165.9L428.2 1163.8L428.6 1161.9L429.0 1160.3L429.4 1159.4L429.8 1159.2L430.2 1159.7L430.6 1160.9L431.0 1162.5L431.4 1164.4L431.8 1166.4L432.2 1168.4L432.6 1170.5L433.0 1172.4L433.4 1174.3L433.8 1176.1L434.2 1177.7L434.6 1179.2L435.0 1180.4L435.4 1181.5L435.8 1182.1L436.2 1182.2L436.6 1181.6L437.0 1180.6L437.4 1179.1L437.8 1177.4L438.2 1175.7L438.6 1173.9L439.0 1172.0L439.4 1170.1L439.8 1168.2L440.2 1166.2L440.6 1164.1L441.0 1161.9L441.4 1159.7L441.8 1157.6L442.2 1155.7L442.6 1154.3L443.0 1153.7L443.4 1153.9L443.8 1154.8L444.2 1156.4L444.6 1158.4L445.0 1160.6L445.4 1162.9L445.8 1165.3L446.2 1167.7L446.6 1170.1L447.0 1172.5L447.4 1174.7L447.8 1176.8L448.2 1178.8L448.6 1180.5L449.0 1182.1L449.4 1183.3L449.8 1184.1L450.2 1184.5L450.6 1184.6L451.0 1184.4L451.4 1184.0L451.8 1183.6L452.2 1183.3L452.6 1183.0L453.0 1182.7L453.4 1182.6L453.8 1182.5L454.2 1182.5L454.6 1182.6L455.0 1182.7L455.4 1182.9L455.8 1183.1L456.2 1183.4L456.6 1183.8L457.0 1184.3L457.4 1184.9L457.8 1185.6L458.2 1186.4L458.6 1187.2L459.0 1188.2L459.4 1189.1L459.8 1190.1L460.2 1191.0L460.6 1191.9L461.0 1192.6L461.4 1193.3L461.8 1193.8L462.2 1194.2L462.6 1194.4L463.0 1194.5L463.4 1194.5L463.8 1194.4L464.2 1194.2L464.6 1194.0L465.0 1193.8L465.4 1193.5L465.8 1193.3L466.2 1193.1L466.6 1192.9L467.0 1192.7L467.4 1192.5L467.8 1192.2L468.2 1191.8L468.6 1191.3L469.0 1190.7L469.4 1189.9L469.8 1188.9L470.2 1187.7L470.6 1186.4L471.0 1185.1L471.4 1183.7L471.8 1182.3L472.2 1181.0L472.6 1179.9L473.0 1179.0L473.4 1178.4L473.8 1178.1L474.2 1178.0L474.6 1178.2L475.0 1178.6L475.4 1179.1L475.8 1179.6L476.2 1180.1L476.6 1180.6L477.0 1181.0L477.4 1181.3L477.8 1181.4L478.2 1181.3L478.6 1180.9L479.0 1180.2L479.4 1179.2L479.8 1177.7L480.2 1176.0L480.6 1174.1L481.0 1172.2L481.4 1170.2L481.8 1168.2L482.2 1166.1L482.6 1164.0L483.0 1161.8L483.4 1159.4L483.8 1157.0L484.2 1154.5L484.6 1152.0L485.0 1149.6L485.4 1147.5L485.8 1145.9L486.2 1145.2L486.6 1145.4L487.0 1146.5L487.4 1148.2L487.8 1150.2L488.2 1152.6L488.6 1155.0L489.0 1157.5L489.4 1160.0L489.8 1162.3L490.2 1164.4L490.6 1166.1L491.0 1167.4L491.4 1168.2L491.8 1168.6L492.2 1168.6L492.6 1168.3L493.0 1167.6L493.4 1166.5L493.8 1165.0L494.2 1163.3L494.6 1161.6L495.0 1159.8L495.4 1158.1L495.8 1156.5L496.2 1155.0L496.6 1153.7L497.0 1152.6L497.4 1152.0L497.8 1152.0L498.2 1152.6L498.6 1153.6L499.0 1155.0L499.4 1156.5L499.8 1158.0L500.2 1159.7L500.6 1161.3L501.0 1163.0L501.4 1164.7L501.8 1166.6L502.2 1168.5L502.6 1170.4L503.0 1172.4L503.4 1174.3L503.8 1176.1L504.2 1177.7L504.6 1178.9L505.0 1179.6L505.4 1179.9L505.8 1179.8L506.2 1179.5L506.6 1178.9L507.0 1178.2L507.4 1177.4L507.8 1176.5L508.2 1175.6L508.6 1174.8L509.0 1174.0L509.4 1173.4L509.8 1172.9L510.2 1172.7L510.6 1172.6L511.0 1172.6L511.4 1172.9L511.8 1173.3L512.2 1173.8L512.6 1174.5L513.0 1175.2L513.4 1176.0L513.8 1176.9L514.2 1177.9L514.6 1178.9L515.0 1180.0L515.4 1181.2L515.8 1182.3L516.2 1183.5L516.6 1184.7L517.0 1185.8L517.4 1186.9L517.8 1187.9L518.2 1188.7L518.6 1189.4L519.0 1190.0L519.4 1190.3L519.8 1190.5L520.2 1190.6L520.6 1190.5L521.0 1190.3L521.4 1190.0L521.8 1189.7L522.2 1189.3L522.6 1188.9L523.0 1188.5L523.4 1188.1L523.8 1187.7L524.2 1187.2L524.6 1186.7L525.0 1186.1L525.4 1185.4L525.8 1184.5L526.2 1183.5L526.6 1182.2L527.0 1180.8L527.4 1179.3L527.8 1177.6L528.2 1175.9L528.6 1174.2L529.0 1172.6L529.4 1171.2L529.8 1170.1L530.2 1169.4L530.6 1169.0L531.0 1169.0L531.4 1169.3L531.8 1169.9L532.2 1170.6L532.6 1171.5L533.0 1172.4L533.4 1173.2L533.8 1173.9L534.2 1174.4L534.6 1174.8L535.0 1175.0L535.4 1175.0L535.8 1174.9L536.2 1174.6L536.6 1174.2L537.0 1173.5L537.4 1172.4L537.8 1170.9L538.2 1168.9L538.6 1166.5L539.0 1163.8L539.4 1160.9L539.8 1158.0L540.2 1154.9L540.6 1151.6L541.0 1148.2L541.4 1144.7L541.8 1141.0L542.2 1137.2L542.6 1133.4L543.0 1129.7L543.4 1126.2L543.8 1123.4L544.2 1121.6L544.6 1121.0L545.0 1121.8L545.4 1123.8L545.8 1126.6L546.2 1129.9L546.6 1133.5L547.0 1137.1L547.4 1140.7L547.8 1144.2L548.2 1147.5L548.6 1150.6L549.0 1153.5L549.4 1156.3L549.8 1158.9L550.2 1161.2L550.6 1163.0L551.0 1164.1L551.4 1164.2L551.8 1163.3L552.2 1161.6L552.6 1159.2L553.0 1156.5L553.4 1153.7L553.8 1150.7L554.2 1147.6L554.6 1144.4L555.0 1141.0L555.4 1137.5L555.8 1133.9L556.2 1130.2L556.6 1126.5L557.0 1123.0L557.4 1120.1L557.8 1118.1L558.2 1117.4L558.6 1118.1L559.0 1120.0L559.4 1123.0L559.8 1126.5L560.2 1130.3L560.6 1134.2L561.0 1138.2L561.4 1142.1L561.8 1145.9L562.2 1149.6L562.6 1153.1L563.0 1156.3L563.4 1159.4L563.8 1162.2L564.2 1164.7L564.6 1166.8L565.0 1168.3L565.4 1169.2L565.8 1169.6L566.2 1169.6L566.6 1169.4L567.0 1169.1L567.4 1168.8L567.8 1168.4L568.2 1168.1L568.6 1167.7L569.0 1167.3L569.4 1167.0L569.8 1166.6L570.2 1166.3L570.6 1166.2L571.0 1166.2L571.4 1166.4L571.8 1166.8L572.2 1167.5L572.6 1168.5L573.0 1169.8L573.4 1171.3L573.8 1172.9L574.2 1174.7L574.6 1176.4L575.0 1178.1L575.4 1179.7L575.8 1181.1L576.2 1182.3L576.6 1183.3L577.0 1184.0L577.4 1184.6L577.8 1184.9L578.2 1185.1L578.6 1185.1L579.0 1185.1L579.4 1185.0L579.8 1184.9L580.2 1184.8L580.6 1184.8L581.0 1184.7L581.4 1184.7L581.8 1184.6L582.2 1184.5L582.6 1184.3L583.0 1183.9L583.4 1183.4L583.8 1182.6L584.2 1181.7L584.6 1180.5L585.0 1179.0L585.4 1177.4L585.8 1175.6L586.2 1173.7L586.6 1171.8L587.0 1170.0L587.4 1168.3L587.8 1166.9L588.2 1165.8L588.6 1164.9L589.0 1164.4L589.4 1164.1L589.8 1164.1L590.2 1164.3L590.6 1164.6L591.0 1165.0L591.4 1165.4L591.8 1165.8L592.2 1166.1L592.6 1166.4L593.0 1166.6L593.4 1166.8L593.8 1166.8L594.2 1166.7L594.6 1166.3L595.0 1165.4L595.4 1163.8L595.8 1161.4L596.2 1158.3L596.6 1154.7L597.0 1150.8L597.4 1146.6L597.8 1142.3L598.2 1137.6L598.6 1132.8L599.0 1127.8L599.4 1122.6L599.8 1117.4L600.2 1112.1L600.6 1107.0L601.0 1102.3L601.4 1098.3L601.8 1095.6L602.2 1094.5L602.6 1095.4L603.0 1098.0L603.4 1101.8L603.8 1106.4L604.2 1111.2L604.6 1116.2L605.0 1121.1L605.4 1125.8L605.8 1130.4L606.2 1134.8L606.6 1138.9L607.0 1143.0L607.4 1146.9L607.8 1150.6L608.2 1154.0L608.6 1157.0L609.0 1159.2L609.4 1160.3L609.8 1159.9L610.2 1158.3L610.6 1155.6L611.0 1152.2L611.4 1148.4L611.8 1144.2L612.2 1139.8L612.6 1135.2L613.0 1130.3L613.4 1125.3L613.8 1120.0L614.2 1114.7L614.6 1109.4L615.0 1104.2L615.4 1099.3L615.8 1095.1L616.2 1092.0L616.6 1090.5L617.0 1091.0L617.4 1093.2L617.8 1097.0L618.2 1101.6L618.6 1106.8L619.0 1112.1L619.4 1117.3L619.8 1122.4L620.2 1127.4L620.6 1132.1L621.0 1136.7L621.4 1141.2L621.8 1145.5L622.2 1149.7L622.6 1153.6L623.0 1157.3L623.4 1160.4L623.8 1162.7L624.2 1164.3L624.6 1165.2L625.0 1165.6L625.4 1165.6L625.8 1165.4L626.2 1165.1L626.6 1164.5L627.0 1163.8L627.4 1163.0L627.8 1162.1L628.2 1161.3L628.6 1160.5L629.0 1160.0L629.4 1159.8L629.8 1160.0L630.2 1160.5L630.6 1161.5L631.0 1162.8L631.4 1164.4L631.8 1166.3L632.2 1168.3L632.6 1170.3L633.0 1172.3L633.4 1174.1L633.8 1175.7L634.2 1177.0L634.6 1178.2L635.0 1179.1L635.4 1179.7L635.8 1180.3L636.2 1180.6L636.6 1181.0L637.0 1181.2L637.4 1181.5L637.8 1181.7L638.2 1182.0L638.6 1182.2L639.0 1182.5L639.4 1182.7L639.8 1182.8L640.2 1182.8L640.6 1182.6L641.0 1182.2L641.4 1181.7L641.8 1180.9L642.2 1179.9L642.6 1178.7L643.0 1177.2L643.4 1175.6L643.8 1173.9L644.2 1172.2L644.6 1170.4L645.0 1168.6L645.4 1167.0L645.8 1165.4L646.2 1164.0L646.6 1162.8L647.0 1161.8L647.4 1160.9L647.8 1160.2L648.2 1159.7L648.6 1159.2L649.0 1158.9L649.4 1158.7L649.8 1158.7L650.2 1158.7L650.6 1158.9L651.0 1159.3L651.4 1159.7L651.8 1160.2L652.2 1160.8L652.6 1161.3L653.0 1161.6L653.4 1161.4L653.8 1160.5L654.2 1158.5L654.6 1155.2L655.0 1150.9L655.4 1145.7L655.8 1140.0L656.2 1133.8L656.6 1127.4L657.0 1120.7L657.4 1114.0L657.8 1107.1L658.2 1100.2L658.6 1093.4L659.0 1086.7L659.4 1080.3L659.8 1074.5L660.2 1069.6L660.6 1066.2L661.0 1064.9L661.4 1065.9L661.8 1069.1L662.2 1073.8L662.6 1079.5L663.0 1085.4L663.4 1091.5L663.8 1097.5L664.2 1103.5L664.6 1109.3L665.0 1115.0L665.4 1120.7L665.8 1126.3L666.2 1131.9L666.6 1137.3L667.0 1142.2L667.4 1146.1L667.8 1148.5L668.2 1148.8L668.6 1147.1L669.0 1143.7L669.4 1139.2L669.8 1134.0L670.2 1128.3L670.6 1122.3L671.0 1116.1L671.4 1109.7L671.8 1103.2L672.2 1096.6L672.6 1090.1L673.0 1083.7L673.4 1077.7L673.8 1072.3L674.2 1068.2L674.6 1065.7L675.0 1065.6L675.4 1067.7L675.8 1071.8L676.2 1077.1L676.6 1083.2L677.0 1089.5L677.4 1095.8L677.8 1102.0L678.2 1108.1L678.6 1114.0L679.0 1119.8L679.4 1125.5L679.8 1131.2L680.2 1136.8L680.6 1142.3L681.0 1147.4L681.4 1152.0L681.8 1155.6L682.2 1158.2L682.6 1159.7L683.0 1160.4L683.4 1160.5L683.8 1160.3L684.2 1159.6L684.6 1158.8L685.0 1157.7L685.4 1156.5L685.8 1155.3L686.2 1154.2L686.6 1153.3L687.0 1152.7L687.4 1152.5L687.8 1152.8L688.2 1153.5L688.6 1154.7L689.0 1156.3L689.4 1158.2L689.8 1160.3L690.2 1162.4L690.6 1164.6L691.0 1166.6L691.4 1168.5L691.8 1170.2L692.2 1171.6L692.6 1172.8L693.0 1173.9L693.4 1174.7L693.8 1175.5L694.2 1176.2L694.6 1176.8L695.0 1177.4L695.4 1177.9L695.8 1178.5L696.2 1179.0L696.6 1179.4L697.0 1179.8L697.4 1180.0L697.8 1180.1L698.2 1180.0L698.6 1179.6L699.0 1179.1L699.4 1178.4L699.8 1177.4L700.2 1176.3L700.6 1175.0L701.0 1173.5L701.4 1172.0L701.8 1170.3L702.2 1168.7L702.6 1167.0L703.0 1165.3L703.4 1163.6L703.8 1161.9L704.2 1160.3L704.6 1158.8L705.0 1157.3L705.4 1155.9L705.8 1154.5L706.2 1153.4L706.6 1152.4L707.0 1151.6L707.4 1151.1L707.8 1150.8L708.2 1150.9L708.6 1151.2L709.0 1151.8L709.4 1152.6L709.8 1153.5L710.2 1154.4L710.6 1155.3L711.0 1156.0L711.4 1156.3L711.8 1155.9L712.2 1154.3L712.6 1151.2L713.0 1146.5L713.4 1140.5L713.8 1133.4L714.2 1125.7L714.6 1117.7L715.0 1109.5L715.4 1101.1L715.8 1092.8L716.2 1084.4L716.6 1076.1L717.0 1067.9L717.4 1059.8L717.8 1052.0L718.2 1044.8L718.6 1038.7L719.0 1034.3L719.4 1032.6L719.8 1033.7L720.2 1037.5L720.6 1043.2L721.0 1050.0L721.4 1057.3L721.8 1064.9L722.2 1072.5L722.6 1080.2L723.0 1087.8L723.4 1095.5L723.8 1103.2L724.2 1110.8L724.6 1118.2L725.0 1125.4L725.4 1131.7L725.8 1136.6L726.2 1139.3L726.6 1139.3L727.0 1136.6L727.4 1131.8L727.8 1125.5L728.2 1118.4L728.6 1110.8L729.0 1103.0L729.4 1095.0L729.8 1086.9L730.2 1078.9L730.6 1070.8L731.0 1062.9L731.4 1055.3L731.8 1048.0L732.2 1041.5L732.6 1036.4L733.0 1033.4L733.4 1033.2L733.8 1035.8L734.2 1040.7L734.6 1047.2L735.0 1054.5L735.4 1062.2L735.8 1070.0L736.2 1077.8L736.6 1085.6L737.0 1093.3L737.4 1101.1L737.8 1108.8L738.2 1116.5L738.6 1124.2L739.0 1131.6L739.4 1138.6L739.8 1144.6L740.2 1149.3L740.6 1152.4L741.0 1154.2L741.4 1154.8L741.8 1154.6L742.2 1154.0L742.6 1153.0L743.0 1151.8L743.4 1150.4L743.8 1149.1L744.2 1147.9L744.6 1146.9L745.0 1146.2L745.4 1145.9L745.8 1146.1L746.2 1146.6L746.6 1147.6L747.0 1149.0L747.4 1150.6L747.8 1152.4L748.2 1154.3L748.6 1156.2L749.0 1158.1L749.4 1160.0L749.8 1161.7L750.2 1163.3L750.6 1164.9L751.0 1166.3L751.4 1167.7L751.8 1169.0L752.2 1170.2L752.6 1171.4L753.0 1172.5L753.4 1173.5L753.8 1174.5L754.2 1175.2L754.6 1175.8L755.0 1176.3L755.4 1176.5L755.8 1176.5L756.2 1176.3L756.6 1175.9L757.0 1175.4L757.4 1174.6L757.8 1173.8L758.2 1172.8L758.6 1171.8L759.0 1170.7L759.4 1169.5L759.8 1168.3L760.2 1167.0L760.6 1165.6L761.0 1164.1L761.4 1162.5L761.8 1160.7L762.2 1158.8L762.6 1156.8L763.0 1154.7L763.4 1152.6L763.8 1150.4L764.2 1148.5L764.6 1146.7L765.0 1145.3L765.4 1144.3L765.8 1143.8L766.2 1143.7L766.6 1144.0L767.0 1144.7L767.4 1145.7L767.8 1146.9L768.2 1148.1L768.6 1149.3L769.0 1150.3L769.4 1151.0L769.8 1151.3L770.2 1151.0L770.6 1149.8L771.0 1147.3L771.4 1143.0L771.8 1137.0L772.2 1129.4L772.6 1120.8L773.0 1111.7L773.4 1102.2L773.8 1092.7L774.2 1083.2L774.6 1073.5L775.0 1063.9L775.4 1054.1L775.8 1044.3L776.2 1034.4L776.6 1024.7L777.0 1015.4L777.4 1007.2L777.8 1001.1L778.2 998.0L778.6 998.5L779.0 1002.4L779.4 1008.9L779.8 1017.2L780.2 1026.3L780.6 1036.0L781.0 1045.9L781.4 1055.9L781.8 1065.9L782.2 1075.8L782.6 1085.6L783.0 1095.2L783.4 1104.4L783.8 1112.9L784.2 1120.5L784.6 1126.3L785.0 1129.4L785.4 1129.4L785.8 1126.2L786.2 1120.5L786.6 1113.2L787.0 1105.1L787.4 1096.5L787.8 1087.9L788.2 1079.2L788.6 1070.5L789.0 1061.7L789.4 1052.9L789.8 1044.1L790.2 1035.4L790.6 1026.8L791.0 1018.9L791.4 1012.4L791.8 1008.1L792.2 1006.8L792.6 1008.9L793.0 1013.9L793.4 1020.9L793.8 1029.2L794.2 1038.2L794.6 1047.5L795.0 1057.0L795.4 1066.6L795.8 1076.2L796.2 1085.8L796.6 1095.3L797.0 1104.7L797.4 1113.8L797.8 1122.4L798.2 1130.3L798.6 1137.1L799.0 1142.2L799.4 1145.6L799.8 1147.3L800.2 1147.8L800.6 1147.6L801.0 1146.9L801.4 1146.2L801.8 1145.4L802.2 1144.6L802.6 1144.0L803.0 1143.5L803.4 1143.2L803.8 1143.1L804.2 1143.2L804.6 1143.5L805.0 1143.9L805.4 1144.5L805.8 1145.2L806.2 1146.0L806.6 1147.0L807.0 1148.1L807.4 1149.3L807.8 1150.6L808.2 1152.1L808.6 1153.7L809.0 1155.5L809.4 1157.2L809.8 1159.1L810.2 1160.8L810.6 1162.5L811.0 1164.1L811.4 1165.5L811.8 1166.7L812.2 1167.6L812.6 1168.3L813.0 1168.8L813.4 1169.0L813.8 1168.9L814.2 1168.7L814.6 1168.4L815.0 1168.0L815.4 1167.5L815.8 1167.0L816.2 1166.6L816.6 1166.1L817.0 1165.7L817.4 1165.3L817.8 1164.8L818.2 1164.3L818.6 1163.6L819.0 1162.7L819.4 1161.6L819.8 1160.3L820.2 1158.6L820.6 1156.7L821.0 1154.6L821.4 1152.4L821.8 1150.1L822.2 1147.8L822.6 1145.8L823.0 1144.1L823.4 1142.7L823.8 1141.8L824.2 1141.4L824.6 1141.4L825.0 1141.8L825.4 1142.5L825.8 1143.4L826.2 1144.4L826.6 1145.2L827.0 1146.0L827.4 1146.5L827.8 1146.8L828.2 1146.9L828.6 1146.7L829.0 1146.1L829.4 1145.0L829.8 1143.0L830.2 1139.8L830.6 1135.0L831.0 1128.5L831.4 1120.8L831.8 1112.2L832.2 1103.1L832.6 1093.7L833.0 1084.1L833.4 1074.2L833.8 1063.9L834.2 1053.4L834.6 1042.7L835.0 1031.7L835.4 1020.7L835.8 1009.9L836.2 999.9L836.6 991.6L837.0 985.9L837.4 984.0L837.8 986.1L838.2 991.8L838.6 1000.0L839.0 1009.8L839.4 1020.4L839.8 1031.3L840.2 1042.1L840.6 1052.9L841.0 1063.3L841.4 1073.5L841.8 1083.3L842.2 1092.6L842.6 1101.6L843.0 1110.1L843.4 1117.6L843.8 1123.7L844.2 1127.4L844.6 1128.1L845.0 1125.8L845.4 1120.8L845.8 1114.1L846.2 1106.3L846.6 1097.9L847.0 1089.2L847.4 1080.3L847.8 1071.0L848.2 1061.5L848.6 1051.6L849.0 1041.5L849.4 1031.2L849.8 1020.9L850.2 1010.9L850.6 1001.8L851.0 994.6L851.4 990.2L851.8 989.5L852.2 992.7L852.6 999.1L853.0 1007.8L853.4 1017.8L853.8 1028.4L854.2 1039.3L854.6 1050.1L855.0 1060.8L855.4 1071.2L855.8 1081.3L856.2 1091.1L856.6 1100.5L857.0 1109.5L857.4 1118.0L857.8 1125.7L858.2 1132.3L858.6 1137.4L859.0 1140.8L859.4 1142.7L859.8 1143.7L860.2 1144.2L860.6 1144.4L861.0 1144.5L861.4 1144.6L861.8 1144.5L862.2 1144.4L862.6 1144.2L863.0 1144.0L863.4 1143.7L863.8 1143.4L864.2 1143.3L864.6 1143.3L865.0 1143.6L865.4 1144.1L865.8 1145.0L866.2 1146.3L866.6 1147.8L867.0 1149.5L867.4 1151.5L867.8 1153.5L868.2 1155.5L868.6 1157.5L869.0 1159.2L869.4 1160.7L869.8 1162.0L870.2 1162.9L870.6 1163.6L871.0 1164.0L871.4 1164.2L871.8 1164.2L872.2 1164.2L872.6 1164.1L873.0 1163.9L873.4 1163.9L873.8 1163.8L874.2 1163.9L874.6 1164.0L875.0 1164.1L875.4 1164.1L875.8 1164.1L876.2 1163.9L876.6 1163.5L877.0 1162.9L877.4 1162.1L877.8 1160.9L878.2 1159.5L878.6 1157.8L879.0 1156.0L879.4 1154.0L879.8 1152.0L880.2 1150.0L880.6 1148.2L881.0 1146.7L881.4 1145.3L881.8 1144.3L882.2 1143.6L882.6 1143.2L883.0 1143.0L883.4 1143.0L883.8 1143.1L884.2 1143.3L884.6 1143.4L885.0 1143.5L885.4 1143.5L885.8 1143.4L886.2 1143.3L886.6 1143.1L887.0 1142.8L887.4 1142.3L887.8 1141.5L888.2 1139.7L888.6 1136.7L889.0 1131.9L889.4 1125.3L889.8 1117.2L890.2 1108.0L890.6 1098.2L891.0 1087.8L891.4 1077.0L891.8 1065.9L892.2 1054.3L892.6 1042.5L893.0 1030.5L893.4 1018.4L893.8 1006.4L894.2 994.8L894.6 984.3L895.0 975.8L895.4 970.3L895.8 968.9L896.2 971.8L896.6 978.5L897.0 987.7L897.4 998.5L897.8 1009.8L898.2 1021.3L898.6 1032.6L899.0 1043.7L899.4 1054.5L899.8 1065.0L900.2 1075.2L900.6 1085.0L901.0 1094.6L901.4 1103.6L901.8 1111.7L902.2 1118.0L902.6 1121.6L903.0 1121.8L903.4 1118.7L903.8 1112.9L904.2 1105.4L904.6 1096.9L905.0 1087.7L905.4 1078.2L905.8 1068.2L906.2 1057.9L906.6 1047.2L907.0 1036.3L907.4 1025.2L907.8 1014.1L908.2 1003.3L908.6 993.3L909.0 985.0L909.4 979.3L909.8 977.4L910.2 979.7L910.6 985.8L911.0 994.5L911.4 1004.8L911.8 1015.9L912.2 1027.2L912.6 1038.4L913.0 1049.5L913.4 1060.2L913.8 1070.6L914.2 1080.7L914.6 1090.6L915.0 1100.1L915.4 1109.4L915.8 1118.0L916.2 1125.8L916.6 1132.2L917.0 1136.9L917.4 1140.1L917.8 1142.0L918.2 1143.2L918.6 1143.9L919.0 1144.4L919.4 1144.6L919.8 1144.5L920.2 1144.3L920.6 1143.9L921.0 1143.4L921.4 1142.8L921.8 1142.2L922.2 1141.8L922.6 1141.6L923.0 1141.6L923.4 1142.0L923.8 1142.8L924.2 1143.9L924.6 1145.2L925.0 1146.8L925.4 1148.5L925.8 1150.2L926.2 1151.9L926.6 1153.4L927.0 1154.6L927.4 1155.7L927.8 1156.4L928.2 1156.9L928.6 1157.2L929.0 1157.4L929.4 1157.4L929.8 1157.4L930.2 1157.4L930.6 1157.4L931.0 1157.5L931.4 1157.8L931.8 1158.0L932.2 1158.4L932.6 1158.7L933.0 1159.0L933.4 1159.2L933.8 1159.2L934.2 1159.1L934.6 1158.7L935.0 1158.2L935.4 1157.4L935.8 1156.3L936.2 1155.2L936.6 1153.9L937.0 1152.6L937.4 1151.3L937.8 1150.0L938.2 1148.9L938.6 1147.8L939.0 1147.0L939.4 1146.3L939.8 1145.7L940.2 1145.3L940.6 1144.9L941.0 1144.6L941.4 1144.3L941.8 1143.9L942.2 1143.5L942.6 1143.1L943.0 1142.7L943.4 1142.3L943.8 1142.0L944.2 1141.7L944.6 1141.6L945.0 1141.5L945.4 1141.5L945.8 1141.5L946.2 1141.3L946.6 1140.4L947.0 1138.4L947.4 1134.7L947.8 1129.0L948.2 1121.3L948.6 1112.2L949.0 1102.2L949.4 1091.5L949.8 1080.4L950.2 1068.9L950.6 1057.2L951.0 1045.4L951.4 1033.4L951.8 1021.5L952.2 1009.8L952.6 998.4L953.0 987.8L953.4 978.7L953.8 972.0L954.2 968.8L954.6 969.7L955.0 974.5L955.4 982.3L955.8 991.9L956.2 1002.5L956.6 1013.3L957.0 1024.2L957.4 1034.9L957.8 1045.4L958.2 1055.8L958.6 1066.0L959.0 1076.0L959.4 1085.6L959.8 1094.4L960.2 1101.7L960.6 1106.7L961.0 1108.6L961.4 1107.1L961.8 1102.7L962.2 1096.0L962.6 1087.7L963.0 1078.6L963.4 1068.8L963.8 1058.5L964.2 1047.9L964.6 1037.1L965.0 1026.1L965.4 1015.1L965.8 1004.5L966.2 994.6L966.6 986.1L967.0 980.2L967.4 977.7L967.8 979.3L968.2 984.6L968.6 992.8L969.0 1002.8L969.4 1013.6L969.8 1024.7L970.2 1035.7L970.6 1046.5L971.0 1057.1L971.4 1067.4L971.8 1077.5L972.2 1087.3L972.6 1096.9L973.0 1106.3L973.4 1115.2L973.8 1123.4L974.2 1130.4L974.6 1135.8L975.0 1139.6L975.4 1142.0L975.8 1143.6L976.2 1144.5L976.6 1145.1L977.0 1145.5L977.4 1145.5L977.8 1145.4L978.2 1145.0L978.6 1144.5L979.0 1143.9L979.4 1143.3L979.8 1142.9L980.2 1142.6L980.6 1142.6L981.0 1142.9L981.4 1143.5L981.8 1144.3L982.2 1145.4L982.6 1146.7L983.0 1148.1L983.4 1149.4L983.8 1150.6L984.2 1151.7L984.6 1152.6L985.0 1153.2L985.4 1153.7L985.8 1154.0L986.2 1154.1L986.6 1154.1L987.0 1154.1L987.4 1154.2L987.8 1154.2L988.2 1154.4L988.6 1154.7L989.0 1155.1L989.4 1155.5L989.8 1156.0L990.2 1156.4L990.6 1156.8L991.0 1157.0L991.4 1157.1L991.8 1157.0L992.2 1156.7L992.6 1156.1L993.0 1155.5L993.4 1154.6L993.8 1153.7L994.2 1152.8L994.6 1151.9L995.0 1151.1L995.4 1150.3L995.8 1149.7L996.2 1149.1L996.6 1148.7L997.0 1148.3L997.4 1148.0L997.8 1147.6L998.2 1147.3L998.6 1146.8L999.0 1146.3L999.4 1145.7L999.8 1145.1L1000.2 1144.5L1000.6 1143.9L1001.0 1143.4L1001.4 1143.0L1001.8 1142.7L1002.2 1142.6L1002.6 1142.7L1003.0 1142.9L1003.4 1143.1L1003.8 1143.4L1004.2 1143.5L1004.6 1143.3L1005.0 1142.3L1005.4 1139.9L1005.8 1135.7L1006.2 1129.3L1006.6 1121.1L1007.0 1111.4L1007.4 1100.9L1007.8 1089.9L1008.2 1078.6L1008.6 1067.1L1009.0 1055.6L1009.4 1044.1L1009.8 1032.6L1010.2 1021.1L1010.6 1009.9L1011.0 998.9L1011.4 988.7L1011.8 979.8L1012.2 973.2L1012.6 970.0L1013.0 970.8L1013.4 975.3L1013.8 982.8L1014.2 992.1L1014.6 1002.3L1015.0 1012.9L1015.4 1023.6L1015.8 1034.4L1016.2 1045.2L1016.6 1055.9L1017.0 1066.5L1017.4 1077.0L1017.8 1087.2L1018.2 1096.7L1018.6 1104.8L1019.0 1110.4L1019.4 1112.7L1019.8 1111.3L1020.2 1106.5L1020.6 1099.0L1021.0 1089.8L1021.4 1079.6L1021.8 1068.8L1022.2 1057.7L1022.6 1046.3L1023.0 1034.8L1023.4 1023.4L1023.8 1012.0L1024.2 1000.9L1024.6 990.3L1025.0 980.9L1025.4 973.4L1025.8 969.0L1026.2 968.5L1026.6 972.1L1027.0 979.1L1027.4 988.5L1027.8 999.2L1028.2 1010.4L1028.6 1021.7L1029.0 1032.9L1029.4 1044.1L1029.8 1055.1L1030.2 1066.1L1030.6 1077.0L1031.0 1087.8L1031.4 1098.5L1031.8 1109.0L1032.2 1118.8L1032.6 1127.5L1033.0 1134.5L1033.4 1139.5L1033.8 1142.7L1034.2 1144.5L1034.6 1145.4L1035.0 1145.7L1035.4 1145.6L1035.8 1145.3L1036.2 1144.8L1036.6 1144.3L1037.0 1143.8L1037.4 1143.4L1037.8 1143.1L1038.2 1143.1L1038.6 1143.4L1039.0 1143.9L1039.4 1144.7L1039.8 1145.7L1040.2 1146.8L1040.6 1148.0L1041.0 1149.1L1041.4 1150.2L1041.8 1151.2L1042.2 1151.9L1042.6 1152.6L1043.0 1153.0L1043.4 1153.4L1043.8 1153.6L1044.2 1153.9L1044.6 1154.1L1045.0 1154.5L1045.4 1154.9L1045.8 1155.3L1046.2 1155.9L1046.6 1156.5L1047.0 1157.1L1047.4 1157.7L1047.8 1158.2L1048.2 1158.6L1048.6 1158.8L1049.0 1158.9L1049.4 1158.7L1049.8 1158.4L1050.2 1157.9L1050.6 1157.2L1051.0 1156.6L1051.4 1155.9L1051.8 1155.2L1052.2 1154.6L1052.6 1154.0L1053.0 1153.6L1053.4 1153.2L1053.8 1152.9L1054.2 1152.6L1054.6 1152.3L1055.0 1151.9L1055.4 1151.4L1055.8 1150.8L1056.2 1150.1L1056.6 1149.2L1057.0 1148.3L1057.4 1147.4L1057.8 1146.6L1058.2 1145.8L1058.6 1145.2L1059.0 1144.8L1059.4 1144.7L1059.8 1144.7L1060.2 1145.0L1060.6 1145.4L1061.0 1145.9L1061.4 1146.5L1061.8 1146.9L1062.2 1147.1L1062.6 1147.0L1063.0 1146.2L1063.4 1144.4L1063.8 1141.0L1064.2 1135.8L1064.6 1129.0L1065.0 1120.8L1065.4 1111.7L1065.8 1102.3L1066.2 1092.6L1066.6 1082.9L1067.0 1073.2L1067.4 1063.4L1067.8 1053.7L1068.2 1044.0L1068.6 1034.3L1069.0 1024.8L1069.4 1015.6L1069.8 1007.1L1070.2 1000.3L1070.6 996.0L1071.0 995.0L1071.4 997.5L1071.8 1002.9L1072.2 1010.4L1072.6 1019.0L1073.0 1028.3L1073.4 1037.9L1073.8 1047.6L1074.2 1057.4L1074.6 1067.2L1075.0 1076.9L1075.4 1086.6L1075.8 1096.0L1076.2 1105.1L1076.6 1113.2L1077.0 1119.9L1077.4 1124.1L1077.8 1125.2L1078.2 1123.1L1078.6 1118.2L1079.0 1111.4L1079.4 1103.6L1079.8 1095.2L1080.2 1086.7L1080.6 1078.0L1081.0 1069.3L1081.4 1060.6L1081.8 1052.0L1082.2 1043.5L1082.6 1035.1L1083.0 1027.1L1083.4 1019.9L1083.8 1014.2L1084.2 1010.7L1084.6 1010.3L1085.0 1012.9L1085.4 1018.2L1085.8 1025.3L1086.2 1033.4L1086.6 1042.0L1087.0 1050.8L1087.4 1059.7L1087.8 1068.6L1088.2 1077.6L1088.6 1086.6L1089.0 1095.6L1089.4 1104.6L1089.8 1113.4L1090.2 1121.9L1090.6 1129.8L1091.0 1136.6L1091.4 1141.9L1091.8 1145.5L1092.2 1147.5L1092.6 1148.4L1093.0 1148.5L1093.4 1148.3L1093.8 1147.9L1094.2 1147.5L1094.6 1147.1L1095.0 1146.8L1095.4 1146.7L1095.8 1146.8L1096.2 1147.1L1096.6 1147.7L1097.0 1148.4L1097.4 1149.3L1097.8 1150.2L1098.2 1151.2L1098.6 1152.0L1099.0 1152.8L1099.4 1153.5L1099.8 1154.1L1100.2 1154.5L1100.6 1154.9L1101.0 1155.2L1101.4 1155.4L1101.8 1155.8L1102.2 1156.1L1102.6 1156.6L1103.0 1157.2L1103.4 1157.8L1103.8 1158.4L1104.2 1159.1L1104.6 1159.8L1105.0 1160.3L1105.4 1160.8L1105.8 1161.1L1106.2 1161.2L1106.6 1161.1L1107.0 1160.9L1107.4 1160.5L1107.8 1160.0L1108.2 1159.5L1108.6 1159.0L1109.0 1158.5L1109.4 1158.2L1109.8 1157.9L1110.2 1157.7L1110.6 1157.7L1111.0 1157.6L1111.4 1157.6L1111.8 1157.6L1112.2 1157.5L1112.6 1157.3L1113.0 1156.9L1113.4 1156.4L1113.8 1155.8L1114.2 1155.0L1114.6 1154.2L1115.0 1153.4L1115.4 1152.6L1115.8 1152.0L1116.2 1151.6L1116.6 1151.4L1117.0 1151.4L1117.4 1151.6L1117.8 1152.0L1118.2 1152.5L1118.6 1153.1L1119.0 1153.7L1119.4 1154.2L1119.8 1154.4L1120.2 1154.4L1120.6 1153.7L1121.0 1152.2L1121.4 1149.5L1121.8 1145.5L1122.2 1140.5L1122.6 1134.7L1123.0 1128.4L1123.4 1122.0L1123.8 1115.6L1124.2 1109.2L1124.6 1102.8L1125.0 1096.5L1125.4 1090.1L1125.8 1083.8L1126.2 1077.5L1126.6 1071.3L1127.0 1065.3L1127.4 1060.0L1127.8 1056.0L1128.2 1053.8L1128.6 1054.0L1129.0 1056.4L1129.4 1060.6L1129.8 1065.9L1130.2 1071.9L1130.6 1078.3L1131.0 1084.9L1131.4 1091.7L1131.8 1098.5L1132.2 1105.3L1132.6 1112.1L1133.0 1118.9L1133.4 1125.5L1133.8 1131.8L1134.2 1137.6L1134.6 1142.8L1135.0 1146.8L1135.4 1149.4L1135.8 1150.3L1136.2 1149.4L1136.6 1146.9L1137.0 1143.2L1137.4 1138.5L1137.8 1133.4L1138.2 1128.0L1138.6 1122.6L1139.0 1117.2L1139.4 1111.7L1139.8 1106.3L1140.2 1100.8L1140.6 1095.2L1141.0 1089.5L1141.4 1083.7L1141.8 1078.1L1142.2 1072.8L1142.6 1068.3L1143.0 1065.3L1143.4 1064.3L1143.8 1065.6L1144.2 1068.8L1144.6 1073.5L1145.0 1079.1L1145.4 1085.2L1145.8 1091.5L1146.2 1098.1L1146.6 1104.7L1147.0 1111.3L1147.4 1117.9L1147.8 1124.4L1148.2 1130.6L1148.6 1136.6L1149.0 1142.3L1149.4 1147.4L1149.8 1151.7L1150.2 1155.0L1150.6 1157.2L1151.0 1158.3L1151.4 1158.8L1151.8 1159.0L1152.2 1159.0L1152.6 1159.0L1153.0 1159.2L1153.4 1159.4L1153.8 1159.8L1154.2 1160.2L1154.6 1160.7L1155.0 1161.2L1155.4 1161.7L1155.8 1162.1L1156.2 1162.5L1156.6 1162.8L1157.0 1163.0L1157.4 1163.2L1157.8 1163.3L1158.2 1163.5L1158.6 1163.7L1159.0 1164.0L1159.4 1164.4L1159.8 1164.9L1160.2 1165.5L1160.6 1166.2L1161.0 1167.0L1161.4 1167.8L1161.8 1168.5L1162.2 1169.2L1162.6 1169.7L1163.0 1170.1L1163.4 1170.4L1163.8 1170.5L1164.2 1170.4L1164.6 1170.2L1165.0 1170.0L1165.4 1169.7L1165.8 1169.4L1166.2 1169.2L1166.6 1169.1L1167.0 1169.0L1167.4 1169.1L1167.8 1169.2L1168.2 1169.4L1168.6 1169.6L1169.0 1169.9L1169.4 1170.0L1169.8 1170.0L1170.2 1169.9L1170.6 1169.6L1171.0 1169.2L1171.4 1168.6L1171.8 1167.9L1172.2 1167.2L1172.6 1166.4L1173.0 1165.8L1173.4 1165.2L1173.8 1164.8L1174.2 1164.6L1174.6 1164.6L1175.0 1164.7L1175.4 1165.1L1175.8 1165.5L1176.2 1166.0L1176.6 1166.5L1177.0 1166.9L1177.4 1167.2L1177.8 1167.3L1178.2 1167.3L1178.6 1167.1L1179.0 1166.7L1179.4 1166.0L1179.8 1164.7L1180.2 1162.9L1180.6 1160.3L1181.0 1157.1L1181.4 1153.5L1181.8 1149.7L1182.2 1145.8L1182.6 1141.9L1183.0 1137.9L1183.4 1133.8L1183.8 1129.6L1184.2 1125.3L1184.6 1120.8L1185.0 1116.3L1185.4 1111.6L1185.8 1107.1L1186.2 1103.1L1186.6 1099.9L1187.0 1098.0L1187.4 1097.8L1187.8 1099.4L1188.2 1102.3L1188.6 1106.2L1189.0 1110.7L1189.4 1115.5L1189.8 1120.4L1190.2 1125.4L1190.6 1130.3L1191.0 1135.1L1191.4 1139.8L1191.8 1144.2L1192.2 1148.4L1192.6 1152.3L1193.0 1155.7L1193.4 1158.4L1193.8 1160.1L1194.2 1160.4L1194.6 1159.4L1195.0 1157.3L1195.4 1154.4L1195.8 1151.2L1196.2 1147.9L1196.6 1144.6L1197.0 1141.2L1197.4 1137.8L1197.8 1134.3L1198.2 1130.6L1198.6 1126.9L1199.0 1123.1L1199.4 1119.3L1199.8 1115.6L1200.2 1112.4L1200.6 1110.1L1201.0 1109.1L1201.4 1109.6L1201.8 1111.5L1202.2 1114.5L1202.6 1118.3L1203.0 1122.4L1203.4 1126.8L1203.8 1131.3L1204.2 1135.8L1204.6 1140.3L1205.0 1144.8L1205.4 1149.1L1205.8 1153.3L1206.2 1157.2L1206.6 1161.0L1207.0 1164.3L1207.4 1167.2L1207.8 1169.5L1208.2 1171.0L1208.6 1171.9L1209.0 1172.4L1209.4 1172.6L1209.8 1172.7L1210.2 1172.8L1210.6 1173.1L1211.0 1173.3L1211.4 1173.7L1211.8 1174.0L1212.2 1174.3L1212.6 1174.6L1213.0 1174.9L1213.4 1175.1L1213.8 1175.2L1214.2 1175.3L1214.6 1175.4L1215.0 1175.4L1215.4 1175.5L1215.8 1175.7L1216.2 1175.9L1216.6 1176.3L1217.0 1176.7L1217.4 1177.3L1217.8 1178.0L1218.2 1178.7L1218.6 1179.4L1219.0 1180.1L1219.4 1180.7L1219.8 1181.3L1220.2 1181.7L1220.6 1182.0L1221.0 1182.2L1221.4 1182.3L1221.8 1182.2L1222.2 1182.1L1222.6 1181.9L1223.0 1181.8L1223.4 1181.7L1223.8 1181.6L1224.2 1181.6L1224.6 1181.7L1225.0 1181.8L1225.4 1182.0L1225.8 1182.2L1226.2 1182.4L1226.6 1182.6L1227.0 1182.6L1227.4 1182.6L1227.8 1182.4L1228.2 1182.0L1228.6 1181.6L1229.0 1181.0L1229.4 1180.4L1229.8 1179.7L1230.2 1179.1L1230.6 1178.5L1231.0 1178.1L1231.4 1177.8L1231.8 1177.6L1232.2 1177.6L1232.6 1177.8L1233.0 1178.0L1233.4 1178.4L1233.8 1178.7L1234.2 1179.1L1234.6 1179.4L1235.0 1179.6L1235.4 1179.7L1235.8 1179.7L1236.2 1179.6L1236.6 1179.5L1237.0 1179.2L1237.4 1179.0L1237.8 1178.6L1238.2 1177.9L1238.6 1176.9L1239.0 1175.5L1239.4 1173.8L1239.8 1171.7L1240.2 1169.5L1240.6 1167.2L1241.0 1164.7L1241.4 1162.2L1241.8 1159.5L1242.2 1156.6L1242.6 1153.7L1243.0 1150.6L1243.4 1147.4L1243.8 1144.3L1244.2 1141.3L1244.6 1138.7L1245.0 1136.8L1245.4 1135.8L1245.8 1135.9L1246.2 1137.2L1246.6 1139.4L1247.0 1142.2L1247.4 1145.3L1247.8 1148.5L1248.2 1151.7L1248.6 1154.9L1249.0 1157.9L1249.4 1160.8L1249.8 1163.6L1250.2 1166.2L1250.6 1168.7L1251.0 1171.1L1251.4 1173.3L1251.8 1175.3L1252.2 1177.0L1252.6 1178.3L1253.0 1179.1L1253.4 1179.5L1253.8 1179.3L1254.2 1178.6L1254.6 1177.4L1255.0 1175.8L1255.4 1173.9L1255.8 1171.8L1256.2 1169.4L1256.6 1166.9L1257.0 1164.3L1257.4 1161.5L1257.8 1158.6L1258.2 1155.7L1258.6 1152.8L1259.0 1149.9L1259.4 1147.1L1259.8 1144.6L1260.2 1142.6L1260.6 1141.4L1261.0 1141.1L1261.4 1141.9L1261.8 1143.7L1262.2 1146.2L1262.6 1149.0L1263.0 1151.9L1263.4 1154.9L1263.8 1157.8L1264.2 1160.5L1264.6 1163.2L1265.0 1165.8L1265.4 1168.3L1265.8 1170.7L1266.2 1173.2L1266.6 1175.5L1267.0 1177.8L1267.4 1179.9L1267.8 1181.7L1268.2 1183.1L1268.6 1184.1L1269.0 1184.8L1269.4 1185.2L1269.8 1185.5L1270.2 1185.6L1270.6 1185.6L1271.0 1185.6L1271.4 1185.5L1271.8 1185.3L1272.2 1185.1L1272.6 1185.0L1273.0 1184.9L1273.4 1184.9L1273.8 1185.1L1274.2 1185.4L1274.6 1185.9L1275.0 1186.4L1275.4 1187.1L1275.8 1187.8L1276.2 1188.5L1276.6 1189.2L1277.0 1189.9L1277.4 1190.4L1277.8 1190.9L1278.2 1191.2L1278.6 1191.4L1279.0 1191.5L1279.4 1191.6L1279.8 1191.6L1280.2 1191.6L1280.6 1191.6L1281.0 1191.6L1281.4 1191.7L1281.8 1191.9L1282.2 1192.1L1282.6 1192.3L1283.0 1192.6L1283.4 1192.8L1283.8 1193.0L1284.2 1193.2L1284.6 1193.2L1285.0 1193.2L1285.4 1193.1L1285.8 1192.8L1286.2 1192.5L1286.6 1192.1L1287.0 1191.7L1287.4 1191.2L1287.8 1190.8L1288.2 1190.4L1288.6 1190.1L1289.0 1189.8L1289.4 1189.7L1289.8 1189.6L1290.2 1189.5L1290.6 1189.6L1291.0 1189.6L1291.4 1189.7L1291.8 1189.7L1292.2 1189.7L1292.6 1189.7L1293.0 1189.6L1293.4 1189.6L1293.8 1189.5L1294.2 1189.4L1294.6 1189.4L1295.0 1189.4L1295.4 1189.4L1295.8 1189.4L1296.2 1189.3L1296.6 1188.9L1297.0 1188.4L1297.4 1187.5L1297.8 1186.3L1298.2 1185.0L1298.6 1183.5L1299.0 1181.8L1299.4 1180.1L1299.8 1178.2L1300.2 1176.2L1300.6 1174.1L1301.0 1172.0L1301.4 1169.9L1301.8 1167.8L1302.2 1165.8L1302.6 1164.1L1303.0 1162.8L1303.4 1162.1L1303.8 1162.0L1304.2 1162.8L1304.6 1164.2L1305.0 1166.0L1305.4 1168.0L1305.8 1170.1L1306.2 1172.1L1306.6 1174.1L1307.0 1176.0L1307.4 1177.9L1307.8 1179.6L1308.2 1181.3L1308.6 1182.9L1309.0 1184.5L1309.4 1186.1L1309.8 1187.6L1310.2 1189.0L1310.6 1190.1L1311.0 1190.8L1311.4 1191.0L1311.8 1190.9L1312.2 1190.3L1312.6 1189.3L1313.0 1188.1L1313.4 1186.7L1313.8 1185.2L1314.2 1183.5L1314.6 1181.7L1315.0 1179.9L1315.4 1178.0L1315.8 1176.1L1316.2 1174.2L1316.6 1172.3L1317.0 1170.6L1317.4 1169.0L1317.8 1167.7L1318.2 1166.9L1318.6 1166.7L1319.0 1167.1L1319.4 1168.2L1319.8 1169.7L1320.2 1171.5L1320.6 1173.4L1321.0 1175.3L1321.4 1177.1L1321.8 1178.9L1322.2 1180.6L1322.6 1182.3L1323.0 1184.0L1323.4 1185.6L1323.8 1187.3L1324.2 1188.9L1324.6 1190.5L1325.0 1192.1L1325.4 1193.4L1325.8 1194.5L1326.2 1195.3L1326.6 1195.8L1327.0 1196.2L1327.4 1196.4L1327.8 1196.5L1328.2 1196.5L1328.6 1196.5L1329.0 1196.4L1329.4 1196.2L1329.8 1196.1L1330.2 1196.0L1330.6 1196.0L1331.0 1196.0L1331.4 1196.1L1331.8 1196.4L1332.2 1196.7L1332.6 1197.0L1333.0 1197.4L1333.4 1197.9L1333.8 1198.3L1334.2 1198.7L1334.6 1199.0L1335.0 1199.3L1335.4 1199.5L1335.8 1199.6L1336.2 1199.6L1336.6 1199.7L1337.0 1199.6L1337.4 1199.6L1337.8 1199.6L1338.2 1199.6L1338.6 1199.7L1339.0 1199.8L1339.4 1200.0L1339.8 1200.2L1340.2 1200.4L1340.6 1200.6L1341.0 1200.8L1341.4 1201.0L1341.8 1201.1L1342.2 1201.1L1342.6 1201.0L1343.0 1200.9L1343.4 1200.7L1343.8 1200.5L1344.2 1200.3L1344.6 1200.0L1345.0 1199.7L1345.4 1199.5L1345.8 1199.3L1346.2 1199.1L1346.6 1199.0L1347.0 1199.0L1347.4 1199.0L1347.8 1199.0L1348.2 1199.0L1348.6 1199.0L1349.0 1199.0L1349.4 1198.9L1349.8 1198.9L1350.2 1198.8L1350.6 1198.7L1351.0 1198.6L1351.4 1198.5L1351.8 1198.5L1352.2 1198.5L1352.6 1198.5L1353.0 1198.6L1353.4 1198.7L1353.8 1198.8L1354.2 1198.8L1354.6 1198.6L1355.0 1198.2L1355.4 1197.6L1355.8 1196.8L1356.2 1195.8L1356.6 1194.7L1357.0 1193.5L1357.4 1192.3L1357.8 1190.9L1358.2 1189.6L1358.6 1188.2L1359.0 1186.8L1359.4 1185.4L1359.8 1184.1L1360.2 1182.9L1360.6 1181.9L1361.0 1181.2L1361.4 1180.9L1361.8 1181.1L1362.2 1181.7L1362.6 1182.7L1363.0 1183.8L1363.4 1185.1L1363.8 1186.4L1364.2 1187.6L1364.6 1188.8L1365.0 1190.0L1365.4 1191.1L1365.8 1192.2L1366.2 1193.2L1366.6 1194.3L1367.0 1195.4L1367.4 1196.5L1367.8 1197.6L1368.2 1198.5L1368.6 1199.2L1369.0 1199.5L1369.4 1199.6L1369.8 1199.2L1370.2 1198.6L1370.6 1197.7L1371.0 1196.7L1371.4 1195.6L1371.8 1194.4L1372.2 1193.1L1372.6 1191.8L1373.0 1190.5L1373.4 1189.1L1373.8 1187.8L1374.2 1186.6L1374.6 1185.4L1375.0 1184.3L1375.4 1183.4L1375.8 1182.8L1376.2 1182.6L1376.6 1182.8L1377.0 1183.4L1377.4 1184.4L1377.8 1185.6L1378.2 1186.8L1378.6 1188.1L1379.0 1189.3L1379.4 1190.5L1379.8 1191.7L1380.2 1192.9L1380.6 1194.0L1381.0 1195.2L1381.4 1196.4L1381.8 1197.6L1382.2 1198.8L1382.6 1199.9L1383.0 1200.9L1383.4 1201.7L1383.8 1202.2L1384.2 1202.6L1384.6 1202.7L1385.0 1202.7L1385.4 1202.6L1385.8 1202.5L1386.2 1202.3L1386.6 1202.0L1387.0 1201.8L1387.4 1201.5L1387.8 1201.4L1388.2 1201.3L1388.6 1201.3L1389.0 1201.5L1389.4 1201.7L1389.8 1202.1L1390.2 1202.5L1390.6 1203.0L1391.0 1203.5L1391.4 1204.1L1391.8 1204.6L1392.2 1205.0L1392.6 1205.4L1393.0 1205.8L1393.4 1206.1L1393.8 1206.3L1394.2 1206.5L1394.6 1206.7L1395.0 1206.8L1395.4 1207.0L1395.8 1207.2L1396.2 1207.4L1396.6 1207.6L1397.0 1207.8L1397.4 1208.0L1397.8 1208.2L1398.2 1208.4L1398.6 1208.5L1399.0 1208.6L1399.4 1208.7L1399.8 1208.6L1400.2 1208.5L1400.6 1208.4L1401.0 1208.2L1401.4 1208.0L1401.8 1207.7L1402.2 1207.4L1402.6 1207.2L1403.0 1206.9L1403.4 1206.7L1403.8 1206.4L1404.2 1206.2L1404.6 1206.0L1405.0 1205.8L1405.4 1205.6L1405.8 1205.4L1406.2 1205.2L1406.6 1205.0L1407.0 1204.8L1407.4 1204.6L1407.8 1204.4L1408.2 1204.3L1408.6 1204.2L1409.0 1204.2L1409.4 1204.3L1409.8 1204.4L1410.2 1204.6L1410.6 1204.8L1411.0 1205.1L1411.4 1205.4L1411.8 1205.7L1412.2 1206.0L1412.6 1206.2L1413.0 1206.2L1413.4 1206.0L1413.8 1205.7L1414.2 1205.2L1414.6 1204.6L1415.0 1203.9L1415.4 1203.1L1415.8 1202.3L1416.2 1201.5L1416.6 1200.8L1417.0 1200.0L1417.4 1199.3L1417.8 1198.6L1418.2 1197.9L1418.6 1197.3L1419.0 1196.8L1419.4 1196.3L1419.8 1196.1L1420.2 1196.0L1420.6 1196.2L1421.0 1196.7L1421.4 1197.2L1421.8 1197.9L1422.2 1198.5L1422.6 1199.2L1423.0 1199.9L1423.4 1200.6L1423.8 1201.3L1424.2 1202.0L1424.6 1202.7L1425.0 1203.5L1425.4 1204.3L1425.8 1205.1L1426.2 1205.8L1426.6 1206.5L1427.0 1207.1L1427.4 1207.5L1427.8 1207.7L1428.2 1207.6L1428.6 1207.4L1429.0 1206.9L1429.4 1206.3L1429.8 1205.6L1430.2 1204.8L1430.6 1204.0L1431.0 1203.2L1431.4 1202.4L1431.8 1201.7L1432.2 1201.0L1432.6 1200.2L1433.0 1199.6L1433.4 1198.9L1433.8 1198.2L1434.2 1197.6L1434.6 1197.1L1435.0 1196.7L1435.4 1196.6L1435.8 1196.7L1436.2 1197.1L1436.6 1197.7L1437.0 1198.4L1437.4 1199.1L1437.8 1199.9L1438.2 1200.8L1438.6 1201.6L1439.0 1202.5L1439.4 1203.4L1439.8 1204.3L1440.2 1205.3L1440.6 1206.2L1441.0 1207.0L1441.4 1207.8L1441.8 1208.5L1442.2 1209.0L1442.6 1209.4L1443.0 1209.5L1443.4 1209.5L1443.8 1209.4L1444.2 1209.3L1444.6 1209.1L1445.0 1209.0L1445.4 1208.9L1445.8 1208.8L1446.2 1208.8L1446.6 1208.8L1447.0 1209.0L1447.4 1209.2L1447.8 1209.4L1448.2 1209.7L1448.6 1210.0L1449.0 1210.4L1449.4 1210.7L1449.8 1211.0L1450.2 1211.3L1450.6 1211.5L1451.0 1211.8L1451.4 1212.0L1451.8 1212.2L1452.2 1212.4L1452.6 1212.6L1453.0 1212.8L1453.4 1213.0L1453.8 1213.2L1454.2 1213.4L1454.6 1213.6L1455.0 1213.8L1455.4 1214.0L1455.8 1214.1L1456.2 1214.2L1456.6 1214.3L1457.0 1214.3L1457.4 1214.3L1457.8 1214.2L1458.2 1214.1L1458.6 1214.0L1459.0 1213.9L1459.4 1213.8L1459.8 1213.6L1460.2 1213.5L1460.6 1213.4L1461.0 1213.2L1461.4 1213.1L1461.8 1213.0L1462.2 1212.8L1462.6 1212.7L1463.0 1212.5L1463.4 1212.3L1463.8 1212.1L1464.2 1211.8L1464.6 1211.6L1465.0 1211.3L1465.4 1211.1L1465.8 1210.9L1466.2 1210.8L1466.6 1210.7L1467.0 1210.7L1467.4 1210.8L1467.8 1210.9L1468.2 1211.1L1468.6 1211.3L1469.0 1211.5L1469.4 1211.8L1469.8 1212.0L1470.2 1212.1L1470.6 1212.2L1471.0 1212.1L1471.4 1211.9L1471.8 1211.6L1472.2 1211.2L1472.6 1210.7L1473.0 1210.2L1473.4 1209.7L1473.8 1209.2L1474.2 1208.7L1474.6 1208.2L1475.0 1207.8L1475.4 1207.3L1475.8 1206.9L1476.2 1206.5L1476.6 1206.1L1477.0 1205.8L1477.4 1205.6L1477.8 1205.5L1478.2 1205.6L1478.6 1205.8L1479.0 1206.1L1479.4 1206.5L1479.8 1206.9L1480.2 1207.4L1480.6 1207.8L1481.0 1208.3L1481.4 1208.8L1481.8 1209.3L1482.2 1209.8L1482.6 1210.3L1483.0 1210.9L1483.4 1211.4L1483.8 1211.9L1484.2 1212.4L1484.6 1212.8L1485.0 1213.1L1485.4 1213.2L1485.8 1213.2L1486.2 1213.0L1486.6 1212.7L1487.0 1212.3L1487.4 1211.8L1487.8 1211.3L1488.2 1210.9L1488.6 1210.4L1489.0 1209.9L1489.4 1209.4L1489.8 1209.0L1490.2 1208.6L1490.6 1208.2L1491.0 1207.7L1491.4 1207.3L1491.8 1206.9L1492.2 1206.5L1492.6 1206.2L1493.0 1206.1L1493.4 1206.1L1493.8 1206.3L1494.2 1206.6L1494.6 1207.0L1495.0 1207.5L1495.4 1208.0L1495.8 1208.6L1496.2 1209.1L1496.6 1209.7L1497.0 1210.3L1497.4 1210.9L1497.8 1211.5L1498.2 1212.1L1498.6 1212.7L1499.0 1213.2L1499.4 1213.6L1499.8 1213.9L1500.2 1214.1L1500.6 1214.2L1501.0 1214.2L1501.4 1214.1L1501.8 1214.0L1502.2 1213.9L1502.6 1213.8L1503.0 1213.7L1503.4 1213.7L1503.8 1213.7L1504.2 1213.8L1504.6 1213.9L1505.0 1214.0L1505.4 1214.2L1505.8 1214.3L1506.2 1214.5L1506.6 1214.7L1507.0 1214.9L1507.4 1215.1L1507.8 1215.3L1508.2 1215.5L1508.6 1215.6L1509.0 1215.8L1509.4 1215.9L1509.8 1216.1L1510.2 1216.2L1510.6 1216.4L1511.0 1216.6L1511.4 1216.7L1511.8 1216.9L1512.2 1217.0L1512.6 1217.1L1513.0 1217.3L1513.4 1217.3L1513.8 1217.4L1514.2 1217.4L1514.6 1217.4L1515.0 1217.4L1515.4 1217.3L1515.8 1217.2L1516.2 1217.2L1516.6 1217.1L1517.0 1217.0L1517.4 1216.9L1517.8 1216.8L1518.2 1216.8L1518.6 1216.7L1519.0 1216.6L1519.4 1216.5L1519.8 1216.4L1520.2 1216.3L1520.6 1216.2L1521.0 1216.0L1521.4 1215.8L1521.8 1215.6L1522.2 1215.5L1522.6 1215.3L1523.0 1215.1L1523.4 1215.0L1523.8 1214.9L1524.2 1214.8L1524.6 1214.8L1525.0 1214.9L1525.4 1215.0L1525.8 1215.1L1526.2 1215.3L1526.6 1215.4L1527.0 1215.6L1527.4 1215.7L1527.8 1215.8L1528.2 1215.9L1528.6 1215.8L1529.0 1215.7L1529.4 1215.5L1529.8 1215.3L1530.2 1215.0L1530.6 1214.8L1531.0 1214.5L1531.4 1214.2L1531.8 1213.9L1532.2 1213.7L1532.6 1213.5L1533.0 1213.2L1533.4 1213.0L1533.8 1212.8L1534.2 1212.6L1534.6 1212.5L1535.0 1212.3L1535.4 1212.2L1535.8 1212.2L1536.2 1212.3L1536.6 1212.4L1537.0 1212.6L1537.4 1212.8L1537.8 1213.0L1538.2 1213.3L1538.6 1213.6L1539.0 1213.8L1539.4 1214.1L1539.8 1214.5L1540.2 1214.8L1540.6 1215.1L1541.0 1215.4L1541.4 1215.7L1541.8 1216.0L1542.2 1216.2L1542.6 1216.4L1543.0 1216.5L1543.4 1216.5L1543.8 1216.4L1544.2 1216.4L1544.6 1216.3L1545.0 1216.1L1545.4 1215.9L1545.8 1215.7L1546.2 1215.5L1546.6 1215.3L1547.0 1215.2L1547.4 1215.0L1547.8 1214.8L1548.2 1214.6L1548.6 1214.4L1549.0 1214.2L1549.4 1214.0L1549.8 1213.7L1550.2 1213.5L1550.6 1213.2L1551.0 1213.0L1551.4 1212.8L1551.8 1212.8L1552.2 1212.8L1552.6 1212.9L1553.0 1213.1L1553.4 1213.4L1553.8 1213.7L1554.2 1214.0L1554.6 1214.3L1555.0 1214.7L1555.4 1215.0L1555.8 1215.3L1556.2 1215.6L1556.6 1215.9L1557.0 1216.1L1557.4 1216.4L1557.8 1216.5L1558.2 1216.7L1558.6 1216.8L1559.0 1216.8L1559.4 1216.8L1559.8 1216.8L1560.2 1216.8L1560.6 1216.8L1561.0 1216.8L1561.4 1216.8L1561.8 1216.8L1562.2 1216.9L1562.6 1216.9L1563.0 1217.0L1563.4 1217.0L1563.8 1217.1L1564.2 1217.1L1564.6 1217.2L1565.0 1217.2L1565.4 1217.2L1565.8 1217.3L1566.2 1217.3L1566.6 1217.3L1567.0 1217.4L1567.4 1217.5L1567.8 1217.6L1568.2 1217.7L1568.6 1217.8L1569.0 1217.9L1569.4 1218.0L1569.8 1218.1L1570.2 1218.2L1570.6 1218.3L1571.0 1218.3L1571.4 1218.3L1571.8 1218.3L1572.2 1218.3L1572.6 1218.3L1573.0 1218.2L1573.4 1218.2L1573.8 1218.2L1574.2 1218.1L1574.6 1218.1L1575.0 1218.1L1575.4 1218.1L1575.8 1218.1L1576.2 1218.2L1576.6 1218.2L1577.0 1218.2L1577.4 1218.2L1577.8 1218.2L1578.2 1218.1L1578.6 1218.1L1579.0 1218.0L1579.4 1217.9L1579.8 1217.8L1580.2 1217.7L1580.6 1217.6L1581.0 1217.5L1581.4 1217.4L1581.8 1217.4L1582.2 1217.4L1582.6 1217.4L1583.0 1217.4L1583.4 1217.5L1583.8 1217.6L1584.2 1217.7L1584.6 1217.7L1585.0 1217.8L1585.4 1217.9L1585.8 1217.9L1586.2 1217.9L1586.6 1217.9L1587.0 1217.8L1587.4 1217.7L1587.8 1217.6L1588.2 1217.5L1588.6 1217.4L1589.0 1217.3L1589.4 1217.2L1589.8 1217.1L1590.2 1217.1L1590.6 1217.0L1591.0 1216.9L1591.4 1216.8L1591.8 1216.8L1592.2 1216.6L1592.6 1216.5L1593.0 1216.4L1593.4 1216.3L1593.8 1216.2L1594.2 1216.1L1594.6 1216.1L1595.0 1216.1L1595.4 1216.2L1595.8 1216.3L1596.2 1216.4L1596.6 1216.6L1597.0 1216.8L1597.4 1216.9L1597.8 1217.1L1598.2 1217.3L1598.6 1217.5L1599.0 1217.7L1599.4 1217.8L1599.8 1217.9L1600.2 1218.0L1600.6 1218.1L1601.0 1218.2L1601.4 1218.2L1601.8 1218.2L1602.2 1218.1L1602.6 1218.1L1603.0 1218.0L1603.4 1218.0L1603.8 1217.9L1604.2 1217.9L1604.6 1217.8L1605.0 1217.8L1605.4 1217.8L1605.8 1217.7L1606.2 1217.7L1606.6 1217.6L1607.0 1217.5L1607.4 1217.4L1607.8 1217.3L1608.2 1217.2L1608.6 1217.1L1609.0 1217.0L1609.4 1217.0L1609.8 1217.0L1610.2 1217.0L1610.6 1217.1L1611.0 1217.2L1611.4 1217.3L1611.8 1217.5L1612.2 1217.6L1612.6 1217.8L1613.0 1217.9L1613.4 1218.1L1613.8 1218.2L1614.2 1218.3L1614.6 1218.4L1615.0 1218.4L1615.4 1218.5L1615.8 1218.5L1616.2 1218.5L1616.6 1218.5L1617.0 1218.6L1617.4 1218.6L1617.8 1218.6L1618.2 1218.6L1618.6 1218.7L1619.0 1218.7L1619.4 1218.8L1619.8 1218.8L1620.2 1218.9L1620.6 1218.9L1621.0 1219.0L1621.4 1219.0L1621.8 1219.0L1622.2 1218.9L1622.6 1218.9L1623.0 1218.9L1623.4 1218.9L1623.8 1218.8L1624.2 1218.8L1624.6 1218.8L1625.0 1218.8L1625.4 1218.9L1625.8 1218.9L1626.2 1218.9L1626.6 1219.0L1627.0 1219.1L1627.4 1219.1L1627.8 1219.1L1628.2 1219.2L1628.6 1219.2L1629.0 1219.2L1629.4 1219.1L1629.8 1219.1L1630.2 1219.1L1630.6 1219.0L1631.0 1219.0L1631.4 1219.0L1631.8 1219.0L1632.2 1219.0L1632.6 1219.0L1633.0 1219.1L1633.4 1219.1L1633.8 1219.2L1634.2 1219.2L1634.6 1219.3L1635.0 1219.3L1635.4 1219.3L1635.8 1219.3L1636.2 1219.3L1636.6 1219.3L1637.0 1219.3L1637.4 1219.2L1637.8 1219.2L1638.2 1219.2L1638.6 1219.2L1639.0 1219.2L1639.4 1219.2L1639.8 1219.2L1640.2 1219.3L1640.6 1219.3L1641.0 1219.4L1641.4 1219.4L1641.8 1219.4" fill="none" stroke="#dd04fa" stroke-width="2.6" stroke-linejoin="round"/>
<rect x="73.0" y="947.0" width="1569.0" height="278.6" fill="none" stroke="#2a2a2a" stroke-width="1.9"/>
<path d="M211.1 1225.6v-15M211.1 947.0v15M441.9 1225.6v-15M441.9 947.0v15M672.6 1225.6v-15M672.6 947.0v15M903.4 1225.6v-15M903.4 947.0v15M1134.1 1225.6v-15M1134.1 947.0v15M1364.8 1225.6v-15M1364.8 947.0v15M1595.6 1225.6v-15M1595.6 947.0v15M73.0 1169.8h17M1642.0 1169.8h-17M73.0 1114.1h17M1642.0 1114.1h-17M73.0 1058.3h17M1642.0 1058.3h-17M73.0 1002.6h17M1642.0 1002.6h-17" stroke="#2a2a2a" stroke-width="1.6" fill="none"/>
<text x="204.1" y="1254.0" font-size="32" fill="#222" text-anchor="middle" font-family='"Liberation Serif", serif' >100</text>
<text x="434.9" y="1254.0" font-size="32" fill="#222" text-anchor="middle" font-family='"Liberation Serif", serif' >110</text>
<text x="665.6" y="1254.0" font-size="32" fill="#222" text-anchor="middle" font-family='"Liberation Serif", serif' >120</text>
<text x="896.4" y="1254.0" font-size="32" fill="#222" text-anchor="middle" font-family='"Liberation Serif", serif' >130</text>
<text x="1127.1" y="1254.0" font-size="32" fill="#222" text-anchor="middle" font-family='"Liberation Serif", serif' >140</text>
<text x="1357.8" y="1254.0" font-size="32" fill="#222" text-anchor="middle" font-family='"Liberation Serif", serif' >150</text>
<text x="1588.6" y="1254.0" font-size="32" fill="#222" text-anchor="middle" font-family='"Liberation Serif", serif' >160</text>
<text x="56.0" y="1237.7" font-size="32" fill="#222" text-anchor="end" font-family='"Liberation Serif", serif' >0</text>
<text x="56.0" y="1180.1" font-size="32" fill="#222" text-anchor="end" font-family='"Liberation Serif", serif' >1</text>
<text x="56.0" y="1124.4" font-size="32" fill="#222" text-anchor="end" font-family='"Liberation Serif", serif' >2</text>
<text x="56.0" y="1068.6" font-size="32" fill="#222" text-anchor="end" font-family='"Liberation Serif", serif' >3</text>
<text x="56.0" y="1012.9" font-size="32" fill="#222" text-anchor="end" font-family='"Liberation Serif", serif' >4</text>
<text x="56.0" y="951.3" font-size="32" fill="#222" text-anchor="end" font-family='"Liberation Serif", serif' >5</text>
<text x="855.5" y="1277.0" font-size="32.7" fill="#222" text-anchor="middle" font-family='"Liberation Serif", serif' >Photon Energy (eV)</text>
<text transform="translate(24.9 1083.5) rotate(-90)" font-size="32.7" fill="#222" text-anchor="middle" font-family='"Liberation Serif", serif'>X-Ray Intensity (arb.u.)</text>
<g fill="none" stroke="#707070" stroke-width="1"><circle cx="138.9" cy="1043.8" r="4.6"/><circle cx="153.3" cy="1043.8" r="4.6"/><circle cx="197.2" cy="1043.8" r="4.6"/><circle cx="211.6" cy="1043.8" r="4.6"/><circle cx="255.5" cy="1043.8" r="4.6"/><circle cx="269.9" cy="1043.8" r="4.6"/><circle cx="313.7" cy="1043.8" r="4.6"/><circle cx="328.1" cy="1043.8" r="4.6"/><circle cx="372.0" cy="1043.8" r="4.6"/><circle cx="386.4" cy="1043.8" r="4.6"/><circle cx="430.3" cy="1043.8" r="4.6"/><circle cx="444.7" cy="1043.8" r="4.6"/><circle cx="488.6" cy="1043.8" r="4.6"/><circle cx="503.0" cy="1043.8" r="4.6"/><circle cx="546.8" cy="1043.8" r="4.6"/><circle cx="561.2" cy="1043.8" r="4.6"/><circle cx="605.1" cy="1043.8" r="4.6"/><circle cx="619.5" cy="1043.8" r="4.6"/><circle cx="663.4" cy="1043.8" r="4.6"/><circle cx="677.8" cy="1043.8" r="4.6"/><circle cx="721.6" cy="1043.8" r="4.6"/><circle cx="736.0" cy="1043.8" r="4.6"/><circle cx="779.9" cy="1043.8" r="4.6"/><circle cx="794.3" cy="1043.8" r="4.6"/><circle cx="838.2" cy="1043.8" r="4.6"/><circle cx="852.6" cy="1043.8" r="4.6"/><circle cx="896.4" cy="1043.8" r="4.6"/><circle cx="910.8" cy="1043.8" r="4.6"/><circle cx="954.7" cy="1043.8" r="4.6"/><circle cx="969.1" cy="1043.8" r="4.6"/><circle cx="1013.0" cy="1043.8" r="4.6"/><circle cx="1027.4" cy="1043.8" r="4.6"/><circle cx="1071.3" cy="1043.8" r="4.6"/><circle cx="1085.7" cy="1043.8" r="4.6"/><circle cx="1129.5" cy="1043.8" r="4.6"/><circle cx="1143.9" cy="1043.8" r="4.6"/><circle cx="1187.8" cy="1043.8" r="4.6"/><circle cx="1202.2" cy="1043.8" r="4.6"/><circle cx="1246.1" cy="1043.8" r="4.6"/><circle cx="1260.5" cy="1043.8" r="4.6"/><circle cx="1304.3" cy="1043.8" r="4.6"/><circle cx="1318.7" cy="1043.8" r="4.6"/><circle cx="1362.6" cy="1043.8" r="4.6"/><circle cx="1377.0" cy="1043.8" r="4.6"/><circle cx="1420.9" cy="1043.8" r="4.6"/><circle cx="1435.3" cy="1043.8" r="4.6"/><circle cx="1479.1" cy="1043.8" r="4.6"/><circle cx="1493.5" cy="1043.8" r="4.6"/><circle cx="1537.4" cy="1043.8" r="4.6"/><circle cx="1551.8" cy="1043.8" r="4.6"/><circle cx="1595.7" cy="1043.8" r="4.6"/><circle cx="1610.1" cy="1043.8" r="4.6"/><circle cx="1654.0" cy="1043.8" r="4.6"/><circle cx="1668.4" cy="1043.8" r="4.6"/></g>
<use href="#ag" x="380.0" y="982.5"/>
<use href="#ag" x="436.3" y="982.5"/>
<use href="#ag" x="493.3" y="982.5"/>
<use href="#ag" x="551.0" y="982.5"/>
<use href="#ag" x="608.6" y="982.5"/>
<use href="#ag" x="666.3" y="982.5"/>
<use href="#ag" x="725.0" y="982.5"/>
<use href="#ag" x="784.9" y="982.5"/>
<text x="108.5" y="989.5" font-size="40.5" fill="#000" text-anchor="start" font-family='"Liberation Serif", serif' font-weight="bold">C</text>
<text x="1148.5" y="1012.5" font-size="36.3" fill="#dd04fa" text-anchor="start" font-family='"Liberation Serif", serif' >He 970 Torr</text>
<path d="M1419.3 997.7V1074M1477.6 997.7V1043M1434.4 1043V1074" stroke="#333" stroke-width="1.1" fill="none"/>
<path d="M1430 1007.4H1467" stroke="#111" stroke-width="2.6"/>
<path d="M1420.3 1007.4l17-7.5l-4 7.5l4 7.5zM1476.6 1007.4l-17-7.5l4 7.5l-4 7.5z" fill="#111"/>
<path d="M1422 1066.8H1432" stroke="#111" stroke-width="1.3"/>
<path d="M1420 1066.8l4.5-3v6zM1433.8 1066.8l-4.5-3v6z" fill="#111"/>
<text x="1405.5" y="986.5" font-size="31" fill="#111" font-family='"Liberation Serif", serif'>ω<tspan font-size="19" dy="10.5" dx="1.5">1</tspan><tspan dy="-10.5" dx="0.5" font-size="36">+</tspan><tspan dx="0"> ω</tspan><tspan font-size="19" dy="10.5" dx="1.5">2</tspan></text>
<text x="1392" y="1095" font-size="31" fill="#111" font-family='"Liberation Serif", serif'>ω<tspan font-size="19" dy="10.5" dx="3">1</tspan><tspan dy="-10.5" dx="1.5">- ω</tspan><tspan font-size="19" dy="10.5" dx="1.5">2</tspan></text>
</svg>
</body></html>
